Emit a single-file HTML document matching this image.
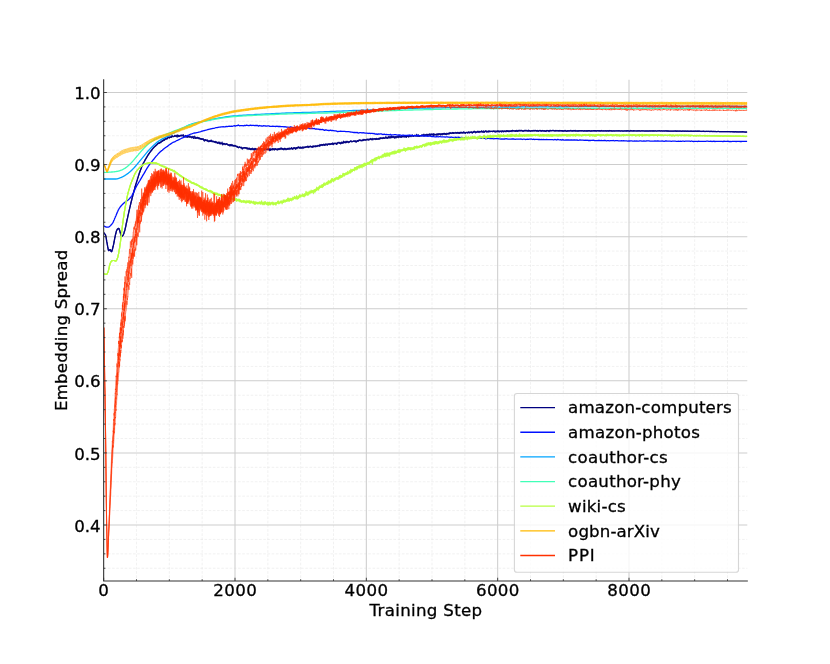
<!DOCTYPE html>
<html><head><meta charset="utf-8"><title>Embedding Spread</title>
<style>
html,body{margin:0;padding:0;background:#fff;}
svg{display:block;}
text{font-family:"DejaVu Sans","Liberation Sans",sans-serif;font-size:16.67px;fill:#000;stroke:#000;stroke-width:0.3px;}
.mg{stroke:#d8d8d8;stroke-width:0.7;stroke-dasharray:2.6 1.6;stroke-opacity:0.5;}
.Mg{stroke:#cdcdcd;stroke-width:1.05;}
.tk{stroke:#333;stroke-width:0.9;}
</style></head><body>
<svg width="830" height="664" viewBox="0 0 830 664">
<rect width="830" height="664" fill="#fff"/>
<g><line x1="136.49" y1="79.7" x2="136.49" y2="580.95" class="mg"/>
<line x1="169.33" y1="79.7" x2="169.33" y2="580.95" class="mg"/>
<line x1="202.16" y1="79.7" x2="202.16" y2="580.95" class="mg"/>
<line x1="267.83" y1="79.7" x2="267.83" y2="580.95" class="mg"/>
<line x1="300.66" y1="79.7" x2="300.66" y2="580.95" class="mg"/>
<line x1="333.50" y1="79.7" x2="333.50" y2="580.95" class="mg"/>
<line x1="399.17" y1="79.7" x2="399.17" y2="580.95" class="mg"/>
<line x1="432.00" y1="79.7" x2="432.00" y2="580.95" class="mg"/>
<line x1="464.83" y1="79.7" x2="464.83" y2="580.95" class="mg"/>
<line x1="530.50" y1="79.7" x2="530.50" y2="580.95" class="mg"/>
<line x1="563.34" y1="79.7" x2="563.34" y2="580.95" class="mg"/>
<line x1="596.17" y1="79.7" x2="596.17" y2="580.95" class="mg"/>
<line x1="661.84" y1="79.7" x2="661.84" y2="580.95" class="mg"/>
<line x1="694.67" y1="79.7" x2="694.67" y2="580.95" class="mg"/>
<line x1="727.51" y1="79.7" x2="727.51" y2="580.95" class="mg"/>
<line x1="103.66" y1="568.25" x2="747.3" y2="568.25" class="mg"/>
<line x1="103.66" y1="553.83" x2="747.3" y2="553.83" class="mg"/>
<line x1="103.66" y1="539.41" x2="747.3" y2="539.41" class="mg"/>
<line x1="103.66" y1="510.58" x2="747.3" y2="510.58" class="mg"/>
<line x1="103.66" y1="496.16" x2="747.3" y2="496.16" class="mg"/>
<line x1="103.66" y1="481.75" x2="747.3" y2="481.75" class="mg"/>
<line x1="103.66" y1="467.33" x2="747.3" y2="467.33" class="mg"/>
<line x1="103.66" y1="438.50" x2="747.3" y2="438.50" class="mg"/>
<line x1="103.66" y1="424.08" x2="747.3" y2="424.08" class="mg"/>
<line x1="103.66" y1="409.67" x2="747.3" y2="409.67" class="mg"/>
<line x1="103.66" y1="395.25" x2="747.3" y2="395.25" class="mg"/>
<line x1="103.66" y1="366.42" x2="747.3" y2="366.42" class="mg"/>
<line x1="103.66" y1="352.00" x2="747.3" y2="352.00" class="mg"/>
<line x1="103.66" y1="337.58" x2="747.3" y2="337.58" class="mg"/>
<line x1="103.66" y1="323.17" x2="747.3" y2="323.17" class="mg"/>
<line x1="103.66" y1="294.33" x2="747.3" y2="294.33" class="mg"/>
<line x1="103.66" y1="279.92" x2="747.3" y2="279.92" class="mg"/>
<line x1="103.66" y1="265.50" x2="747.3" y2="265.50" class="mg"/>
<line x1="103.66" y1="251.08" x2="747.3" y2="251.08" class="mg"/>
<line x1="103.66" y1="222.25" x2="747.3" y2="222.25" class="mg"/>
<line x1="103.66" y1="207.83" x2="747.3" y2="207.83" class="mg"/>
<line x1="103.66" y1="193.42" x2="747.3" y2="193.42" class="mg"/>
<line x1="103.66" y1="179.00" x2="747.3" y2="179.00" class="mg"/>
<line x1="103.66" y1="150.17" x2="747.3" y2="150.17" class="mg"/>
<line x1="103.66" y1="135.75" x2="747.3" y2="135.75" class="mg"/>
<line x1="103.66" y1="121.33" x2="747.3" y2="121.33" class="mg"/>
<line x1="103.66" y1="106.92" x2="747.3" y2="106.92" class="mg"/>
<line x1="235.00" y1="79.7" x2="235.00" y2="580.95" class="Mg"/>
<line x1="366.33" y1="79.7" x2="366.33" y2="580.95" class="Mg"/>
<line x1="497.67" y1="79.7" x2="497.67" y2="580.95" class="Mg"/>
<line x1="629.00" y1="79.7" x2="629.00" y2="580.95" class="Mg"/>
<line x1="103.66" y1="525.00" x2="747.3" y2="525.00" class="Mg"/>
<line x1="103.66" y1="452.92" x2="747.3" y2="452.92" class="Mg"/>
<line x1="103.66" y1="380.83" x2="747.3" y2="380.83" class="Mg"/>
<line x1="103.66" y1="308.75" x2="747.3" y2="308.75" class="Mg"/>
<line x1="103.66" y1="236.67" x2="747.3" y2="236.67" class="Mg"/>
<line x1="103.66" y1="164.58" x2="747.3" y2="164.58" class="Mg"/>
<line x1="103.66" y1="92.50" x2="747.3" y2="92.50" class="Mg"/></g>
<clipPath id="c"><rect x="103.66" y="79.7" width="643.64" height="501.25000000000006"/></clipPath>
<g clip-path="url(#c)">
<path d="M103.9,233.0 104.1,233.1 104.4,233.2 104.6,233.4 104.8,233.8 105.0,234.1 105.3,234.5 105.5,235.0 105.7,235.7 105.9,236.7 106.2,237.9 106.4,239.2 106.6,240.6 106.8,241.9 107.1,243.2 107.3,244.3 107.5,245.5 107.7,246.9 108.0,248.1 108.2,249.2 108.4,250.1 108.6,250.5 108.9,250.5 109.1,250.4 109.3,250.2 109.5,250.0 109.8,249.8 110.0,249.6 110.2,249.6 110.4,249.8 110.7,250.3 110.9,250.9 111.1,251.4 111.3,251.7 111.6,251.6 111.8,251.3 112.0,250.7 112.2,250.0 112.5,249.1 112.7,248.2 112.9,247.3 113.2,246.3 113.4,245.4 113.6,244.4 113.8,243.3 114.1,242.0 114.3,240.8 114.5,239.6 114.7,238.3 115.0,237.3 115.2,236.3 115.4,235.2 115.6,234.2 115.9,233.3 116.1,232.3 116.3,231.5 116.5,230.8 116.8,230.3 117.0,229.9 117.2,229.5 117.4,229.3 117.7,229.0 117.9,228.8 118.1,228.6 118.3,228.5 118.6,228.4 118.8,228.5 119.0,228.7 119.2,229.2 119.5,229.9 119.7,230.6 119.9,231.2 120.1,232.0 120.4,233.0 120.6,234.1 120.8,235.1 121.0,235.8 121.3,236.3 121.5,236.4 121.7,236.4 122.0,236.2 122.2,236.1 122.4,235.9 122.6,235.7 122.9,235.4 123.1,235.1 123.3,234.8 123.5,234.2 123.8,233.7 124.0,233.0 124.2,232.2 124.4,231.5 124.7,230.7 124.9,230.0 125.1,229.1 125.3,228.2 125.6,227.1 125.8,226.1 126.0,224.9 126.2,223.8 126.5,222.8 126.7,221.7 126.9,220.7 127.1,219.7 127.4,218.6 127.6,217.6 127.8,216.6 128.0,215.6 128.3,214.5 128.5,213.5 128.7,212.6 128.9,211.6 129.2,210.5 129.4,209.5 129.6,208.6 129.8,207.5 130.1,206.6 130.3,205.6 130.5,204.8 130.7,203.8 131.0,202.8 131.2,201.9 131.4,201.0 131.7,199.9 131.9,199.1 132.1,198.2 132.3,197.2 132.6,196.5 132.8,195.4 133.0,194.7 133.2,193.7 133.5,193.0 133.7,192.1 133.9,191.1 134.1,190.5 134.4,189.6 134.6,188.7 134.8,187.9 135.0,187.1 135.3,186.3 135.5,185.6 135.7,184.7 135.9,184.0 136.2,183.2 136.4,182.5 136.6,181.7 136.8,181.2 137.1,180.4 137.3,179.7 137.5,178.9 137.7,178.2 138.0,177.5 138.2,176.8 138.4,176.1 138.6,175.4 138.9,174.7 139.1,173.9 139.3,173.3 139.5,172.8 139.8,172.0 140.0,171.3 140.6,169.8 141.2,168.3 141.8,166.5 142.4,165.3 143.0,163.9 143.6,162.6 144.3,161.6 144.9,160.4 145.5,159.3 146.1,158.2 146.7,157.3 147.3,156.2 147.9,155.3 148.5,154.3 149.1,153.4 149.7,152.8 150.3,151.7 150.9,151.0 151.6,150.1 152.2,149.3 152.8,148.6 153.4,148.1 154.0,147.3 154.6,146.7 155.2,146.2 155.8,145.9 156.4,145.3 157.0,144.7 157.6,144.0 158.2,143.3 158.8,143.5 159.5,143.1 160.1,142.3 160.7,142.2 161.3,141.9 161.9,141.5 162.5,141.1 163.1,140.2 163.7,140.6 164.3,139.1 164.9,139.7 165.5,139.2 166.1,139.1 166.7,139.2 167.4,138.8 168.0,137.4 168.6,137.0 169.2,137.9 169.8,136.9 170.4,137.2 171.0,137.4 171.6,136.1 172.2,135.8 172.8,136.7 173.4,136.5 174.0,136.3 174.7,136.3 175.3,135.8 175.9,135.5 176.5,136.0 177.1,135.6 177.7,135.2 178.3,136.1 178.9,135.8 179.5,136.0 180.1,135.3 180.7,135.4 181.3,135.3 181.9,135.3 182.6,135.8 183.2,135.4 183.8,136.0 184.4,136.1 185.0,137.0 185.6,135.5 186.2,136.7 186.8,136.4 187.4,136.6 188.0,136.0 188.6,136.6 189.2,137.2 189.8,137.0 190.5,137.1 191.1,137.0 191.7,137.8 192.3,137.3 192.9,136.4 193.5,137.2 194.1,136.7 194.7,136.2 195.3,137.5 195.9,138.4 196.5,137.9 197.1,137.4 197.8,137.7 198.4,138.7 199.0,138.4 199.6,138.4 200.2,138.5 200.8,138.7 201.4,139.3 202.0,139.3 202.6,139.4 203.2,139.0 203.8,139.9 204.4,139.6 205.0,140.5 205.7,139.6 206.3,140.3 206.9,140.5 207.5,140.0 208.1,141.5 208.7,141.5 209.3,140.8 209.9,141.5 210.5,141.4 211.1,140.1 211.7,141.6 212.3,141.5 212.9,141.7 213.6,141.3 214.2,141.8 214.8,141.9 215.4,142.7 216.0,142.4 216.6,142.4 217.2,143.2 217.8,142.3 218.4,142.5 219.0,142.0 219.6,143.7 220.2,143.5 220.9,143.6 221.5,143.6 222.1,143.5 222.7,143.6 223.3,143.5 223.9,143.7 224.5,143.9 225.1,144.7 225.7,144.4 226.3,144.2 226.9,144.1 227.5,144.2 228.1,145.3 228.8,145.0 229.4,144.9 230.0,144.8 230.6,144.6 231.2,145.2 231.8,145.8 232.4,145.3 233.0,145.5 233.6,145.6 234.2,145.9 234.8,145.3 235.4,146.1 236.0,146.0 236.7,147.0 237.3,146.4 237.9,147.2 238.5,147.8 239.1,147.1 239.7,147.1 240.3,147.5 240.9,147.5 241.5,147.2 242.1,147.9 242.7,148.8 243.3,147.8 244.0,147.9 244.6,147.6 245.2,148.3 245.8,147.6 246.4,147.8 247.0,149.0 247.6,148.0 248.2,149.0 248.8,149.3 249.4,148.7 250.0,148.9 250.6,149.6 251.2,148.7 251.9,148.6 252.5,148.2 253.1,148.9 253.7,149.6 254.3,149.4 254.9,148.6 255.5,148.6 256.1,148.8 256.7,149.2 257.3,149.0 257.9,149.2 258.5,149.3 259.1,149.0 259.8,149.1 260.4,149.3 261.0,149.1 261.6,149.4 262.2,150.1 262.8,149.5 263.4,149.3 264.0,148.5 264.6,149.4 265.2,148.4 265.8,148.6 266.4,149.7 267.1,149.6 267.7,149.2 268.3,148.5 268.9,149.1 269.5,149.0 270.1,149.6 270.7,150.4 271.3,149.4 271.9,148.9 272.5,148.7 273.1,149.2 273.7,149.2 274.3,148.7 275.0,149.3 275.6,148.7 276.2,149.7 276.8,149.7 277.4,149.7 278.0,149.0 278.6,149.4 279.2,149.1 279.8,148.9 280.4,149.0 281.0,148.5 281.6,148.4 282.3,149.4 282.9,148.9 283.5,149.1 284.1,149.5 284.7,148.2 285.3,148.6 285.9,149.0 286.5,149.1 287.1,148.7 287.7,149.3 288.3,148.8 288.9,148.1 289.5,148.2 290.2,149.0 290.8,148.7 291.4,147.6 292.0,149.0 292.6,148.6 293.2,148.9 293.8,148.0 294.4,148.0 295.0,147.6 295.6,149.3 296.2,147.9 296.8,148.7 297.4,147.6 298.1,147.9 298.7,147.0 299.3,147.5 299.9,148.2 300.5,147.0 301.1,148.1 301.7,147.7 302.3,147.0 302.9,147.2 303.5,147.2 304.1,147.4 304.7,147.1 305.4,146.9 306.0,147.1 306.6,146.7 307.2,146.5 307.8,147.1 308.4,147.5 309.0,146.3 309.6,146.9 310.2,146.6 310.8,146.3 311.4,147.2 312.0,146.4 312.6,147.3 313.3,146.2 313.9,146.6 314.5,146.3 315.1,145.9 315.7,146.5 316.3,146.1 316.9,146.3 317.5,145.9 318.1,145.3 318.7,145.7 319.3,145.7 319.9,146.1 320.5,145.1 321.2,145.4 321.8,144.5 322.4,145.5 323.0,144.6 323.6,144.2 324.2,144.9 324.8,145.4 325.4,144.0 326.0,144.2 326.6,144.2 327.2,144.0 327.8,144.6 328.5,144.0 329.1,143.9 329.7,144.5 330.3,143.8 330.9,144.3 331.5,143.5 332.1,143.3 332.7,142.9 333.3,144.7 333.9,143.5 334.5,143.7 335.1,143.5 335.7,143.5 336.4,143.4 337.0,144.2 337.6,142.7 338.2,142.4 338.8,142.6 339.4,142.4 340.0,143.3 340.6,143.3 341.2,142.3 341.8,142.1 342.4,142.5 343.0,143.3 343.6,141.2 344.3,142.7 344.9,141.9 345.5,142.8 346.1,141.7 346.7,142.0 347.3,141.4 347.9,141.6 348.5,142.7 349.1,142.3 349.7,141.6 350.3,141.4 350.9,140.8 351.6,141.4 352.2,141.6 352.8,141.5 353.4,141.4 354.0,140.8 354.6,141.3 355.2,141.2 355.8,141.8 356.4,142.0 357.0,141.0 357.6,140.6 358.2,140.9 358.8,140.5 359.5,140.4 360.1,140.7 360.7,140.1 361.3,140.9 361.9,140.5 362.5,140.6 363.1,140.3 363.7,139.9 364.3,139.8 364.9,140.1 365.5,139.8 366.1,140.2 366.7,140.0 367.4,139.2 368.0,139.9 368.6,139.1 369.2,139.4 369.8,139.5 370.4,138.5 371.0,139.5 371.6,139.5 372.2,139.3 372.8,139.1 373.4,139.0 374.0,138.7 374.7,138.9 375.3,138.7 375.9,139.0 376.5,138.3 377.1,138.9 377.7,138.8 378.3,138.6 378.9,138.4 379.5,138.8 380.1,137.6 380.7,138.6 381.3,138.4 381.9,138.4 382.6,138.4 383.2,137.8 383.8,137.9 384.4,138.3 385.0,138.1 385.6,138.0 386.2,137.1 386.8,138.0 387.4,138.3 388.0,138.1 388.6,137.7 389.2,136.7 389.9,137.9 390.5,137.3 391.1,136.1 391.7,137.5 392.3,136.5 392.9,136.5 393.5,136.8 394.1,137.7 394.7,136.9 395.3,137.1 395.9,137.8 396.5,137.7 397.1,136.8 397.8,136.7 398.4,136.2 399.0,136.4 399.6,136.9 400.2,136.9 400.8,136.7 401.4,137.1 402.0,136.2 402.6,136.5 403.2,136.8 403.8,136.7 404.4,136.9 405.0,136.6 405.7,136.2 406.3,136.5 406.9,135.8 407.5,135.4 408.1,136.5 408.7,136.1 409.3,136.3 409.9,135.3 410.5,135.9 411.1,135.7 411.7,135.6 412.3,134.8 413.0,135.8 413.6,136.3 414.2,136.0 414.8,135.5 415.4,135.8 416.0,136.1 416.6,134.3 417.2,135.6 417.8,135.9 418.4,135.9 419.0,136.4 419.6,136.1 420.2,135.6 420.9,135.6 421.5,135.8 422.1,135.1 422.7,135.3 423.3,135.7 423.9,136.2 424.5,135.1 425.1,135.1 425.7,135.2 426.3,135.7 426.9,135.0 427.5,135.7 428.1,134.5 428.8,134.8 429.4,134.8 430.0,135.2 430.6,135.3 431.2,134.0 431.8,134.3 432.4,134.8 433.0,134.3 433.6,133.8 434.2,135.0 434.8,134.7 435.4,134.7 436.1,134.2 436.7,134.8 437.3,134.2 437.9,134.8 438.5,133.8 439.1,133.8 439.7,134.2 440.3,133.8 440.9,134.4 441.5,134.1 442.1,133.6 442.7,134.0 443.3,133.7 444.0,134.3 444.6,133.5 445.2,133.6 445.8,134.3 446.4,134.7 447.0,134.5 447.6,133.6 448.2,133.6 448.8,134.2 449.4,133.4 450.0,133.0 450.6,133.4 451.2,133.5 451.9,132.9 452.5,132.5 453.1,132.6 453.7,133.4 454.3,132.8 454.9,133.0 455.5,133.1 456.1,133.2 456.7,132.8 457.3,133.1 457.9,132.5 458.5,132.7 459.2,132.3 459.8,133.2 460.4,132.7 461.0,132.4 461.6,132.5 462.2,132.5 462.8,132.9 463.4,131.9 464.0,132.1 464.6,132.3 465.2,133.5 465.8,132.8 466.4,132.3 467.1,132.6 467.7,133.2 468.3,132.2 468.9,132.1 469.5,132.7 470.1,132.4 470.7,132.4 471.3,131.9 471.9,132.9 472.5,132.8 473.1,132.3 473.7,132.3 474.3,131.2 475.0,132.2 475.6,131.9 476.2,132.1 476.8,132.2 477.4,131.8 478.0,131.2 478.6,132.0 479.2,131.5 479.8,131.7 480.4,131.5 481.0,131.6 481.6,130.8 482.3,132.2 482.9,131.8 483.5,132.1 484.1,132.4 484.7,131.6 485.3,130.9 485.9,131.2 486.5,131.1 487.1,131.4 487.7,131.6 488.3,130.8 488.9,131.6 489.5,130.9 490.2,131.6 490.8,131.4 491.4,131.3 492.0,131.4 492.6,131.2 493.2,131.2 493.8,130.8 494.4,131.3 495.0,132.0 495.6,132.0 496.2,131.8 496.8,131.6 497.4,131.0 498.1,131.8 498.7,131.2 499.3,131.2 499.9,131.1 500.5,131.3 501.1,131.1 501.7,131.2 502.3,130.8 502.9,131.0 503.5,131.9 504.1,131.1 504.7,131.0 505.4,131.3 506.0,131.3 506.6,130.7 507.2,131.0 507.8,131.4 508.4,131.1 509.0,131.1 509.6,131.6 510.2,130.8 510.8,131.0 511.4,130.8 512.0,131.5 512.6,130.3 513.3,130.7 513.9,130.8 514.5,131.2 515.1,131.1 515.7,131.4 516.3,130.4 516.9,131.1 517.5,130.8 518.1,130.7 518.7,131.1 519.3,130.6 519.9,130.2 520.6,130.7 521.2,130.4 521.8,130.6 522.4,131.0 523.0,130.9 523.6,131.3 524.2,130.8 524.8,130.3 525.4,130.6 526.0,130.5 526.6,130.4 527.2,130.9 527.8,130.6 528.5,130.2 529.1,131.0 529.7,130.8 530.3,130.9 530.9,130.8 531.5,131.0 532.1,130.8 532.7,131.2 533.3,130.9 533.9,130.9 534.5,130.9 535.1,130.4 535.7,130.8 536.4,130.7 537.0,130.9 537.6,130.4 538.2,131.3 538.8,130.8 539.4,130.5 540.0,130.3 540.6,130.7 541.2,130.8 541.8,130.6 542.4,130.8 543.0,130.6 543.7,131.0 544.3,130.6 544.9,130.8 545.5,131.1 546.1,131.5 546.7,130.5 547.3,130.7 547.9,130.6 548.5,131.0 549.1,130.5 549.7,130.7 550.3,130.8 550.9,130.6 551.6,130.6 552.2,130.7 552.8,130.3 553.4,130.4 554.0,130.7 554.6,130.8 555.2,130.8 555.8,130.4 556.4,130.7 557.0,131.0 557.6,130.9 558.2,130.8 558.8,130.6 559.5,131.0 560.1,130.7 560.7,130.5 561.3,130.6 561.9,131.1 562.5,130.9 563.1,131.1 563.7,130.7 564.3,131.0 564.9,130.7 565.5,130.8 566.1,131.4 566.8,131.0 567.4,130.7 568.0,130.8 568.6,130.9 569.2,131.1 569.8,130.7 570.4,130.4 571.0,130.8 571.6,130.8 572.2,130.8 572.8,131.1 573.4,130.9 574.0,131.0 574.7,130.6 575.3,131.0 575.9,131.2 576.5,131.0 577.1,130.9 577.7,130.9 578.3,131.2 578.9,130.6 579.5,130.8 580.1,130.9 580.7,131.0 581.3,130.7 581.9,130.9 582.6,130.8 583.2,130.8 583.8,130.8 584.4,130.6 585.0,130.8 585.6,131.0 586.2,130.7 586.8,130.8 587.4,130.9 588.0,130.6 588.6,130.9 589.2,130.6 589.9,131.0 590.5,131.2 591.1,131.2 591.7,130.8 592.3,131.0 592.9,130.9 593.5,130.9 594.1,131.1 594.7,130.6 595.3,131.0 595.9,130.8 596.5,131.1 597.1,130.9 597.8,130.7 598.4,130.9 599.0,131.0 599.6,130.8 600.2,130.9 600.8,130.8 601.4,130.5 602.0,131.0 602.6,130.9 603.2,130.9 603.8,130.9 604.4,131.0 605.0,130.8 605.7,130.7 606.3,130.8 606.9,131.0 607.5,130.7 608.1,131.0 608.7,130.8 609.3,130.7 609.9,131.0 610.5,130.8 611.1,130.7 611.7,130.8 612.3,131.0 613.0,131.0 613.6,130.8 614.2,130.9 614.8,131.0 615.4,130.8 616.0,130.9 616.6,130.9 617.2,130.8 617.8,130.8 618.4,130.9 619.0,130.9 619.6,130.8 620.2,130.8 620.9,131.0 621.5,130.9 622.1,131.0 622.7,131.0 623.3,131.0 623.9,131.2 624.5,130.8 625.1,131.0 625.7,130.8 626.3,131.1 626.9,131.1 627.5,130.6 628.2,130.8 628.8,131.0 629.4,131.0 630.0,131.0 630.6,130.9 631.2,130.9 631.8,131.0 632.4,130.9 633.0,131.0 633.6,130.6 634.2,131.0 634.8,130.8 635.4,131.0 636.1,130.9 636.7,130.8 637.3,130.9 637.9,130.8 638.5,130.8 639.1,130.7 639.7,130.9 640.3,131.0 640.9,131.0 641.5,130.9 642.1,131.0 642.7,130.9 643.3,130.9 644.0,131.0 644.6,131.0 645.2,130.9 645.8,130.9 646.4,130.9 647.0,130.9 647.6,130.8 648.2,131.0 648.8,130.9 649.4,131.0 650.0,130.8 650.6,131.0 651.3,131.0 651.9,130.9 652.5,131.2 653.1,131.0 653.7,131.1 654.3,131.1 654.9,130.9 655.5,130.9 656.1,131.0 656.7,131.0 657.3,131.0 657.9,130.9 658.5,130.8 659.2,130.9 659.8,130.7 660.4,131.0 661.0,130.9 661.6,130.9 662.2,131.0 662.8,131.0 663.4,130.8 664.0,130.8 664.6,130.9 665.2,130.8 665.8,130.9 666.4,131.2 667.1,130.9 667.7,131.1 668.3,130.9 668.9,131.1 669.5,131.0 670.1,131.0 670.7,131.1 671.3,131.2 671.9,131.1 672.5,131.1 673.1,131.0 673.7,131.1 674.4,131.1 675.0,131.2 675.6,131.1 676.2,131.3 676.8,130.9 677.4,131.1 678.0,131.2 678.6,131.1 679.2,131.0 679.8,131.1 680.4,131.0 681.0,131.1 681.6,131.4 682.3,131.2 682.9,131.0 683.5,131.1 684.1,131.1 684.7,131.3 685.3,131.1 685.9,131.1 686.5,131.3 687.1,131.3 687.7,131.2 688.3,131.1 688.9,131.1 689.5,131.1 690.2,131.0 690.8,131.3 691.4,131.2 692.0,131.3 692.6,131.4 693.2,131.3 693.8,131.1 694.4,131.3 695.0,131.4 695.6,131.2 696.2,131.2 696.8,131.3 697.5,131.1 698.1,131.4 698.7,131.1 699.3,131.2 699.9,131.3 700.5,131.3 701.1,131.3 701.7,131.3 702.3,131.3 702.9,131.4 703.5,131.2 704.1,131.3 704.7,131.3 705.4,131.4 706.0,131.4 706.6,131.3 707.2,131.3 707.8,131.4 708.4,131.4 709.0,131.3 709.6,131.6 710.2,131.6 710.8,131.3 711.4,131.4 712.0,131.6 712.6,131.5 713.3,131.5 713.9,131.4 714.5,131.4 715.1,131.5 715.7,131.4 716.3,131.5 716.9,131.5 717.5,131.5 718.1,131.4 718.7,131.5 719.3,131.5 719.9,131.5 720.6,131.6 721.2,131.6 721.8,131.6 722.4,131.6 723.0,131.6 723.6,131.6 724.2,131.6 724.8,131.7 725.4,131.6 726.0,131.7 726.6,131.6 727.2,131.6 727.8,131.6 728.5,131.6 729.1,131.7 729.7,131.6 730.3,131.8 730.9,131.7 731.5,131.6 732.1,131.7 732.7,131.6 733.3,131.7 733.9,131.8 734.5,131.8 735.1,131.7 735.7,131.7 736.4,131.9 737.0,131.8 737.6,131.8 738.2,131.9 738.8,132.0 739.4,131.9 740.0,131.9 740.6,131.9 741.2,131.9 741.8,131.9 742.4,131.9 743.0,131.9 743.7,131.9 744.3,131.9 744.9,132.0 745.5,132.1 746.1,131.9 746.7,132.0 747.3,132.0" fill="none" stroke="#000080" stroke-width="1.25" stroke-opacity="0.9" stroke-linejoin="round"/>
<path d="M103.9,233.0 104.1,233.1 104.4,233.2 104.6,233.4 104.8,233.8 105.0,234.1 105.3,234.5 105.5,235.0 105.7,235.7 105.9,236.7 106.2,237.9 106.4,239.2 106.6,240.6 106.8,241.9 107.1,243.2 107.3,244.3 107.5,245.6 107.7,246.8 108.0,248.1 108.2,249.3 108.4,250.1 108.6,250.5 108.9,250.5 109.1,250.3 109.3,250.2 109.5,249.9 109.8,249.8 110.0,249.6 110.2,249.6 110.4,249.8 110.7,250.3 110.9,250.9 111.1,251.4 111.3,251.7 111.6,251.6 111.8,251.3 112.0,250.7 112.2,250.0 112.5,249.1 112.7,248.2 112.9,247.2 113.2,246.3 113.4,245.4 113.6,244.4 113.8,243.2 114.1,242.0 114.3,240.8 114.5,239.6 114.7,238.4 115.0,237.2 115.2,236.2 115.4,235.2 115.6,234.3 115.9,233.3 116.1,232.3 116.3,231.5 116.5,230.8 116.8,230.2 117.0,229.9 117.2,229.5 117.4,229.2 117.7,229.1 117.9,228.8 118.1,228.6 118.3,228.5 118.6,228.5 118.8,228.4 119.0,228.7 119.2,229.2 119.5,229.9 119.7,230.6 119.9,231.3 120.1,232.1 120.4,233.1 120.6,234.1 120.8,235.1 121.0,235.8 121.3,236.3 121.5,236.4 121.7,236.3 122.0,236.3 122.2,236.1 122.4,235.9 122.6,235.7 122.9,235.5 123.1,235.2 123.3,234.8 123.5,234.3 123.8,233.7 124.0,232.9 124.2,232.2 124.4,231.5 124.7,230.7 124.9,230.0 125.1,229.1 125.3,228.1 125.6,227.1 125.8,226.2 126.0,225.0 126.2,223.8 126.5,222.8 126.7,221.7 126.9,220.6 127.1,219.7 127.4,218.6 127.6,217.6 127.8,216.6 128.0,215.6 128.3,214.5 128.5,213.6 128.7,212.5 128.9,211.7 129.2,210.5 129.4,209.6 129.6,208.5 129.8,207.6 130.1,206.7 130.3,205.7 130.5,204.8 130.7,203.8 131.0,202.8 131.2,201.9 131.4,201.0 131.7,200.1 131.9,199.2 132.1,198.2 132.3,197.4 132.6,196.5 132.8,195.5 133.0,194.6 133.2,193.7 133.5,192.8 133.7,192.2 133.9,191.2 134.1,190.5 134.4,189.6 134.6,188.8 134.8,188.0 135.0,187.1 135.3,186.3 135.5,185.5 135.7,184.8 135.9,184.0 136.2,183.3 136.4,182.7 136.6,181.7 136.8,181.1 137.1,180.3 137.3,179.7 137.5,179.0 137.7,178.2 138.0,177.6 138.2,176.7 138.4,176.2 138.6,175.4 138.9,174.8 139.1,174.1 139.3,173.2 139.5,172.6 139.8,172.1 140.0,171.5 140.6,169.8 141.2,168.2 141.8,166.5 142.4,165.4 143.0,164.1 143.6,162.7 144.3,161.5 144.9,160.3 145.5,159.4 146.1,158.5 146.7,157.3 147.3,156.4 147.9,155.4 148.5,154.3 149.1,153.7 149.7,152.5 150.3,151.8 150.9,151.0 151.6,150.3 152.2,149.4 152.8,148.7 153.4,147.8 154.0,147.1 154.6,146.7 155.2,146.0 155.8,145.3 156.4,144.8 157.0,144.5 157.6,143.6 158.2,143.3 158.8,142.7 159.5,142.9 160.1,142.5 160.7,142.7 161.3,141.0 161.9,140.9 162.5,141.1 163.1,140.3 163.7,139.9 164.3,140.4 164.9,139.1 165.5,138.4 166.1,138.1 166.7,138.5 167.4,138.3 168.0,137.3 168.6,137.3 169.2,137.8 169.8,137.6 170.4,136.9 171.0,137.3 171.6,137.1 172.2,135.9 172.8,136.5 173.4,136.7 174.0,136.1 174.7,135.3 175.3,136.1 175.9,136.5 176.5,136.8 177.1,135.0 177.7,137.1 178.3,135.4 178.9,136.3 179.5,136.3 180.1,136.2 180.7,135.8 181.3,135.2 181.9,136.0 182.6,135.4 183.2,134.6 183.8,137.1 184.4,136.3 185.0,136.9 185.6,135.8 186.2,137.0 186.8,137.2 187.4,137.3 188.0,136.7 188.6,136.3 189.2,136.8 189.8,136.0 190.5,136.3 191.1,137.2 191.7,136.8 192.3,137.3 192.9,137.4 193.5,138.4 194.1,138.2 194.7,137.6 195.3,138.3 195.9,137.4 196.5,137.7 197.1,138.4 197.8,137.5 198.4,138.1 199.0,137.7 199.6,138.5 200.2,139.3 200.8,138.4 201.4,139.0 202.0,138.7 202.6,138.8 203.2,138.9 203.8,140.4 204.4,141.0 205.0,140.3 205.7,139.9 206.3,140.6 206.9,140.3 207.5,141.0 208.1,140.9 208.7,141.0 209.3,141.3 209.9,140.8 210.5,141.0 211.1,140.5 211.7,141.2 212.3,140.9 212.9,141.6 213.6,141.4 214.2,141.9 214.8,142.2 215.4,141.5 216.0,141.9 216.6,141.9 217.2,142.8 217.8,143.4 218.4,143.1 219.0,142.7 219.6,143.6 220.2,142.4 220.9,143.9 221.5,143.0 222.1,142.1 222.7,144.8 223.3,144.4 223.9,143.3 224.5,144.0 225.1,143.9 225.7,144.2 226.3,143.6 226.9,144.0 227.5,144.7 228.1,144.7 228.8,145.3 229.4,144.9 230.0,146.1 230.6,144.8 231.2,145.3 231.8,144.5 232.4,144.9 233.0,146.2 233.6,145.3 234.2,146.1 234.8,146.0 235.4,145.7 236.0,146.2 236.7,146.3 237.3,146.5 237.9,147.3 238.5,147.4 239.1,146.9 239.7,146.9 240.3,147.6 240.9,147.5 241.5,148.1 242.1,149.0 242.7,148.2 243.3,147.9 244.0,147.9 244.6,147.7 245.2,147.7 245.8,147.8 246.4,148.1 247.0,148.2 247.6,148.8 248.2,148.3 248.8,148.5 249.4,148.1 250.0,149.4 250.6,149.0 251.2,149.6 251.9,149.2 252.5,149.6 253.1,148.8 253.7,149.3 254.3,150.2 254.9,148.4 255.5,149.6 256.1,149.8 256.7,149.3 257.3,149.4 257.9,149.7 258.5,148.8 259.1,149.3 259.8,148.7 260.4,148.8 261.0,148.9 261.6,149.1 262.2,149.3 262.8,149.4 263.4,148.6 264.0,150.2 264.6,149.8 265.2,149.6 265.8,149.1 266.4,149.2 267.1,149.6 267.7,149.5 268.3,148.5 268.9,149.7 269.5,150.7 270.1,148.4 270.7,149.8 271.3,149.5 271.9,149.2 272.5,149.9 273.1,148.7 273.7,149.3 274.3,150.0 275.0,149.2 275.6,149.0 276.2,149.3 276.8,149.0 277.4,149.9 278.0,148.7 278.6,149.6 279.2,148.5 279.8,149.5 280.4,149.1 281.0,147.8 281.6,149.1 282.3,148.5 282.9,148.8 283.5,149.8 284.1,148.5 284.7,148.5 285.3,149.6 285.9,149.0 286.5,149.6 287.1,149.0 287.7,148.4 288.3,148.7 288.9,149.3 289.5,149.1 290.2,148.6 290.8,148.6 291.4,148.4 292.0,148.1 292.6,149.3 293.2,148.3 293.8,147.7 294.4,147.9 295.0,148.5 295.6,148.4 296.2,147.9 296.8,147.6 297.4,147.9 298.1,147.0 298.7,147.1 299.3,148.1 299.9,147.5 300.5,147.8 301.1,148.2 301.7,147.9 302.3,147.5 302.9,148.5 303.5,147.8 304.1,147.2 304.7,147.7 305.4,147.5 306.0,146.8 306.6,147.2 307.2,147.1 307.8,146.1 308.4,147.0 309.0,146.9 309.6,146.7 310.2,146.1 310.8,146.6 311.4,146.7 312.0,146.7 312.6,146.1 313.3,146.8 313.9,145.9 314.5,146.3 315.1,146.9 315.7,145.9 316.3,145.9 316.9,146.6 317.5,145.8 318.1,145.7 318.7,145.9 319.3,146.2 319.9,144.5 320.5,145.1 321.2,144.9 321.8,144.8 322.4,144.8 323.0,144.7 323.6,145.2 324.2,144.5 324.8,144.9 325.4,145.0 326.0,144.3 326.6,144.7 327.2,145.3 327.8,144.6 328.5,144.0 329.1,144.2 329.7,143.8 330.3,144.3 330.9,144.5 331.5,143.6 332.1,143.8 332.7,144.4 333.3,143.5 333.9,143.8 334.5,143.1 335.1,143.1 335.7,143.2 336.4,144.4 337.0,143.1 337.6,143.0 338.2,142.9 338.8,143.0 339.4,143.3 340.0,143.0 340.6,143.9 341.2,142.9 341.8,143.4 342.4,142.8 343.0,142.9 343.6,141.8 344.3,142.4 344.9,142.4 345.5,142.2 346.1,141.2 346.7,142.6 347.3,141.9 347.9,141.8 348.5,141.9 349.1,141.8 349.7,142.0 350.3,141.2 350.9,141.3 351.6,141.8 352.2,141.6 352.8,141.3 353.4,141.2 354.0,141.0 354.6,141.3 355.2,141.8 355.8,140.7 356.4,141.8 357.0,141.4 357.6,140.7 358.2,141.3 358.8,140.1 359.5,139.9 360.1,140.1 360.7,140.4 361.3,140.4 361.9,140.3 362.5,140.5 363.1,139.3 363.7,140.5 364.3,139.5 364.9,139.8 365.5,139.9 366.1,139.5 366.7,139.3 367.4,139.4 368.0,139.8 368.6,140.1 369.2,140.0 369.8,139.1 370.4,139.2 371.0,139.0 371.6,139.6 372.2,138.4 372.8,139.9 373.4,139.0 374.0,138.8 374.7,139.2 375.3,139.5 375.9,139.1 376.5,139.4 377.1,138.9 377.7,139.3 378.3,139.3 378.9,138.5 379.5,139.2 380.1,138.5 380.7,138.4 381.3,137.9 381.9,138.1 382.6,138.6 383.2,137.5 383.8,138.4 384.4,138.2 385.0,138.1 385.6,136.8 386.2,137.8 386.8,138.1 387.4,137.3 388.0,137.7 388.6,136.4 389.2,137.8 389.9,137.1 390.5,137.8 391.1,136.4 391.7,137.6 392.3,137.1 392.9,137.6 393.5,136.7 394.1,136.8 394.7,138.2 395.3,136.6 395.9,136.6 396.5,136.8 397.1,136.4 397.8,137.4 398.4,137.6 399.0,136.4 399.6,135.8 400.2,137.2 400.8,137.2 401.4,137.0 402.0,137.1 402.6,136.1 403.2,136.4 403.8,135.8 404.4,135.7 405.0,136.9 405.7,136.0 406.3,137.4 406.9,136.3 407.5,135.9 408.1,136.6 408.7,137.1 409.3,136.4 409.9,135.5 410.5,136.2 411.1,136.7 411.7,135.7 412.3,135.6 413.0,136.4 413.6,136.0 414.2,135.3 414.8,135.6 415.4,135.4 416.0,135.9 416.6,135.8 417.2,136.3 417.8,136.0 418.4,134.8 419.0,135.8 419.6,136.0 420.2,135.7 420.9,136.0 421.5,135.1 422.1,134.9 422.7,135.8 423.3,134.8 423.9,134.2 424.5,135.7 425.1,134.8 425.7,135.0 426.3,134.4 426.9,134.4 427.5,134.4 428.1,134.8 428.8,135.1 429.4,133.8 430.0,135.2 430.6,134.2 431.2,134.2 431.8,135.0 432.4,134.6 433.0,133.9 433.6,135.4 434.2,134.1 434.8,134.6 435.4,134.5 436.1,135.1 436.7,134.1 437.3,134.8 437.9,133.9 438.5,134.8 439.1,133.8 439.7,134.0 440.3,135.0 440.9,134.2 441.5,134.1 442.1,135.0 442.7,134.1 443.3,133.5 444.0,134.2 444.6,133.3 445.2,134.3 445.8,134.3 446.4,133.4 447.0,133.3 447.6,133.7 448.2,133.5 448.8,133.1 449.4,133.7 450.0,132.5 450.6,133.2 451.2,133.1 451.9,133.2 452.5,133.4 453.1,132.6 453.7,133.4 454.3,133.0 454.9,132.8 455.5,132.4 456.1,132.5 456.7,133.1 457.3,132.5 457.9,132.9 458.5,133.3 459.2,133.2 459.8,133.4 460.4,132.6 461.0,132.2 461.6,133.1 462.2,132.7 462.8,133.0 463.4,132.5 464.0,133.0 464.6,132.8 465.2,132.7 465.8,132.6 466.4,132.5 467.1,132.4 467.7,132.4 468.3,132.7 468.9,132.0 469.5,132.9 470.1,132.2 470.7,132.6 471.3,132.1 471.9,132.0 472.5,132.9 473.1,131.9 473.7,131.5 474.3,131.7 475.0,131.9 475.6,132.8 476.2,132.0 476.8,132.3 477.4,131.5 478.0,132.0 478.6,132.1 479.2,132.5 479.8,131.5 480.4,132.0 481.0,131.9 481.6,131.3 482.3,131.7 482.9,131.6 483.5,130.8 484.1,131.9 484.7,131.8 485.3,131.4 485.9,131.1 486.5,132.1 487.1,131.7 487.7,131.9 488.3,132.0 488.9,131.3 489.5,131.8 490.2,131.4 490.8,131.4 491.4,131.4 492.0,131.4 492.6,131.8 493.2,131.4 493.8,131.3 494.4,131.3 495.0,131.5 495.6,131.0 496.2,131.1 496.8,131.3 497.4,131.1 498.1,131.2 498.7,131.0 499.3,132.0 499.9,131.7 500.5,131.4 501.1,131.2 501.7,132.0 502.3,131.3 502.9,131.1 503.5,131.3 504.1,131.2 504.7,131.6 505.4,131.1 506.0,131.8 506.6,130.8 507.2,131.3 507.8,130.7 508.4,131.7 509.0,130.9 509.6,131.0 510.2,131.3 510.8,131.4 511.4,130.6 512.0,130.9 512.6,130.5 513.3,131.0 513.9,130.9 514.5,130.8 515.1,130.7 515.7,130.8 516.3,130.7 516.9,131.1 517.5,131.4 518.1,130.3 518.7,130.8 519.3,130.7 519.9,131.0 520.6,130.6 521.2,130.8 521.8,130.5 522.4,131.1 523.0,130.9 523.6,130.8 524.2,130.9 524.8,130.7 525.4,130.3 526.0,131.0 526.6,130.9 527.2,130.8 527.8,131.1 528.5,131.2 529.1,130.5 529.7,130.6 530.3,131.3 530.9,131.2 531.5,130.6 532.1,130.5 532.7,130.6 533.3,130.7 533.9,130.3 534.5,130.8 535.1,130.4 535.7,130.5 536.4,131.1 537.0,130.6 537.6,130.8 538.2,131.0 538.8,131.0 539.4,130.7 540.0,130.8 540.6,130.6 541.2,131.3 541.8,131.0 542.4,130.5 543.0,130.8 543.7,131.0 544.3,130.9 544.9,131.3 545.5,131.2 546.1,130.7 546.7,130.8 547.3,130.5 547.9,130.9 548.5,130.8 549.1,131.5 549.7,130.8 550.3,130.3 550.9,130.6 551.6,130.8 552.2,130.5 552.8,130.6 553.4,130.7 554.0,130.9 554.6,130.8 555.2,130.6 555.8,131.0 556.4,130.7 557.0,130.7 557.6,130.5 558.2,130.6 558.8,131.0 559.5,130.4 560.1,130.8 560.7,131.0 561.3,130.7 561.9,130.9 562.5,130.6 563.1,131.1 563.7,131.1 564.3,130.9 564.9,130.4 565.5,130.6 566.1,131.0 566.8,131.2 567.4,130.9 568.0,131.1 568.6,130.7 569.2,130.8 569.8,130.8 570.4,130.9 571.0,130.5 571.6,131.0 572.2,131.1 572.8,130.6 573.4,130.5 574.0,130.9 574.7,130.7 575.3,130.3 575.9,131.0 576.5,130.9 577.1,130.7 577.7,131.2 578.3,130.8 578.9,130.7 579.5,130.8 580.1,130.6 580.7,130.7 581.3,130.9 581.9,130.7 582.6,130.7 583.2,131.1 583.8,131.0 584.4,131.0 585.0,130.9 585.6,130.9 586.2,131.1 586.8,130.8 587.4,131.2 588.0,130.7 588.6,130.8 589.2,130.6 589.9,130.8 590.5,130.9 591.1,131.1 591.7,130.7 592.3,130.8 592.9,130.8 593.5,130.7 594.1,130.6 594.7,130.8 595.3,130.6 595.9,130.9 596.5,130.8 597.1,130.7 597.8,130.7 598.4,130.6 599.0,131.1 599.6,130.6 600.2,131.1 600.8,130.9 601.4,130.8 602.0,130.7 602.6,131.0 603.2,131.1 603.8,130.7 604.4,130.8 605.0,131.0 605.7,130.9 606.3,131.1 606.9,130.8 607.5,130.9 608.1,130.7 608.7,131.2 609.3,130.7 609.9,130.5 610.5,130.8 611.1,130.8 611.7,131.1 612.3,130.8 613.0,130.9 613.6,130.9 614.2,131.1 614.8,130.9 615.4,131.0 616.0,130.9 616.6,130.8 617.2,130.9 617.8,130.9 618.4,130.7 619.0,131.0 619.6,130.7 620.2,131.0 620.9,131.0 621.5,130.9 622.1,130.8 622.7,130.8 623.3,130.9 623.9,131.0 624.5,130.9 625.1,131.0 625.7,130.8 626.3,130.9 626.9,130.7 627.5,131.0 628.2,130.9 628.8,130.8 629.4,131.0 630.0,131.0 630.6,130.5 631.2,130.9 631.8,130.7 632.4,131.0 633.0,131.2 633.6,130.8 634.2,130.9 634.8,130.9 635.4,130.9 636.1,131.0 636.7,131.1 637.3,130.8 637.9,131.1 638.5,130.8 639.1,130.9 639.7,131.0 640.3,131.0 640.9,130.8 641.5,130.8 642.1,130.8 642.7,130.9 643.3,131.0 644.0,130.8 644.6,131.0 645.2,131.0 645.8,131.0 646.4,131.0 647.0,131.1 647.6,131.0 648.2,131.0 648.8,131.0 649.4,131.1 650.0,130.7 650.6,131.1 651.3,130.9 651.9,130.9 652.5,130.8 653.1,130.7 653.7,130.9 654.3,130.9 654.9,131.0 655.5,130.8 656.1,131.1 656.7,131.0 657.3,130.9 657.9,130.9 658.5,130.9 659.2,130.8 659.8,130.9 660.4,131.0 661.0,131.0 661.6,130.8 662.2,131.0 662.8,130.9 663.4,131.0 664.0,131.2 664.6,131.1 665.2,131.0 665.8,130.8 666.4,130.9 667.1,130.8 667.7,131.1 668.3,131.0 668.9,131.0 669.5,131.0 670.1,131.1 670.7,131.2 671.3,131.0 671.9,131.0 672.5,131.0 673.1,131.2 673.7,131.0 674.4,131.0 675.0,130.9 675.6,130.9 676.2,131.1 676.8,131.3 677.4,131.0 678.0,131.2 678.6,131.1 679.2,131.0 679.8,131.1 680.4,131.1 681.0,131.1 681.6,131.3 682.3,131.0 682.9,131.2 683.5,131.2 684.1,131.1 684.7,131.2 685.3,131.2 685.9,131.2 686.5,131.2 687.1,131.2 687.7,131.0 688.3,131.3 688.9,131.4 689.5,131.3 690.2,131.3 690.8,131.1 691.4,131.2 692.0,131.2 692.6,131.2 693.2,131.3 693.8,131.2 694.4,131.2 695.0,131.1 695.6,131.2 696.2,131.3 696.8,131.2 697.5,131.2 698.1,131.4 698.7,131.2 699.3,131.2 699.9,131.2 700.5,131.4 701.1,131.5 701.7,131.3 702.3,131.3 702.9,131.3 703.5,131.4 704.1,131.3 704.7,131.5 705.4,131.5 706.0,131.4 706.6,131.4 707.2,131.4 707.8,131.5 708.4,131.3 709.0,131.5 709.6,131.4 710.2,131.4 710.8,131.4 711.4,131.4 712.0,131.4 712.6,131.3 713.3,131.4 713.9,131.6 714.5,131.6 715.1,131.5 715.7,131.6 716.3,131.5 716.9,131.5 717.5,131.5 718.1,131.4 718.7,131.5 719.3,131.5 719.9,131.5 720.6,131.5 721.2,131.6 721.8,131.5 722.4,131.6 723.0,131.6 723.6,131.6 724.2,131.6 724.8,131.6 725.4,131.6 726.0,131.6 726.6,131.7 727.2,131.7 727.8,131.7 728.5,131.6 729.1,131.7 729.7,131.7 730.3,131.7 730.9,131.7 731.5,131.7 732.1,131.8 732.7,131.8 733.3,131.7 733.9,131.8 734.5,131.8 735.1,131.7 735.7,131.8 736.4,131.8 737.0,131.9 737.6,131.8 738.2,131.8 738.8,131.8 739.4,131.8 740.0,131.9 740.6,131.9 741.2,131.9 741.8,131.9 742.4,131.7 743.0,131.9 743.7,131.8 744.3,132.0 744.9,132.0 745.5,132.0 746.1,132.0 746.7,132.0 747.3,132.0" fill="none" stroke="#000080" stroke-width="1.25" stroke-opacity="0.9" stroke-linejoin="round"/>
<path d="M103.9,225.8 104.1,226.0 104.4,226.2 104.6,226.3 104.8,226.5 105.0,226.6 105.3,226.7 105.5,226.8 105.7,226.9 105.9,227.0 106.2,227.0 106.4,227.1 106.6,227.1 106.8,227.1 107.1,227.2 107.3,227.2 107.5,227.2 107.7,227.2 108.0,227.2 108.2,227.2 108.4,227.1 108.6,227.0 108.9,226.9 109.1,226.8 109.3,226.6 109.5,226.5 109.8,226.3 110.0,226.1 110.2,225.9 110.4,225.7 110.7,225.5 110.9,225.2 111.1,225.0 111.3,224.7 111.6,224.5 111.8,224.2 112.0,224.0 112.2,223.7 112.5,223.3 112.7,223.0 112.9,222.5 113.2,222.1 113.4,221.6 113.6,221.1 113.8,220.6 114.1,220.0 114.3,219.5 114.5,218.9 114.7,218.4 115.0,217.8 115.2,217.3 115.4,216.7 115.6,216.3 115.9,215.8 116.1,215.3 116.3,214.7 116.5,214.2 116.8,213.7 117.0,213.1 117.2,212.6 117.4,212.1 117.7,211.5 117.9,211.0 118.1,210.5 118.3,210.0 118.6,209.6 118.8,209.1 119.0,208.8 119.2,208.4 119.5,208.1 119.7,207.7 119.9,207.4 120.1,207.1 120.4,206.8 120.6,206.5 120.8,206.3 121.0,206.0 121.3,205.7 121.5,205.5 121.7,205.2 122.0,205.0 122.2,204.7 122.4,204.5 122.6,204.3 122.9,204.1 123.1,203.8 123.3,203.6 123.5,203.4 123.8,203.2 124.0,203.0 124.2,202.8 124.4,202.6 124.7,202.4 124.9,202.3 125.1,202.1 125.3,201.9 125.6,201.8 125.8,201.7 126.0,201.5 126.2,201.3 126.5,201.2 126.7,201.0 126.9,200.9 127.1,200.7 127.4,200.6 127.6,200.4 127.8,200.2 128.0,200.0 128.3,199.9 128.5,199.7 128.7,199.5 128.9,199.2 129.2,199.0 129.4,198.8 129.6,198.6 129.8,198.3 130.1,198.0 130.3,197.7 130.5,197.5 130.7,197.2 131.0,196.8 131.2,196.5 131.4,196.2 131.7,195.8 131.9,195.5 132.1,195.1 132.3,194.8 132.6,194.4 132.8,194.0 133.0,193.6 133.2,193.2 133.5,192.7 133.7,192.2 133.9,191.8 134.1,191.3 134.4,190.7 134.6,190.3 134.8,189.8 135.0,189.2 135.3,188.7 135.5,188.2 135.7,187.8 135.9,187.3 136.2,186.9 136.4,186.4 136.6,186.0 136.8,185.6 137.1,185.2 137.3,184.8 137.5,184.4 137.7,184.0 138.0,183.6 138.2,183.3 138.4,182.8 138.6,182.5 138.9,182.1 139.1,181.7 139.3,181.4 139.5,181.0 139.8,180.6 140.0,180.3 141.0,178.6 142.0,176.9 143.0,175.1 144.1,173.4 145.1,171.6 146.1,169.8 147.1,168.1 148.1,166.6 149.1,165.1 150.1,163.7 151.2,162.4 152.2,161.1 153.2,159.8 154.2,158.7 155.2,157.4 156.2,156.1 157.2,155.1 158.2,153.9 159.3,152.8 160.3,151.8 161.3,150.9 162.3,150.2 163.3,149.3 164.3,148.5 165.3,147.8 166.4,147.0 167.4,146.4 168.4,145.5 169.4,144.7 170.4,144.1 171.4,143.4 172.4,142.8 173.5,142.1 174.5,141.8 175.5,141.3 176.5,140.7 177.5,140.4 178.5,139.8 179.5,139.4 180.6,138.8 181.6,138.2 182.6,137.8 183.6,137.3 184.6,136.7 185.6,136.3 186.6,135.8 187.7,135.3 188.7,135.1 189.7,134.5 190.7,134.2 191.7,133.9 192.7,133.5 193.7,133.2 194.7,133.0 195.8,132.8 196.8,132.6 197.8,132.4 198.8,132.1 199.8,131.9 200.8,131.6 201.8,131.2 202.9,131.0 203.9,130.6 204.9,130.5 205.9,130.2 206.9,129.9 207.9,129.5 208.9,129.4 210.0,129.0 211.0,128.9 212.0,128.6 213.0,128.3 214.0,128.3 215.0,128.0 216.0,127.7 217.1,127.7 218.1,127.4 219.1,127.2 220.1,127.2 221.1,126.9 222.1,126.8 223.1,126.7 224.2,126.9 225.2,126.8 226.2,126.4 227.2,126.6 228.2,126.3 229.2,126.2 230.2,126.3 231.2,126.1 232.3,126.4 233.3,126.0 234.3,125.6 235.3,126.1 236.3,125.7 237.3,125.6 238.3,125.0 239.4,125.8 240.4,125.7 241.4,125.7 242.4,125.7 243.4,125.8 244.4,125.4 245.4,125.6 246.5,125.2 247.5,125.3 248.5,125.6 249.5,125.5 250.5,125.1 251.5,125.5 252.5,125.4 253.6,125.3 254.6,125.7 255.6,125.5 256.6,125.3 257.6,125.5 258.6,126.1 259.6,125.5 260.6,125.9 261.7,126.0 262.7,126.1 263.7,125.7 264.7,125.9 265.7,126.0 266.7,126.2 267.7,125.9 268.8,125.9 269.8,126.4 270.8,126.4 271.8,126.3 272.8,126.1 273.8,126.4 274.8,126.3 275.9,126.5 276.9,126.1 277.9,126.5 278.9,126.5 279.9,126.3 280.9,126.7 281.9,126.7 283.0,126.7 284.0,126.9 285.0,126.6 286.0,127.0 287.0,127.1 288.0,127.2 289.0,127.4 290.1,127.0 291.1,127.0 292.1,127.4 293.1,127.5 294.1,127.9 295.1,127.6 296.1,127.4 297.1,127.8 298.2,127.5 299.2,127.4 300.2,128.3 301.2,127.9 302.2,128.0 303.2,128.0 304.2,128.3 305.3,128.1 306.3,128.3 307.3,127.9 308.3,127.9 309.3,128.5 310.3,128.6 311.3,128.5 312.4,128.5 313.4,128.6 314.4,128.5 315.4,129.1 316.4,129.0 317.4,129.1 318.4,129.2 319.5,129.5 320.5,129.5 321.5,129.6 322.5,129.4 323.5,129.8 324.5,130.3 325.5,129.9 326.5,130.0 327.6,130.4 328.6,130.5 329.6,130.5 330.6,130.1 331.6,130.6 332.6,130.4 333.6,130.6 334.7,130.9 335.7,130.8 336.7,131.1 337.7,131.7 338.7,131.3 339.7,131.4 340.7,131.1 341.8,131.3 342.8,131.3 343.8,131.4 344.8,131.4 345.8,131.6 346.8,131.7 347.8,131.7 348.9,131.7 349.9,131.8 350.9,132.2 351.9,132.2 352.9,132.4 353.9,132.5 354.9,132.3 356.0,132.6 357.0,132.3 358.0,133.1 359.0,132.9 360.0,132.7 361.0,132.6 362.0,133.0 363.0,132.6 364.1,132.9 365.1,133.2 366.1,133.2 367.1,133.1 368.1,133.5 369.1,133.2 370.1,133.5 371.2,133.4 372.2,133.4 373.2,133.7 374.2,133.5 375.2,134.2 376.2,133.8 377.2,134.3 378.3,133.8 379.3,134.2 380.3,133.9 381.3,133.9 382.3,134.3 383.3,134.5 384.3,134.1 385.4,134.7 386.4,134.4 387.4,134.6 388.4,134.7 389.4,134.8 390.4,134.4 391.4,135.1 392.5,134.9 393.5,134.8 394.5,134.7 395.5,134.6 396.5,134.8 397.5,135.1 398.5,135.0 399.5,134.9 400.6,135.1 401.6,135.5 402.6,135.2 403.6,135.1 404.6,135.5 405.6,135.4 406.6,135.4 407.7,135.3 408.7,135.1 409.7,135.2 410.7,135.4 411.7,135.5 412.7,135.6 413.7,135.7 414.8,135.6 415.8,135.7 416.8,135.5 417.8,135.3 418.8,135.7 419.8,135.6 420.8,135.7 421.9,135.8 422.9,135.7 423.9,135.8 424.9,136.0 425.9,136.1 426.9,136.0 427.9,136.3 428.9,136.2 430.0,136.1 431.0,136.3 432.0,136.7 433.0,136.3 434.0,136.7 435.0,136.8 436.0,136.8 437.1,136.5 438.1,137.0 439.1,136.7 440.1,136.7 441.1,136.8 442.1,136.9 443.1,136.9 444.2,136.9 445.2,137.2 446.2,136.9 447.2,136.9 448.2,137.2 449.2,137.2 450.2,137.3 451.3,137.0 452.3,137.4 453.3,137.4 454.3,137.6 455.3,137.1 456.3,137.4 457.3,137.4 458.4,137.2 459.4,137.4 460.4,137.7 461.4,137.5 462.4,137.5 463.4,137.8 464.4,137.8 465.4,137.9 466.5,137.6 467.5,137.8 468.5,138.0 469.5,137.8 470.5,137.8 471.5,138.1 472.5,138.2 473.6,137.8 474.6,137.6 475.6,137.9 476.6,138.0 477.6,138.2 478.6,138.3 479.6,138.2 480.7,138.2 481.7,138.4 482.7,138.2 483.7,138.4 484.7,138.3 485.7,138.9 486.7,138.7 487.8,138.4 488.8,138.4 489.8,138.5 490.8,138.4 491.8,138.6 492.8,138.6 493.8,138.9 494.8,138.7 495.9,138.7 496.9,138.6 497.9,138.6 498.9,138.8 499.9,138.8 500.9,139.1 501.9,138.8 503.0,139.1 504.0,139.0 505.0,139.0 506.0,138.6 507.0,138.8 508.0,139.1 509.0,139.2 510.1,139.1 511.1,139.2 512.1,139.0 513.1,139.0 514.1,139.0 515.1,139.3 516.1,139.2 517.2,139.1 518.2,139.1 519.2,139.2 520.2,139.2 521.2,139.0 522.2,139.5 523.2,139.2 524.3,139.2 525.3,139.5 526.3,139.4 527.3,139.2 528.3,139.4 529.3,139.1 530.3,139.2 531.3,139.0 532.4,139.5 533.4,139.1 534.4,139.5 535.4,139.3 536.4,139.3 537.4,139.4 538.4,139.5 539.5,139.5 540.5,139.7 541.5,139.5 542.5,139.6 543.5,139.4 544.5,139.6 545.5,139.6 546.6,139.5 547.6,139.6 548.6,139.6 549.6,139.7 550.6,139.7 551.6,139.6 552.6,139.6 553.7,139.8 554.7,139.5 555.7,139.6 556.7,140.0 557.7,139.4 558.7,139.7 559.7,139.9 560.8,139.6 561.8,140.2 562.8,139.5 563.8,140.1 564.8,140.1 565.8,140.0 566.8,139.9 567.8,140.0 568.9,139.8 569.9,140.1 570.9,139.8 571.9,140.0 572.9,140.2 573.9,139.9 574.9,140.0 576.0,140.1 577.0,139.9 578.0,140.3 579.0,140.2 580.0,140.0 581.0,140.2 582.0,140.1 583.1,140.1 584.1,140.3 585.1,140.2 586.1,140.4 587.1,140.2 588.1,140.5 589.1,140.3 590.2,140.5 591.2,140.3 592.2,140.3 593.2,140.2 594.2,140.5 595.2,140.6 596.2,140.7 597.2,140.6 598.3,140.5 599.3,140.5 600.3,140.6 601.3,140.5 602.3,140.7 603.3,140.7 604.3,140.5 605.4,140.5 606.4,140.8 607.4,140.7 608.4,140.6 609.4,140.8 610.4,140.6 611.4,140.6 612.5,140.6 613.5,140.5 614.5,140.8 615.5,140.6 616.5,140.7 617.5,140.7 618.5,140.9 619.6,140.8 620.6,140.8 621.6,140.6 622.6,140.8 623.6,140.7 624.6,140.9 625.6,140.9 626.7,140.9 627.7,141.2 628.7,141.0 629.7,141.0 630.7,140.9 631.7,140.9 632.7,141.1 633.7,141.1 634.8,140.8 635.8,141.1 636.8,141.0 637.8,141.1 638.8,141.1 639.8,140.8 640.8,140.9 641.9,141.2 642.9,141.1 643.9,140.8 644.9,141.1 645.9,141.0 646.9,140.8 647.9,140.8 649.0,140.9 650.0,141.1 651.0,141.1 652.0,141.1 653.0,141.1 654.0,141.2 655.0,140.8 656.1,141.1 657.1,141.0 658.1,141.0 659.1,141.1 660.1,141.1 661.1,141.1 662.1,141.0 663.1,141.1 664.2,141.4 665.2,141.0 666.2,141.0 667.2,141.2 668.2,141.2 669.2,141.2 670.2,141.1 671.3,141.3 672.3,141.1 673.3,141.1 674.3,141.1 675.3,141.2 676.3,141.3 677.3,141.3 678.4,141.2 679.4,141.3 680.4,141.2 681.4,141.3 682.4,141.1 683.4,141.1 684.4,141.3 685.5,141.1 686.5,141.2 687.5,141.2 688.5,141.2 689.5,141.2 690.5,141.4 691.5,141.0 692.6,141.4 693.6,141.5 694.6,141.3 695.6,141.3 696.6,141.4 697.6,141.5 698.6,141.2 699.6,141.3 700.7,141.3 701.7,141.4 702.7,141.3 703.7,141.4 704.7,141.3 705.7,141.3 706.7,141.2 707.8,141.2 708.8,141.3 709.8,141.3 710.8,141.2 711.8,141.5 712.8,141.3 713.8,141.2 714.9,141.5 715.9,141.3 716.9,141.4 717.9,141.3 718.9,141.4 719.9,141.4 720.9,141.3 722.0,141.4 723.0,141.6 724.0,141.1 725.0,141.4 726.0,141.4 727.0,141.3 728.0,141.2 729.1,141.6 730.1,141.3 731.1,141.6 732.1,141.4 733.1,141.4 734.1,141.4 735.1,141.4 736.1,141.5 737.2,141.4 738.2,141.4 739.2,141.4 740.2,141.5 741.2,141.5 742.2,141.3 743.2,141.3 744.3,141.4 745.3,141.3 746.3,141.4 747.3,141.3" fill="none" stroke="#0010ff" stroke-width="1.3" stroke-opacity="1.0" stroke-linejoin="round"/>
<path d="M103.9,179.0 104.1,179.0 104.4,179.0 104.6,179.0 104.8,179.0 105.0,179.0 105.3,179.0 105.5,179.0 105.7,179.0 105.9,179.0 106.2,179.0 106.4,179.0 106.6,179.0 106.8,179.0 107.1,179.0 107.3,179.0 107.5,179.0 107.7,179.0 108.0,179.0 108.2,179.0 108.4,179.0 108.6,179.0 108.9,179.0 109.1,179.0 109.3,179.0 109.5,179.0 109.8,179.0 110.0,179.0 110.2,179.0 110.4,179.0 110.7,179.0 110.9,179.0 111.1,179.0 111.3,179.0 111.6,179.0 111.8,179.0 112.0,179.0 112.2,179.0 112.5,179.0 112.7,179.0 112.9,179.0 113.2,179.0 113.4,179.0 113.6,179.0 113.8,179.0 114.1,179.0 114.3,179.0 114.5,179.0 114.7,179.0 115.0,179.0 115.2,179.0 115.4,179.0 115.6,179.0 115.9,179.0 116.1,179.0 116.3,179.0 116.5,178.9 116.8,178.9 117.0,178.9 117.2,178.8 117.4,178.8 117.7,178.7 117.9,178.7 118.1,178.6 118.3,178.5 118.6,178.4 118.8,178.4 119.0,178.3 119.2,178.2 119.5,178.1 119.7,178.0 119.9,177.9 120.1,177.8 120.4,177.7 120.6,177.7 120.8,177.6 121.0,177.5 121.3,177.4 121.5,177.3 121.7,177.2 122.0,177.1 122.2,177.0 122.4,176.9 122.6,176.8 122.9,176.7 123.1,176.6 123.3,176.4 123.5,176.3 123.8,176.2 124.0,176.1 124.2,175.9 124.4,175.8 124.7,175.7 124.9,175.5 125.1,175.4 125.3,175.2 125.6,175.1 125.8,174.9 126.0,174.8 126.2,174.6 126.5,174.5 126.7,174.3 126.9,174.2 127.1,174.0 127.4,173.8 127.6,173.7 127.8,173.5 128.0,173.4 128.3,173.2 128.5,173.0 128.7,172.8 128.9,172.6 129.2,172.5 129.4,172.3 129.6,172.1 129.8,171.9 130.1,171.7 130.3,171.5 130.5,171.3 130.7,171.1 131.0,170.9 131.2,170.7 131.4,170.5 131.7,170.2 131.9,170.0 132.1,169.8 132.3,169.6 132.6,169.4 132.8,169.1 133.0,168.9 133.2,168.7 133.5,168.4 133.7,168.2 133.9,168.0 134.1,167.7 134.4,167.5 134.6,167.3 134.8,167.0 135.0,166.8 135.3,166.5 135.5,166.2 135.7,166.0 135.9,165.7 136.2,165.4 136.4,165.2 136.6,164.9 136.8,164.6 137.1,164.3 137.3,164.1 137.5,163.8 137.7,163.5 138.0,163.2 138.2,163.0 138.4,162.7 138.6,162.4 138.9,162.1 139.1,161.9 139.3,161.6 139.5,161.3 139.8,161.0 140.0,160.8 142.0,158.3 144.1,155.8 146.1,153.4 148.1,151.0 150.2,148.8 152.2,146.7 154.2,144.7 156.2,142.9 158.3,141.4 160.3,140.1 162.3,138.9 164.4,137.8 166.4,136.8 168.4,135.8 170.5,134.8 172.5,133.7 174.5,132.6 176.6,131.5 178.6,130.4 180.6,129.3 182.7,128.2 184.7,127.2 186.7,126.1 188.7,125.1 190.8,124.3 192.8,123.7 194.8,123.2 196.9,122.7 198.9,122.2 200.9,121.8 203.0,121.3 205.0,120.9 207.0,120.4 209.1,120.0 211.1,119.5 213.1,119.1 215.2,118.7 217.2,118.3 219.2,117.9 221.2,117.6 223.3,117.3 225.3,117.0 227.3,116.7 229.4,116.4 231.4,116.2 233.4,116.0 235.5,115.8 237.5,115.7 239.5,115.5 241.6,115.4 243.6,115.2 245.6,115.1 247.6,115.0 249.7,114.9 251.7,114.8 253.7,114.7 255.8,114.5 257.8,114.4 259.8,114.3 261.9,114.2 263.9,114.1 265.9,114.0 268.0,113.9 270.0,113.8 272.0,113.7 274.1,113.6 276.1,113.5 278.1,113.4 280.1,113.3 282.2,113.2 284.2,113.1 286.2,113.0 288.3,112.9 290.3,112.8 292.3,112.8 294.4,112.7 296.4,112.6 298.4,112.6 300.5,112.6 302.5,112.5 304.5,112.4 306.6,112.4 308.6,112.3 310.6,112.3 312.6,112.2 314.7,112.1 316.7,112.1 318.7,112.0 320.8,111.9 322.8,111.8 324.8,111.7 326.9,111.7 328.9,111.6 330.9,111.5 333.0,111.4 335.0,111.4 337.0,111.2 339.0,111.2 341.1,111.1 343.1,111.0 345.1,110.9 347.2,110.8 349.2,110.7 351.2,110.7 353.3,110.5 355.3,110.5 357.3,110.4 359.4,110.3 361.4,110.2 363.4,110.1 365.5,110.1 367.5,110.0 369.5,109.9 371.5,109.8 373.6,109.7 375.6,109.6 377.6,109.6 379.7,109.5 381.7,109.4 383.7,109.4 385.8,109.3 387.8,109.2 389.8,109.1 391.9,109.0 393.9,109.0 395.9,108.9 398.0,108.8 400.0,108.8 402.0,108.7 404.0,108.7 406.1,108.6 408.1,108.5 410.1,108.5 412.2,108.4 414.2,108.4 416.2,108.3 418.3,108.2 420.3,108.2 422.3,108.2 424.4,108.1 426.4,108.1 428.4,108.0 430.4,108.0 432.5,107.9 434.5,107.9 436.5,107.9 438.6,107.8 440.6,107.8 442.6,107.8 444.7,107.7 446.7,107.7 448.7,107.7 450.8,107.6 452.8,107.6 454.8,107.6 456.9,107.5 458.9,107.5 460.9,107.4 462.9,107.4 465.0,107.4 467.0,107.4 469.0,107.4 471.1,107.4 473.1,107.3 475.1,107.3 477.2,107.3 479.2,107.3 481.2,107.3 483.3,107.3 485.3,107.2 487.3,107.2 489.3,107.2 491.4,107.2 493.4,107.2 495.4,107.1 497.5,107.1 499.5,107.1 501.5,107.1 503.6,107.1 505.6,107.0 507.6,107.0 509.7,107.0 511.7,107.0 513.7,107.0 515.8,106.9 517.8,107.0 519.8,107.0 521.8,106.9 523.9,106.9 525.9,106.9 527.9,106.9 530.0,106.9 532.0,106.9 534.0,106.9 536.1,106.9 538.1,106.9 540.1,106.8 542.2,106.9 544.2,106.8 546.2,106.9 548.3,106.8 550.3,106.8 552.3,106.8 554.3,106.8 556.4,106.8 558.4,106.7 560.4,106.8 562.5,106.8 564.5,106.8 566.5,106.7 568.6,106.8 570.6,106.7 572.6,106.7 574.7,106.7 576.7,106.7 578.7,106.7 580.7,106.7 582.8,106.7 584.8,106.7 586.8,106.7 588.9,106.7 590.9,106.7 592.9,106.7 595.0,106.7 597.0,106.7 599.0,106.7 601.1,106.7 603.1,106.7 605.1,106.7 607.2,106.7 609.2,106.6 611.2,106.7 613.2,106.7 615.3,106.6 617.3,106.6 619.3,106.6 621.4,106.6 623.4,106.6 625.4,106.6 627.5,106.6 629.5,106.6 631.5,106.6 633.6,106.6 635.6,106.6 637.6,106.6 639.7,106.6 641.7,106.5 643.7,106.6 645.7,106.5 647.8,106.6 649.8,106.6 651.8,106.6 653.9,106.6 655.9,106.6 657.9,106.6 660.0,106.6 662.0,106.6 664.0,106.6 666.1,106.5 668.1,106.6 670.1,106.6 672.1,106.5 674.2,106.6 676.2,106.6 678.2,106.5 680.3,106.5 682.3,106.5 684.3,106.5 686.4,106.5 688.4,106.5 690.4,106.5 692.5,106.5 694.5,106.5 696.5,106.5 698.6,106.5 700.6,106.5 702.6,106.5 704.6,106.5 706.7,106.6 708.7,106.5 710.7,106.5 712.8,106.5 714.8,106.5 716.8,106.5 718.9,106.5 720.9,106.5 722.9,106.5 725.0,106.5 727.0,106.5 729.0,106.5 731.1,106.5 733.1,106.5 735.1,106.5 737.1,106.5 739.2,106.5 741.2,106.5 743.2,106.5 745.3,106.5 747.3,106.5" fill="none" stroke="#00a4ff" stroke-width="1.3" stroke-opacity="1.0" stroke-linejoin="round"/>
<path d="M103.9,172.4 104.1,172.4 104.4,172.4 104.6,172.4 104.8,172.4 105.0,172.4 105.3,172.4 105.5,172.4 105.7,172.4 105.9,172.4 106.2,172.4 106.4,172.3 106.6,172.3 106.8,172.3 107.1,172.3 107.3,172.3 107.5,172.3 107.7,172.3 108.0,172.3 108.2,172.3 108.4,172.2 108.6,172.2 108.9,172.2 109.1,172.2 109.3,172.2 109.5,172.2 109.8,172.2 110.0,172.1 110.2,172.1 110.4,172.1 110.7,172.1 110.9,172.1 111.1,172.1 111.3,172.0 111.6,172.0 111.8,172.0 112.0,172.0 112.2,172.0 112.5,172.0 112.7,171.9 112.9,171.9 113.2,171.9 113.4,171.9 113.6,171.9 113.8,171.8 114.1,171.8 114.3,171.8 114.5,171.8 114.7,171.7 115.0,171.7 115.2,171.7 115.4,171.6 115.6,171.6 115.9,171.6 116.1,171.5 116.3,171.5 116.5,171.5 116.8,171.4 117.0,171.4 117.2,171.3 117.4,171.3 117.7,171.3 117.9,171.2 118.1,171.2 118.3,171.1 118.6,171.1 118.8,171.0 119.0,171.0 119.2,170.9 119.5,170.8 119.7,170.8 119.9,170.7 120.1,170.6 120.4,170.5 120.6,170.4 120.8,170.3 121.0,170.2 121.3,170.2 121.5,170.1 121.7,170.0 122.0,169.9 122.2,169.8 122.4,169.7 122.6,169.5 122.9,169.4 123.1,169.3 123.3,169.2 123.5,169.1 123.8,169.0 124.0,168.9 124.2,168.7 124.4,168.6 124.7,168.5 124.9,168.3 125.1,168.2 125.3,168.1 125.6,167.9 125.8,167.7 126.0,167.6 126.2,167.4 126.5,167.2 126.7,167.0 126.9,166.9 127.1,166.7 127.4,166.5 127.6,166.3 127.8,166.1 128.0,165.9 128.3,165.7 128.5,165.5 128.7,165.3 128.9,165.1 129.2,164.9 129.4,164.7 129.6,164.4 129.8,164.2 130.1,164.0 130.3,163.8 130.5,163.6 130.7,163.4 131.0,163.1 131.2,162.9 131.4,162.7 131.7,162.4 131.9,162.2 132.1,161.9 132.3,161.7 132.6,161.4 132.8,161.2 133.0,160.9 133.2,160.7 133.5,160.4 133.7,160.1 133.9,159.9 134.1,159.6 134.4,159.3 134.6,159.1 134.8,158.8 135.0,158.5 135.3,158.3 135.5,158.0 135.7,157.7 135.9,157.5 136.2,157.2 136.4,157.0 136.6,156.7 136.8,156.4 137.1,156.2 137.3,155.9 137.5,155.6 137.7,155.4 138.0,155.1 138.2,154.8 138.4,154.5 138.6,154.3 138.9,154.0 139.1,153.7 139.3,153.4 139.5,153.2 139.8,152.9 140.0,152.6 142.0,150.3 144.1,148.1 146.1,146.0 148.1,144.2 150.2,142.6 152.2,141.2 154.2,139.9 156.2,138.8 158.3,137.8 160.3,136.8 162.3,135.9 164.4,135.0 166.4,134.2 168.4,133.3 170.5,132.5 172.5,131.7 174.5,130.9 176.6,130.1 178.6,129.4 180.6,128.6 182.7,127.8 184.7,127.0 186.7,126.1 188.7,125.3 190.8,124.6 192.8,124.0 194.8,123.4 196.9,123.0 198.9,122.5 200.9,122.1 203.0,121.6 205.0,121.2 207.0,120.8 209.1,120.3 211.1,119.9 213.1,119.5 215.2,119.1 217.2,118.8 219.2,118.5 221.2,118.1 223.3,117.9 225.3,117.6 227.3,117.3 229.4,117.1 231.4,116.9 233.4,116.7 235.5,116.5 237.5,116.4 239.5,116.2 241.6,116.1 243.6,115.9 245.6,115.8 247.6,115.7 249.7,115.6 251.7,115.5 253.7,115.4 255.8,115.3 257.8,115.2 259.8,115.1 261.9,115.0 263.9,114.9 265.9,114.9 268.0,114.8 270.0,114.7 272.0,114.6 274.1,114.5 276.1,114.4 278.1,114.3 280.1,114.2 282.2,114.2 284.2,114.1 286.2,114.0 288.3,113.9 290.3,113.8 292.3,113.8 294.4,113.7 296.4,113.7 298.4,113.6 300.5,113.6 302.5,113.6 304.5,113.5 306.6,113.5 308.6,113.4 310.6,113.4 312.6,113.3 314.7,113.3 316.7,113.2 318.7,113.2 320.8,113.1 322.8,113.1 324.8,113.0 326.9,113.0 328.9,112.9 330.9,112.8 333.0,112.8 335.0,112.7 337.0,112.6 339.0,112.5 341.1,112.5 343.1,112.4 345.1,112.3 347.2,112.2 349.2,112.1 351.2,112.1 353.3,112.0 355.3,111.9 357.3,111.8 359.4,111.8 361.4,111.7 363.4,111.6 365.5,111.5 367.5,111.5 369.5,111.4 371.5,111.3 373.6,111.3 375.6,111.2 377.6,111.1 379.7,111.0 381.7,111.0 383.7,110.9 385.8,110.8 387.8,110.8 389.8,110.7 391.9,110.6 393.9,110.6 395.9,110.5 398.0,110.4 400.0,110.4 402.0,110.3 404.0,110.2 406.1,110.2 408.1,110.2 410.1,110.1 412.2,110.0 414.2,109.9 416.2,109.9 418.3,109.8 420.3,109.8 422.3,109.8 424.4,109.7 426.4,109.7 428.4,109.6 430.4,109.5 432.5,109.5 434.5,109.4 436.5,109.4 438.6,109.3 440.6,109.3 442.6,109.2 444.7,109.2 446.7,109.1 448.7,109.1 450.8,109.1 452.8,109.1 454.8,109.0 456.9,109.0 458.9,108.9 460.9,108.9 462.9,108.9 465.0,108.9 467.0,108.8 469.0,108.8 471.1,108.8 473.1,108.7 475.1,108.7 477.2,108.7 479.2,108.7 481.2,108.6 483.3,108.6 485.3,108.6 487.3,108.6 489.3,108.6 491.4,108.6 493.4,108.5 495.4,108.5 497.5,108.5 499.5,108.4 501.5,108.4 503.6,108.4 505.6,108.4 507.6,108.4 509.7,108.4 511.7,108.4 513.7,108.3 515.8,108.4 517.8,108.3 519.8,108.3 521.8,108.3 523.9,108.3 525.9,108.3 527.9,108.3 530.0,108.3 532.0,108.3 534.0,108.3 536.1,108.3 538.1,108.3 540.1,108.3 542.2,108.3 544.2,108.3 546.2,108.3 548.3,108.4 550.3,108.3 552.3,108.3 554.3,108.3 556.4,108.3 558.4,108.3 560.4,108.3 562.5,108.3 564.5,108.3 566.5,108.3 568.6,108.3 570.6,108.3 572.6,108.3 574.7,108.3 576.7,108.3 578.7,108.3 580.7,108.3 582.8,108.3 584.8,108.3 586.8,108.3 588.9,108.3 590.9,108.3 592.9,108.3 595.0,108.3 597.0,108.3 599.0,108.3 601.1,108.3 603.1,108.3 605.1,108.3 607.2,108.3 609.2,108.3 611.2,108.3 613.2,108.3 615.3,108.4 617.3,108.3 619.3,108.3 621.4,108.3 623.4,108.3 625.4,108.2 627.5,108.3 629.5,108.4 631.5,108.3 633.6,108.3 635.6,108.3 637.6,108.3 639.7,108.3 641.7,108.3 643.7,108.3 645.7,108.3 647.8,108.3 649.8,108.3 651.8,108.3 653.9,108.3 655.9,108.3 657.9,108.3 660.0,108.2 662.0,108.3 664.0,108.3 666.1,108.3 668.1,108.3 670.1,108.3 672.1,108.3 674.2,108.3 676.2,108.3 678.2,108.3 680.3,108.4 682.3,108.3 684.3,108.3 686.4,108.3 688.4,108.4 690.4,108.4 692.5,108.4 694.5,108.3 696.5,108.3 698.6,108.4 700.6,108.4 702.6,108.4 704.6,108.4 706.7,108.4 708.7,108.4 710.7,108.4 712.8,108.4 714.8,108.4 716.8,108.5 718.9,108.4 720.9,108.4 722.9,108.5 725.0,108.4 727.0,108.4 729.0,108.4 731.1,108.5 733.1,108.5 735.1,108.5 737.1,108.5 739.2,108.5 741.2,108.5 743.2,108.5 745.3,108.5 747.3,108.5" fill="none" stroke="#40ffb7" stroke-width="1.3" stroke-opacity="1.0" stroke-linejoin="round"/>
<path d="M103.9,273.7 104.1,273.8 104.4,274.0 104.6,274.0 104.8,274.1 105.0,274.2 105.3,274.2 105.5,274.3 105.7,274.3 105.9,274.3 106.2,274.3 106.4,274.3 106.6,274.3 106.8,274.2 107.1,273.9 107.3,273.6 107.5,273.1 107.7,272.5 108.0,271.9 108.2,271.3 108.4,270.7 108.6,269.9 108.9,269.0 109.1,268.0 109.3,266.9 109.5,265.9 109.8,264.9 110.0,264.1 110.2,263.5 110.4,262.9 110.7,262.5 110.9,262.0 111.1,261.6 111.3,261.3 111.6,261.0 111.8,260.8 112.0,260.7 112.2,260.7 112.5,260.6 112.7,260.6 112.9,260.5 113.2,260.5 113.4,260.5 113.6,260.5 113.8,260.5 114.1,260.5 114.3,260.6 114.5,260.6 114.7,260.8 115.0,260.9 115.2,261.0 115.4,261.1 115.6,261.1 115.9,261.1 116.1,260.9 116.3,260.6 116.5,260.3 116.8,259.9 117.0,259.3 117.2,258.8 117.4,258.3 117.7,257.7 117.9,256.9 118.1,255.9 118.3,254.8 118.6,253.7 118.8,252.5 119.0,251.2 119.2,249.9 119.5,248.6 119.7,247.2 119.9,245.6 120.1,244.1 120.4,242.4 120.6,240.8 120.8,239.1 121.0,237.3 121.3,235.5 121.5,233.6 121.7,231.7 122.0,229.8 122.2,227.9 122.4,226.1 122.6,224.2 122.9,222.6 123.1,221.0 123.3,219.3 123.5,217.8 123.8,216.2 124.0,214.6 124.2,213.2 124.4,211.7 124.7,210.3 124.9,209.0 125.1,207.6 125.3,206.3 125.6,205.1 125.8,203.8 126.0,202.5 126.2,201.4 126.5,200.2 126.7,199.1 126.9,198.0 127.1,197.0 127.4,196.0 127.6,195.0 127.8,194.0 128.0,193.1 128.3,192.3 128.5,191.4 128.7,190.6 128.9,189.8 129.2,189.0 129.4,188.3 129.6,187.5 129.8,186.8 130.1,186.1 130.3,185.4 130.5,184.8 130.7,184.0 131.0,183.5 131.2,182.8 131.4,182.3 131.7,181.6 131.9,181.0 132.1,180.5 132.3,179.9 132.6,179.4 132.8,178.8 133.0,178.3 133.2,177.8 133.5,177.2 133.7,176.7 133.9,176.1 134.1,175.6 134.4,175.1 134.6,174.6 134.8,174.1 135.0,173.7 135.3,173.3 135.5,172.7 135.7,172.4 135.9,172.0 136.2,171.8 136.4,171.4 136.6,171.1 136.8,170.7 137.1,170.5 137.3,170.2 137.5,169.8 137.7,169.6 138.0,169.3 138.2,169.1 138.4,168.8 138.6,168.5 138.9,168.4 139.1,168.0 139.3,167.8 139.5,167.6 139.8,167.4 140.0,167.2 140.5,166.8 140.9,166.4 141.4,166.1 141.9,165.7 142.3,165.3 142.8,165.0 143.3,165.0 143.7,164.3 144.2,164.2 144.7,164.2 145.1,163.9 145.6,163.6 146.1,163.5 146.5,163.5 147.0,163.5 147.5,163.1 147.9,163.2 148.4,163.0 148.9,163.1 149.4,163.1 149.8,162.8 150.3,162.5 150.8,162.9 151.2,163.1 151.7,163.0 152.2,162.9 152.6,163.4 153.1,162.7 153.6,163.1 154.0,162.8 154.5,163.0 155.0,163.1 155.4,163.5 155.9,163.0 156.4,163.2 156.8,163.1 157.3,163.8 157.8,163.8 158.2,164.3 158.7,164.1 159.2,164.6 159.6,165.2 160.1,165.1 160.6,165.5 161.0,165.7 161.5,165.6 162.0,165.4 162.4,166.4 162.9,166.4 163.4,166.8 163.8,166.0 164.3,166.3 164.8,166.4 165.2,167.0 165.7,167.8 166.2,167.8 166.6,167.8 167.1,168.1 167.6,168.5 168.1,168.3 168.5,168.8 169.0,168.9 169.5,168.3 169.9,169.2 170.4,170.0 170.9,169.6 171.3,169.9 171.8,170.0 172.3,170.3 172.7,171.1 173.2,170.9 173.7,170.8 174.1,170.3 174.6,171.5 175.1,171.3 175.5,171.6 176.0,172.9 176.5,173.2 176.9,172.5 177.4,173.9 177.9,174.1 178.3,173.9 178.8,174.8 179.3,174.3 179.7,174.8 180.2,175.0 180.7,175.5 181.1,176.6 181.6,176.1 182.1,176.5 182.5,176.9 183.0,177.7 183.5,177.7 183.9,178.5 184.4,178.2 184.9,178.2 185.3,178.8 185.8,179.3 186.3,179.1 186.8,179.9 187.2,180.8 187.7,180.0 188.2,180.5 188.6,181.4 189.1,180.7 189.6,180.9 190.0,181.0 190.5,181.9 191.0,182.2 191.4,182.1 191.9,182.5 192.4,183.3 192.8,183.3 193.3,182.5 193.8,183.4 194.2,183.7 194.7,184.2 195.2,184.0 195.6,184.0 196.1,184.4 196.6,184.0 197.0,185.1 197.5,185.0 198.0,185.8 198.4,185.3 198.9,185.8 199.4,185.8 199.8,186.0 200.3,187.1 200.8,186.8 201.2,187.5 201.7,186.9 202.2,187.8 202.6,187.2 203.1,188.0 203.6,188.3 204.0,189.1 204.5,189.1 205.0,189.1 205.5,189.9 205.9,189.7 206.4,190.1 206.9,190.5 207.3,190.2 207.8,190.3 208.3,190.8 208.7,190.6 209.2,191.3 209.7,191.9 210.1,191.9 210.6,191.4 211.1,191.1 211.5,192.0 212.0,192.1 212.5,193.0 212.9,192.4 213.4,192.6 213.9,193.4 214.3,192.8 214.8,193.2 215.3,194.5 215.7,194.5 216.2,194.2 216.7,194.1 217.1,193.6 217.6,194.6 218.1,194.5 218.5,194.8 219.0,194.5 219.5,195.0 219.9,195.0 220.4,195.5 220.9,196.3 221.3,195.8 221.8,194.8 222.3,195.3 222.7,195.1 223.2,195.7 223.7,196.7 224.2,196.8 224.6,196.3 225.1,197.0 225.6,196.5 226.0,196.2 226.5,196.4 227.0,196.9 227.4,198.4 227.9,196.9 228.4,198.6 228.8,198.8 229.3,198.0 229.8,198.2 230.2,198.0 230.7,198.5 231.2,199.0 231.6,198.7 232.1,199.5 232.6,199.7 233.0,199.3 233.5,199.4 234.0,199.3 234.4,199.6 234.9,198.8 235.4,199.9 235.8,199.9 236.3,199.3 236.8,201.4 237.2,199.4 237.7,199.6 238.2,200.5 238.6,199.1 239.1,199.9 239.6,199.5 240.0,200.0 240.5,200.7 241.0,201.1 241.5,201.7 241.9,201.6 242.4,201.9 242.9,201.6 243.3,201.0 243.8,202.1 244.3,201.1 244.7,201.1 245.2,202.7 245.7,202.2 246.1,201.9 246.6,202.3 247.1,202.5 247.5,201.0 248.0,201.9 248.5,201.2 248.9,202.2 249.4,201.7 249.9,203.2 250.3,202.6 250.8,201.7 251.3,202.3 251.7,201.5 252.2,202.5 252.7,202.9 253.1,202.7 253.6,201.2 254.1,202.4 254.5,203.0 255.0,202.9 255.5,203.6 255.9,201.8 256.4,203.2 256.9,202.4 257.3,203.0 257.8,203.2 258.3,203.5 258.7,202.5 259.2,203.1 259.7,202.2 260.2,202.0 260.6,203.5 261.1,203.1 261.6,201.9 262.0,202.5 262.5,203.2 263.0,204.4 263.4,204.0 263.9,203.8 264.4,201.9 264.8,203.2 265.3,203.6 265.8,203.6 266.2,203.6 266.7,203.1 267.2,204.7 267.6,204.5 268.1,203.3 268.6,202.6 269.0,205.0 269.5,203.0 270.0,204.4 270.4,204.9 270.9,202.7 271.4,203.7 271.8,203.2 272.3,203.9 272.8,203.7 273.2,205.0 273.7,203.9 274.2,203.4 274.6,204.3 275.1,203.2 275.6,203.1 276.0,205.1 276.5,202.5 277.0,202.7 277.4,203.1 277.9,202.1 278.4,201.1 278.9,203.6 279.3,201.9 279.8,202.0 280.3,202.0 280.7,201.4 281.2,201.1 281.7,202.0 282.1,203.8 282.6,202.2 283.1,202.1 283.5,200.1 284.0,201.2 284.5,200.1 284.9,201.7 285.4,200.7 285.9,200.8 286.3,200.6 286.8,200.0 287.3,199.1 287.7,200.8 288.2,198.9 288.7,199.0 289.1,199.6 289.6,199.1 290.1,199.8 290.5,200.3 291.0,199.5 291.5,199.3 291.9,199.0 292.4,199.6 292.9,197.1 293.3,198.9 293.8,197.6 294.3,197.2 294.7,198.2 295.2,197.7 295.7,198.4 296.1,198.7 296.6,195.5 297.1,197.3 297.6,199.0 298.0,197.8 298.5,198.2 299.0,196.9 299.4,195.3 299.9,195.4 300.4,196.9 300.8,197.0 301.3,195.3 301.8,195.5 302.2,195.8 302.7,193.9 303.2,194.9 303.6,196.5 304.1,196.9 304.6,194.6 305.0,196.2 305.5,193.9 306.0,193.4 306.4,192.0 306.9,194.7 307.4,193.3 307.8,195.5 308.3,193.5 308.8,193.2 309.2,191.2 309.7,194.0 310.2,192.1 310.6,192.1 311.1,190.1 311.6,192.7 312.0,192.6 312.5,190.9 313.0,191.4 313.4,191.4 313.9,191.7 314.4,190.7 314.9,191.9 315.3,189.9 315.8,189.3 316.3,189.2 316.7,187.1 317.2,188.4 317.7,189.7 318.1,188.8 318.6,187.5 319.1,188.2 319.5,185.8 320.0,187.1 320.5,187.5 320.9,187.4 321.4,185.7 321.9,186.9 322.3,187.5 322.8,185.1 323.3,185.9 323.7,183.5 324.2,182.8 324.7,184.9 325.1,184.1 325.6,183.9 326.1,182.9 326.5,182.9 327.0,183.6 327.5,184.2 327.9,182.2 328.4,180.6 328.9,183.0 329.3,182.2 329.8,182.0 330.3,181.3 330.7,183.0 331.2,180.8 331.7,181.0 332.1,178.6 332.6,179.6 333.1,179.3 333.6,179.6 334.0,179.8 334.5,178.6 335.0,180.6 335.4,177.9 335.9,178.3 336.4,178.7 336.8,177.2 337.3,178.6 337.8,178.5 338.2,177.4 338.7,179.2 339.2,177.4 339.6,177.3 340.1,176.0 340.6,175.2 341.0,175.9 341.5,176.0 342.0,175.6 342.4,176.5 342.9,173.4 343.4,174.3 343.8,173.5 344.3,176.1 344.8,174.1 345.2,173.9 345.7,173.2 346.2,174.7 346.6,173.3 347.1,173.6 347.6,171.3 348.0,173.9 348.5,172.9 349.0,172.8 349.4,173.1 349.9,171.6 350.4,171.3 350.8,171.9 351.3,171.3 351.8,170.4 352.3,170.4 352.7,169.7 353.2,170.5 353.7,170.4 354.1,169.3 354.6,170.8 355.1,167.5 355.5,168.4 356.0,169.9 356.5,167.7 356.9,166.4 357.4,168.9 357.9,167.9 358.3,166.1 358.8,167.7 359.3,165.9 359.7,165.4 360.2,166.3 360.7,165.8 361.1,165.1 361.6,165.5 362.1,164.8 362.5,165.5 363.0,165.3 363.5,165.8 363.9,164.5 364.4,163.5 364.9,163.4 365.3,164.1 365.8,165.5 366.3,164.7 366.7,163.2 367.2,164.4 367.7,162.3 368.1,164.0 368.6,162.5 369.1,163.3 369.5,162.9 370.0,161.8 370.5,162.1 371.0,160.6 371.4,161.3 371.9,162.1 372.4,164.5 372.8,161.2 373.3,160.4 373.8,159.1 374.2,160.8 374.7,158.1 375.2,158.6 375.6,159.4 376.1,157.7 376.6,160.0 377.0,159.3 377.5,157.6 378.0,157.4 378.4,156.5 378.9,156.2 379.4,157.7 379.8,157.7 380.3,157.3 380.8,157.0 381.2,156.1 381.7,156.7 382.2,154.9 382.6,156.1 383.1,157.2 383.6,156.9 384.0,155.2 384.5,155.1 385.0,156.5 385.4,156.7 385.9,153.7 386.4,154.4 386.8,154.9 387.3,155.6 387.8,153.6 388.2,154.8 388.7,153.8 389.2,156.0 389.7,154.2 390.1,153.6 390.6,153.2 391.1,154.3 391.5,153.9 392.0,152.2 392.5,153.2 392.9,151.7 393.4,152.1 393.9,151.5 394.3,151.3 394.8,151.8 395.3,151.4 395.7,152.5 396.2,152.6 396.7,151.6 397.1,150.8 397.6,152.3 398.1,149.8 398.5,149.7 399.0,151.8 399.5,151.6 399.9,151.8 400.4,150.7 400.9,149.7 401.3,150.2 401.8,151.0 402.3,149.8 402.7,149.7 403.2,149.0 403.7,149.1 404.1,150.6 404.6,150.2 405.1,148.8 405.5,148.8 406.0,149.1 406.5,149.8 407.0,148.4 407.4,149.1 407.9,147.4 408.4,148.0 408.8,149.2 409.3,149.5 409.8,147.7 410.2,148.0 410.7,149.1 411.2,148.1 411.6,147.8 412.1,148.6 412.6,148.2 413.0,148.9 413.5,148.5 414.0,147.4 414.4,147.6 414.9,147.6 415.4,146.5 415.8,146.7 416.3,148.1 416.8,146.0 417.2,147.9 417.7,147.2 418.2,146.8 418.6,147.2 419.1,147.1 419.6,147.5 420.0,146.2 420.5,146.2 421.0,146.0 421.4,147.4 421.9,146.6 422.4,145.0 422.8,145.3 423.3,144.9 423.8,145.3 424.2,145.3 424.7,146.7 425.2,143.5 425.7,145.5 426.1,145.0 426.6,144.0 427.1,144.3 427.5,144.0 428.0,144.3 428.5,144.9 428.9,142.9 429.4,144.9 429.9,143.6 430.3,144.9 430.8,144.0 431.3,144.5 431.7,143.9 432.2,144.2 432.7,143.3 433.1,142.6 433.6,143.6 434.1,143.5 434.5,144.5 435.0,141.4 435.5,142.6 435.9,143.5 436.4,141.7 436.9,142.4 437.3,144.0 437.8,143.4 438.3,141.7 438.7,143.2 439.2,143.0 439.7,142.6 440.1,142.2 440.6,142.1 441.1,141.2 441.5,141.4 442.0,142.2 442.5,141.7 442.9,142.8 443.4,141.2 443.9,139.7 444.4,141.1 444.8,141.4 445.3,141.4 445.8,141.1 446.2,140.4 446.7,142.0 447.2,140.4 447.6,141.3 448.1,140.5 448.6,139.8 449.0,141.6 449.5,138.8 450.0,139.9 450.4,140.7 450.9,140.1 451.4,140.8 451.8,140.1 452.3,139.8 452.8,141.6 453.2,139.9 453.7,139.8 454.2,139.1 454.6,139.3 455.1,140.2 455.6,140.1 456.0,139.6 456.5,139.1 457.0,139.9 457.4,138.2 457.9,139.1 458.4,139.1 458.8,138.6 459.3,139.2 459.8,138.6 460.2,138.5 460.7,140.2 461.2,139.4 461.6,139.6 462.1,138.8 462.6,139.3 463.1,139.1 463.5,139.4 464.0,140.1 464.5,138.3 464.9,138.6 465.4,138.3 465.9,135.9 466.3,137.3 466.8,138.2 467.3,138.6 467.7,137.7 468.2,138.8 468.7,138.9 469.1,137.7 469.6,138.9 470.1,139.1 470.5,138.2 471.0,137.2 471.5,138.8 471.9,137.7 472.4,137.5 472.9,137.8 473.3,137.3 473.8,138.3 474.3,138.1 474.7,138.4 475.2,137.9 475.7,137.0 476.1,137.4 476.6,138.0 477.1,137.2 477.5,139.3 478.0,137.2 478.5,137.0 478.9,138.1 479.4,137.8 479.9,137.2 480.3,137.1 480.8,137.5 481.3,137.7 481.8,137.6 482.2,136.9 482.7,137.3 483.2,137.6 483.6,137.5 484.1,135.0 484.6,136.4 485.0,136.4 485.5,136.7 486.0,136.9 486.4,137.4 486.9,137.1 487.4,136.6 487.8,136.7 488.3,137.7 488.8,136.2 489.2,136.8 489.7,137.5 490.2,136.7 490.6,135.2 491.1,136.7 491.6,136.2 492.0,136.3 492.5,137.0 493.0,136.6 493.4,136.1 493.9,136.8 494.4,136.5 494.8,136.3 495.3,136.3 495.8,136.3 496.2,135.9 496.7,135.8 497.2,136.1 497.6,135.5 498.1,135.3 498.6,136.8 499.1,135.9 499.5,136.0 500.0,135.9 500.5,136.0 500.9,136.0 501.4,136.0 501.9,135.4 502.3,136.5 502.8,135.5 503.3,136.5 503.7,134.7 504.2,135.2 504.7,136.4 505.1,135.8 505.6,135.4 506.1,136.0 506.5,135.2 507.0,135.8 507.5,134.5 507.9,135.5 508.4,135.4 508.9,136.1 509.3,136.3 509.8,135.2 510.3,136.7 510.7,135.4 511.2,134.5 511.7,134.3 512.1,136.6 512.6,135.6 513.1,135.3 513.5,135.2 514.0,135.0 514.5,136.4 514.9,135.6 515.4,136.6 515.9,135.5 516.3,134.2 516.8,136.0 517.3,135.3 517.8,135.4 518.2,136.4 518.7,135.3 519.2,136.1 519.6,135.5 520.1,135.0 520.6,135.7 521.0,135.1 521.5,136.1 522.0,136.0 522.4,135.4 522.9,135.7 523.4,135.7 523.8,135.2 524.3,135.9 524.8,135.2 525.2,135.7 525.7,134.8 526.2,135.4 526.6,135.6 527.1,134.9 527.6,135.1 528.0,135.0 528.5,135.7 529.0,134.9 529.4,135.5 529.9,136.1 530.4,135.5 530.8,134.4 531.3,135.4 531.8,135.9 532.2,135.1 532.7,135.9 533.2,135.6 533.6,135.5 534.1,135.2 534.6,135.0 535.0,135.2 535.5,135.3 536.0,135.6 536.5,135.5 536.9,135.1 537.4,135.3 537.9,135.5 538.3,134.4 538.8,134.9 539.3,134.9 539.7,135.2 540.2,135.1 540.7,135.1 541.1,134.8 541.6,135.6 542.1,135.4 542.5,134.4 543.0,135.3 543.5,134.7 543.9,136.2 544.4,135.0 544.9,135.1 545.3,135.3 545.8,135.2 546.3,135.2 546.7,136.1 547.2,135.4 547.7,135.7 548.1,135.9 548.6,134.8 549.1,136.1 549.5,135.6 550.0,135.8 550.5,134.8 550.9,135.7 551.4,135.5 551.9,135.0 552.3,136.4 552.8,135.6 553.3,135.1 553.7,135.4 554.2,135.7 554.7,135.8 555.2,135.6 555.6,135.9 556.1,136.0 556.6,134.7 557.0,135.0 557.5,134.8 558.0,135.3 558.4,136.0 558.9,135.6 559.4,134.7 559.8,135.1 560.3,135.8 560.8,135.0 561.2,135.2 561.7,135.4 562.2,134.4 562.6,135.6 563.1,135.4 563.6,135.5 564.0,134.8 564.5,134.9 565.0,135.0 565.4,135.4 565.9,135.3 566.4,135.3 566.8,136.1 567.3,135.9 567.8,134.9 568.2,134.9 568.7,136.0 569.2,135.1 569.6,135.9 570.1,136.0 570.6,135.0 571.0,135.1 571.5,135.3 572.0,134.8 572.4,134.8 572.9,135.1 573.4,135.6 573.9,135.0 574.3,135.1 574.8,135.0 575.3,134.6 575.7,135.9 576.2,134.2 576.7,134.9 577.1,135.5 577.6,134.6 578.1,135.5 578.5,135.8 579.0,134.8 579.5,135.3 579.9,134.7 580.4,135.5 580.9,135.3 581.3,135.3 581.8,135.8 582.3,135.4 582.7,135.8 583.2,135.5 583.7,134.7 584.1,135.3 584.6,135.4 585.1,134.6 585.5,135.8 586.0,135.3 586.5,135.4 586.9,134.8 587.4,135.3 587.9,135.4 588.3,135.1 588.8,135.3 589.3,134.3 589.7,135.8 590.2,134.8 590.7,134.3 591.2,134.8 591.6,134.9 592.1,135.5 592.6,134.8 593.0,135.3 593.5,134.8 594.0,136.1 594.4,135.4 594.9,136.0 595.4,134.8 595.8,135.5 596.3,134.8 596.8,135.5 597.2,135.5 597.7,134.6 598.2,134.8 598.6,134.7 599.1,134.6 599.6,134.9 600.0,134.8 600.5,134.6 601.0,135.3 601.4,135.4 601.9,134.7 602.4,135.0 602.8,135.2 603.3,135.1 603.8,134.9 604.2,135.5 604.7,135.5 605.2,135.5 605.6,135.1 606.1,136.0 606.6,135.9 607.0,135.1 607.5,135.2 608.0,135.7 608.4,134.9 608.9,135.4 609.4,135.2 609.9,134.9 610.3,135.1 610.8,134.6 611.3,135.0 611.7,134.5 612.2,136.1 612.7,135.8 613.1,135.7 613.6,135.3 614.1,135.6 614.5,135.7 615.0,135.6 615.5,135.5 615.9,134.9 616.4,135.4 616.9,135.0 617.3,134.8 617.8,134.8 618.3,135.4 618.7,135.6 619.2,134.7 619.7,135.8 620.1,135.7 620.6,135.1 621.1,135.0 621.5,135.2 622.0,135.6 622.5,135.1 622.9,134.8 623.4,135.3 623.9,134.5 624.3,135.3 624.8,135.6 625.3,135.3 625.7,135.5 626.2,135.4 626.7,135.5 627.1,135.3 627.6,134.9 628.1,135.1 628.6,135.2 629.0,135.6 629.5,135.8 630.0,135.3 630.4,134.9 630.9,135.0 631.4,135.1 631.8,135.7 632.3,135.3 632.8,135.2 633.2,134.9 633.7,135.5 634.2,135.3 634.6,135.2 635.1,135.2 635.6,135.8 636.0,135.1 636.5,135.8 637.0,135.6 637.4,135.2 637.9,135.5 638.4,135.2 638.8,134.9 639.3,135.1 639.8,134.9 640.2,135.4 640.7,135.2 641.2,135.4 641.6,135.5 642.1,134.2 642.6,135.3 643.0,134.6 643.5,135.3 644.0,134.9 644.4,135.2 644.9,135.6 645.4,134.7 645.8,135.3 646.3,135.2 646.8,134.6 647.3,135.4 647.7,135.2 648.2,135.1 648.7,135.0 649.1,136.2 649.6,135.1 650.1,134.7 650.5,134.9 651.0,135.1 651.5,135.1 651.9,135.2 652.4,134.9 652.9,135.4 653.3,135.1 653.8,134.8 654.3,135.0 654.7,135.1 655.2,135.5 655.7,135.4 656.1,135.1 656.6,135.2 657.1,135.3 657.5,135.8 658.0,135.1 658.5,135.4 658.9,135.5 659.4,135.0 659.9,135.3 660.3,135.3 660.8,135.1 661.3,135.4 661.7,135.6 662.2,135.6 662.7,135.2 663.1,135.3 663.6,135.9 664.1,135.0 664.6,135.3 665.0,135.5 665.5,135.3 666.0,135.5 666.4,135.3 666.9,135.5 667.4,135.6 667.8,135.2 668.3,135.4 668.8,135.3 669.2,135.2 669.7,135.3 670.2,135.0 670.6,135.5 671.1,135.8 671.6,135.8 672.0,135.7 672.5,135.1 673.0,135.7 673.4,135.2 673.9,135.3 674.4,135.8 674.8,135.1 675.3,135.6 675.8,135.4 676.2,135.3 676.7,135.2 677.2,135.5 677.6,135.3 678.1,135.7 678.6,135.7 679.0,135.1 679.5,135.3 680.0,135.3 680.4,135.1 680.9,135.2 681.4,135.5 681.8,135.4 682.3,135.0 682.8,135.3 683.3,135.6 683.7,135.2 684.2,135.2 684.7,135.8 685.1,135.8 685.6,135.1 686.1,135.2 686.5,135.6 687.0,135.2 687.5,135.4 687.9,135.4 688.4,135.6 688.9,134.9 689.3,135.0 689.8,135.2 690.3,135.8 690.7,135.5 691.2,135.2 691.7,135.7 692.1,135.7 692.6,135.5 693.1,135.5 693.5,135.7 694.0,135.8 694.5,135.6 694.9,135.7 695.4,135.6 695.9,135.5 696.3,135.4 696.8,135.7 697.3,135.6 697.7,135.6 698.2,135.8 698.7,135.7 699.1,135.8 699.6,135.3 700.1,135.8 700.5,135.5 701.0,135.5 701.5,135.5 702.0,135.9 702.4,135.9 702.9,135.5 703.4,135.5 703.8,135.7 704.3,135.6 704.8,136.0 705.2,135.4 705.7,135.4 706.2,135.7 706.6,135.7 707.1,135.8 707.6,135.9 708.0,136.2 708.5,135.7 709.0,135.7 709.4,135.4 709.9,135.8 710.4,136.0 710.8,135.8 711.3,136.0 711.8,135.8 712.2,136.1 712.7,135.9 713.2,135.6 713.6,135.7 714.1,135.6 714.6,135.5 715.0,135.9 715.5,136.0 716.0,136.2 716.4,135.9 716.9,135.9 717.4,135.7 717.8,136.1 718.3,136.0 718.8,135.8 719.2,136.1 719.7,136.0 720.2,135.6 720.7,136.1 721.1,136.0 721.6,135.9 722.1,135.9 722.5,136.3 723.0,136.2 723.5,136.3 723.9,135.8 724.4,135.9 724.9,136.2 725.3,135.8 725.8,135.9 726.3,135.8 726.7,136.3 727.2,136.2 727.7,136.1 728.1,136.1 728.6,136.0 729.1,136.0 729.5,136.2 730.0,136.0 730.5,136.3 730.9,136.0 731.4,136.0 731.9,136.3 732.3,136.1 732.8,136.2 733.3,136.1 733.7,135.8 734.2,136.3 734.7,136.0 735.1,136.3 735.6,136.0 736.1,135.9 736.5,136.3 737.0,136.3 737.5,136.2 737.9,136.1 738.4,136.4 738.9,136.1 739.4,136.2 739.8,136.2 740.3,136.2 740.8,136.4 741.2,136.2 741.7,136.4 742.2,136.4 742.6,136.1 743.1,136.2 743.6,136.3 744.0,136.3 744.5,136.4 745.0,136.1 745.4,136.5 745.9,136.5 746.4,136.4 746.8,136.2 747.3,136.4" fill="none" stroke="#b7ff40" stroke-width="1.2" stroke-opacity="0.9" stroke-linejoin="round"/>
<path d="M103.9,273.7 104.1,273.8 104.4,274.0 104.6,274.0 104.8,274.1 105.0,274.2 105.3,274.2 105.5,274.3 105.7,274.3 105.9,274.3 106.2,274.3 106.4,274.3 106.6,274.3 106.8,274.2 107.1,273.9 107.3,273.6 107.5,273.1 107.7,272.5 108.0,271.9 108.2,271.3 108.4,270.7 108.6,269.9 108.9,269.0 109.1,268.0 109.3,266.9 109.5,265.9 109.8,264.9 110.0,264.1 110.2,263.5 110.4,263.0 110.7,262.4 110.9,262.0 111.1,261.6 111.3,261.2 111.6,261.0 111.8,260.8 112.0,260.7 112.2,260.7 112.5,260.6 112.7,260.6 112.9,260.6 113.2,260.5 113.4,260.5 113.6,260.5 113.8,260.5 114.1,260.5 114.3,260.5 114.5,260.7 114.7,260.8 115.0,260.9 115.2,261.0 115.4,261.1 115.6,261.1 115.9,261.0 116.1,260.9 116.3,260.6 116.5,260.3 116.8,259.8 117.0,259.4 117.2,258.8 117.4,258.2 117.7,257.6 117.9,256.9 118.1,255.9 118.3,254.9 118.6,253.7 118.8,252.5 119.0,251.2 119.2,250.0 119.5,248.6 119.7,247.2 119.9,245.7 120.1,244.1 120.4,242.4 120.6,240.8 120.8,239.1 121.0,237.3 121.3,235.5 121.5,233.6 121.7,231.7 122.0,229.8 122.2,227.9 122.4,226.0 122.6,224.3 122.9,222.5 123.1,220.9 123.3,219.4 123.5,217.8 123.8,216.2 124.0,214.7 124.2,213.1 124.4,211.7 124.7,210.3 124.9,208.9 125.1,207.6 125.3,206.3 125.6,205.1 125.8,203.8 126.0,202.6 126.2,201.3 126.5,200.3 126.7,199.1 126.9,198.0 127.1,197.0 127.4,196.0 127.6,194.9 127.8,194.1 128.0,193.1 128.3,192.3 128.5,191.4 128.7,190.5 128.9,189.8 129.2,189.0 129.4,188.2 129.6,187.5 129.8,186.8 130.1,186.0 130.3,185.4 130.5,184.7 130.7,184.0 131.0,183.5 131.2,182.8 131.4,182.2 131.7,181.6 131.9,181.0 132.1,180.5 132.3,179.9 132.6,179.4 132.8,178.8 133.0,178.3 133.2,177.8 133.5,177.2 133.7,176.6 133.9,176.0 134.1,175.7 134.4,175.1 134.6,174.6 134.8,174.1 135.0,173.6 135.3,173.2 135.5,172.8 135.7,172.4 135.9,172.0 136.2,171.6 136.4,171.4 136.6,171.1 136.8,170.7 137.1,170.4 137.3,170.1 137.5,169.9 137.7,169.6 138.0,169.3 138.2,169.0 138.4,168.8 138.6,168.5 138.9,168.3 139.1,168.1 139.3,167.9 139.5,167.6 139.8,167.4 140.0,167.2 140.5,166.8 140.9,166.5 141.4,166.1 141.9,165.7 142.3,165.5 142.8,165.2 143.3,164.8 143.7,164.6 144.2,164.3 144.7,164.1 145.1,163.9 145.6,163.7 146.1,163.5 146.5,163.4 147.0,163.6 147.5,163.2 147.9,163.1 148.4,162.9 148.9,162.9 149.4,162.9 149.8,162.6 150.3,162.5 150.8,162.9 151.2,162.5 151.7,162.9 152.2,162.9 152.6,163.1 153.1,163.2 153.6,163.0 154.0,162.8 154.5,162.7 155.0,162.9 155.4,163.1 155.9,162.7 156.4,163.3 156.8,163.5 157.3,163.9 157.8,163.9 158.2,164.2 158.7,164.2 159.2,164.6 159.6,164.4 160.1,165.2 160.6,165.8 161.0,165.6 161.5,165.9 162.0,165.6 162.4,166.6 162.9,166.1 163.4,166.7 163.8,166.7 164.3,166.6 164.8,167.4 165.2,167.2 165.7,167.5 166.2,167.8 166.6,167.8 167.1,167.9 167.6,168.4 168.1,168.3 168.5,168.7 169.0,168.6 169.5,168.6 169.9,169.1 170.4,169.4 170.9,169.8 171.3,170.4 171.8,169.6 172.3,170.5 172.7,169.9 173.2,170.6 173.7,171.0 174.1,170.6 174.6,171.0 175.1,172.1 175.5,172.3 176.0,172.6 176.5,172.6 176.9,174.1 177.4,173.5 177.9,173.5 178.3,174.9 178.8,174.8 179.3,174.8 179.7,175.7 180.2,175.7 180.7,176.2 181.1,176.4 181.6,176.2 182.1,177.3 182.5,177.3 183.0,177.2 183.5,177.6 183.9,178.6 184.4,178.3 184.9,178.8 185.3,179.3 185.8,179.3 186.3,178.9 186.8,180.1 187.2,180.4 187.7,180.7 188.2,181.2 188.6,180.9 189.1,181.4 189.6,182.0 190.0,181.4 190.5,182.5 191.0,182.8 191.4,182.6 191.9,183.3 192.4,183.1 192.8,182.5 193.3,183.7 193.8,183.6 194.2,183.8 194.7,184.0 195.2,184.8 195.6,184.6 196.1,184.3 196.6,185.1 197.0,185.4 197.5,185.0 198.0,185.3 198.4,185.6 198.9,185.7 199.4,186.4 199.8,187.0 200.3,187.7 200.8,187.6 201.2,187.8 201.7,188.1 202.2,188.5 202.6,187.9 203.1,188.7 203.6,188.7 204.0,188.7 204.5,188.8 205.0,189.0 205.5,189.3 205.9,189.0 206.4,190.1 206.9,190.1 207.3,190.3 207.8,190.7 208.3,191.1 208.7,190.6 209.2,191.0 209.7,190.4 210.1,190.3 210.6,190.6 211.1,192.7 211.5,191.0 212.0,192.5 212.5,193.3 212.9,192.4 213.4,193.7 213.9,194.0 214.3,193.7 214.8,194.7 215.3,193.9 215.7,193.3 216.2,194.1 216.7,193.8 217.1,193.4 217.6,193.6 218.1,195.9 218.5,194.4 219.0,194.8 219.5,194.6 219.9,195.2 220.4,195.2 220.9,195.2 221.3,194.9 221.8,194.9 222.3,195.5 222.7,196.3 223.2,197.5 223.7,197.1 224.2,197.7 224.6,197.0 225.1,196.8 225.6,196.2 226.0,197.2 226.5,196.0 227.0,197.3 227.4,198.6 227.9,197.9 228.4,198.6 228.8,197.8 229.3,197.3 229.8,198.0 230.2,198.1 230.7,199.3 231.2,199.9 231.6,198.3 232.1,198.7 232.6,198.9 233.0,198.9 233.5,198.4 234.0,199.4 234.4,199.7 234.9,199.8 235.4,198.9 235.8,199.7 236.3,198.7 236.8,200.6 237.2,199.4 237.7,200.0 238.2,200.0 238.6,200.0 239.1,199.8 239.6,199.4 240.0,201.9 240.5,201.0 241.0,201.1 241.5,202.4 241.9,201.0 242.4,201.6 242.9,201.3 243.3,202.2 243.8,201.8 244.3,201.7 244.7,201.4 245.2,201.9 245.7,202.5 246.1,200.4 246.6,201.8 247.1,201.6 247.5,201.8 248.0,200.7 248.5,202.6 248.9,201.6 249.4,202.0 249.9,201.9 250.3,201.1 250.8,202.0 251.3,201.1 251.7,201.8 252.2,202.3 252.7,202.5 253.1,202.6 253.6,202.5 254.1,204.2 254.5,203.0 255.0,201.9 255.5,202.4 255.9,202.4 256.4,202.7 256.9,202.5 257.3,202.3 257.8,204.2 258.3,203.0 258.7,202.8 259.2,202.9 259.7,202.9 260.2,204.2 260.6,203.5 261.1,204.0 261.6,200.8 262.0,203.5 262.5,204.0 263.0,204.8 263.4,203.3 263.9,202.0 264.4,203.8 264.8,202.9 265.3,202.0 265.8,202.9 266.2,204.2 266.7,204.3 267.2,204.0 267.6,202.6 268.1,205.4 268.6,202.5 269.0,203.4 269.5,202.3 270.0,204.5 270.4,203.8 270.9,204.2 271.4,203.6 271.8,203.5 272.3,203.7 272.8,202.0 273.2,204.3 273.7,204.3 274.2,203.2 274.6,203.5 275.1,203.7 275.6,204.7 276.0,203.7 276.5,203.3 277.0,202.8 277.4,201.9 277.9,202.5 278.4,203.0 278.9,202.6 279.3,202.7 279.8,203.1 280.3,202.7 280.7,202.5 281.2,202.7 281.7,202.1 282.1,201.8 282.6,202.1 283.1,200.1 283.5,202.5 284.0,200.3 284.5,201.9 284.9,201.1 285.4,201.9 285.9,200.9 286.3,199.9 286.8,201.5 287.3,200.6 287.7,200.5 288.2,200.3 288.7,200.9 289.1,200.7 289.6,200.0 290.1,198.3 290.5,199.2 291.0,199.5 291.5,200.8 291.9,199.5 292.4,198.9 292.9,199.9 293.3,198.6 293.8,198.5 294.3,198.5 294.7,196.9 295.2,198.9 295.7,198.3 296.1,197.5 296.6,196.6 297.1,197.7 297.6,198.6 298.0,196.6 298.5,196.1 299.0,197.2 299.4,195.3 299.9,194.5 300.4,196.0 300.8,195.6 301.3,195.8 301.8,195.4 302.2,196.0 302.7,195.3 303.2,194.8 303.6,194.8 304.1,195.6 304.6,195.7 305.0,195.5 305.5,195.1 306.0,191.3 306.4,193.2 306.9,193.6 307.4,193.9 307.8,192.1 308.3,194.6 308.8,193.4 309.2,192.4 309.7,192.9 310.2,192.3 310.6,191.7 311.1,192.6 311.6,191.6 312.0,190.5 312.5,191.0 313.0,191.3 313.4,190.2 313.9,192.1 314.4,189.7 314.9,192.1 315.3,191.0 315.8,189.1 316.3,189.8 316.7,190.5 317.2,189.0 317.7,187.8 318.1,188.7 318.6,190.1 319.1,186.7 319.5,188.2 320.0,187.5 320.5,187.0 320.9,186.5 321.4,186.2 321.9,187.2 322.3,186.5 322.8,184.7 323.3,186.7 323.7,183.9 324.2,185.3 324.7,184.6 325.1,185.2 325.6,184.2 326.1,184.5 326.5,183.3 327.0,183.9 327.5,183.0 327.9,184.4 328.4,181.6 328.9,183.1 329.3,182.2 329.8,181.7 330.3,180.8 330.7,181.5 331.2,179.5 331.7,179.4 332.1,181.0 332.6,178.8 333.1,181.3 333.6,179.5 334.0,179.8 334.5,179.4 335.0,179.6 335.4,178.7 335.9,178.5 336.4,178.5 336.8,179.3 337.3,179.2 337.8,179.1 338.2,178.1 338.7,177.4 339.2,175.9 339.6,177.8 340.1,177.8 340.6,176.4 341.0,177.3 341.5,177.5 342.0,176.2 342.4,176.9 342.9,176.0 343.4,173.9 343.8,174.8 344.3,174.6 344.8,175.2 345.2,173.7 345.7,173.9 346.2,173.1 346.6,173.7 347.1,173.6 347.6,174.1 348.0,173.7 348.5,172.8 349.0,172.6 349.4,172.2 349.9,172.0 350.4,173.0 350.8,169.1 351.3,170.9 351.8,171.1 352.3,171.5 352.7,169.3 353.2,170.3 353.7,170.5 354.1,169.1 354.6,167.5 355.1,168.6 355.5,167.6 356.0,169.0 356.5,167.5 356.9,169.6 357.4,167.9 357.9,166.8 358.3,166.9 358.8,166.1 359.3,167.3 359.7,168.1 360.2,166.3 360.7,167.2 361.1,165.3 361.6,166.2 362.1,167.9 362.5,164.3 363.0,166.5 363.5,166.3 363.9,163.4 364.4,163.6 364.9,163.8 365.3,165.3 365.8,163.9 366.3,163.9 366.7,164.5 367.2,163.7 367.7,163.6 368.1,162.9 368.6,164.0 369.1,162.0 369.5,164.0 370.0,161.9 370.5,161.2 371.0,162.3 371.4,161.9 371.9,159.4 372.4,161.1 372.8,159.5 373.3,159.7 373.8,160.9 374.2,159.1 374.7,160.0 375.2,159.1 375.6,160.9 376.1,158.8 376.6,157.6 377.0,157.5 377.5,157.4 378.0,158.1 378.4,157.8 378.9,158.5 379.4,157.6 379.8,157.3 380.3,157.3 380.8,156.8 381.2,157.0 381.7,157.2 382.2,157.0 382.6,155.7 383.1,154.4 383.6,155.1 384.0,155.9 384.5,153.3 385.0,155.0 385.4,155.6 385.9,154.6 386.4,153.9 386.8,156.3 387.3,155.8 387.8,154.2 388.2,155.5 388.7,155.3 389.2,153.1 389.7,156.2 390.1,153.0 390.6,153.4 391.1,152.6 391.5,153.4 392.0,152.1 392.5,153.1 392.9,153.9 393.4,153.0 393.9,152.5 394.3,153.9 394.8,151.7 395.3,153.1 395.7,151.9 396.2,152.2 396.7,151.9 397.1,151.9 397.6,151.6 398.1,150.9 398.5,150.9 399.0,151.7 399.5,151.1 399.9,150.1 400.4,150.4 400.9,150.3 401.3,150.7 401.8,150.7 402.3,150.6 402.7,149.8 403.2,150.3 403.7,149.0 404.1,147.7 404.6,149.9 405.1,148.5 405.5,148.9 406.0,148.6 406.5,150.0 407.0,148.4 407.4,149.5 407.9,148.8 408.4,148.1 408.8,147.7 409.3,149.2 409.8,149.0 410.2,149.2 410.7,150.0 411.2,148.6 411.6,148.5 412.1,148.1 412.6,148.2 413.0,147.8 413.5,147.3 414.0,149.4 414.4,146.3 414.9,147.9 415.4,147.9 415.8,147.6 416.3,146.6 416.8,147.1 417.2,146.8 417.7,146.3 418.2,146.9 418.6,146.5 419.1,146.3 419.6,147.1 420.0,145.7 420.5,146.7 421.0,145.8 421.4,146.4 421.9,146.0 422.4,145.9 422.8,144.9 423.3,144.9 423.8,144.7 424.2,145.3 424.7,145.6 425.2,145.7 425.7,144.4 426.1,144.8 426.6,143.4 427.1,142.8 427.5,143.7 428.0,143.8 428.5,143.0 428.9,142.8 429.4,144.4 429.9,143.3 430.3,142.5 430.8,145.4 431.3,143.7 431.7,143.3 432.2,143.9 432.7,142.8 433.1,144.4 433.6,142.0 434.1,142.1 434.5,142.9 435.0,142.3 435.5,143.8 435.9,141.6 436.4,142.1 436.9,142.7 437.3,142.9 437.8,143.1 438.3,142.5 438.7,143.8 439.2,141.8 439.7,142.2 440.1,142.6 440.6,141.7 441.1,141.6 441.5,141.4 442.0,141.2 442.5,140.8 442.9,141.1 443.4,140.3 443.9,141.6 444.4,140.2 444.8,142.7 445.3,142.3 445.8,141.8 446.2,140.9 446.7,140.5 447.2,141.7 447.6,140.9 448.1,141.1 448.6,140.2 449.0,141.3 449.5,140.0 450.0,140.5 450.4,139.2 450.9,139.9 451.4,140.6 451.8,139.9 452.3,139.8 452.8,140.6 453.2,139.9 453.7,140.8 454.2,138.2 454.6,140.2 455.1,140.1 455.6,138.6 456.0,138.7 456.5,140.1 457.0,138.7 457.4,138.9 457.9,139.7 458.4,139.0 458.8,139.5 459.3,138.5 459.8,139.2 460.2,139.7 460.7,139.1 461.2,137.4 461.6,139.2 462.1,138.8 462.6,138.0 463.1,139.5 463.5,137.4 464.0,139.7 464.5,138.0 464.9,139.4 465.4,138.3 465.9,137.4 466.3,138.3 466.8,138.4 467.3,138.5 467.7,138.8 468.2,137.4 468.7,138.3 469.1,138.4 469.6,137.7 470.1,137.3 470.5,137.2 471.0,138.3 471.5,138.3 471.9,137.2 472.4,136.8 472.9,138.5 473.3,136.6 473.8,137.7 474.3,137.1 474.7,136.4 475.2,137.6 475.7,137.4 476.1,138.4 476.6,138.9 477.1,137.3 477.5,138.0 478.0,138.0 478.5,137.0 478.9,136.7 479.4,138.3 479.9,137.0 480.3,137.2 480.8,137.0 481.3,137.0 481.8,136.7 482.2,137.5 482.7,137.8 483.2,136.8 483.6,136.1 484.1,137.0 484.6,136.0 485.0,136.5 485.5,137.6 486.0,138.2 486.4,137.0 486.9,136.1 487.4,137.2 487.8,135.2 488.3,136.2 488.8,137.5 489.2,137.0 489.7,135.6 490.2,135.4 490.6,137.0 491.1,136.4 491.6,136.0 492.0,136.6 492.5,135.9 493.0,135.1 493.4,136.7 493.9,135.8 494.4,135.6 494.8,135.3 495.3,136.3 495.8,135.6 496.2,136.5 496.7,135.9 497.2,136.7 497.6,135.8 498.1,135.6 498.6,134.8 499.1,135.3 499.5,136.4 500.0,137.8 500.5,135.2 500.9,135.3 501.4,136.1 501.9,136.2 502.3,135.5 502.8,135.9 503.3,134.9 503.7,135.7 504.2,136.4 504.7,136.8 505.1,135.7 505.6,135.6 506.1,136.1 506.5,136.4 507.0,136.1 507.5,135.3 507.9,136.0 508.4,136.3 508.9,135.3 509.3,134.9 509.8,136.0 510.3,135.9 510.7,136.2 511.2,135.7 511.7,135.3 512.1,135.4 512.6,135.0 513.1,135.1 513.5,135.3 514.0,135.3 514.5,136.2 514.9,134.9 515.4,135.5 515.9,135.2 516.3,136.4 516.8,135.7 517.3,135.3 517.8,136.0 518.2,135.5 518.7,135.2 519.2,136.3 519.6,135.8 520.1,136.4 520.6,136.1 521.0,135.8 521.5,135.5 522.0,134.8 522.4,135.8 522.9,135.4 523.4,135.7 523.8,135.3 524.3,135.0 524.8,134.8 525.2,135.7 525.7,136.0 526.2,135.1 526.6,135.6 527.1,136.1 527.6,134.8 528.0,135.1 528.5,134.7 529.0,135.9 529.4,135.4 529.9,135.0 530.4,134.4 530.8,135.2 531.3,135.8 531.8,135.1 532.2,135.0 532.7,135.6 533.2,134.6 533.6,135.3 534.1,135.6 534.6,134.9 535.0,134.8 535.5,135.4 536.0,135.2 536.5,135.1 536.9,135.4 537.4,135.4 537.9,134.8 538.3,134.9 538.8,135.5 539.3,135.9 539.7,136.0 540.2,134.8 540.7,135.8 541.1,135.7 541.6,135.2 542.1,135.5 542.5,135.7 543.0,136.2 543.5,134.7 543.9,135.6 544.4,135.2 544.9,135.1 545.3,135.8 545.8,135.7 546.3,134.7 546.7,135.1 547.2,135.4 547.7,134.5 548.1,135.7 548.6,135.2 549.1,135.3 549.5,135.4 550.0,136.2 550.5,135.3 550.9,135.1 551.4,136.1 551.9,135.0 552.3,135.0 552.8,134.6 553.3,135.8 553.7,135.4 554.2,135.5 554.7,135.3 555.2,135.2 555.6,134.9 556.1,134.9 556.6,135.4 557.0,135.3 557.5,136.0 558.0,134.9 558.4,135.0 558.9,134.7 559.4,135.9 559.8,134.6 560.3,135.6 560.8,135.9 561.2,135.2 561.7,135.6 562.2,134.2 562.6,135.0 563.1,134.4 563.6,135.3 564.0,135.2 564.5,134.9 565.0,135.7 565.4,135.4 565.9,135.0 566.4,135.0 566.8,134.5 567.3,135.1 567.8,136.2 568.2,134.9 568.7,135.4 569.2,135.0 569.6,135.6 570.1,135.4 570.6,135.1 571.0,134.4 571.5,135.0 572.0,135.8 572.4,135.1 572.9,135.5 573.4,135.0 573.9,134.4 574.3,135.4 574.8,135.4 575.3,135.0 575.7,135.1 576.2,135.3 576.7,135.0 577.1,135.4 577.6,135.1 578.1,134.2 578.5,135.2 579.0,134.9 579.5,134.8 579.9,135.4 580.4,135.0 580.9,135.4 581.3,135.7 581.8,135.3 582.3,134.5 582.7,134.9 583.2,135.6 583.7,135.1 584.1,134.9 584.6,135.2 585.1,135.4 585.5,135.3 586.0,135.5 586.5,134.9 586.9,135.1 587.4,135.1 587.9,135.2 588.3,134.3 588.8,135.1 589.3,134.6 589.7,135.8 590.2,135.9 590.7,135.9 591.2,135.5 591.6,135.0 592.1,135.6 592.6,135.1 593.0,135.5 593.5,134.8 594.0,135.0 594.4,135.4 594.9,135.9 595.4,135.2 595.8,136.1 596.3,136.3 596.8,134.7 597.2,135.2 597.7,134.8 598.2,135.1 598.6,135.0 599.1,135.2 599.6,135.6 600.0,135.6 600.5,135.3 601.0,135.2 601.4,135.2 601.9,135.3 602.4,135.4 602.8,135.2 603.3,135.4 603.8,134.7 604.2,135.5 604.7,135.9 605.2,135.3 605.6,134.7 606.1,135.7 606.6,135.1 607.0,134.1 607.5,135.1 608.0,135.4 608.4,135.3 608.9,135.7 609.4,135.4 609.9,135.2 610.3,134.5 610.8,134.8 611.3,135.3 611.7,135.5 612.2,134.8 612.7,135.0 613.1,135.4 613.6,134.5 614.1,134.5 614.5,135.1 615.0,135.3 615.5,135.0 615.9,134.4 616.4,135.2 616.9,134.7 617.3,135.4 617.8,135.2 618.3,135.3 618.7,135.4 619.2,135.0 619.7,135.5 620.1,135.6 620.6,135.3 621.1,135.7 621.5,135.0 622.0,135.5 622.5,135.3 622.9,134.8 623.4,135.2 623.9,135.0 624.3,135.0 624.8,135.2 625.3,135.6 625.7,135.1 626.2,135.2 626.7,134.7 627.1,135.2 627.6,135.6 628.1,135.5 628.6,135.4 629.0,135.0 629.5,134.9 630.0,135.2 630.4,134.7 630.9,134.8 631.4,135.5 631.8,134.9 632.3,135.8 632.8,134.7 633.2,135.3 633.7,134.8 634.2,135.3 634.6,134.9 635.1,135.2 635.6,135.1 636.0,135.0 636.5,135.4 637.0,135.7 637.4,135.0 637.9,135.5 638.4,135.2 638.8,135.2 639.3,135.9 639.8,134.5 640.2,135.0 640.7,134.6 641.2,135.1 641.6,135.1 642.1,136.4 642.6,135.3 643.0,135.8 643.5,135.6 644.0,135.1 644.4,135.3 644.9,135.7 645.4,135.3 645.8,135.3 646.3,135.4 646.8,134.7 647.3,135.0 647.7,135.3 648.2,135.4 648.7,134.9 649.1,135.1 649.6,135.2 650.1,135.2 650.5,135.4 651.0,135.2 651.5,135.3 651.9,134.8 652.4,134.9 652.9,135.3 653.3,134.8 653.8,135.3 654.3,135.0 654.7,135.0 655.2,135.4 655.7,135.0 656.1,135.0 656.6,135.0 657.1,135.3 657.5,136.0 658.0,134.6 658.5,135.2 658.9,135.2 659.4,135.5 659.9,135.1 660.3,134.6 660.8,135.6 661.3,135.0 661.7,135.2 662.2,134.9 662.7,135.0 663.1,135.1 663.6,135.5 664.1,135.5 664.6,135.1 665.0,135.4 665.5,135.2 666.0,135.3 666.4,135.3 666.9,135.5 667.4,135.1 667.8,135.3 668.3,135.4 668.8,135.3 669.2,135.1 669.7,135.8 670.2,135.2 670.6,135.5 671.1,135.4 671.6,135.6 672.0,134.8 672.5,135.9 673.0,135.3 673.4,135.0 673.9,135.4 674.4,135.9 674.8,135.5 675.3,135.1 675.8,135.3 676.2,135.7 676.7,135.0 677.2,135.3 677.6,135.3 678.1,135.9 678.6,135.3 679.0,135.7 679.5,135.2 680.0,135.2 680.4,135.7 680.9,135.6 681.4,135.0 681.8,135.6 682.3,135.6 682.8,135.3 683.3,135.5 683.7,135.5 684.2,135.3 684.7,135.3 685.1,135.3 685.6,135.4 686.1,135.2 686.5,135.5 687.0,135.1 687.5,135.5 687.9,135.5 688.4,135.3 688.9,135.7 689.3,135.9 689.8,135.8 690.3,135.2 690.7,135.8 691.2,135.6 691.7,135.5 692.1,135.4 692.6,135.5 693.1,135.9 693.5,135.7 694.0,135.5 694.5,135.4 694.9,135.5 695.4,135.7 695.9,136.0 696.3,135.4 696.8,135.6 697.3,135.5 697.7,135.5 698.2,135.7 698.7,135.7 699.1,135.3 699.6,135.4 700.1,135.9 700.5,135.7 701.0,135.8 701.5,135.6 702.0,135.6 702.4,135.8 702.9,135.6 703.4,135.5 703.8,135.7 704.3,135.9 704.8,135.5 705.2,135.9 705.7,135.9 706.2,135.6 706.6,135.7 707.1,135.7 707.6,135.9 708.0,135.9 708.5,135.5 709.0,135.5 709.4,136.0 709.9,135.8 710.4,135.9 710.8,135.9 711.3,136.1 711.8,135.6 712.2,136.0 712.7,135.7 713.2,136.0 713.6,136.1 714.1,135.6 714.6,135.9 715.0,135.8 715.5,135.8 716.0,135.9 716.4,135.7 716.9,135.7 717.4,136.0 717.8,136.1 718.3,135.8 718.8,135.7 719.2,136.3 719.7,136.1 720.2,136.0 720.7,135.8 721.1,135.9 721.6,136.0 722.1,135.8 722.5,136.2 723.0,136.0 723.5,136.1 723.9,135.8 724.4,135.9 724.9,135.9 725.3,136.1 725.8,136.0 726.3,136.0 726.7,136.1 727.2,136.1 727.7,136.3 728.1,136.0 728.6,135.9 729.1,136.1 729.5,136.3 730.0,136.0 730.5,136.1 730.9,136.1 731.4,136.2 731.9,136.2 732.3,136.0 732.8,136.1 733.3,136.3 733.7,136.3 734.2,136.3 734.7,136.3 735.1,136.1 735.6,136.1 736.1,136.3 736.5,136.0 737.0,136.2 737.5,136.0 737.9,136.2 738.4,136.1 738.9,136.1 739.4,136.3 739.8,136.2 740.3,136.2 740.8,136.2 741.2,136.2 741.7,136.5 742.2,136.2 742.6,136.3 743.1,136.2 743.6,136.3 744.0,136.3 744.5,136.3 745.0,136.3 745.4,136.4 745.9,136.6 746.4,136.4 746.8,136.4 747.3,136.3" fill="none" stroke="#b7ff40" stroke-width="1.2" stroke-opacity="0.9" stroke-linejoin="round"/>
<path d="M103.9,273.7 104.1,273.8 104.4,274.0 104.6,274.0 104.8,274.1 105.0,274.2 105.3,274.2 105.5,274.3 105.7,274.3 105.9,274.3 106.2,274.3 106.4,274.3 106.6,274.3 106.8,274.2 107.1,274.0 107.3,273.6 107.5,273.1 107.7,272.5 108.0,271.9 108.2,271.3 108.4,270.7 108.6,269.9 108.9,269.0 109.1,268.0 109.3,266.9 109.5,265.9 109.8,264.9 110.0,264.1 110.2,263.4 110.4,262.9 110.7,262.5 110.9,262.0 111.1,261.6 111.3,261.3 111.6,261.0 111.8,260.8 112.0,260.7 112.2,260.7 112.5,260.6 112.7,260.6 112.9,260.5 113.2,260.5 113.4,260.5 113.6,260.5 113.8,260.5 114.1,260.5 114.3,260.6 114.5,260.6 114.7,260.8 115.0,260.9 115.2,261.0 115.4,261.0 115.6,261.1 115.9,261.1 116.1,260.9 116.3,260.6 116.5,260.3 116.8,259.9 117.0,259.3 117.2,258.8 117.4,258.3 117.7,257.6 117.9,256.9 118.1,255.9 118.3,254.9 118.6,253.7 118.8,252.5 119.0,251.2 119.2,249.9 119.5,248.6 119.7,247.2 119.9,245.7 120.1,244.1 120.4,242.4 120.6,240.8 120.8,239.1 121.0,237.3 121.3,235.5 121.5,233.6 121.7,231.7 122.0,229.8 122.2,227.9 122.4,226.0 122.6,224.2 122.9,222.6 123.1,220.9 123.3,219.3 123.5,217.7 123.8,216.2 124.0,214.7 124.2,213.1 124.4,211.7 124.7,210.3 124.9,208.9 125.1,207.6 125.3,206.3 125.6,205.1 125.8,203.9 126.0,202.6 126.2,201.4 126.5,200.3 126.7,199.1 126.9,198.1 127.1,196.9 127.4,196.0 127.6,195.0 127.8,194.0 128.0,193.1 128.3,192.3 128.5,191.4 128.7,190.6 128.9,189.8 129.2,189.0 129.4,188.2 129.6,187.5 129.8,186.8 130.1,186.1 130.3,185.4 130.5,184.8 130.7,184.1 131.0,183.5 131.2,182.9 131.4,182.2 131.7,181.6 131.9,181.0 132.1,180.4 132.3,179.9 132.6,179.3 132.8,178.8 133.0,178.3 133.2,177.8 133.5,177.2 133.7,176.6 133.9,176.2 134.1,175.6 134.4,175.1 134.6,174.6 134.8,174.1 135.0,173.7 135.3,173.2 135.5,172.9 135.7,172.4 135.9,172.0 136.2,171.8 136.4,171.3 136.6,171.1 136.8,170.8 137.1,170.4 137.3,170.1 137.5,169.9 137.7,169.6 138.0,169.3 138.2,169.1 138.4,168.7 138.6,168.6 138.9,168.3 139.1,168.0 139.3,167.9 139.5,167.6 139.8,167.3 140.0,167.2 140.5,166.8 140.9,166.5 141.4,166.1 141.9,165.9 142.3,165.5 142.8,165.2 143.3,164.9 143.7,164.5 144.2,164.2 144.7,164.1 145.1,163.9 145.6,163.7 146.1,163.5 146.5,163.2 147.0,163.4 147.5,163.2 147.9,162.9 148.4,163.0 148.9,163.0 149.4,162.8 149.8,163.0 150.3,162.9 150.8,162.5 151.2,162.7 151.7,162.9 152.2,163.0 152.6,163.1 153.1,162.5 153.6,162.9 154.0,163.1 154.5,163.3 155.0,163.4 155.4,162.9 155.9,163.1 156.4,163.0 156.8,163.7 157.3,163.4 157.8,164.3 158.2,164.4 158.7,164.6 159.2,164.1 159.6,164.7 160.1,165.4 160.6,164.9 161.0,165.5 161.5,165.7 162.0,166.2 162.4,166.2 162.9,166.4 163.4,166.3 163.8,166.7 164.3,166.8 164.8,167.3 165.2,167.2 165.7,167.8 166.2,167.1 166.6,168.2 167.1,168.0 167.6,168.6 168.1,168.5 168.5,168.9 169.0,169.4 169.5,168.9 169.9,169.3 170.4,169.5 170.9,169.8 171.3,169.4 171.8,170.2 172.3,170.4 172.7,170.4 173.2,170.9 173.7,170.6 174.1,172.0 174.6,171.9 175.1,172.7 175.5,172.0 176.0,172.1 176.5,173.0 176.9,172.6 177.4,173.6 177.9,173.6 178.3,174.1 178.8,174.6 179.3,174.9 179.7,176.0 180.2,175.8 180.7,175.4 181.1,176.7 181.6,176.1 182.1,177.0 182.5,176.7 183.0,177.2 183.5,178.4 183.9,177.9 184.4,178.2 184.9,178.5 185.3,178.9 185.8,179.9 186.3,179.0 186.8,179.2 187.2,180.3 187.7,179.6 188.2,180.3 188.6,181.2 189.1,181.0 189.6,181.0 190.0,181.2 190.5,181.3 191.0,181.7 191.4,182.3 191.9,183.0 192.4,183.1 192.8,182.7 193.3,182.8 193.8,183.7 194.2,182.8 194.7,183.7 195.2,184.0 195.6,183.8 196.1,184.1 196.6,185.0 197.0,184.3 197.5,184.8 198.0,185.2 198.4,185.8 198.9,185.3 199.4,186.8 199.8,186.3 200.3,186.6 200.8,186.8 201.2,186.9 201.7,187.0 202.2,188.3 202.6,188.1 203.1,188.2 203.6,189.0 204.0,188.4 204.5,189.3 205.0,189.2 205.5,188.9 205.9,190.0 206.4,189.0 206.9,190.4 207.3,189.8 207.8,190.7 208.3,191.4 208.7,191.2 209.2,190.7 209.7,191.2 210.1,191.2 210.6,191.0 211.1,191.2 211.5,192.0 212.0,192.5 212.5,191.4 212.9,192.5 213.4,193.0 213.9,193.0 214.3,192.5 214.8,193.9 215.3,192.8 215.7,194.0 216.2,194.7 216.7,192.8 217.1,194.3 217.6,194.5 218.1,194.6 218.5,194.2 219.0,194.6 219.5,194.1 219.9,195.2 220.4,195.6 220.9,195.0 221.3,195.0 221.8,195.5 222.3,195.9 222.7,196.1 223.2,196.1 223.7,196.4 224.2,195.7 224.6,195.0 225.1,197.2 225.6,197.8 226.0,196.2 226.5,196.8 227.0,197.6 227.4,198.1 227.9,198.1 228.4,198.6 228.8,197.9 229.3,198.3 229.8,198.5 230.2,198.1 230.7,199.2 231.2,199.0 231.6,199.3 232.1,198.6 232.6,199.6 233.0,198.4 233.5,199.4 234.0,197.6 234.4,198.7 234.9,200.0 235.4,199.3 235.8,199.8 236.3,198.8 236.8,200.9 237.2,200.4 237.7,200.1 238.2,200.5 238.6,200.6 239.1,201.4 239.6,200.7 240.0,199.7 240.5,200.6 241.0,201.7 241.5,201.3 241.9,200.7 242.4,201.5 242.9,201.3 243.3,201.7 243.8,200.3 244.3,200.8 244.7,202.0 245.2,201.4 245.7,201.9 246.1,203.1 246.6,201.6 247.1,202.0 247.5,201.5 248.0,201.5 248.5,202.0 248.9,201.1 249.4,200.6 249.9,203.1 250.3,202.1 250.8,203.0 251.3,202.4 251.7,202.5 252.2,202.9 252.7,203.0 253.1,201.6 253.6,203.4 254.1,201.9 254.5,202.8 255.0,204.5 255.5,202.8 255.9,203.9 256.4,202.5 256.9,203.3 257.3,202.9 257.8,203.2 258.3,202.3 258.7,202.3 259.2,203.2 259.7,201.9 260.2,202.4 260.6,203.5 261.1,202.6 261.6,202.4 262.0,202.3 262.5,203.2 263.0,202.9 263.4,203.3 263.9,203.0 264.4,204.6 264.8,202.9 265.3,201.8 265.8,203.3 266.2,203.3 266.7,203.4 267.2,202.1 267.6,204.2 268.1,203.3 268.6,203.3 269.0,202.1 269.5,203.7 270.0,203.3 270.4,204.4 270.9,203.1 271.4,202.4 271.8,203.5 272.3,202.7 272.8,203.7 273.2,202.6 273.7,203.3 274.2,203.2 274.6,203.4 275.1,203.0 275.6,202.7 276.0,203.2 276.5,202.7 277.0,203.2 277.4,202.8 277.9,201.1 278.4,202.7 278.9,203.8 279.3,202.8 279.8,202.9 280.3,202.6 280.7,201.8 281.2,200.9 281.7,202.5 282.1,202.6 282.6,202.1 283.1,201.8 283.5,201.7 284.0,201.2 284.5,201.3 284.9,201.0 285.4,201.1 285.9,200.0 286.3,200.1 286.8,201.0 287.3,200.1 287.7,198.2 288.2,200.2 288.7,198.1 289.1,201.4 289.6,200.3 290.1,200.1 290.5,198.9 291.0,198.3 291.5,199.0 291.9,199.0 292.4,198.2 292.9,198.8 293.3,199.1 293.8,198.9 294.3,197.4 294.7,196.3 295.2,198.0 295.7,197.3 296.1,198.0 296.6,198.9 297.1,198.8 297.6,197.4 298.0,198.0 298.5,198.3 299.0,196.8 299.4,196.8 299.9,197.1 300.4,196.2 300.8,195.7 301.3,195.3 301.8,195.8 302.2,195.0 302.7,196.1 303.2,194.9 303.6,196.3 304.1,195.9 304.6,193.6 305.0,195.4 305.5,194.0 306.0,195.3 306.4,194.4 306.9,193.7 307.4,194.2 307.8,192.9 308.3,193.5 308.8,193.4 309.2,192.7 309.7,193.0 310.2,191.6 310.6,192.7 311.1,191.0 311.6,192.4 312.0,192.1 312.5,192.1 313.0,190.8 313.4,193.6 313.9,190.6 314.4,190.7 314.9,189.7 315.3,191.3 315.8,189.5 316.3,190.5 316.7,188.5 317.2,189.3 317.7,188.5 318.1,189.3 318.6,188.0 319.1,187.2 319.5,188.0 320.0,186.3 320.5,186.2 320.9,187.4 321.4,184.8 321.9,186.8 322.3,185.5 322.8,184.7 323.3,185.4 323.7,185.5 324.2,184.1 324.7,184.2 325.1,184.7 325.6,184.4 326.1,183.4 326.5,182.5 327.0,182.1 327.5,182.1 327.9,183.0 328.4,182.6 328.9,182.1 329.3,182.8 329.8,181.1 330.3,180.9 330.7,180.6 331.2,182.4 331.7,178.8 332.1,180.6 332.6,180.5 333.1,179.9 333.6,181.7 334.0,180.5 334.5,179.9 335.0,178.3 335.4,179.3 335.9,178.4 336.4,178.5 336.8,178.5 337.3,177.7 337.8,178.4 338.2,179.1 338.7,178.4 339.2,177.5 339.6,175.5 340.1,177.8 340.6,177.6 341.0,176.3 341.5,175.9 342.0,176.6 342.4,175.2 342.9,176.3 343.4,174.5 343.8,174.4 344.3,174.9 344.8,173.5 345.2,174.4 345.7,174.6 346.2,172.8 346.6,174.5 347.1,172.9 347.6,173.6 348.0,173.1 348.5,172.2 349.0,171.9 349.4,170.6 349.9,171.2 350.4,170.9 350.8,172.6 351.3,171.8 351.8,169.5 352.3,171.1 352.7,170.4 353.2,169.6 353.7,170.0 354.1,170.1 354.6,168.6 355.1,168.6 355.5,168.8 356.0,167.6 356.5,168.3 356.9,167.8 357.4,167.1 357.9,166.8 358.3,167.5 358.8,167.8 359.3,167.1 359.7,165.9 360.2,167.1 360.7,166.4 361.1,166.6 361.6,166.9 362.1,165.0 362.5,165.4 363.0,164.8 363.5,164.4 363.9,166.7 364.4,165.6 364.9,163.1 365.3,164.8 365.8,163.7 366.3,165.0 366.7,163.9 367.2,163.4 367.7,163.5 368.1,163.4 368.6,162.9 369.1,162.4 369.5,162.3 370.0,162.6 370.5,160.9 371.0,161.6 371.4,161.3 371.9,160.7 372.4,161.5 372.8,159.5 373.3,160.0 373.8,159.4 374.2,160.3 374.7,159.2 375.2,159.4 375.6,159.4 376.1,157.5 376.6,159.0 377.0,157.8 377.5,158.0 378.0,157.9 378.4,158.4 378.9,158.2 379.4,158.8 379.8,157.3 380.3,156.6 380.8,156.4 381.2,157.2 381.7,157.8 382.2,156.6 382.6,155.6 383.1,156.2 383.6,156.0 384.0,155.7 384.5,154.9 385.0,153.2 385.4,154.7 385.9,155.9 386.4,155.0 386.8,152.9 387.3,154.6 387.8,152.9 388.2,155.9 388.7,154.3 389.2,153.0 389.7,154.5 390.1,153.1 390.6,154.0 391.1,153.5 391.5,152.4 392.0,153.7 392.5,152.0 392.9,154.0 393.4,152.8 393.9,151.8 394.3,151.1 394.8,153.7 395.3,153.4 395.7,151.1 396.2,153.3 396.7,152.0 397.1,151.6 397.6,151.6 398.1,151.3 398.5,152.5 399.0,151.4 399.5,149.7 399.9,152.6 400.4,151.6 400.9,150.0 401.3,150.4 401.8,149.9 402.3,150.5 402.7,150.6 403.2,150.4 403.7,149.7 404.1,149.4 404.6,150.5 405.1,149.7 405.5,151.4 406.0,148.9 406.5,150.0 407.0,149.4 407.4,148.7 407.9,150.1 408.4,149.1 408.8,148.2 409.3,148.6 409.8,149.4 410.2,147.7 410.7,149.5 411.2,148.9 411.6,148.1 412.1,149.2 412.6,149.4 413.0,148.5 413.5,148.1 414.0,149.2 414.4,148.8 414.9,147.0 415.4,147.4 415.8,147.3 416.3,147.1 416.8,146.2 417.2,147.8 417.7,147.1 418.2,147.0 418.6,147.8 419.1,146.3 419.6,146.6 420.0,146.7 420.5,146.1 421.0,146.1 421.4,146.6 421.9,145.9 422.4,146.7 422.8,145.1 423.3,145.6 423.8,144.3 424.2,145.1 424.7,144.6 425.2,145.9 425.7,145.3 426.1,145.1 426.6,145.9 427.1,145.5 427.5,144.9 428.0,143.8 428.5,143.2 428.9,144.1 429.4,143.7 429.9,143.4 430.3,143.6 430.8,142.5 431.3,144.6 431.7,142.7 432.2,142.9 432.7,143.7 433.1,142.1 433.6,143.8 434.1,143.7 434.5,142.8 435.0,142.2 435.5,142.5 435.9,141.5 436.4,143.6 436.9,142.6 437.3,142.0 437.8,141.8 438.3,142.7 438.7,143.2 439.2,141.3 439.7,141.7 440.1,140.8 440.6,142.4 441.1,141.9 441.5,143.3 442.0,141.6 442.5,141.3 442.9,141.1 443.4,142.0 443.9,140.3 444.4,141.8 444.8,141.4 445.3,140.8 445.8,140.5 446.2,141.7 446.7,142.2 447.2,140.6 447.6,141.2 448.1,141.9 448.6,140.3 449.0,140.5 449.5,139.7 450.0,140.4 450.4,140.4 450.9,140.1 451.4,139.8 451.8,139.2 452.3,139.3 452.8,139.4 453.2,140.4 453.7,139.6 454.2,139.3 454.6,140.3 455.1,140.1 455.6,139.2 456.0,139.2 456.5,140.0 457.0,139.7 457.4,138.9 457.9,139.5 458.4,139.3 458.8,139.9 459.3,138.6 459.8,139.6 460.2,139.3 460.7,138.3 461.2,139.6 461.6,139.4 462.1,137.9 462.6,140.0 463.1,137.9 463.5,138.0 464.0,138.3 464.5,138.9 464.9,138.8 465.4,138.3 465.9,139.2 466.3,138.5 466.8,139.1 467.3,139.9 467.7,138.2 468.2,136.4 468.7,137.7 469.1,137.3 469.6,138.0 470.1,138.0 470.5,137.1 471.0,137.1 471.5,137.6 471.9,137.6 472.4,136.1 472.9,138.3 473.3,137.7 473.8,137.6 474.3,137.8 474.7,136.9 475.2,137.5 475.7,138.2 476.1,138.2 476.6,137.8 477.1,137.3 477.5,136.9 478.0,138.2 478.5,137.7 478.9,137.1 479.4,135.9 479.9,136.7 480.3,136.0 480.8,138.0 481.3,137.3 481.8,136.7 482.2,136.9 482.7,138.7 483.2,137.8 483.6,136.2 484.1,136.9 484.6,136.2 485.0,135.8 485.5,137.0 486.0,138.3 486.4,137.7 486.9,136.8 487.4,136.5 487.8,136.8 488.3,137.3 488.8,135.7 489.2,135.4 489.7,137.7 490.2,136.7 490.6,137.4 491.1,136.6 491.6,137.3 492.0,136.0 492.5,136.6 493.0,137.2 493.4,136.9 493.9,136.0 494.4,136.8 494.8,135.8 495.3,135.3 495.8,136.5 496.2,137.0 496.7,136.6 497.2,135.3 497.6,136.6 498.1,136.5 498.6,135.8 499.1,134.5 499.5,136.6 500.0,136.5 500.5,136.3 500.9,134.9 501.4,135.1 501.9,136.5 502.3,136.4 502.8,136.2 503.3,135.7 503.7,136.1 504.2,135.5 504.7,135.7 505.1,135.3 505.6,136.0 506.1,135.6 506.5,136.4 507.0,136.2 507.5,135.3 507.9,136.9 508.4,135.1 508.9,136.0 509.3,136.4 509.8,136.5 510.3,134.4 510.7,136.3 511.2,136.4 511.7,136.5 512.1,134.4 512.6,135.3 513.1,135.6 513.5,135.4 514.0,136.4 514.5,135.2 514.9,136.3 515.4,135.9 515.9,134.7 516.3,135.0 516.8,135.3 517.3,135.6 517.8,136.1 518.2,135.4 518.7,136.0 519.2,134.6 519.6,133.7 520.1,135.3 520.6,135.7 521.0,135.2 521.5,134.9 522.0,135.7 522.4,136.5 522.9,135.3 523.4,135.0 523.8,134.9 524.3,136.5 524.8,135.3 525.2,135.7 525.7,136.0 526.2,135.9 526.6,134.8 527.1,135.9 527.6,135.8 528.0,135.6 528.5,135.9 529.0,135.0 529.4,135.3 529.9,135.0 530.4,135.7 530.8,134.9 531.3,135.5 531.8,134.7 532.2,135.2 532.7,135.1 533.2,135.2 533.6,135.4 534.1,135.2 534.6,135.2 535.0,134.2 535.5,135.9 536.0,135.0 536.5,135.2 536.9,134.8 537.4,135.8 537.9,134.8 538.3,135.6 538.8,135.9 539.3,136.2 539.7,135.9 540.2,135.6 540.7,134.6 541.1,136.0 541.6,135.9 542.1,135.7 542.5,135.7 543.0,135.3 543.5,135.0 543.9,135.8 544.4,135.9 544.9,134.7 545.3,135.7 545.8,135.4 546.3,135.7 546.7,135.4 547.2,135.8 547.7,135.8 548.1,135.7 548.6,134.6 549.1,135.7 549.5,135.3 550.0,134.7 550.5,135.6 550.9,134.6 551.4,135.7 551.9,136.1 552.3,135.0 552.8,135.7 553.3,135.5 553.7,135.6 554.2,134.6 554.7,135.6 555.2,135.3 555.6,135.6 556.1,135.3 556.6,135.8 557.0,135.4 557.5,135.6 558.0,135.9 558.4,135.3 558.9,135.7 559.4,135.4 559.8,135.5 560.3,135.0 560.8,135.6 561.2,135.8 561.7,135.2 562.2,135.6 562.6,135.5 563.1,134.7 563.6,135.4 564.0,135.9 564.5,135.0 565.0,134.4 565.4,135.4 565.9,135.0 566.4,136.1 566.8,135.2 567.3,135.3 567.8,135.0 568.2,135.4 568.7,135.0 569.2,134.8 569.6,135.2 570.1,134.9 570.6,135.9 571.0,134.7 571.5,135.2 572.0,134.9 572.4,134.6 572.9,136.0 573.4,134.3 573.9,135.9 574.3,134.6 574.8,135.3 575.3,136.3 575.7,134.3 576.2,134.6 576.7,135.8 577.1,135.3 577.6,135.0 578.1,135.2 578.5,134.8 579.0,135.3 579.5,135.9 579.9,135.1 580.4,135.3 580.9,135.8 581.3,136.1 581.8,135.0 582.3,135.4 582.7,135.0 583.2,135.0 583.7,135.1 584.1,135.0 584.6,134.5 585.1,134.4 585.5,134.9 586.0,135.3 586.5,135.7 586.9,135.0 587.4,135.2 587.9,135.5 588.3,135.5 588.8,135.2 589.3,135.2 589.7,136.0 590.2,135.1 590.7,135.0 591.2,134.6 591.6,135.4 592.1,135.1 592.6,136.0 593.0,135.1 593.5,135.6 594.0,135.6 594.4,135.9 594.9,134.7 595.4,135.9 595.8,135.2 596.3,135.2 596.8,135.1 597.2,135.1 597.7,135.1 598.2,134.3 598.6,135.4 599.1,135.2 599.6,134.8 600.0,135.2 600.5,136.1 601.0,135.4 601.4,135.1 601.9,135.9 602.4,134.9 602.8,135.2 603.3,135.0 603.8,135.1 604.2,135.5 604.7,135.4 605.2,134.9 605.6,135.2 606.1,135.3 606.6,135.1 607.0,135.2 607.5,134.9 608.0,134.9 608.4,135.2 608.9,134.8 609.4,135.4 609.9,135.1 610.3,134.9 610.8,135.0 611.3,135.0 611.7,135.2 612.2,135.3 612.7,135.1 613.1,134.9 613.6,135.7 614.1,135.5 614.5,135.3 615.0,135.6 615.5,135.3 615.9,135.1 616.4,135.2 616.9,136.2 617.3,135.6 617.8,135.6 618.3,135.1 618.7,135.4 619.2,136.0 619.7,135.4 620.1,135.6 620.6,135.7 621.1,135.4 621.5,135.8 622.0,135.3 622.5,135.4 622.9,135.0 623.4,136.1 623.9,135.3 624.3,135.2 624.8,135.7 625.3,135.0 625.7,135.2 626.2,134.9 626.7,135.2 627.1,135.1 627.6,135.4 628.1,135.2 628.6,135.0 629.0,135.1 629.5,135.2 630.0,135.0 630.4,135.5 630.9,135.4 631.4,135.3 631.8,134.8 632.3,135.4 632.8,134.8 633.2,135.3 633.7,135.2 634.2,135.0 634.6,134.9 635.1,135.0 635.6,135.9 636.0,135.1 636.5,135.1 637.0,135.5 637.4,135.3 637.9,135.5 638.4,134.8 638.8,134.9 639.3,136.2 639.8,135.2 640.2,135.1 640.7,135.3 641.2,135.5 641.6,134.8 642.1,135.3 642.6,135.2 643.0,135.4 643.5,135.3 644.0,135.1 644.4,135.0 644.9,134.5 645.4,135.5 645.8,134.8 646.3,135.1 646.8,135.7 647.3,135.1 647.7,135.4 648.2,135.2 648.7,135.4 649.1,135.2 649.6,135.1 650.1,135.6 650.5,135.1 651.0,134.8 651.5,135.1 651.9,135.4 652.4,134.9 652.9,135.5 653.3,135.5 653.8,135.8 654.3,135.1 654.7,135.4 655.2,134.8 655.7,135.1 656.1,135.3 656.6,135.4 657.1,135.2 657.5,135.2 658.0,135.1 658.5,135.1 658.9,135.3 659.4,135.4 659.9,135.4 660.3,135.5 660.8,135.6 661.3,134.8 661.7,135.1 662.2,135.2 662.7,135.1 663.1,135.6 663.6,135.5 664.1,135.3 664.6,135.3 665.0,135.6 665.5,135.2 666.0,135.2 666.4,135.5 666.9,135.4 667.4,135.7 667.8,135.4 668.3,135.5 668.8,135.2 669.2,135.1 669.7,135.3 670.2,134.7 670.6,135.4 671.1,135.6 671.6,135.4 672.0,135.3 672.5,135.6 673.0,135.3 673.4,135.6 673.9,135.9 674.4,135.5 674.8,135.6 675.3,135.5 675.8,135.4 676.2,135.5 676.7,135.4 677.2,135.7 677.6,135.0 678.1,135.3 678.6,135.6 679.0,135.2 679.5,135.4 680.0,135.3 680.4,135.5 680.9,135.6 681.4,135.8 681.8,135.6 682.3,135.3 682.8,135.5 683.3,135.6 683.7,135.8 684.2,135.0 684.7,135.6 685.1,135.1 685.6,135.6 686.1,135.6 686.5,135.6 687.0,135.7 687.5,135.6 687.9,135.4 688.4,135.6 688.9,135.8 689.3,135.5 689.8,135.5 690.3,135.3 690.7,135.8 691.2,135.4 691.7,135.4 692.1,135.5 692.6,135.4 693.1,135.5 693.5,135.8 694.0,135.7 694.5,135.9 694.9,135.9 695.4,135.4 695.9,135.7 696.3,135.9 696.8,136.1 697.3,135.3 697.7,135.3 698.2,135.7 698.7,135.6 699.1,135.4 699.6,135.7 700.1,135.5 700.5,135.2 701.0,135.7 701.5,135.7 702.0,135.8 702.4,135.9 702.9,135.7 703.4,135.7 703.8,135.6 704.3,135.4 704.8,135.6 705.2,135.9 705.7,135.9 706.2,136.1 706.6,135.7 707.1,135.4 707.6,135.9 708.0,136.0 708.5,135.6 709.0,135.5 709.4,135.8 709.9,135.9 710.4,135.6 710.8,135.7 711.3,135.7 711.8,135.6 712.2,135.6 712.7,135.9 713.2,135.8 713.6,135.7 714.1,135.4 714.6,136.2 715.0,135.7 715.5,135.9 716.0,135.7 716.4,136.0 716.9,135.6 717.4,135.9 717.8,135.9 718.3,136.1 718.8,135.7 719.2,135.8 719.7,135.9 720.2,136.3 720.7,135.7 721.1,136.0 721.6,135.9 722.1,136.0 722.5,136.1 723.0,136.0 723.5,136.0 723.9,136.1 724.4,135.9 724.9,136.0 725.3,135.8 725.8,136.0 726.3,135.9 726.7,136.0 727.2,136.2 727.7,136.1 728.1,136.1 728.6,136.2 729.1,135.7 729.5,136.2 730.0,136.1 730.5,136.1 730.9,135.9 731.4,136.2 731.9,136.3 732.3,136.3 732.8,136.1 733.3,136.3 733.7,136.3 734.2,136.4 734.7,136.4 735.1,136.2 735.6,136.2 736.1,136.2 736.5,136.2 737.0,136.2 737.5,136.3 737.9,136.1 738.4,136.1 738.9,136.3 739.4,136.2 739.8,136.2 740.3,136.0 740.8,136.4 741.2,136.3 741.7,136.3 742.2,136.4 742.6,136.3 743.1,136.2 743.6,136.6 744.0,136.3 744.5,136.5 745.0,136.6 745.4,136.3 745.9,136.4 746.4,136.3 746.8,136.5 747.3,136.4" fill="none" stroke="#b7ff40" stroke-width="1.2" stroke-opacity="0.9" stroke-linejoin="round"/>
<path d="M103.9,163.8 104.1,164.4 104.4,165.0 104.6,165.5 104.8,166.1 105.0,166.6 105.3,167.2 105.5,167.7 105.7,168.3 105.9,168.9 106.2,169.6 106.4,170.2 106.6,170.7 106.8,170.9 107.1,170.9 107.3,170.5 107.5,170.0 107.7,169.4 108.0,168.6 108.2,167.8 108.4,167.0 108.6,166.4 108.9,165.8 109.1,165.0 109.3,164.5 109.5,163.7 109.8,163.0 110.0,162.2 110.2,161.8 110.4,161.2 110.7,160.5 110.9,160.1 111.1,159.6 111.3,159.1 111.6,158.6 111.8,158.4 112.0,158.0 112.2,157.8 112.5,157.5 112.7,157.2 112.9,157.0 113.2,156.7 113.4,156.6 113.6,156.2 113.8,156.1 114.1,155.8 114.3,155.8 114.5,155.4 114.7,155.3 115.0,155.2 115.2,155.0 115.4,155.0 115.6,154.8 115.9,154.6 116.1,154.5 116.3,154.2 116.5,154.1 116.8,154.0 117.0,153.8 117.2,153.6 117.4,153.5 117.7,153.4 117.9,153.3 118.1,153.1 118.3,152.9 118.6,152.8 118.8,152.7 119.0,152.5 119.2,152.4 119.5,152.1 119.7,152.1 119.9,152.0 120.1,151.8 120.4,151.7 120.6,151.6 120.8,151.6 121.0,151.3 121.3,151.1 121.5,151.0 121.7,151.0 122.0,150.9 122.2,150.7 122.4,150.6 122.6,150.5 122.9,150.2 123.1,150.2 123.3,150.0 123.5,150.0 123.8,149.8 124.0,149.9 124.2,149.7 124.4,149.5 124.7,149.6 124.9,149.6 125.1,149.3 125.3,149.4 125.6,149.3 125.8,149.2 126.0,149.2 126.2,149.0 126.5,149.0 126.7,148.9 126.9,148.8 127.1,148.8 127.4,148.7 127.6,148.6 127.8,148.5 128.0,148.4 128.3,148.4 128.5,148.3 128.7,148.3 128.9,148.2 129.2,148.2 129.4,148.1 129.6,148.1 129.8,148.1 130.1,148.1 130.3,147.8 130.5,147.9 130.7,147.8 131.0,147.7 131.2,147.7 131.4,147.6 131.7,147.5 131.9,147.3 132.1,147.6 132.3,147.6 132.6,147.4 132.8,147.5 133.0,147.4 133.2,147.4 133.5,147.3 133.7,147.3 133.9,147.3 134.1,147.0 134.4,147.3 134.6,147.2 134.8,146.9 135.0,147.2 135.3,147.1 135.5,147.1 135.7,147.1 135.9,147.0 136.2,146.9 136.4,146.9 136.6,146.9 136.8,147.1 137.1,147.0 137.3,146.7 137.5,146.7 137.7,146.7 138.0,146.6 138.2,146.4 138.4,146.3 138.6,146.5 138.9,146.4 139.1,146.0 139.3,145.8 139.5,145.8 139.8,145.9 140.0,145.8 141.7,144.9 143.5,143.7 145.2,142.7 147.0,141.6 148.7,140.6 150.4,139.6 152.2,138.9" fill="none" stroke="#ffb900" stroke-width="0.72" stroke-opacity="1.0" stroke-linejoin="round"/>
<path d="M152.2,138.9 153.9,138.1 155.7,137.3 157.4,136.7 159.1,135.9 160.9,135.6 162.6,135.0 164.4,134.4 166.1,134.0 167.8,133.6 169.6,132.8 171.3,132.4 173.1,132.0 174.8,131.0 176.5,130.5 178.3,129.7 180.0,129.1 181.8,128.2 183.5,127.6 185.2,127.1 187.0,126.6 188.7,126.1 190.5,125.5 192.2,124.9 193.9,124.1 195.7,123.4 197.4,122.5 199.2,121.8 200.9,121.3 202.6,120.5 204.4,119.7 206.1,119.0 207.9,118.4 209.6,117.6 211.3,117.1 213.1,116.3 214.8,115.8 216.6,115.4 218.3,114.5 220.0,114.2 221.8,113.5 223.5,113.1 225.3,112.7 227.0,112.3 228.7,111.9 230.5,111.4 232.2,111.1 234.0,110.7 235.7,110.5 237.4,110.1 239.2,110.0 240.9,109.6 242.7,109.5 244.4,109.2 246.1,108.9 247.9,108.8 249.6,108.5 251.4,108.2 253.1,108.1 254.8,107.7 256.6,107.7 258.3,107.4 260.1,107.2 261.8,107.1 263.5,106.9 265.3,106.9 267.0,106.6 268.8,106.6 270.5,106.5 272.2,106.2 274.0,106.0 275.7,106.1 277.5,105.8 279.2,105.7 280.9,105.6 282.7,105.4 284.4,105.3 286.2,105.1 287.9,105.0 289.6,105.0 291.4,105.0 293.1,105.0 294.9,104.8 296.6,104.7 298.4,104.7 300.1,104.7 301.8,104.6 303.6,104.5 305.3,104.4 307.1,104.4 308.8,104.5 310.5,104.2 312.3,104.0 314.0,104.1 315.8,103.9 317.5,103.8 319.2,103.8 321.0,103.6 322.7,103.4 324.5,103.3 326.2,103.3 327.9,103.2 329.7,103.2 331.4,103.1 333.2,103.1 334.9,102.9 336.6,103.0 338.4,102.9 340.1,102.9 341.9,102.9 343.6,102.8 345.3,102.7 347.1,102.9 348.8,102.7 350.6,102.7 352.3,102.7 354.0,102.7 355.8,102.6 357.5,102.6 359.3,102.5 361.0,102.4 362.7,102.4 364.5,102.4 366.2,102.4 368.0,102.4 369.7,102.4 371.4,102.4 373.2,102.3 374.9,102.2 376.7,102.4 378.4,102.3 380.1,102.2 381.9,102.3 383.6,102.3 385.4,102.2 387.1,102.1 388.8,102.1 390.6,102.2 392.3,102.3 394.1,102.1 395.8,102.1 397.5,102.1 399.3,102.1 401.0,102.2 402.8,102.0 404.5,101.9 406.2,102.1 408.0,102.1 409.7,102.0 411.5,102.1 413.2,102.1 414.9,101.9 416.7,102.1 418.4,102.1 420.2,102.0 421.9,102.0 423.6,102.1 425.4,102.0 427.1,102.0 428.9,102.0 430.6,102.0 432.3,102.1 434.1,101.9 435.8,102.1 437.6,101.9 439.3,102.1 441.0,102.0 442.8,102.0 444.5,102.1 446.3,102.1 448.0,102.1 449.7,102.1 451.5,102.1 453.2,102.1 455.0,102.1 456.7,102.0 458.4,102.1 460.2,102.1 461.9,102.1 463.7,102.1 465.4,102.1 467.1,102.0 468.9,102.0 470.6,102.0 472.4,102.0 474.1,102.1 475.8,102.1 477.6,102.0 479.3,102.3 481.1,102.1 482.8,102.1 484.5,102.1 486.3,101.9 488.0,102.1 489.8,102.2 491.5,101.9 493.2,102.1 495.0,102.0 496.7,102.0 498.5,102.1 500.2,102.0 501.9,102.1 503.7,102.0 505.4,102.0 507.2,102.1 508.9,102.3 510.6,102.1 512.4,102.1 514.1,102.1 515.9,102.0 517.6,102.1 519.3,102.2 521.1,102.1 522.8,102.1 524.6,102.1 526.3,102.3 528.0,102.0 529.8,102.1 531.5,102.1 533.3,102.1 535.0,102.0 536.7,102.0 538.5,102.1 540.2,102.1 542.0,102.0 543.7,102.0 545.4,102.1 547.2,102.2 548.9,102.1 550.7,102.1 552.4,102.1 554.1,102.3 555.9,102.2 557.6,102.1 559.4,102.2 561.1,102.3 562.8,102.2 564.6,102.1 566.3,102.1 568.1,102.1 569.8,102.1 571.5,102.1 573.3,102.1 575.0,102.1 576.8,102.2 578.5,102.2 580.2,102.1 582.0,102.1 583.7,102.2 585.5,102.2 587.2,102.2 588.9,102.2 590.7,102.0 592.4,102.2 594.2,102.2 595.9,102.2 597.7,102.1 599.4,102.2 601.1,102.2 602.9,102.4 604.6,102.3 606.4,102.2 608.1,102.2 609.8,102.2 611.6,102.3 613.3,102.2 615.1,102.3 616.8,102.3 618.5,102.3 620.3,102.3 622.0,102.4 623.8,102.3 625.5,102.2 627.2,102.2 629.0,102.3 630.7,102.3 632.5,102.3 634.2,102.4 635.9,102.3 637.7,102.3 639.4,102.4 641.2,102.4 642.9,102.3 644.6,102.3 646.4,102.4 648.1,102.4 649.9,102.3 651.6,102.2 653.3,102.4 655.1,102.4 656.8,102.4 658.6,102.3 660.3,102.3 662.0,102.3 663.8,102.3 665.5,102.4 667.3,102.3 669.0,102.5 670.7,102.4 672.5,102.4 674.2,102.3 676.0,102.4 677.7,102.4 679.4,102.4 681.2,102.3 682.9,102.4 684.7,102.4 686.4,102.3 688.1,102.3 689.9,102.4 691.6,102.3 693.4,102.4 695.1,102.3 696.8,102.3 698.6,102.4 700.3,102.5 702.1,102.4 703.8,102.4 705.5,102.4 707.3,102.4 709.0,102.5 710.8,102.4 712.5,102.4 714.2,102.3 716.0,102.3 717.7,102.3 719.5,102.4 721.2,102.4 722.9,102.5 724.7,102.5 726.4,102.4 728.2,102.4 729.9,102.5 731.6,102.5 733.4,102.4 735.1,102.5 736.9,102.4 738.6,102.4 740.3,102.5 742.1,102.4 743.8,102.4 745.6,102.5 747.3,102.4" fill="none" stroke="#ffb900" stroke-width="0.85" stroke-opacity="0.9" stroke-linejoin="round"/>
<path d="M103.9,163.9 104.1,164.5 104.4,165.1 104.6,165.6 104.8,166.2 105.0,166.7 105.3,167.3 105.5,167.9 105.7,168.4 105.9,169.1 106.2,169.8 106.4,170.4 106.6,171.0 106.8,171.2 107.1,171.3 107.3,171.0 107.5,170.4 107.7,169.8 108.0,169.1 108.2,168.3 108.4,167.6 108.6,167.0 108.9,166.5 109.1,165.8 109.3,165.2 109.5,164.5 109.8,163.8 110.0,163.3 110.2,162.6 110.4,162.0 110.7,161.5 110.9,160.9 111.1,160.4 111.3,159.9 111.6,159.5 111.8,159.1 112.0,158.9 112.2,158.6 112.5,158.4 112.7,158.1 112.9,157.8 113.2,157.7 113.4,157.3 113.6,157.3 113.8,157.0 114.1,156.8 114.3,156.6 114.5,156.4 114.7,156.2 115.0,156.0 115.2,155.9 115.4,155.6 115.6,155.7 115.9,155.5 116.1,155.1 116.3,155.0 116.5,155.0 116.8,154.9 117.0,154.7 117.2,154.6 117.4,154.5 117.7,154.4 117.9,154.3 118.1,154.0 118.3,153.9 118.6,153.6 118.8,153.6 119.0,153.3 119.2,153.4 119.5,153.3 119.7,153.0 119.9,152.8 120.1,152.7 120.4,152.6 120.6,152.5 120.8,152.4 121.0,152.3 121.3,151.9 121.5,152.0 121.7,151.8 122.0,151.6 122.2,151.7 122.4,151.4 122.6,151.2 122.9,151.1 123.1,151.1 123.3,151.1 123.5,151.1 123.8,150.8 124.0,150.7 124.2,150.8 124.4,150.5 124.7,150.6 124.9,150.4 125.1,150.3 125.3,150.2 125.6,150.2 125.8,150.0 126.0,149.9 126.2,149.9 126.5,149.8 126.7,149.8 126.9,149.7 127.1,149.6 127.4,149.6 127.6,149.5 127.8,149.6 128.0,149.4 128.3,149.3 128.5,149.2 128.7,149.2 128.9,149.1 129.2,149.1 129.4,149.0 129.6,149.0 129.8,148.9 130.1,148.9 130.3,148.6 130.5,148.6 130.7,148.4 131.0,148.7 131.2,148.7 131.4,148.7 131.7,148.5 131.9,148.6 132.1,148.4 132.3,148.4 132.6,148.2 132.8,148.3 133.0,148.3 133.2,148.4 133.5,148.4 133.7,148.2 133.9,148.2 134.1,148.2 134.4,148.1 134.6,147.9 134.8,148.0 135.0,147.9 135.3,148.0 135.5,148.0 135.7,147.9 135.9,147.9 136.2,148.0 136.4,147.8 136.6,147.9 136.8,147.6 137.1,147.7 137.3,147.7 137.5,147.5 137.7,147.4 138.0,147.6 138.2,147.3 138.4,147.4 138.6,147.3 138.9,147.2 139.1,147.1 139.3,147.1 139.5,146.9 139.8,146.7 140.0,146.7 141.7,145.9 143.5,144.8 145.2,143.5 147.0,142.3 148.7,141.3 150.4,140.3 152.2,139.4" fill="none" stroke="#ffb900" stroke-width="0.72" stroke-opacity="1.0" stroke-linejoin="round"/>
<path d="M152.2,139.4 153.9,138.9 155.7,137.9 157.4,137.3 159.1,136.5 160.9,136.1 162.6,135.4 164.4,135.3 166.1,134.4 167.8,133.9 169.6,133.6 171.3,133.0 173.1,132.1 174.8,131.7 176.5,131.0 178.3,130.1 180.0,129.6 181.8,128.8 183.5,128.1 185.2,127.6 187.0,127.0 188.7,126.4 190.5,126.1 192.2,125.2 193.9,124.4 195.7,123.8 197.4,123.0 199.2,122.3 200.9,121.4 202.6,120.7 204.4,120.0 206.1,119.4 207.9,118.7 209.6,118.0 211.3,117.5 213.1,116.7 214.8,116.1 216.6,115.6 218.3,115.1 220.0,114.6 221.8,114.1 223.5,113.5 225.3,113.2 227.0,112.7 228.7,112.3 230.5,111.9 232.2,111.4 234.0,111.2 235.7,110.9 237.4,110.5 239.2,110.3 240.9,110.2 242.7,109.8 244.4,109.6 246.1,109.3 247.9,109.1 249.6,108.8 251.4,108.6 253.1,108.5 254.8,108.3 256.6,108.0 258.3,107.9 260.1,107.6 261.8,107.4 263.5,107.3 265.3,107.1 267.0,106.9 268.8,107.0 270.5,106.6 272.2,106.6 274.0,106.3 275.7,106.3 277.5,106.2 279.2,106.0 280.9,105.8 282.7,105.8 284.4,105.7 286.2,105.5 287.9,105.4 289.6,105.4 291.4,105.2 293.1,105.2 294.9,105.0 296.6,105.1 298.4,105.0 300.1,105.1 301.8,104.9 303.6,104.8 305.3,104.9 307.1,104.6 308.8,104.7 310.5,104.5 312.3,104.4 314.0,104.4 315.8,104.3 317.5,104.2 319.2,104.0 321.0,104.0 322.7,103.8 324.5,103.7 326.2,103.5 327.9,103.7 329.7,103.6 331.4,103.4 333.2,103.3 334.9,103.3 336.6,103.4 338.4,103.3 340.1,103.2 341.9,103.2 343.6,103.1 345.3,103.1 347.1,103.1 348.8,103.0 350.6,103.1 352.3,102.9 354.0,102.9 355.8,102.9 357.5,102.9 359.3,102.8 361.0,102.8 362.7,102.8 364.5,102.8 366.2,102.7 368.0,102.7 369.7,102.8 371.4,102.8 373.2,102.7 374.9,102.7 376.7,102.6 378.4,102.6 380.1,102.7 381.9,102.7 383.6,102.6 385.4,102.6 387.1,102.5 388.8,102.6 390.6,102.6 392.3,102.6 394.1,102.7 395.8,102.5 397.5,102.6 399.3,102.4 401.0,102.6 402.8,102.5 404.5,102.6 406.2,102.5 408.0,102.5 409.7,102.6 411.5,102.4 413.2,102.5 414.9,102.5 416.7,102.4 418.4,102.4 420.2,102.5 421.9,102.4 423.6,102.5 425.4,102.5 427.1,102.4 428.9,102.5 430.6,102.5 432.3,102.4 434.1,102.4 435.8,102.4 437.6,102.5 439.3,102.6 441.0,102.3 442.8,102.5 444.5,102.5 446.3,102.4 448.0,102.4 449.7,102.4 451.5,102.4 453.2,102.4 455.0,102.5 456.7,102.4 458.4,102.5 460.2,102.5 461.9,102.4 463.7,102.5 465.4,102.5 467.1,102.4 468.9,102.6 470.6,102.5 472.4,102.5 474.1,102.6 475.8,102.3 477.6,102.3 479.3,102.5 481.1,102.4 482.8,102.4 484.5,102.6 486.3,102.5 488.0,102.4 489.8,102.4 491.5,102.5 493.2,102.6 495.0,102.3 496.7,102.5 498.5,102.4 500.2,102.4 501.9,102.5 503.7,102.4 505.4,102.4 507.2,102.6 508.9,102.5 510.6,102.5 512.4,102.5 514.1,102.5 515.9,102.5 517.6,102.4 519.3,102.5 521.1,102.5 522.8,102.4 524.6,102.5 526.3,102.6 528.0,102.6 529.8,102.5 531.5,102.4 533.3,102.5 535.0,102.5 536.7,102.5 538.5,102.5 540.2,102.5 542.0,102.5 543.7,102.7 545.4,102.6 547.2,102.6 548.9,102.6 550.7,102.7 552.4,102.6 554.1,102.5 555.9,102.6 557.6,102.6 559.4,102.5 561.1,102.6 562.8,102.6 564.6,102.6 566.3,102.5 568.1,102.6 569.8,102.5 571.5,102.6 573.3,102.6 575.0,102.6 576.8,102.4 578.5,102.7 580.2,102.5 582.0,102.6 583.7,102.7 585.5,102.6 587.2,102.6 588.9,102.5 590.7,102.6 592.4,102.7 594.2,102.7 595.9,102.6 597.7,102.7 599.4,102.7 601.1,102.6 602.9,102.6 604.6,102.8 606.4,102.6 608.1,102.8 609.8,102.7 611.6,102.8 613.3,102.7 615.1,102.7 616.8,102.7 618.5,102.7 620.3,102.7 622.0,102.7 623.8,102.7 625.5,102.7 627.2,102.8 629.0,102.7 630.7,102.7 632.5,102.7 634.2,102.7 635.9,102.7 637.7,102.8 639.4,102.8 641.2,102.8 642.9,102.7 644.6,102.7 646.4,102.8 648.1,102.7 649.9,102.8 651.6,102.8 653.3,102.8 655.1,102.8 656.8,102.7 658.6,102.8 660.3,102.7 662.0,102.7 663.8,102.9 665.5,102.8 667.3,102.7 669.0,102.9 670.7,102.8 672.5,102.6 674.2,102.8 676.0,102.9 677.7,102.9 679.4,102.9 681.2,102.8 682.9,102.9 684.7,102.8 686.4,102.9 688.1,102.9 689.9,102.9 691.6,102.9 693.4,102.7 695.1,102.8 696.8,102.8 698.6,102.9 700.3,102.8 702.1,102.9 703.8,102.8 705.5,103.0 707.3,102.8 709.0,102.9 710.8,103.0 712.5,102.9 714.2,102.8 716.0,102.9 717.7,103.0 719.5,102.9 721.2,102.8 722.9,102.9 724.7,102.8 726.4,103.0 728.2,102.9 729.9,102.9 731.6,102.9 733.4,102.9 735.1,102.8 736.9,103.0 738.6,102.9 740.3,102.8 742.1,103.0 743.8,103.0 745.6,103.0 747.3,103.0" fill="none" stroke="#ffb900" stroke-width="0.85" stroke-opacity="0.9" stroke-linejoin="round"/>
<path d="M103.9,164.0 104.1,164.6 104.4,165.2 104.6,165.7 104.8,166.3 105.0,166.8 105.3,167.4 105.5,168.0 105.7,168.5 105.9,169.2 106.2,169.9 106.4,170.6 106.6,171.2 106.8,171.5 107.1,171.6 107.3,171.4 107.5,170.9 107.7,170.3 108.0,169.6 108.2,168.9 108.4,168.2 108.6,167.6 108.9,167.1 109.1,166.5 109.3,166.0 109.5,165.3 109.8,164.7 110.0,164.1 110.2,163.5 110.4,162.9 110.7,162.4 110.9,161.8 111.1,161.3 111.3,160.9 111.6,160.5 111.8,160.1 112.0,159.8 112.2,159.5 112.5,159.1 112.7,159.0 112.9,158.6 113.2,158.4 113.4,158.4 113.6,158.1 113.8,157.8 114.1,157.6 114.3,157.5 114.5,157.2 114.7,157.2 115.0,156.9 115.2,156.9 115.4,156.6 115.6,156.6 115.9,156.3 116.1,156.3 116.3,156.0 116.5,155.9 116.8,155.7 117.0,155.6 117.2,155.5 117.4,155.4 117.7,155.2 117.9,155.1 118.1,155.0 118.3,154.6 118.6,154.6 118.8,154.3 119.0,154.3 119.2,154.2 119.5,153.9 119.7,153.8 119.9,153.8 120.1,153.6 120.4,153.6 120.6,153.4 120.8,153.3 121.0,153.2 121.3,152.9 121.5,152.8 121.7,152.6 122.0,152.6 122.2,152.6 122.4,152.5 122.6,152.2 122.9,152.1 123.1,152.0 123.3,151.8 123.5,151.8 123.8,151.9 124.0,151.5 124.2,151.4 124.4,151.6 124.7,151.3 124.9,151.3 125.1,151.1 125.3,151.2 125.6,151.1 125.8,151.0 126.0,151.0 126.2,150.8 126.5,150.8 126.7,150.9 126.9,150.7 127.1,150.5 127.4,150.4 127.6,150.4 127.8,150.3 128.0,150.3 128.3,150.2 128.5,150.2 128.7,150.1 128.9,150.1 129.2,150.0 129.4,150.0 129.6,149.8 129.8,150.0 130.1,149.8 130.3,149.8 130.5,149.7 130.7,149.7 131.0,149.6 131.2,149.6 131.4,149.5 131.7,149.3 131.9,149.4 132.1,149.3 132.3,149.3 132.6,149.5 132.8,149.1 133.0,149.2 133.2,149.3 133.5,149.3 133.7,149.3 133.9,149.0 134.1,149.0 134.4,149.1 134.6,149.0 134.8,149.2 135.0,149.0 135.3,149.0 135.5,149.0 135.7,148.9 135.9,148.9 136.2,148.8 136.4,148.8 136.6,148.7 136.8,148.7 137.1,148.5 137.3,148.4 137.5,148.6 137.7,148.5 138.0,148.3 138.2,148.3 138.4,148.2 138.6,148.4 138.9,147.9 139.1,148.2 139.3,147.8 139.5,147.9 139.8,147.7 140.0,147.6 141.7,146.8 143.5,145.7 145.2,144.3 147.0,143.0 148.7,142.3 150.4,141.3 152.2,140.3" fill="none" stroke="#ffb900" stroke-width="0.72" stroke-opacity="1.0" stroke-linejoin="round"/>
<path d="M152.2,140.3 153.9,139.4 155.7,138.7 157.4,138.0 159.1,137.4 160.9,136.6 162.6,136.1 164.4,135.5 166.1,135.2 167.8,134.8 169.6,134.0 171.3,133.5 173.1,132.9 174.8,132.1 176.5,131.3 178.3,130.8 180.0,130.1 181.8,129.3 183.5,128.8 185.2,128.1 187.0,127.4 188.7,127.0 190.5,126.3 192.2,125.8 193.9,124.9 195.7,124.2 197.4,123.5 199.2,122.7 200.9,121.8 202.6,121.2 204.4,120.4 206.1,119.9 207.9,119.3 209.6,118.4 211.3,117.7 213.1,117.1 214.8,116.5 216.6,116.0 218.3,115.5 220.0,115.1 221.8,114.4 223.5,113.9 225.3,113.4 227.0,113.2 228.7,112.8 230.5,112.2 232.2,111.8 234.0,111.6 235.7,111.4 237.4,111.1 239.2,110.7 240.9,110.5 242.7,110.2 244.4,109.9 246.1,109.9 247.9,109.5 249.6,109.2 251.4,109.0 253.1,108.7 254.8,108.6 256.6,108.5 258.3,108.1 260.1,108.1 261.8,108.0 263.5,107.7 265.3,107.4 267.0,107.3 268.8,107.2 270.5,107.0 272.2,106.9 274.0,106.8 275.7,106.7 277.5,106.6 279.2,106.3 280.9,106.4 282.7,106.2 284.4,106.1 286.2,105.9 287.9,105.9 289.6,105.7 291.4,105.7 293.1,105.6 294.9,105.4 296.6,105.3 298.4,105.5 300.1,105.3 301.8,105.2 303.6,105.2 305.3,105.1 307.1,105.0 308.8,104.9 310.5,104.8 312.3,104.8 314.0,104.7 315.8,104.5 317.5,104.5 319.2,104.4 321.0,104.3 322.7,104.2 324.5,104.2 326.2,104.1 327.9,104.0 329.7,103.9 331.4,103.9 333.2,103.7 334.9,103.7 336.6,103.7 338.4,103.6 340.1,103.6 341.9,103.5 343.6,103.6 345.3,103.4 347.1,103.4 348.8,103.4 350.6,103.4 352.3,103.3 354.0,103.2 355.8,103.1 357.5,103.2 359.3,103.1 361.0,103.2 362.7,103.2 364.5,103.0 366.2,103.0 368.0,103.1 369.7,103.2 371.4,103.1 373.2,103.1 374.9,103.1 376.7,103.1 378.4,103.1 380.1,103.0 381.9,102.9 383.6,102.9 385.4,103.0 387.1,102.9 388.8,102.9 390.6,102.9 392.3,102.9 394.1,102.9 395.8,102.9 397.5,102.8 399.3,102.8 401.0,102.9 402.8,103.0 404.5,102.9 406.2,102.9 408.0,102.9 409.7,102.7 411.5,102.8 413.2,102.8 414.9,102.7 416.7,102.7 418.4,102.9 420.2,102.7 421.9,102.8 423.6,102.9 425.4,102.9 427.1,102.7 428.9,102.8 430.6,102.8 432.3,102.8 434.1,102.9 435.8,102.8 437.6,102.8 439.3,102.9 441.0,102.7 442.8,102.8 444.5,102.8 446.3,102.7 448.0,102.8 449.7,102.7 451.5,102.8 453.2,102.8 455.0,102.9 456.7,102.9 458.4,102.8 460.2,102.8 461.9,102.8 463.7,102.8 465.4,102.7 467.1,102.9 468.9,102.8 470.6,102.9 472.4,102.7 474.1,102.9 475.8,103.0 477.6,102.9 479.3,102.7 481.1,102.8 482.8,102.8 484.5,102.9 486.3,102.8 488.0,102.9 489.8,102.8 491.5,102.9 493.2,102.8 495.0,102.9 496.7,102.9 498.5,102.8 500.2,102.9 501.9,102.8 503.7,102.8 505.4,102.9 507.2,103.0 508.9,102.8 510.6,103.0 512.4,102.8 514.1,102.9 515.9,102.9 517.6,102.9 519.3,102.8 521.1,102.8 522.8,103.0 524.6,102.8 526.3,102.9 528.0,102.9 529.8,102.9 531.5,103.1 533.3,103.0 535.0,103.0 536.7,102.8 538.5,102.9 540.2,102.9 542.0,102.9 543.7,103.0 545.4,102.8 547.2,103.0 548.9,102.9 550.7,102.9 552.4,103.1 554.1,102.9 555.9,103.0 557.6,103.0 559.4,102.8 561.1,102.9 562.8,102.9 564.6,103.0 566.3,103.0 568.1,103.0 569.8,103.0 571.5,102.9 573.3,103.0 575.0,103.0 576.8,103.1 578.5,103.1 580.2,103.2 582.0,103.1 583.7,103.1 585.5,103.0 587.2,103.1 588.9,103.0 590.7,103.1 592.4,103.0 594.2,103.1 595.9,103.0 597.7,103.1 599.4,103.1 601.1,103.1 602.9,103.1 604.6,103.0 606.4,103.2 608.1,103.1 609.8,103.2 611.6,103.3 613.3,103.0 615.1,103.1 616.8,103.1 618.5,103.2 620.3,103.1 622.0,103.2 623.8,103.1 625.5,103.2 627.2,103.1 629.0,103.2 630.7,103.0 632.5,103.1 634.2,103.3 635.9,103.2 637.7,103.1 639.4,103.3 641.2,103.3 642.9,103.3 644.6,103.2 646.4,103.3 648.1,103.3 649.9,103.1 651.6,103.3 653.3,103.2 655.1,103.3 656.8,103.3 658.6,103.2 660.3,103.2 662.0,103.3 663.8,103.3 665.5,103.2 667.3,103.3 669.0,103.3 670.7,103.3 672.5,103.3 674.2,103.3 676.0,103.2 677.7,103.2 679.4,103.3 681.2,103.3 682.9,103.3 684.7,103.3 686.4,103.2 688.1,103.3 689.9,103.1 691.6,103.3 693.4,103.3 695.1,103.4 696.8,103.3 698.6,103.3 700.3,103.3 702.1,103.4 703.8,103.3 705.5,103.3 707.3,103.3 709.0,103.5 710.8,103.4 712.5,103.2 714.2,103.4 716.0,103.5 717.7,103.3 719.5,103.6 721.2,103.4 722.9,103.4 724.7,103.3 726.4,103.4 728.2,103.3 729.9,103.3 731.6,103.2 733.4,103.5 735.1,103.3 736.9,103.4 738.6,103.4 740.3,103.4 742.1,103.4 743.8,103.4 745.6,103.4 747.3,103.4" fill="none" stroke="#ffb900" stroke-width="0.85" stroke-opacity="0.9" stroke-linejoin="round"/>
<path d="M103.9,164.1 104.1,164.6 104.4,165.2 104.6,165.8 104.8,166.4 105.0,167.0 105.3,167.6 105.5,168.1 105.7,168.7 105.9,169.4 106.2,170.2 106.4,170.9 106.6,171.5 106.8,171.8 107.1,171.9 107.3,171.8 107.5,171.3 107.7,170.8 108.0,170.1 108.2,169.5 108.4,168.9 108.6,168.3 108.9,167.6 109.1,167.3 109.3,166.7 109.5,166.0 109.8,165.5 110.0,165.0 110.2,164.3 110.4,163.8 110.7,163.3 110.9,162.7 111.1,162.1 111.3,161.7 111.6,161.3 111.8,161.0 112.0,160.6 112.2,160.5 112.5,160.1 112.7,159.7 112.9,159.7 113.2,159.4 113.4,159.1 113.6,159.0 113.8,158.6 114.1,158.6 114.3,158.2 114.5,158.1 114.7,158.1 115.0,157.9 115.2,157.7 115.4,157.5 115.6,157.4 115.9,157.2 116.1,157.1 116.3,157.0 116.5,156.7 116.8,156.7 117.0,156.4 117.2,156.5 117.4,156.1 117.7,156.0 117.9,155.9 118.1,155.8 118.3,155.7 118.6,155.5 118.8,155.4 119.0,155.2 119.2,155.1 119.5,154.8 119.7,154.6 119.9,154.5 120.1,154.5 120.4,154.4 120.6,154.2 120.8,154.1 121.0,154.0 121.3,153.8 121.5,153.6 121.7,153.4 122.0,153.6 122.2,153.4 122.4,153.1 122.6,153.1 122.9,153.1 123.1,153.1 123.3,152.8 123.5,152.7 123.8,152.7 124.0,152.4 124.2,152.4 124.4,152.4 124.7,152.2 124.9,152.4 125.1,152.2 125.3,152.1 125.6,151.9 125.8,152.0 126.0,151.9 126.2,151.7 126.5,151.6 126.7,151.5 126.9,151.5 127.1,151.5 127.4,151.5 127.6,151.4 127.8,151.3 128.0,151.1 128.3,151.1 128.5,151.2 128.7,151.0 128.9,150.9 129.2,150.9 129.4,150.9 129.6,150.8 129.8,150.7 130.1,150.6 130.3,150.7 130.5,150.7 130.7,150.5 131.0,150.4 131.2,150.5 131.4,150.3 131.7,150.4 131.9,150.3 132.1,150.4 132.3,150.3 132.6,150.3 132.8,150.4 133.0,150.1 133.2,150.0 133.5,150.1 133.7,150.1 133.9,150.1 134.1,149.9 134.4,150.0 134.6,150.0 134.8,149.7 135.0,149.9 135.3,149.9 135.5,150.0 135.7,149.7 135.9,149.7 136.2,149.9 136.4,149.6 136.6,149.7 136.8,149.7 137.1,149.7 137.3,149.5 137.5,149.3 137.7,149.5 138.0,149.3 138.2,149.2 138.4,149.4 138.6,149.2 138.9,148.9 139.1,148.9 139.3,148.8 139.5,148.6 139.8,148.4 140.0,148.6 141.7,147.7 143.5,146.5 145.2,145.1 147.0,143.9 148.7,142.8 150.4,141.7 152.2,140.9" fill="none" stroke="#ffb900" stroke-width="0.72" stroke-opacity="1.0" stroke-linejoin="round"/>
<path d="M152.2,140.9 153.9,140.0 155.7,139.4 157.4,138.6 159.1,137.7 160.9,137.2 162.6,136.9 164.4,136.0 166.1,135.6 167.8,135.0 169.6,134.6 171.3,133.9 173.1,133.2 174.8,132.4 176.5,131.8 178.3,131.2 180.0,130.5 181.8,129.6 183.5,129.3 185.2,128.5 187.0,127.8 188.7,127.4 190.5,126.7 192.2,126.0 193.9,125.3 195.7,124.6 197.4,123.8 199.2,122.9 200.9,122.3 202.6,121.5 204.4,121.0 206.1,120.2 207.9,119.6 209.6,118.9 211.3,118.3 213.1,117.6 214.8,116.9 216.6,116.5 218.3,115.7 220.0,115.3 221.8,114.9 223.5,114.4 225.3,114.0 227.0,113.6 228.7,113.1 230.5,112.7 232.2,112.4 234.0,111.9 235.7,111.6 237.4,111.4 239.2,111.1 240.9,111.0 242.7,110.6 244.4,110.2 246.1,110.1 247.9,110.0 249.6,109.6 251.4,109.5 253.1,109.3 254.8,108.9 256.6,108.7 258.3,108.5 260.1,108.4 261.8,108.3 263.5,108.1 265.3,107.8 267.0,107.7 268.8,107.5 270.5,107.3 272.2,107.2 274.0,107.0 275.7,107.0 277.5,106.9 279.2,106.8 280.9,106.6 282.7,106.4 284.4,106.4 286.2,106.3 287.9,106.1 289.6,106.0 291.4,105.9 293.1,105.8 294.9,105.8 296.6,105.6 298.4,105.7 300.1,105.5 301.8,105.6 303.6,105.4 305.3,105.5 307.1,105.4 308.8,105.2 310.5,105.2 312.3,105.0 314.0,105.0 315.8,105.0 317.5,105.0 319.2,104.6 321.0,104.7 322.7,104.5 324.5,104.4 326.2,104.4 327.9,104.3 329.7,104.2 331.4,104.1 333.2,104.1 334.9,104.1 336.6,104.1 338.4,103.9 340.1,103.9 341.9,103.8 343.6,103.8 345.3,103.7 347.1,103.8 348.8,103.9 350.6,103.8 352.3,103.6 354.0,103.6 355.8,103.5 357.5,103.6 359.3,103.6 361.0,103.5 362.7,103.5 364.5,103.5 366.2,103.3 368.0,103.3 369.7,103.4 371.4,103.4 373.2,103.5 374.9,103.4 376.7,103.4 378.4,103.4 380.1,103.4 381.9,103.3 383.6,103.2 385.4,103.4 387.1,103.3 388.8,103.3 390.6,103.2 392.3,103.2 394.1,103.1 395.8,103.1 397.5,103.2 399.3,103.2 401.0,103.2 402.8,103.3 404.5,103.2 406.2,103.3 408.0,103.1 409.7,103.2 411.5,103.1 413.2,103.2 414.9,103.1 416.7,103.2 418.4,103.2 420.2,103.0 421.9,103.2 423.6,103.1 425.4,103.2 427.1,103.2 428.9,103.1 430.6,103.1 432.3,103.1 434.1,103.2 435.8,103.1 437.6,103.2 439.3,103.1 441.0,103.3 442.8,103.1 444.5,103.3 446.3,103.2 448.0,103.2 449.7,103.2 451.5,103.2 453.2,103.2 455.0,103.3 456.7,103.2 458.4,103.2 460.2,103.3 461.9,103.2 463.7,103.3 465.4,103.2 467.1,103.1 468.9,103.2 470.6,103.2 472.4,103.3 474.1,103.2 475.8,103.2 477.6,103.2 479.3,103.1 481.1,103.3 482.8,103.2 484.5,103.3 486.3,103.3 488.0,103.2 489.8,103.1 491.5,103.3 493.2,103.3 495.0,103.3 496.7,103.2 498.5,103.2 500.2,103.2 501.9,103.2 503.7,103.4 505.4,103.2 507.2,103.2 508.9,103.3 510.6,103.2 512.4,103.2 514.1,103.3 515.9,103.2 517.6,103.3 519.3,103.4 521.1,103.3 522.8,103.2 524.6,103.3 526.3,103.3 528.0,103.3 529.8,103.3 531.5,103.3 533.3,103.3 535.0,103.3 536.7,103.3 538.5,103.3 540.2,103.3 542.0,103.3 543.7,103.4 545.4,103.3 547.2,103.3 548.9,103.4 550.7,103.3 552.4,103.4 554.1,103.4 555.9,103.3 557.6,103.3 559.4,103.3 561.1,103.5 562.8,103.3 564.6,103.4 566.3,103.4 568.1,103.4 569.8,103.5 571.5,103.4 573.3,103.5 575.0,103.4 576.8,103.4 578.5,103.5 580.2,103.4 582.0,103.5 583.7,103.5 585.5,103.4 587.2,103.6 588.9,103.5 590.7,103.6 592.4,103.4 594.2,103.5 595.9,103.5 597.7,103.5 599.4,103.6 601.1,103.4 602.9,103.5 604.6,103.5 606.4,103.6 608.1,103.5 609.8,103.5 611.6,103.5 613.3,103.5 615.1,103.5 616.8,103.6 618.5,103.5 620.3,103.6 622.0,103.5 623.8,103.7 625.5,103.7 627.2,103.6 629.0,103.5 630.7,103.5 632.5,103.6 634.2,103.6 635.9,103.8 637.7,103.7 639.4,103.6 641.2,103.7 642.9,103.7 644.6,103.7 646.4,103.7 648.1,103.7 649.9,103.6 651.6,103.6 653.3,103.7 655.1,103.7 656.8,103.6 658.6,103.6 660.3,103.7 662.0,103.5 663.8,103.8 665.5,103.7 667.3,103.8 669.0,103.8 670.7,103.6 672.5,103.7 674.2,103.9 676.0,103.7 677.7,103.7 679.4,103.7 681.2,103.8 682.9,103.8 684.7,103.8 686.4,103.7 688.1,103.8 689.9,103.8 691.6,103.8 693.4,103.8 695.1,103.9 696.8,103.7 698.6,103.8 700.3,103.9 702.1,103.9 703.8,103.8 705.5,103.7 707.3,103.8 709.0,103.8 710.8,103.8 712.5,103.8 714.2,103.7 716.0,103.8 717.7,103.9 719.5,103.9 721.2,103.7 722.9,103.8 724.7,103.7 726.4,103.8 728.2,104.1 729.9,103.8 731.6,103.8 733.4,103.8 735.1,103.8 736.9,103.7 738.6,103.9 740.3,103.8 742.1,104.0 743.8,103.8 745.6,103.9 747.3,104.0" fill="none" stroke="#ffb900" stroke-width="0.85" stroke-opacity="0.9" stroke-linejoin="round"/>
<path d="M103.9,164.1 104.1,164.8 104.4,165.3 104.6,166.0 104.8,166.6 105.0,167.1 105.3,167.7 105.5,168.2 105.7,168.9 105.9,169.6 106.2,170.3 106.4,171.1 106.6,171.7 106.8,172.2 107.1,172.2 107.3,172.1 107.5,171.7 107.7,171.2 108.0,170.6 108.2,170.0 108.4,169.5 108.6,168.9 108.9,168.4 109.1,167.9 109.3,167.4 109.5,166.9 109.8,166.4 110.0,165.8 110.2,165.2 110.4,164.6 110.7,164.1 110.9,163.6 111.1,163.1 111.3,162.6 111.6,162.1 111.8,161.8 112.0,161.4 112.2,161.3 112.5,161.1 112.7,160.7 112.9,160.5 113.2,160.2 113.4,159.9 113.6,159.8 113.8,159.6 114.1,159.3 114.3,159.3 114.5,159.1 114.7,158.9 115.0,158.8 115.2,158.6 115.4,158.4 115.6,158.3 115.9,158.1 116.1,157.9 116.3,157.9 116.5,157.7 116.8,157.5 117.0,157.3 117.2,157.5 117.4,157.2 117.7,157.0 117.9,156.9 118.1,156.7 118.3,156.5 118.6,156.4 118.8,156.2 119.0,156.1 119.2,155.8 119.5,155.8 119.7,155.7 119.9,155.4 120.1,155.5 120.4,155.2 120.6,155.2 120.8,155.0 121.0,154.9 121.3,154.7 121.5,154.8 121.7,154.6 122.0,154.5 122.2,154.3 122.4,154.2 122.6,154.0 122.9,153.9 123.1,153.9 123.3,153.7 123.5,153.6 123.8,153.4 124.0,153.4 124.2,153.4 124.4,153.2 124.7,153.2 124.9,153.1 125.1,152.9 125.3,152.9 125.6,152.8 125.8,152.8 126.0,152.7 126.2,152.7 126.5,152.5 126.7,152.3 126.9,152.5 127.1,152.3 127.4,152.3 127.6,152.5 127.8,152.3 128.0,152.1 128.3,152.1 128.5,152.0 128.7,152.0 128.9,151.8 129.2,151.7 129.4,151.7 129.6,151.8 129.8,151.8 130.1,151.5 130.3,151.6 130.5,151.5 130.7,151.5 131.0,151.4 131.2,151.4 131.4,151.3 131.7,151.2 131.9,151.2 132.1,151.2 132.3,151.1 132.6,151.0 132.8,151.3 133.0,151.0 133.2,150.8 133.5,150.8 133.7,150.7 133.9,150.9 134.1,151.1 134.4,150.7 134.6,150.8 134.8,150.6 135.0,150.9 135.3,150.8 135.5,150.8 135.7,150.9 135.9,150.9 136.2,150.8 136.4,150.6 136.6,150.4 136.8,150.4 137.1,150.3 137.3,150.7 137.5,150.4 137.7,150.3 138.0,150.3 138.2,150.4 138.4,150.0 138.6,150.2 138.9,150.0 139.1,149.8 139.3,149.5 139.5,149.8 139.8,149.5 140.0,149.4 141.7,148.5 143.5,147.3 145.2,146.1 147.0,144.5 148.7,143.5 150.4,142.5 152.2,141.6" fill="none" stroke="#ffb900" stroke-width="0.72" stroke-opacity="1.0" stroke-linejoin="round"/>
<path d="M152.2,141.6 153.9,140.8 155.7,139.9 157.4,139.3 159.1,138.4 160.9,137.7 162.6,137.3 164.4,136.8 166.1,136.1 167.8,135.5 169.6,135.0 171.3,134.4 173.1,133.7 174.8,133.0 176.5,132.1 178.3,131.8 180.0,131.0 181.8,130.1 183.5,129.7 185.2,129.0 187.0,128.5 188.7,127.7 190.5,127.4 192.2,126.5 193.9,125.6 195.7,125.1 197.4,124.2 199.2,123.4 200.9,122.7 202.6,121.8 204.4,121.3 206.1,120.6 207.9,119.9 209.6,119.4 211.3,118.6 213.1,118.0 214.8,117.3 216.6,116.8 218.3,116.4 220.0,115.7 221.8,115.2 223.5,114.9 225.3,114.3 227.0,113.9 228.7,113.6 230.5,113.0 232.2,112.7 234.0,112.2 235.7,112.0 237.4,111.8 239.2,111.6 240.9,111.1 242.7,111.0 244.4,110.8 246.1,110.5 247.9,110.4 249.6,110.0 251.4,109.7 253.1,109.6 254.8,109.2 256.6,109.3 258.3,109.0 260.1,108.7 261.8,108.6 263.5,108.4 265.3,108.4 267.0,108.0 268.8,107.8 270.5,107.6 272.2,107.6 274.0,107.4 275.7,107.4 277.5,107.3 279.2,107.1 280.9,106.9 282.7,106.9 284.4,106.7 286.2,106.6 287.9,106.5 289.6,106.3 291.4,106.2 293.1,106.4 294.9,106.1 296.6,106.0 298.4,106.0 300.1,105.9 301.8,105.8 303.6,105.8 305.3,105.7 307.1,105.7 308.8,105.6 310.5,105.4 312.3,105.3 314.0,105.4 315.8,105.2 317.5,105.2 319.2,105.1 321.0,104.8 322.7,104.9 324.5,104.7 326.2,104.7 327.9,104.7 329.7,104.7 331.4,104.5 333.2,104.5 334.9,104.4 336.6,104.4 338.4,104.1 340.1,104.2 341.9,104.2 343.6,104.2 345.3,104.1 347.1,104.2 348.8,104.1 350.6,104.0 352.3,104.0 354.0,103.9 355.8,103.9 357.5,104.0 359.3,104.0 361.0,103.8 362.7,103.8 364.5,103.8 366.2,103.9 368.0,103.8 369.7,103.8 371.4,103.8 373.2,103.8 374.9,103.7 376.7,103.6 378.4,103.7 380.1,103.7 381.9,103.7 383.6,103.6 385.4,103.6 387.1,103.7 388.8,103.6 390.6,103.6 392.3,103.6 394.1,103.5 395.8,103.5 397.5,103.5 399.3,103.5 401.0,103.6 402.8,103.5 404.5,103.5 406.2,103.6 408.0,103.5 409.7,103.6 411.5,103.6 413.2,103.4 414.9,103.5 416.7,103.5 418.4,103.6 420.2,103.5 421.9,103.6 423.6,103.7 425.4,103.5 427.1,103.5 428.9,103.6 430.6,103.5 432.3,103.6 434.1,103.6 435.8,103.6 437.6,103.6 439.3,103.5 441.0,103.5 442.8,103.5 444.5,103.4 446.3,103.6 448.0,103.6 449.7,103.6 451.5,103.5 453.2,103.6 455.0,103.6 456.7,103.6 458.4,103.7 460.2,103.5 461.9,103.6 463.7,103.6 465.4,103.6 467.1,103.6 468.9,103.5 470.6,103.6 472.4,103.6 474.1,103.7 475.8,103.6 477.6,103.6 479.3,103.6 481.1,103.7 482.8,103.6 484.5,103.6 486.3,103.7 488.0,103.5 489.8,103.6 491.5,103.5 493.2,103.5 495.0,103.6 496.7,103.5 498.5,103.7 500.2,103.7 501.9,103.6 503.7,103.6 505.4,103.6 507.2,103.6 508.9,103.7 510.6,103.7 512.4,103.6 514.1,103.6 515.9,103.6 517.6,103.7 519.3,103.7 521.1,103.8 522.8,103.7 524.6,103.8 526.3,103.6 528.0,103.7 529.8,103.7 531.5,103.7 533.3,103.7 535.0,103.9 536.7,103.7 538.5,103.7 540.2,103.7 542.0,103.8 543.7,103.8 545.4,103.8 547.2,103.6 548.9,103.8 550.7,103.7 552.4,103.8 554.1,103.8 555.9,103.7 557.6,103.8 559.4,103.8 561.1,103.8 562.8,103.8 564.6,103.7 566.3,103.8 568.1,103.7 569.8,103.9 571.5,103.8 573.3,103.8 575.0,103.8 576.8,103.8 578.5,103.6 580.2,103.9 582.0,103.9 583.7,103.8 585.5,103.8 587.2,103.9 588.9,103.9 590.7,103.8 592.4,103.9 594.2,103.9 595.9,103.9 597.7,103.9 599.4,103.9 601.1,103.9 602.9,104.0 604.6,103.9 606.4,104.1 608.1,103.9 609.8,104.0 611.6,104.0 613.3,104.0 615.1,104.0 616.8,104.1 618.5,103.9 620.3,104.0 622.0,104.0 623.8,104.0 625.5,104.0 627.2,104.1 629.0,104.0 630.7,104.0 632.5,104.0 634.2,104.0 635.9,104.1 637.7,104.1 639.4,104.1 641.2,104.1 642.9,104.1 644.6,104.2 646.4,104.0 648.1,104.2 649.9,104.1 651.6,104.2 653.3,104.1 655.1,104.1 656.8,104.0 658.6,104.2 660.3,104.1 662.0,104.1 663.8,104.2 665.5,104.2 667.3,104.3 669.0,104.3 670.7,104.2 672.5,104.2 674.2,104.2 676.0,104.1 677.7,104.2 679.4,104.2 681.2,104.2 682.9,104.2 684.7,104.1 686.4,104.3 688.1,104.3 689.9,104.1 691.6,104.2 693.4,104.3 695.1,104.3 696.8,104.2 698.6,104.2 700.3,104.3 702.1,104.4 703.8,104.2 705.5,104.3 707.3,104.2 709.0,104.2 710.8,104.3 712.5,104.3 714.2,104.2 716.0,104.4 717.7,104.3 719.5,104.3 721.2,104.4 722.9,104.3 724.7,104.3 726.4,104.4 728.2,104.2 729.9,104.4 731.6,104.4 733.4,104.4 735.1,104.3 736.9,104.3 738.6,104.2 740.3,104.3 742.1,104.4 743.8,104.4 745.6,104.4 747.3,104.3" fill="none" stroke="#ffb900" stroke-width="0.85" stroke-opacity="0.9" stroke-linejoin="round"/>
<path d="M110.0,495.9 110.4,485.7 110.8,475.8 111.2,466.4 111.6,457.6 112.0,449.8 112.4,443.0 112.8,436.8 113.2,430.6 113.6,424.0 113.9,417.0 114.3,410.0 114.7,402.9 115.1,395.9 115.5,389.1 115.9,382.7 116.3,376.7 116.7,370.9 117.1,365.2 117.5,359.8 117.9,354.5 118.3,349.5 118.7,344.8 119.1,340.3 119.5,336.2 119.9,332.5 120.3,329.0 120.7,325.5 121.1,322.1 121.4,318.6 121.8,314.8 122.2,310.9 122.6,306.9 123.0,302.9 123.4,298.8 123.8,294.8 124.2,291.0 124.6,287.3 125.0,283.9 125.4,280.8 125.8,277.8 126.2,275.0 126.6,272.2 127.0,269.5 127.4,266.8 127.8,264.2 128.2,261.7 128.5,259.2 128.9,256.8 129.3,254.4 129.7,252.1 130.1,249.8 130.5,247.5 130.9,245.3 131.3,243.1 131.7,241.0 132.1,238.8 132.5,236.6 132.9,234.5 133.3,232.3 133.7,230.0 134.1,227.8 134.5,225.5 134.9,223.2 135.3,221.0 135.7,219.0 136.0,217.0 136.4,215.1 136.8,213.3 137.2,211.6 137.6,210.1 138.0,208.6 138.4,207.2 138.8,205.9 139.2,204.6 139.6,203.3 140.0,202.1 140.4,200.9 140.8,199.8 141.2,198.7 141.6,197.6 142.0,196.5 142.4,195.5 142.8,194.5 143.2,193.4 143.5,192.4 143.9,191.4 144.3,190.4 144.7,189.3 145.1,188.3 145.5,187.3 145.9,186.3 146.3,185.3 146.7,184.3 147.1,183.4 147.5,182.5 147.9,181.6 148.3,180.8 148.7,180.0 149.1,179.3 149.5,178.7 149.9,178.1 150.3,177.6 150.6,177.2 151.0,176.7 151.4,176.3 151.8,175.8 152.2,175.4 152.6,175.0 153.0,174.6 153.4,174.2 153.8,173.8 154.2,173.5 154.6,173.2 155.0,172.8 155.4,172.6 155.8,172.3 156.2,172.1 156.6,171.8 157.0,171.7 157.4,171.5 157.8,171.4 158.1,171.3 158.5,171.3 158.9,171.3 159.3,171.3 159.7,171.3 160.1,171.4 160.5,171.4 160.9,171.3 161.3,171.3 161.7,171.2 162.1,171.2 162.5,171.3 162.9,171.3 163.3,171.4 163.7,171.4 164.1,171.5 164.5,171.6 164.9,171.7 165.3,171.9 165.6,172.0 166.0,172.2 166.4,172.3 166.8,172.5 167.2,172.6 167.6,172.8 168.0,173.0 168.4,173.2 168.8,173.4 169.2,173.6 169.6,173.7 170.0,173.9 170.4,174.2 170.8,174.4 171.2,174.7 171.6,175.0 172.0,175.4 172.4,175.7 172.7,176.1 173.1,176.4 173.5,176.8 173.9,177.2 174.3,177.6 174.7,178.0 175.1,178.4 175.5,178.8 175.9,179.2 176.3,179.6 176.7,179.9 177.1,180.3 177.5,180.6 177.9,181.0 178.3,181.3 178.7,181.6 179.1,181.9 179.5,182.2 179.9,182.5 180.2,182.8 180.6,183.1 181.0,183.4 181.4,183.7 181.8,184.0 182.2,184.3 182.6,184.6 183.0,184.9 183.4,185.3 183.8,185.6 184.2,185.9 184.6,186.2 185.0,186.5 185.4,186.8 185.8,187.1 186.2,187.5 186.6,187.8 187.0,188.2 187.4,188.5 187.7,188.9 188.1,189.2 188.5,189.6 188.9,190.0 189.3,190.3 189.7,190.7 190.1,191.0 190.5,191.4 190.9,191.7 191.3,192.0 191.7,192.3 192.1,192.6 192.5,192.9 192.9,193.2 193.3,193.5 193.7,193.8 194.1,194.1 194.5,194.4 194.8,194.7 195.2,194.9 195.6,195.2 196.0,195.5 196.4,195.8 196.8,196.0 197.2,196.3 197.6,196.5 198.0,196.8 198.4,197.0 198.8,197.3 199.2,197.5 199.6,197.7 200.0,197.9 200.4,198.2 200.8,198.4 201.2,198.5 201.6,198.7 202.0,198.9 202.3,199.1 202.7,199.3 203.1,199.4 203.5,199.6 203.9,199.8 204.3,200.0 204.7,200.2 205.1,200.3 205.5,200.5 205.9,200.7 206.3,200.9 206.7,201.0 207.1,201.2 207.5,201.4 207.9,201.5 208.3,201.7 208.7,201.8 209.1,202.0 209.5,202.1 209.8,202.2 210.2,202.3 210.6,202.5 211.0,202.6 211.4,202.7 211.8,202.7 212.2,202.8 212.6,202.9 213.0,202.9 213.4,202.9 213.8,202.8 214.2,202.7 214.6,202.6 215.0,202.5 215.4,202.5 215.8,202.4 216.2,202.3 216.6,202.2 216.9,202.1 217.3,202.0 217.7,201.9 218.1,201.7 218.5,201.5 218.9,201.3 219.3,201.0 219.7,200.7 220.1,200.4 220.5,200.1 220.9,199.7 221.3,199.4 221.7,199.0 222.1,198.6 222.5,198.2 222.9,197.8 223.3,197.4 223.7,197.0 224.1,196.6 224.4,196.1 224.8,195.6 225.2,195.1 225.6,194.6 226.0,194.1 226.4,193.6 226.8,193.0 227.2,192.5 227.6,191.9 228.0,191.4 L228.0,207.3 227.6,207.7 227.2,208.1 226.8,208.5 226.4,208.9 226.0,209.3 225.6,209.6 225.2,210.0 224.8,210.4 224.4,210.7 224.1,211.1 223.7,211.4 223.3,211.7 222.9,211.9 222.5,212.2 222.1,212.4 221.7,212.6 221.3,212.7 220.9,212.9 220.5,213.0 220.1,213.2 219.7,213.3 219.3,213.5 218.9,213.6 218.5,213.7 218.1,213.9 217.7,214.0 217.3,214.1 216.9,214.2 216.6,214.3 216.2,214.4 215.8,214.4 215.4,214.5 215.0,214.6 214.6,214.6 214.2,214.6 213.8,214.5 213.4,214.5 213.0,214.5 212.6,214.5 212.2,214.5 211.8,214.6 211.4,214.6 211.0,214.6 210.6,214.5 210.2,214.5 209.8,214.5 209.5,214.4 209.1,214.3 208.7,214.3 208.3,214.2 207.9,214.1 207.5,214.0 207.1,213.9 206.7,213.8 206.3,213.6 205.9,213.5 205.5,213.4 205.1,213.2 204.7,213.1 204.3,212.9 203.9,212.7 203.5,212.6 203.1,212.4 202.7,212.2 202.3,212.1 202.0,211.9 201.6,211.7 201.2,211.5 200.8,211.3 200.4,211.2 200.0,211.0 199.6,210.8 199.2,210.6 198.8,210.4 198.4,210.3 198.0,210.1 197.6,209.9 197.2,209.7 196.8,209.5 196.4,209.3 196.0,209.1 195.6,208.8 195.2,208.6 194.8,208.3 194.5,208.1 194.1,207.8 193.7,207.6 193.3,207.3 192.9,207.0 192.5,206.8 192.1,206.5 191.7,206.2 191.3,205.9 190.9,205.6 190.5,205.3 190.1,205.0 189.7,204.8 189.3,204.5 188.9,204.2 188.5,203.9 188.1,203.6 187.7,203.2 187.4,202.9 187.0,202.6 186.6,202.2 186.2,201.9 185.8,201.5 185.4,201.2 185.0,200.8 184.6,200.4 184.2,200.1 183.8,199.7 183.4,199.4 183.0,199.0 182.6,198.7 182.2,198.4 181.8,198.0 181.4,197.7 181.0,197.4 180.6,197.1 180.2,196.8 179.9,196.5 179.5,196.2 179.1,195.9 178.7,195.6 178.3,195.3 177.9,195.0 177.5,194.7 177.1,194.4 176.7,194.1 176.3,193.8 175.9,193.5 175.5,193.2 175.1,192.8 174.7,192.5 174.3,192.2 173.9,191.9 173.5,191.5 173.1,191.1 172.7,190.8 172.4,190.4 172.0,190.0 171.6,189.6 171.2,189.2 170.8,188.8 170.4,188.4 170.0,188.0 169.6,187.6 169.2,187.3 168.8,186.9 168.4,186.6 168.0,186.3 167.6,186.0 167.2,185.7 166.8,185.5 166.4,185.3 166.0,185.1 165.6,184.9 165.3,184.7 164.9,184.5 164.5,184.4 164.1,184.2 163.7,184.0 163.3,183.9 162.9,183.7 162.5,183.5 162.1,183.4 161.7,183.3 161.3,183.2 160.9,183.1 160.5,183.0 160.1,183.1 159.7,183.3 159.3,183.5 158.9,183.7 158.5,183.9 158.1,184.2 157.8,184.5 157.4,184.8 157.0,185.2 156.6,185.5 156.2,185.9 155.8,186.3 155.4,186.7 155.0,187.1 154.6,187.5 154.2,188.0 153.8,188.4 153.4,188.8 153.0,189.4 152.6,190.0 152.2,190.7 151.8,191.4 151.4,192.2 151.0,193.0 150.6,193.9 150.3,194.9 149.9,195.8 149.5,196.8 149.1,197.8 148.7,198.8 148.3,199.9 147.9,200.9 147.5,201.9 147.1,203.0 146.7,204.0 146.3,205.0 145.9,206.0 145.5,207.1 145.1,208.1 144.7,209.2 144.3,210.3 143.9,211.5 143.5,212.6 143.2,213.9 142.8,215.1 142.4,216.4 142.0,217.8 141.6,219.2 141.2,220.7 140.8,222.2 140.4,223.9 140.0,225.8 139.6,227.7 139.2,229.7 138.8,231.8 138.4,234.0 138.0,236.1 137.6,238.3 137.2,240.4 136.8,242.5 136.4,244.6 136.0,246.6 135.7,248.7 135.3,250.7 134.9,252.8 134.5,254.7 134.1,256.8 133.7,258.8 133.3,260.9 132.9,263.0 132.5,265.1 132.1,267.3 131.7,269.6 131.3,271.9 130.9,274.3 130.5,276.7 130.1,279.1 129.7,281.6 129.3,284.2 128.9,286.9 128.5,289.6 128.2,292.5 127.8,295.5 127.4,298.6 127.0,302.0 126.6,305.4 126.2,308.9 125.8,312.4 125.4,315.8 125.0,319.3 124.6,322.3 124.2,325.3 123.8,328.1 123.4,330.8 123.0,333.5 122.6,336.3 122.2,339.1 121.8,342.1 121.4,345.4 121.1,348.9 120.7,352.7 120.3,356.6 119.9,360.7 119.5,364.9 119.1,369.3 118.7,373.9 118.3,378.5 117.9,383.2 117.5,388.2 117.1,393.5 116.7,398.9 116.3,404.6 115.9,410.3 115.5,416.1 115.1,421.8 114.7,427.4 114.3,432.8 113.9,437.8 113.6,442.8 113.2,447.9 112.8,453.7 112.4,460.2 112.0,467.4 111.6,475.2 111.2,483.3 110.8,491.8 110.4,500.3 110.0,508.7Z" fill="#ff3000" fill-opacity="0.35" stroke="none"/>
<path d="M228.0,191.4 228.7,190.3 229.4,189.3 230.1,188.2 230.8,187.1 231.5,186.0 232.3,184.9 233.0,183.8 233.7,182.6 234.4,181.3 235.1,180.1 235.8,178.9 236.5,177.8 237.2,176.7 237.9,175.6 238.6,174.6 239.3,173.6 240.1,172.6 240.8,171.6 241.5,170.6 242.2,169.7 242.9,168.7 243.6,167.8 244.3,166.9 245.0,165.9 245.7,164.9 246.4,164.0 247.1,163.0 247.9,162.0 248.6,160.9 249.3,159.9 250.0,158.8 250.7,157.8 251.4,156.7 252.1,155.6 252.8,154.6 253.5,153.5 254.2,152.5 254.9,151.5 255.7,150.6 256.4,149.7 257.1,148.9 257.8,148.1 258.5,147.3 259.2,146.5 259.9,145.8 260.6,145.1 261.3,144.4 262.0,143.8 262.7,143.1 263.5,142.5 264.2,141.9 264.9,141.3 265.6,140.8 266.3,140.2 267.0,139.7 267.7,139.2 268.4,138.7 269.1,138.2 269.8,137.7 270.5,137.2 271.3,136.8 272.0,136.3 272.7,135.9 273.4,135.5 274.1,135.1 274.8,134.7 275.5,134.3 276.2,133.9 276.9,133.5 277.6,133.1 278.3,132.8 279.1,132.4 279.8,132.1 280.5,131.7 281.2,131.4 281.9,131.1 282.6,130.8 283.3,130.5 284.0,130.2 284.7,129.9 285.4,129.6 286.1,129.4 286.8,129.1 287.6,128.8 288.3,128.6 289.0,128.3 289.7,128.1 290.4,127.9 291.1,127.7 291.8,127.5 292.5,127.3 293.2,127.1 293.9,126.9 294.6,126.8 295.4,126.6 296.1,126.5 296.8,126.3 297.5,126.2 298.2,126.1 298.9,125.9 299.6,125.8 300.3,125.6 301.0,125.5 301.7,125.3 302.4,125.2 303.2,125.0 303.9,124.8 304.6,124.5 305.3,124.3 306.0,124.0 306.7,123.7 307.4,123.5 308.1,123.2 308.8,122.9 309.5,122.6 310.2,122.3 311.0,122.0 311.7,121.7 312.4,121.5 313.1,121.2 313.8,121.0 314.5,120.8 315.2,120.6 315.9,120.3 316.6,120.1 317.3,119.9 318.0,119.7 318.8,119.5 319.5,119.2 320.2,119.0 320.9,118.8 321.6,118.6 322.3,118.4 323.0,118.2 323.7,118.1 324.4,117.9 325.1,117.7 325.8,117.5 326.6,117.3 327.3,117.2 328.0,117.0 328.7,116.8 329.4,116.7 330.1,116.5 330.8,116.4 331.5,116.2 332.2,116.1 332.9,115.9 333.6,115.8 334.4,115.6 335.1,115.5 335.8,115.3 336.5,115.2 337.2,115.1 337.9,114.9 338.6,114.8 339.3,114.7 340.0,114.5 340.7,114.4 341.4,114.3 342.2,114.2 342.9,114.0 343.6,113.9 344.3,113.8 345.0,113.7 345.7,113.5 346.4,113.4 347.1,113.3 347.8,113.2 348.5,113.1 349.2,112.9 350.0,112.8 350.7,112.7 351.4,112.6 352.1,112.5 352.8,112.4 353.5,112.3 354.2,112.1 354.9,112.0 355.6,111.9 356.3,111.8 357.0,111.7 357.8,111.6 358.5,111.5 359.2,111.4 359.9,111.3 360.6,111.2 361.3,111.1 362.0,111.0 362.7,110.9 363.4,110.8 364.1,110.7 364.8,110.6 365.6,110.5 366.3,110.4 367.0,110.3 367.7,110.2 368.4,110.1 369.1,110.0 369.8,109.9 370.5,109.8 371.2,109.8 371.9,109.7 372.6,109.6 373.4,109.5 374.1,109.4 374.8,109.3 375.5,109.2 376.2,109.1 376.9,109.0 377.6,108.9 378.3,108.9 379.0,108.8 379.7,108.7 380.4,108.6 381.2,108.5 381.9,108.5 382.6,108.4 383.3,108.3 384.0,108.3 384.7,108.2 385.4,108.1 386.1,108.1 386.8,108.0 387.5,107.9 388.2,107.9 388.9,107.8 389.7,107.8 390.4,107.7 391.1,107.7 391.8,107.6 392.5,107.6 393.2,107.5 393.9,107.5 394.6,107.4 395.3,107.4 396.0,107.3 396.7,107.3 397.5,107.2 398.2,107.2 398.9,107.2 399.6,107.1 400.3,107.1 401.0,107.0 401.7,107.0 402.4,106.9 403.1,106.9 403.8,106.9 404.5,106.8 405.3,106.8 406.0,106.7 406.7,106.7 407.4,106.7 408.1,106.6 408.8,106.6 409.5,106.6 410.2,106.5 410.9,106.5 411.6,106.4 412.3,106.4 413.1,106.4 413.8,106.3 414.5,106.3 415.2,106.3 415.9,106.2 416.6,106.2 417.3,106.2 418.0,106.1 418.7,106.1 419.4,106.1 420.1,106.0 420.9,106.0 421.6,105.9 422.3,105.9 423.0,105.8 423.7,105.8 424.4,105.8 425.1,105.7 425.8,105.7 426.5,105.6 427.2,105.6 427.9,105.5 428.7,105.5 429.4,105.5 430.1,105.4 430.8,105.4 431.5,105.3 432.2,105.3 432.9,105.3 433.6,105.2 434.3,105.2 435.0,105.2 435.7,105.2 436.5,105.1 437.2,105.1 437.9,105.1 438.6,105.1 439.3,105.1 440.0,105.0 L440.0,106.3 439.3,106.3 438.6,106.3 437.9,106.4 437.2,106.4 436.5,106.4 435.7,106.4 435.0,106.5 434.3,106.5 433.6,106.5 432.9,106.6 432.2,106.6 431.5,106.7 430.8,106.7 430.1,106.7 429.4,106.8 428.7,106.8 427.9,106.9 427.2,106.9 426.5,107.0 425.8,107.0 425.1,107.0 424.4,107.1 423.7,107.1 423.0,107.2 422.3,107.2 421.6,107.3 420.9,107.3 420.1,107.4 419.4,107.4 418.7,107.5 418.0,107.5 417.3,107.6 416.6,107.6 415.9,107.7 415.2,107.7 414.5,107.7 413.8,107.8 413.1,107.8 412.3,107.9 411.6,107.9 410.9,108.0 410.2,108.0 409.5,108.1 408.8,108.1 408.1,108.2 407.4,108.2 406.7,108.3 406.0,108.3 405.3,108.4 404.5,108.4 403.8,108.5 403.1,108.6 402.4,108.6 401.7,108.7 401.0,108.7 400.3,108.8 399.6,108.8 398.9,108.9 398.2,108.9 397.5,109.0 396.7,109.1 396.0,109.1 395.3,109.2 394.6,109.2 393.9,109.3 393.2,109.4 392.5,109.4 391.8,109.5 391.1,109.6 390.4,109.6 389.7,109.7 388.9,109.8 388.2,109.8 387.5,109.9 386.8,110.0 386.1,110.0 385.4,110.1 384.7,110.2 384.0,110.3 383.3,110.4 382.6,110.5 381.9,110.5 381.2,110.6 380.4,110.7 379.7,110.8 379.0,110.9 378.3,111.0 377.6,111.1 376.9,111.2 376.2,111.3 375.5,111.4 374.8,111.5 374.1,111.6 373.4,111.7 372.6,111.9 371.9,112.0 371.2,112.1 370.5,112.2 369.8,112.3 369.1,112.4 368.4,112.5 367.7,112.6 367.0,112.7 366.3,112.9 365.6,113.0 364.8,113.1 364.1,113.2 363.4,113.3 362.7,113.4 362.0,113.6 361.3,113.7 360.6,113.8 359.9,113.9 359.2,114.1 358.5,114.2 357.8,114.3 357.0,114.4 356.3,114.6 355.6,114.7 354.9,114.8 354.2,114.9 353.5,115.1 352.8,115.2 352.1,115.3 351.4,115.5 350.7,115.6 350.0,115.8 349.2,115.9 348.5,116.0 347.8,116.2 347.1,116.3 346.4,116.5 345.7,116.6 345.0,116.7 344.3,116.9 343.6,117.0 342.9,117.2 342.2,117.3 341.4,117.5 340.7,117.6 340.0,117.8 339.3,117.9 338.6,118.1 337.9,118.2 337.2,118.4 336.5,118.5 335.8,118.7 335.1,118.9 334.4,119.0 333.6,119.2 332.9,119.4 332.2,119.6 331.5,119.7 330.8,119.9 330.1,120.1 329.4,120.3 328.7,120.5 328.0,120.7 327.3,120.9 326.6,121.1 325.8,121.3 325.1,121.5 324.4,121.8 323.7,122.0 323.0,122.2 322.3,122.5 321.6,122.7 320.9,122.9 320.2,123.2 319.5,123.4 318.8,123.7 318.0,123.9 317.3,124.2 316.6,124.4 315.9,124.7 315.2,125.0 314.5,125.3 313.8,125.6 313.1,125.9 312.4,126.2 311.7,126.5 311.0,126.9 310.2,127.2 309.5,127.5 308.8,127.8 308.1,128.1 307.4,128.4 306.7,128.6 306.0,128.8 305.3,129.0 304.6,129.2 303.9,129.4 303.2,129.6 302.4,129.7 301.7,129.9 301.0,130.1 300.3,130.2 299.6,130.4 298.9,130.6 298.2,130.7 297.5,130.9 296.8,131.1 296.1,131.3 295.4,131.6 294.6,131.8 293.9,132.1 293.2,132.4 292.5,132.6 291.8,132.9 291.1,133.2 290.4,133.5 289.7,133.9 289.0,134.2 288.3,134.5 287.6,134.9 286.8,135.2 286.1,135.6 285.4,135.9 284.7,136.3 284.0,136.7 283.3,137.1 282.6,137.5 281.9,137.9 281.2,138.3 280.5,138.8 279.8,139.2 279.1,139.7 278.3,140.2 277.6,140.7 276.9,141.1 276.2,141.7 275.5,142.2 274.8,142.7 274.1,143.3 273.4,143.8 272.7,144.4 272.0,145.0 271.3,145.6 270.5,146.3 269.8,146.9 269.1,147.6 268.4,148.3 267.7,149.0 267.0,149.7 266.3,150.5 265.6,151.3 264.9,152.1 264.2,152.9 263.5,153.8 262.7,154.7 262.0,155.6 261.3,156.6 260.6,157.6 259.9,158.7 259.2,159.8 258.5,160.9 257.8,162.0 257.1,163.2 256.4,164.3 255.7,165.4 254.9,166.5 254.2,167.6 253.5,168.6 252.8,169.7 252.1,170.7 251.4,171.7 250.7,172.8 250.0,173.8 249.3,174.8 248.6,175.9 247.9,176.9 247.1,178.0 246.4,179.1 245.7,180.1 245.0,181.3 244.3,182.4 243.6,183.6 242.9,184.9 242.2,186.2 241.5,187.5 240.8,188.8 240.1,190.1 239.3,191.3 238.6,192.5 237.9,193.7 237.2,194.9 236.5,196.0 235.8,197.1 235.1,198.2 234.4,199.3 233.7,200.3 233.0,201.3 232.3,202.2 231.5,203.2 230.8,204.1 230.1,204.9 229.4,205.8 228.7,206.6 228.0,207.3Z" fill="#ff3000" fill-opacity="0.13" stroke="none"/>
<path d="M103.9,327.5 104.0,333.5 104.1,339.7 104.2,346.2 104.3,352.5 104.4,359.1 104.5,365.9 104.6,372.7 104.7,379.7 104.8,386.5 105.0,393.7 105.1,401.1 105.2,408.7 105.3,416.1 105.4,423.8 105.5,431.6 105.6,439.4 105.7,448.5 105.8,457.4 105.9,466.6 106.0,476.4 106.1,485.2 106.2,494.3 106.3,503.2 106.4,511.5 106.5,518.9 106.6,525.0 106.7,532.0 106.9,538.9 107.0,546.0 107.1,551.4 107.2,555.2 107.3,557.1 107.4,557.6 107.5,556.6 107.6,555.8 107.7,554.3 107.8,552.2 107.9,550.2 108.0,547.5 108.1,544.5 108.2,542.1 108.3,538.7 108.4,535.2 108.5,531.9 108.6,529.3 108.8,526.7 108.9,524.3 109.0,522.1 109.1,519.1 109.2,515.8 109.3,514.8 109.4,511.7 109.5,508.8 109.6,506.4 109.7,502.1 109.8,500.0 109.9,497.2 110.0,495.5 110.1,491.2 110.2,489.0 110.3,487.6 110.4,484.3 110.5,480.9 110.7,479.9 110.8,474.8 110.9,473.6 111.0,470.5 111.1,468.6 111.2,465.5 111.3,462.6 111.4,461.2 111.5,457.5 111.6,457.0 111.7,454.1 111.8,453.2 111.9,449.9 112.0,447.8 112.1,447.0 112.2,446.1 112.3,441.0 112.4,441.6 112.6,440.5 112.7,436.6 112.8,435.5 112.9,435.6 113.0,432.2 113.1,430.7 113.2,431.7 113.3,426.8 113.4,425.0 113.5,421.4 113.6,421.0 113.7,419.0 113.8,420.8 113.9,418.3 114.0,413.2 114.1,415.5 114.2,412.0 114.3,408.8 114.5,408.3 114.6,405.8 114.7,402.3 114.8,398.9 114.9,398.2 115.0,397.7 115.1,395.3 115.2,392.9 115.3,393.7 115.4,388.8 115.5,390.0 115.6,386.1 115.7,385.3 115.8,381.7 115.9,381.8 116.0,379.0 116.1,375.8 116.2,377.1 116.3,375.4 116.5,375.4 116.6,372.9 116.7,369.2 116.8,368.3 116.9,363.5 117.0,364.4 117.1,367.2 117.2,366.2 117.3,363.4 117.4,361.1 117.5,360.2 117.6,358.7 117.7,353.1 117.8,353.3 117.9,355.9 118.0,354.6 118.1,351.5 118.2,349.1 118.4,347.7 118.5,346.1 118.6,344.1 118.7,340.9 118.8,343.9 118.9,341.5 119.0,340.9 119.1,343.8 119.2,340.4 119.3,336.6 119.4,338.3 119.5,332.9 119.6,337.4 119.7,334.7 119.8,332.8 119.9,333.5 120.0,334.6 120.1,329.4 120.3,327.3 120.4,333.4 120.5,327.7 120.6,330.2 120.7,324.3 120.8,325.8 120.9,322.5 121.0,324.6 121.1,321.5 121.2,319.5 121.3,323.9 121.4,320.0 121.5,313.2 121.6,316.5 121.7,313.8 121.8,312.0 121.9,312.5 122.0,311.7 122.2,311.9 122.3,308.7 122.4,304.8 122.5,307.2 122.6,309.8 122.7,302.8 122.8,306.9 122.9,305.4 123.0,301.9 123.1,302.9 123.2,298.9 123.3,298.8 123.4,296.0 123.5,299.1 123.6,300.5 123.7,293.8 123.8,298.0 123.9,287.7 124.1,290.2 124.2,288.8 124.3,295.7 124.4,288.1 124.5,291.1 124.6,282.0 124.7,287.4 124.8,287.9 124.9,285.2 125.0,276.4 125.2,283.3 125.4,283.6 125.7,283.6 125.9,279.2 126.1,271.2 126.3,274.2 126.6,276.2 126.8,269.3 127.0,272.2 127.2,267.4 127.4,267.8 127.7,268.5 127.9,262.4 128.1,272.5 128.3,262.4 128.6,261.7 128.8,256.8 129.0,258.1 129.2,255.7 129.4,250.4 129.7,248.9 129.9,253.8 130.1,251.3 130.3,241.3 130.6,241.7 130.8,246.8 131.0,246.4 131.2,247.6 131.4,239.9 131.7,245.1 131.9,240.7 132.1,238.8 132.3,238.9 132.6,241.8 132.8,239.0 133.0,239.0 133.2,232.0 133.4,232.2 133.7,227.6 133.9,228.6 134.1,227.9 134.3,226.4 134.6,229.6 134.8,227.2 135.0,227.3 135.2,223.8 135.4,226.3 135.7,221.5 135.9,223.8 136.1,221.0 136.3,220.9 136.6,216.9 136.8,211.4 137.0,209.7 137.2,222.4 137.5,215.4 137.7,214.8 137.9,211.6 138.1,209.7 138.3,222.5 138.6,205.5 138.8,209.1 139.0,208.5 139.2,203.3 139.5,202.0 139.7,203.7 139.9,204.6 140.1,203.4 140.3,208.2 140.6,199.2 140.8,205.3 141.0,209.2 141.2,206.1 141.5,196.9 141.7,188.6 141.9,204.2 142.1,202.2 142.3,197.0 142.6,204.4 142.8,196.6 143.0,198.3 143.2,192.8 143.5,198.0 143.7,194.2 143.9,193.3 144.1,199.6 144.3,195.3 144.6,187.3 144.8,196.2 145.0,196.3 145.2,188.5 145.5,189.8 145.7,191.2 145.9,189.3 146.1,190.4 146.3,192.2 146.6,186.7 146.8,197.5 147.0,184.7 147.2,185.0 147.5,195.6 147.7,197.0 147.9,186.2 148.1,184.7 148.3,180.4 148.6,189.9 148.8,185.2 149.0,180.3 149.2,185.6 149.5,189.6 149.7,186.3 149.9,192.9 150.1,187.9 150.3,184.4 150.6,182.1 150.8,184.5 151.0,187.2 151.2,185.4 151.5,186.0 151.7,182.0 151.9,184.3 152.1,186.1 152.3,179.6 152.6,174.2 152.8,187.8 153.0,182.4 153.2,177.5 153.5,180.4 153.7,178.0 153.9,171.1 154.1,177.9 154.3,172.0 154.6,179.4 154.8,177.8 155.0,183.4 155.2,177.4 155.5,179.6 155.7,176.3 155.9,175.8 156.1,170.9 156.3,182.0 156.6,178.1 156.8,174.5 157.0,178.1 157.2,175.2 157.5,173.6 157.7,178.2 157.9,182.8 158.1,175.7 158.3,170.2 158.6,174.1 158.8,185.6 159.0,173.2 159.2,182.7 159.5,176.0 159.7,180.7 159.9,176.7 160.1,169.6 160.4,175.3 160.6,187.5 160.8,176.7 161.0,180.1 161.2,175.9 161.5,176.9 161.7,179.2 161.9,180.0 162.1,188.5 162.4,177.8 162.6,177.1 162.8,174.9 163.0,171.9 163.2,170.5 163.5,181.5 163.7,169.5 163.9,185.3 164.1,182.8 164.4,177.3 164.6,173.3 164.8,179.1 165.0,179.2 165.2,184.6 165.5,175.7 165.7,177.6 165.9,179.2 166.1,178.2 166.4,176.7 166.6,171.6 166.8,172.1 167.0,176.9 167.2,179.2 167.5,185.2 167.7,191.7 167.9,189.0 168.1,182.8 168.4,190.1 168.6,180.8 168.8,179.0 169.0,192.8 169.2,176.8 169.5,180.1 169.7,181.1 169.9,189.6 170.1,179.9 170.4,186.8 170.6,181.3 170.8,177.6 171.0,184.8 171.2,184.7 171.5,178.6 171.7,180.2 171.9,180.8 172.1,189.4 172.4,187.2 172.6,186.4 172.8,187.8 173.0,183.4 173.2,188.2 173.5,183.2 173.7,179.9 173.9,183.1 174.1,187.6 174.4,187.3 174.6,192.1 174.8,179.1 175.0,186.3 175.2,189.4 175.5,183.1 175.7,189.1 175.9,186.1 176.1,182.8 176.4,193.8 176.6,181.9 176.8,193.6 177.0,186.9 177.2,184.6 177.5,185.0 177.7,185.9 177.9,185.5 178.1,191.1 178.4,181.0 178.6,196.1 178.8,194.3 179.0,197.1 179.2,185.9 179.5,179.7 179.7,188.0 179.9,190.3 180.1,192.8 180.4,189.0 180.6,191.3 180.8,192.5 181.0,184.6 181.2,200.9 181.5,187.0 181.7,193.8 181.9,197.9 182.1,189.2 182.4,193.1 182.6,201.1 182.8,192.1 183.0,198.7 183.3,195.3 183.5,195.2 183.7,197.7 183.9,193.4 184.1,193.7 184.4,199.5 184.6,196.3 184.8,197.7 185.0,189.8 185.3,195.8 185.5,201.7 185.7,200.4 185.9,198.0 186.1,194.0 186.4,193.8 186.6,199.0 186.8,203.9 187.0,197.5 187.3,203.7 187.5,196.2 187.7,203.6 187.9,193.2 188.1,199.1 188.4,193.2 188.6,201.7 188.8,201.4 189.0,194.3 189.3,195.4 189.5,197.1 189.7,192.2 189.9,195.1 190.1,195.5 190.4,203.6 190.6,206.6 190.8,198.0 191.0,199.0 191.3,201.5 191.5,198.2 191.7,199.5 191.9,205.0 192.1,202.2 192.4,200.9 192.6,198.7 192.8,208.6 193.0,198.8 193.3,202.5 193.5,197.1 193.7,199.3 193.9,202.8 194.1,200.6 194.4,205.2 194.6,203.1 194.8,196.2 195.0,191.9 195.3,207.9 195.5,200.5 195.7,210.5 195.9,203.6 196.1,200.0 196.4,206.4 196.6,202.6 196.8,204.1 197.0,199.7 197.3,207.3 197.5,209.6 197.7,201.9 197.9,213.1 198.1,201.9 198.4,205.9 198.6,197.0 198.8,195.7 199.0,215.1 199.3,212.0 199.5,210.7 199.7,197.2 199.9,206.5 200.1,207.6 200.4,206.0 200.6,207.2 200.8,201.4 201.0,205.2 201.3,200.6 201.5,204.5 201.7,208.0 201.9,202.6 202.1,205.1 202.4,204.5 202.6,206.7 202.8,211.2 203.0,208.0 203.3,208.8 203.5,200.1 203.7,205.4 203.9,211.1 204.1,203.2 204.4,205.3 204.6,202.8 204.8,213.9 205.0,205.5 205.3,204.2 205.5,210.7 205.7,213.1 205.9,210.3 206.2,212.7 206.4,209.1 206.6,207.5 206.8,206.1 207.0,205.8 207.3,205.5 207.5,210.1 207.7,207.9 207.9,208.9 208.2,211.4 208.4,208.3 208.6,202.0 208.8,204.9 209.0,203.3 209.3,199.6 209.5,209.2 209.7,203.0 209.9,202.6 210.2,203.6 210.4,213.0 210.6,207.3 210.8,213.6 211.0,208.4 211.3,206.7 211.5,211.5 211.7,211.7 211.9,209.3 212.2,203.8 212.4,206.6 212.6,203.1 212.8,207.4 213.0,209.1 213.3,215.7 213.5,215.3 213.7,211.8 213.9,213.1 214.2,209.5 214.4,221.7 214.6,215.6 214.8,220.9 215.0,210.0 215.3,210.1 215.5,213.1 215.7,208.9 215.9,209.4 216.2,203.2 216.4,212.2 216.6,208.3 216.8,211.4 217.0,206.5 217.3,199.2 217.5,209.6 217.7,212.6 217.9,201.2 218.2,202.5 218.4,205.4 218.6,205.5 218.8,198.8 219.0,214.2 219.3,210.6 219.5,203.1 219.7,197.6 219.9,207.1 220.2,214.1 220.4,208.7 220.6,209.9 220.8,200.4 221.0,205.3 221.3,197.6 221.5,212.4 221.7,206.1 221.9,194.3 222.2,195.2 222.4,204.9 222.6,203.2 222.8,201.1 223.0,204.7 223.3,210.3 223.5,203.1 223.7,193.8 223.9,200.4 224.2,195.3 224.4,197.1 224.6,201.5 224.8,199.1 225.0,195.2 225.3,199.1 225.5,195.6 225.7,200.7 225.9,197.3 226.2,199.5 226.4,196.5 226.6,200.2 226.8,196.3 227.0,196.5 227.3,194.0 227.5,196.4 227.7,188.6 227.9,205.5 228.2,192.2 228.4,194.8 228.6,192.2 228.8,191.8 229.1,194.9 229.3,191.0 229.5,191.0 229.7,187.1 229.9,188.4 230.2,187.2 230.4,197.9 230.6,185.9 230.8,186.5 231.1,190.8 231.3,194.9 231.5,183.2 231.7,183.3 231.9,189.0 232.2,189.3 232.4,182.7 232.6,180.9 232.8,183.5 233.1,189.1 233.3,185.9 233.5,188.2 233.7,184.9 233.9,184.7 234.2,186.5 234.4,183.6 234.6,184.3 234.8,180.1 235.1,180.7 235.3,183.9 235.5,181.2 235.7,179.1 235.9,183.3 236.2,182.6 236.4,180.4 236.6,177.7 236.8,182.6 237.1,187.3 237.3,176.4 237.5,173.9 237.7,175.9 237.9,175.1 238.2,173.8 238.4,173.7 238.6,179.6 238.8,179.2 239.1,180.8 239.3,178.2 239.5,174.2 239.7,178.5 239.9,173.2 240.2,173.7 240.4,171.0 240.6,177.5 240.8,176.6 241.1,172.1 241.3,172.2 241.5,172.8 241.7,173.0 241.9,174.4 242.2,172.0 242.4,172.5 242.6,167.1 242.8,170.0 243.1,165.7 243.3,174.9 243.5,173.5 243.7,171.4 243.9,172.1 244.2,174.1 244.4,171.0 244.6,164.3 244.8,167.5 245.1,161.8 245.3,165.3 245.5,163.9 245.7,166.7 245.9,167.3 246.2,163.8 246.4,165.0 246.6,166.1 246.8,164.7 247.1,164.3 247.3,158.6 247.5,163.1 247.7,165.7 247.9,164.1 248.2,159.6 248.4,162.1 248.6,163.1 248.8,159.8 249.1,163.4 249.3,159.5 249.5,160.3 249.7,160.5 249.9,165.6 250.2,159.3 250.4,158.4 250.6,161.0 250.8,157.9 251.1,159.1 251.3,153.1 251.5,158.7 251.7,157.6 252.0,154.3 252.2,160.1 252.4,156.1 252.6,155.8 252.8,153.0 253.1,152.0 253.3,154.0 253.5,151.6 253.7,155.8 254.0,156.3 254.2,152.6 254.4,150.2 254.6,152.6 254.8,150.8 255.1,153.2 255.3,153.0 255.5,151.3 255.7,152.2 256.0,154.0 256.2,155.2 256.4,150.1 256.6,152.5 256.8,150.2 257.1,148.2 257.3,152.9 257.5,150.8 257.7,150.0 258.0,150.2 258.2,148.8 258.4,146.7 258.6,152.4 258.8,150.3 259.1,148.8 259.3,150.0 259.5,150.4 259.7,147.1 260.0,148.5 260.2,146.4 260.4,148.2 260.6,146.1 260.8,151.4 261.1,145.5 261.3,147.1 261.5,146.7 261.7,144.9 262.0,147.3 262.2,145.0 262.4,144.2 262.6,144.8 262.8,143.1 263.1,146.7 263.3,145.4 263.5,145.9 263.7,141.2 264.0,144.2 264.2,142.0 264.4,143.4 264.6,145.5 264.8,143.4 265.1,142.4 265.3,144.7 265.5,144.3 265.7,145.7 266.0,138.5 266.2,142.5 266.4,140.9 266.6,139.9 266.8,141.6 267.1,139.0 267.3,136.9 267.5,139.2 267.7,140.3 268.0,144.1 268.2,139.1 268.4,138.1 268.6,136.4 268.8,139.3 269.1,139.4 269.3,140.0 269.5,136.8 269.7,138.0 270.0,135.0 270.2,139.4 270.4,136.1 270.6,133.7 270.8,140.8 271.1,139.5 271.3,139.1 271.5,138.9 271.7,136.2 272.0,140.0 272.2,136.0 272.4,141.3 272.6,138.0 272.8,134.1 273.1,138.9 273.3,140.8 273.5,136.6 273.7,138.9 274.0,136.4 274.2,135.6 274.4,131.9 274.6,138.7 274.9,135.5 275.1,136.9 275.3,134.0 275.5,134.3 275.7,137.9 276.0,135.0 276.2,134.9 276.4,133.2 276.6,135.7 276.9,136.7 277.1,134.3 277.3,134.7 277.5,132.7 277.7,137.3 278.0,133.6 278.2,134.3 278.4,137.5 278.6,133.9 278.9,131.5 279.1,132.5 279.3,133.4 279.5,137.1 279.7,134.2 280.0,133.3 280.2,135.1 280.4,135.8 280.6,132.1 280.9,135.9 281.1,134.7 281.3,133.9 281.5,128.9 281.7,133.3 282.0,135.3 282.2,132.3 282.4,136.7 282.6,132.7 282.9,130.7 283.1,133.4 283.3,132.8 283.5,133.6 283.7,131.7 284.0,134.3 284.2,130.9 284.4,132.0 284.6,129.6 284.9,130.2 285.1,131.9 285.3,130.3 285.5,130.6 285.7,130.9 286.0,131.6 286.2,132.4 286.4,132.4 286.6,132.7 286.9,131.2 287.1,129.9 287.3,128.0 287.5,130.0 287.7,129.2 288.0,127.4 288.2,133.2 288.4,127.2 288.6,130.9 288.9,131.1 289.1,129.7 289.3,134.4 289.5,130.0 289.7,128.6 290.0,132.8 290.2,128.4 290.4,127.2 290.6,127.9 290.9,128.4 291.1,129.5 291.3,130.0 291.5,126.8 291.7,129.9 292.0,133.0 292.2,128.0 292.4,128.9 292.6,130.2 292.9,131.0 293.1,127.8 293.3,127.3 293.5,127.1 293.7,130.6 294.0,130.2 294.2,125.1 294.4,125.1 294.6,126.5 294.9,126.0 295.1,129.2 295.3,128.8 295.5,131.7 295.7,129.7 296.0,128.5 296.2,130.2 296.4,126.7 296.6,125.9 296.9,128.2 297.1,129.6 297.3,125.4 297.5,129.5 297.7,129.4 298.0,127.1 298.2,128.1 298.4,127.4 298.6,127.9 298.9,129.1 299.1,126.4 299.3,129.3 299.5,129.0 299.8,129.0 300.0,124.3 300.2,124.4 300.4,128.5 300.6,126.4 300.9,126.2 301.1,126.0 301.3,125.0 301.5,126.7 301.8,125.9 302.0,126.0 302.2,127.7 302.4,125.0 302.6,128.6 302.9,123.2 303.1,130.7 303.3,124.5 303.5,127.5 303.8,127.9 304.0,126.4 304.2,127.5 304.4,126.1 304.6,123.4 304.9,126.7 305.1,127.8 305.3,125.1 305.5,123.2 305.8,124.8 306.0,126.2 306.2,126.1 306.4,127.2 306.6,126.3 306.9,126.1 307.1,122.1 307.3,128.6 307.5,125.1 307.8,126.3 308.0,124.3 308.2,124.5 308.4,124.8 308.6,127.0 308.9,126.8 309.1,125.3 309.3,127.3 309.5,123.6 309.8,124.9 310.0,123.3 310.2,125.9 310.4,123.9 310.6,125.2 310.9,126.3 311.1,120.4 311.3,126.8 311.5,123.9 311.8,122.8 312.0,120.3 312.2,122.7 312.4,119.6 312.6,123.1 312.9,122.7 313.1,125.6 313.3,122.3 313.5,124.3 313.8,124.4 314.0,125.6 314.2,122.1 314.4,123.5 314.6,120.1 314.9,120.6 315.1,121.8 315.3,122.1 315.5,120.3 315.8,121.4 316.0,122.9 316.2,121.2 316.4,121.5 316.6,120.4 316.9,123.7 317.1,124.2 317.3,121.8 317.5,121.3 317.8,123.8 318.0,122.0 318.2,120.2 318.4,119.2 318.6,120.2 318.9,124.2 319.1,120.1 319.3,125.0 319.5,120.8 319.8,120.4 320.0,122.6 320.2,120.3 320.4,121.1 320.6,119.0 320.9,118.6 321.1,119.3 321.3,120.6 321.5,119.3 321.8,117.4 322.0,120.8 322.2,119.8 322.4,119.6 322.7,119.0 322.9,116.7 323.1,122.0 323.3,119.0 323.5,120.4 323.8,121.5 324.0,121.1 324.2,119.8 324.4,119.4 324.7,119.8 324.9,120.6 325.1,120.0 325.3,118.6 325.5,119.7 325.8,119.6 326.0,120.0 326.2,119.2 326.4,120.8 326.7,119.1 326.9,120.0 327.1,118.8 327.3,117.9 327.5,117.3 327.8,118.3 328.0,119.2 328.2,120.2 328.4,118.3 328.7,117.6 328.9,117.6 329.1,120.0 329.3,118.3 329.5,117.5 329.8,119.1 330.0,116.3 330.2,118.1 330.4,117.9 330.7,117.7 330.9,116.3 331.1,119.1 331.3,120.0 331.5,115.9 331.8,117.8 332.0,118.4 332.2,120.5 332.4,116.9 332.7,116.2 332.9,117.4 333.1,120.0 333.3,117.4 333.5,117.6 333.8,119.5 334.0,114.4 334.2,114.3 334.4,118.2 334.7,118.0 334.9,115.2 335.1,117.6 335.3,116.9 335.5,117.1 335.8,115.8 336.0,116.2 336.2,115.6 336.4,116.7 336.7,116.3 336.9,118.7 337.1,117.3 337.3,114.5 337.5,116.9 337.8,118.2 338.0,116.7 338.2,117.6 338.4,116.2 338.7,117.1 338.9,115.0 339.1,117.1 339.3,114.4 339.5,117.6 339.8,114.1 340.0,113.3 340.2,116.6 340.4,115.6 340.7,116.0 340.9,116.3 341.1,115.7 341.3,114.6 341.5,115.9 341.8,116.0 342.0,116.2 342.2,117.9 342.4,114.6 342.7,115.5 342.9,116.1 343.1,114.8 343.3,113.9 343.5,114.6 343.8,116.5 344.0,114.9 344.2,115.9 344.4,114.2 344.7,115.6 344.9,114.2 345.1,114.0 345.3,115.1 345.6,115.0 345.8,116.6 346.0,112.9 346.2,115.4 346.4,116.6 346.7,116.3 346.9,114.2 347.1,113.8 347.3,114.0 347.6,114.9 347.8,114.7 348.0,114.9 348.2,115.1 348.4,113.2 348.7,113.1 348.9,112.9 349.1,112.7 349.3,114.1 349.6,114.5 349.8,117.0 350.0,114.7 350.2,114.1 350.4,115.6 350.7,113.2 350.9,114.3 351.1,115.0 351.3,114.7 351.6,114.3 351.8,113.4 352.0,112.4 352.2,113.6 352.4,113.0 352.7,114.4 352.9,113.5 353.1,114.2 353.3,111.8 353.6,114.6 353.8,112.5 354.0,111.7 354.2,111.9 354.4,112.7 354.7,114.5 354.9,114.0 355.1,112.0 355.3,113.3 355.6,113.0 355.8,111.4 356.0,112.0 356.2,110.9 356.4,112.1 356.7,110.2 356.9,112.1 357.1,111.9 357.3,112.0 357.6,112.0 357.8,114.0 358.0,112.4 358.2,113.0 358.4,113.5 358.7,113.6 358.9,113.3 359.1,112.0 359.3,111.4 359.6,111.7 359.8,112.0 360.0,112.5 360.2,112.3 360.4,113.5 360.7,112.2 360.9,114.1 361.1,113.3 361.3,111.8 361.6,113.1 361.8,109.3 362.0,113.5 362.2,112.5 362.4,112.5 362.7,110.4 362.9,114.5 363.1,111.7 363.3,111.8 363.6,113.0 363.8,111.7 364.0,111.0 364.2,112.5 364.4,110.8 364.7,112.5 364.9,111.8 365.1,112.8 365.3,110.5 365.6,112.8 365.8,111.9 366.0,113.4 366.2,110.9 366.4,113.3 366.7,112.1 366.9,112.2 367.1,110.7 367.3,111.9 367.6,112.0 367.8,110.5 368.0,110.2 368.2,110.5 368.5,112.6 368.7,111.3 368.9,112.0 369.1,111.4 369.3,111.2 369.6,111.2 369.8,110.6 370.0,112.1 370.2,111.1 370.5,111.1 370.7,109.6 370.9,111.1 371.1,110.2 371.3,110.3 371.6,111.7 371.8,109.7 372.0,110.5 372.2,111.2 372.5,111.7 372.7,110.1 372.9,110.9 373.1,110.8 373.3,109.5 373.6,108.6 373.8,108.7 374.0,110.9 374.2,110.5 374.5,109.2 374.7,109.8 374.9,109.9 375.1,109.9 375.3,110.2 375.6,112.1 375.8,109.5 376.0,110.3 376.2,109.4 376.5,109.5 376.7,109.3 376.9,109.8 377.1,109.5 377.3,110.3 377.6,110.1 377.8,109.1 378.0,111.5 378.2,108.9 378.5,110.1 378.7,111.7 378.9,109.2 379.1,110.9 379.3,110.9 379.6,110.0 379.8,108.1 380.0,110.8 380.2,109.7 380.5,109.1 380.7,110.6 380.9,108.9 381.1,110.4 381.3,109.0 381.6,109.9 381.8,108.5 382.0,109.1 382.2,108.6 382.5,108.8 382.7,109.5 382.9,109.2 383.1,109.4 383.3,110.3 383.6,109.1 383.8,107.7 384.0,109.0 384.2,109.2 384.5,110.0 384.7,110.0 384.9,109.9 385.1,108.9 385.3,109.6 385.6,107.9 385.8,110.1 386.0,109.4 386.2,109.4 386.5,108.7 386.7,109.0 386.9,108.4 387.1,109.4 387.3,107.8 387.6,109.6 387.8,109.3 388.0,110.4 388.2,108.8 388.5,108.7 388.7,108.9 388.9,108.8 389.1,108.6 389.3,107.8 389.6,107.8 389.8,108.2 390.0,108.4 390.2,107.7 390.5,107.7 390.7,108.4 390.9,109.2 391.1,108.4 391.4,109.1 391.6,109.3 391.8,109.1 392.0,108.2 392.2,108.2 392.5,107.0 392.7,107.9 392.9,108.8 393.1,107.6 393.4,109.4 393.6,109.4 393.8,108.1 394.0,109.0 394.2,107.3 394.5,107.5 394.7,108.0 394.9,108.3 395.1,108.1 395.4,107.6 395.6,109.7 395.8,108.4 396.0,108.4 396.2,108.7 396.5,108.3 396.7,108.0 396.9,107.7 397.1,106.9 397.4,109.2 397.6,107.4 397.8,106.9 398.0,107.5 398.2,106.9 398.5,109.4 398.7,108.3 398.9,109.0 399.1,109.0 399.4,108.4 399.6,108.3 399.8,107.4 400.0,107.8 400.2,107.5 400.5,107.9 400.7,107.4 400.9,108.7 401.1,108.4 401.4,107.7 401.6,106.6 401.8,108.2 402.0,108.4 402.2,107.7 402.5,106.9 402.7,108.0 402.9,108.4 403.1,106.4 403.4,108.0 403.6,106.4 403.8,107.7 404.0,108.8 404.2,107.7 404.5,107.9 404.7,107.4 404.9,107.5 405.1,109.1 405.4,108.4 405.6,107.3 405.8,107.2 406.0,107.5 406.2,108.9 406.5,107.6 406.7,108.2 406.9,107.2 407.1,106.6 407.4,108.2 407.6,107.3 407.8,106.8 408.0,106.9 408.2,106.9 408.5,106.9 408.7,106.3 408.9,108.1 409.1,107.5 409.4,107.9 409.6,107.0 409.8,107.4 410.0,107.3 410.2,107.9 410.5,107.7 410.7,107.4 410.9,106.7 411.1,106.4 411.4,106.6 411.6,106.7 411.8,106.8 412.0,106.3 412.2,108.1 412.5,107.2 412.7,105.8 412.9,106.4 413.1,106.2 413.4,107.1 413.6,107.6 413.8,106.4 414.0,107.3 414.3,106.8 414.5,107.6 414.7,107.7 414.9,107.1 415.1,107.3 415.4,106.9 415.6,106.6 415.8,106.2 416.0,107.0 416.3,106.8 416.5,106.6 416.7,106.7 416.9,106.7 417.1,106.1 417.4,106.4 417.6,107.4 417.8,106.6 418.0,107.5 418.3,106.0 418.5,105.9 418.7,106.7 418.9,107.1 419.1,106.3 419.4,107.0 419.6,107.1 419.8,107.2 420.0,106.5 420.3,106.5 420.5,105.6 420.7,106.5 420.9,106.7 421.1,107.3 421.4,105.8 421.6,106.0 421.8,105.9 422.0,106.9 422.3,105.0 422.5,105.8 422.7,107.5 422.9,106.7 423.1,105.6 423.4,106.3 423.6,106.8 423.8,106.6 424.0,106.2 424.3,105.8 424.5,106.7 424.7,106.2 424.9,106.7 425.1,106.4 425.4,105.9 425.6,107.0 425.8,105.9 426.0,106.4 426.3,105.8 426.5,106.0 426.7,106.0 426.9,105.7 427.1,106.2 427.4,106.8 427.6,107.1 427.8,106.8 428.0,105.9 428.3,106.8 428.5,106.2 428.7,107.0 428.9,105.3 429.1,106.8 429.4,105.6 429.6,106.5 429.8,105.6 430.0,106.4 430.3,105.7 430.5,104.8 430.7,105.3 430.9,105.7 431.1,105.8 431.4,104.6 431.6,105.1 431.8,105.4 432.0,105.7 432.3,105.9 432.5,105.3 432.7,104.9 432.9,105.9 433.1,105.5 433.4,106.2 433.6,105.4 433.8,106.0 434.0,105.2 434.3,105.8 434.5,105.7 434.7,105.9 434.9,105.1 435.1,105.5 435.4,105.1 435.6,105.5 435.8,105.9 436.0,107.2 436.3,105.6 436.5,105.9 436.7,105.6 436.9,106.1 437.2,105.8 437.4,106.1 437.6,105.7 437.8,106.8 438.0,106.2 438.3,104.6 438.5,105.6 438.7,105.5 438.9,104.3 439.2,105.0 439.4,105.2 439.6,105.1 439.8,105.5 440.0,104.5 440.3,105.8 440.5,105.8 440.7,105.6 440.9,105.2 441.2,105.4 441.4,105.2 441.6,106.0 441.8,105.7 442.0,106.4 442.3,105.2 442.5,106.1 442.7,105.1 442.9,105.3 443.2,104.8 443.4,105.6 443.6,105.3 443.8,105.7 444.0,106.1 444.3,105.3 444.5,105.5 444.7,105.8 444.9,105.3 445.2,105.0 445.4,105.5 445.6,105.5 445.8,105.7 446.0,105.7 446.3,104.9 446.5,105.5 446.7,105.9 446.9,105.0 447.2,105.4 447.4,104.9 447.6,105.3 447.8,106.1 448.0,105.3 448.3,104.7 448.5,105.4 448.7,105.3 448.9,105.8 449.2,104.5 449.4,104.7 449.6,105.1 449.8,104.4 450.0,105.8 450.3,104.1 450.5,104.7 450.7,104.4 450.9,104.8 451.2,105.6 451.4,105.5 451.6,105.6 451.8,105.4 452.0,104.1 452.3,105.3 452.5,104.2 452.7,104.9 452.9,104.9 453.2,104.8 453.4,105.4 453.6,104.7 453.8,106.0 454.0,105.4 454.3,105.7 454.5,105.5 454.7,105.5 454.9,105.1 455.2,106.1 455.4,104.5 455.6,105.3 455.8,105.1 456.0,104.9 456.3,105.2 456.5,104.7 456.7,105.5 456.9,105.4 457.2,105.1 457.4,105.4 457.6,104.5 457.8,104.1 458.0,104.7 458.3,104.9 458.5,106.3 458.7,104.9 458.9,105.5 459.2,105.4 459.4,106.1 459.6,105.1 459.8,105.3 460.1,104.9 460.3,104.5 460.5,104.5 460.7,104.6 460.9,105.7 461.2,105.1 461.4,104.9 461.6,105.0 461.8,104.7 462.1,104.9 462.3,104.9 462.5,105.3 462.7,105.4 462.9,104.1 463.2,105.1 463.4,105.6 463.6,104.4 463.8,104.8 464.1,105.0 464.3,105.5 464.5,105.2 464.7,104.8 464.9,105.2 465.2,105.4 465.4,105.1 465.6,105.8 465.8,105.1 466.1,104.4 466.3,104.5 466.5,104.9 466.7,104.8 466.9,105.2 467.2,105.1 467.4,105.8 467.6,105.3 467.8,105.6 468.1,104.5 468.3,104.7 468.5,105.2 468.7,105.0 468.9,105.2 469.2,105.0 469.4,104.6 469.6,105.7 469.8,105.5 470.1,104.1 470.3,104.6 470.5,104.9 470.7,105.2 470.9,104.9 471.2,104.2 471.4,105.3 471.6,104.8 471.8,105.5 472.1,105.0 472.3,105.4 472.5,105.3 472.7,105.3 472.9,104.6 473.2,105.4 473.4,105.0 473.6,104.3 473.8,104.7 474.1,104.7 474.3,105.1 474.5,105.2 474.7,104.3 474.9,105.2 475.2,104.8 475.4,104.4 475.6,105.3 475.8,104.5 476.1,104.3 476.3,105.2 476.5,105.3 476.7,104.5 476.9,105.4 477.2,105.3 477.4,104.6 477.6,105.8 477.8,104.8 478.1,105.0 478.3,103.7 478.5,105.2 478.7,104.6 478.9,105.1 479.2,104.0 479.4,105.4 479.6,105.5 479.8,105.8 480.1,103.4 480.3,105.1 480.5,105.0 480.7,103.4 480.9,104.5 481.2,104.8 481.4,105.5 481.6,104.4 481.8,104.9 482.1,104.8 482.3,105.0 482.5,104.6 482.7,105.3 483.0,105.3 483.2,104.2 483.4,105.4 483.6,104.5 483.8,104.7 484.1,105.4 484.3,104.9 484.5,105.1 484.7,105.2 485.0,105.1 485.2,104.6 485.4,104.4 485.6,105.1 485.8,105.2 486.1,105.0 486.3,104.7 486.5,105.2 486.7,104.8 487.0,104.2 487.2,104.9 487.4,105.0 487.6,105.2 487.8,104.4 488.1,104.5 488.3,105.0 488.5,104.6 488.7,104.8 489.0,105.2 489.2,105.0 489.4,105.7 489.6,104.9 489.8,105.6 490.1,105.3 490.3,106.0 490.5,104.8 490.7,104.8 491.0,105.4 491.2,104.6 491.4,104.6 491.6,104.9 491.8,105.0 492.1,104.1 492.3,104.9 492.5,104.7 492.7,104.8 493.0,104.9 493.2,104.7 493.4,105.3 493.6,105.0 493.8,104.7 494.1,104.8 494.3,105.3 494.5,105.1 494.7,105.4 495.0,104.7 495.2,104.8 495.4,105.7 495.6,104.8 495.8,105.6 496.1,105.2 496.3,104.6 496.5,104.1 496.7,105.1 497.0,104.5 497.2,104.5 497.4,104.0 497.6,105.3 497.8,104.8 498.1,104.8 498.3,105.0 498.5,104.9 498.7,104.8 499.0,105.0 499.2,104.6 499.4,103.6 499.6,105.1 499.8,105.0 500.1,104.8 500.3,105.5 500.5,104.1 500.7,103.5 501.0,105.4 501.2,104.9 501.4,104.0 501.6,104.6 501.8,105.0 502.1,104.2 502.3,105.0 502.5,105.7 502.7,105.4 503.0,104.7 503.2,104.9 503.4,104.3 503.6,104.8 503.8,104.6 504.1,104.3 504.3,104.1 504.5,105.6 504.7,104.8 505.0,104.3 505.2,104.5 505.4,105.4 505.6,105.5 505.9,104.5 506.1,104.8 506.3,105.1 506.5,104.6 506.7,104.2 507.0,104.3 507.2,104.7 507.4,104.4 507.6,104.1 507.9,104.6 508.1,105.1 508.3,105.0 508.5,104.6 508.7,105.6 509.0,104.4 509.2,104.7 509.4,104.1 509.6,105.0 509.9,104.6 510.1,104.0 510.3,104.3 510.5,105.5 510.7,105.0 511.0,104.7 511.2,105.1 511.4,104.0 511.6,104.3 511.9,104.1 512.1,104.3 512.3,104.5 512.5,104.9 512.7,105.1 513.0,105.1 513.2,105.9 513.4,104.5 513.6,104.7 513.9,104.9 514.1,104.3 514.3,104.6 514.5,104.9 514.7,104.3 515.0,104.9 515.2,105.2 515.4,104.2 515.6,103.7 515.9,104.7 516.1,104.2 516.3,104.7 516.5,104.5 516.7,104.8 517.0,105.1 517.2,105.0 517.4,104.5 517.6,104.1 517.9,103.6 518.1,103.7 518.3,104.3 518.5,104.7 518.7,104.4 519.0,104.4 519.2,104.0 519.4,103.9 519.6,103.9 519.9,104.9 520.1,103.8 520.3,104.9 520.5,104.2 520.7,104.9 521.0,104.7 521.2,104.9 521.4,105.1 521.6,104.3 521.9,104.2 522.1,104.4 522.3,104.3 522.5,104.9 522.7,104.6 523.0,104.6 523.2,104.8 523.4,104.4 523.6,105.1 523.9,103.8 524.1,104.7 524.3,104.8 524.5,104.3 524.7,104.3 525.0,105.0 525.2,104.5 525.4,103.8 525.6,104.0 525.9,105.0 526.1,104.2 526.3,105.2 526.5,105.2 526.7,104.5 527.0,104.8 527.2,104.3 527.4,104.4 527.6,104.3 527.9,104.8 528.1,104.1 528.3,104.5 528.5,104.6 528.8,104.8 529.0,103.7 529.2,103.8 529.4,104.2 529.6,104.5 529.9,104.7 530.1,104.7 530.3,105.4 530.5,104.9 530.8,104.8 531.0,104.4 531.2,104.9 531.4,104.9 531.6,104.9 531.9,104.5 532.1,104.9 532.3,105.2 532.5,104.3 532.8,103.7 533.0,104.9 533.2,104.9 533.4,104.5 533.6,104.4 533.9,105.7 534.1,104.4 534.3,104.1 534.5,104.4 534.8,104.8 535.0,104.3 535.2,104.4 535.4,104.7 535.6,104.4 535.9,104.7 536.1,104.6 536.3,104.2 536.5,104.6 536.8,104.1 537.0,105.0 537.2,104.2 537.4,104.5 537.6,103.8 537.9,104.4 538.1,104.1 538.3,105.2 538.5,104.6 538.8,104.8 539.0,103.9 539.2,104.1 539.4,104.5 539.6,104.0 539.9,105.1 540.1,104.4 540.3,104.7 540.5,104.7 540.8,104.5 541.0,104.9 541.2,104.3 541.4,104.8 541.6,105.1 541.9,104.7 542.1,104.7 542.3,104.5 542.5,104.6 542.8,104.9 543.0,104.5 543.2,103.9 543.4,104.7 543.6,104.5 543.9,104.8 544.1,104.6 544.3,105.3 544.5,104.1 544.8,104.2 545.0,104.9 545.2,104.2 545.4,104.7 545.6,104.6 545.9,103.8 546.1,104.9 546.3,105.2 546.5,104.7 546.8,104.0 547.0,104.9 547.2,104.2 547.4,104.6 547.6,104.8 547.9,104.3 548.1,103.9 548.3,104.6 548.5,104.6 548.8,104.3 549.0,104.3 549.2,104.9 549.4,104.6 549.6,104.4 549.9,104.4 550.1,104.7 550.3,104.7 550.5,104.6 550.8,104.1 551.0,104.5 551.2,104.4 551.4,104.7 551.7,105.1 551.9,105.0 552.1,104.9 552.3,104.7 552.5,104.5 552.8,104.8 553.0,104.4 553.2,104.5 553.4,104.3 553.7,104.6 553.9,104.6 554.1,105.4 554.3,104.9 554.5,104.5 554.8,105.0 555.0,104.5 555.2,105.1 555.4,105.0 555.7,105.8 555.9,104.2 556.1,104.6 556.3,104.6 556.5,104.8 556.8,104.9 557.0,104.3 557.2,104.4 557.4,104.8 557.7,105.1 557.9,104.2 558.1,104.0 558.3,105.1 558.5,105.0 558.8,105.1 559.0,104.3 559.2,104.6 559.4,104.8 559.7,104.8 559.9,104.6 560.1,104.7 560.3,105.1 560.5,104.5 560.8,104.5 561.0,104.5 561.2,104.5 561.4,104.7 561.7,104.6 561.9,104.5 562.1,105.3 562.3,104.8 562.5,104.6 562.8,105.2 563.0,104.5 563.2,104.7 563.4,104.7 563.7,104.5 563.9,104.5 564.1,104.7 564.3,104.1 564.5,104.5 564.8,104.8 565.0,104.8 565.2,104.8 565.4,105.6 565.7,105.0 565.9,104.7 566.1,104.7 566.3,104.7 566.5,104.9 566.8,104.6 567.0,105.3 567.2,104.3 567.4,105.0 567.7,104.9 567.9,104.3 568.1,105.0 568.3,104.9 568.5,104.5 568.8,105.6 569.0,105.0 569.2,104.6 569.4,104.5 569.7,104.4 569.9,104.8 570.1,104.8 570.3,104.2 570.5,104.3 570.8,104.5 571.0,104.6 571.2,104.6 571.4,104.5 571.7,105.0 571.9,105.1 572.1,104.8 572.3,103.9 572.5,104.7 572.8,105.0 573.0,104.7 573.2,104.9 573.4,104.8 573.7,104.2 573.9,103.8 574.1,105.0 574.3,104.6 574.6,104.9 574.8,104.7 575.0,104.7 575.2,105.3 575.4,104.3 575.7,104.8 575.9,104.4 576.1,104.8 576.3,105.0 576.6,105.0 576.8,104.8 577.0,104.3 577.2,104.9 577.4,105.1 577.7,105.2 577.9,105.6 578.1,105.0 578.3,104.4 578.6,104.6 578.8,104.8 579.0,105.2 579.2,104.4 579.4,105.2 579.7,105.1 579.9,104.5 580.1,105.0 580.3,104.5 580.6,104.8 580.8,104.7 581.0,104.9 581.2,104.4 581.4,105.0 581.7,104.0 581.9,104.7 582.1,104.6 582.3,105.4 582.6,105.0 582.8,104.6 583.0,104.5 583.2,104.8 583.4,104.6 583.7,105.7 583.9,103.8 584.1,104.9 584.3,103.9 584.6,105.2 584.8,104.5 585.0,105.5 585.2,104.6 585.4,105.3 585.7,104.9 585.9,105.3 586.1,104.9 586.3,103.7 586.6,104.6 586.8,104.3 587.0,105.2 587.2,105.1 587.4,104.9 587.7,105.0 587.9,104.9 588.1,104.7 588.3,105.6 588.6,105.0 588.8,104.8 589.0,104.3 589.2,104.6 589.4,104.9 589.7,104.8 589.9,104.7 590.1,104.9 590.3,104.5 590.6,104.9 590.8,104.3 591.0,104.6 591.2,104.6 591.4,105.2 591.7,105.1 591.9,104.9 592.1,104.5 592.3,104.8 592.6,105.2 592.8,105.4 593.0,104.4 593.2,104.8 593.4,105.0 593.7,105.1 593.9,104.9 594.1,105.2 594.3,104.4 594.6,105.5 594.8,104.5 595.0,105.0 595.2,105.1 595.4,105.4 595.7,105.3 595.9,105.3 596.1,105.4 596.3,104.9 596.6,105.2 596.8,105.5 597.0,104.7 597.2,104.4 597.4,104.6 597.7,105.5 597.9,105.4 598.1,104.8 598.3,105.1 598.6,105.1 598.8,105.4 599.0,104.3 599.2,104.8 599.5,104.9 599.7,105.1 599.9,105.0 600.1,104.9 600.3,105.1 600.6,104.0 600.8,106.1 601.0,105.3 601.2,105.3 601.5,104.7 601.7,105.1 601.9,105.8 602.1,105.7 602.3,105.0 602.6,104.5 602.8,105.1 603.0,104.9 603.2,105.3 603.5,104.5 603.7,104.9 603.9,105.1 604.1,104.8 604.3,105.4 604.6,104.6 604.8,104.6 605.0,104.9 605.2,105.3 605.5,104.9 605.7,104.8 605.9,105.3 606.1,105.1 606.3,104.8 606.6,105.1 606.8,104.9 607.0,105.3 607.2,105.1 607.5,104.7 607.7,104.9 607.9,104.9 608.1,105.2 608.3,105.2 608.6,104.7 608.8,105.0 609.0,105.2 609.2,105.5 609.5,105.2 609.7,105.8 609.9,105.1 610.1,105.3 610.3,104.9 610.6,104.7 610.8,105.1 611.0,105.3 611.2,105.2 611.5,105.1 611.7,105.0 611.9,104.8 612.1,105.0 612.3,105.3 612.6,105.4 612.8,103.8 613.0,105.3 613.2,105.5 613.5,105.6 613.7,105.2 613.9,105.3 614.1,104.9 614.3,105.1 614.6,105.3 614.8,104.7 615.0,104.8 615.2,105.2 615.5,104.6 615.7,105.1 615.9,104.6 616.1,105.2 616.3,105.1 616.6,104.9 616.8,104.8 617.0,104.9 617.2,104.3 617.5,105.0 617.7,105.2 617.9,105.6 618.1,104.9 618.3,105.1 618.6,105.7 618.8,105.8 619.0,105.0 619.2,105.5 619.5,105.6 619.7,105.3 619.9,104.8 620.1,104.8 620.3,105.4 620.6,106.0 620.8,105.1 621.0,105.7 621.2,105.9 621.5,104.7 621.7,104.9 621.9,105.7 622.1,105.5 622.4,105.4 622.6,105.2 622.8,105.4 623.0,104.9 623.2,106.1 623.5,104.7 623.7,104.5 623.9,105.2 624.1,105.7 624.4,105.0 624.6,105.2 624.8,104.8 625.0,105.2 625.2,104.8 625.5,104.8 625.7,104.6 625.9,105.0 626.1,105.9 626.4,105.2 626.6,105.3 626.8,106.0 627.0,105.0 627.2,104.8 627.5,105.4 627.7,104.7 627.9,105.3 628.1,105.6 628.4,104.8 628.6,105.0 628.8,105.8 629.0,104.8 629.2,105.0 629.5,105.3 629.7,105.1 629.9,104.9 630.1,105.8 630.4,105.0 630.6,105.4 630.8,105.1 631.0,105.1 631.2,104.7 631.5,105.6 631.7,105.1 631.9,105.7 632.1,104.8 632.4,105.1 632.6,105.4 632.8,105.3 633.0,105.0 633.2,105.2 633.5,104.8 633.7,105.3 633.9,104.3 634.1,105.3 634.4,105.8 634.6,105.6 634.8,105.6 635.0,105.1 635.2,105.4 635.5,105.1 635.7,105.2 635.9,105.2 636.1,104.0 636.4,105.6 636.6,105.4 636.8,105.6 637.0,104.9 637.2,105.5 637.5,105.5 637.7,104.4 637.9,104.6 638.1,105.3 638.4,105.0 638.6,105.3 638.8,105.0 639.0,105.8 639.2,104.6 639.5,104.8 639.7,104.9 639.9,104.8 640.1,105.1 640.4,105.3 640.6,104.8 640.8,105.4 641.0,105.8 641.2,105.7 641.5,106.0 641.7,105.7 641.9,105.3 642.1,106.0 642.4,105.6 642.6,106.0 642.8,105.2 643.0,104.5 643.2,104.9 643.5,105.4 643.7,105.5 643.9,105.2 644.1,105.7 644.4,104.9 644.6,105.1 644.8,105.7 645.0,105.3 645.3,105.4 645.5,105.9 645.7,105.7 645.9,105.0 646.1,105.4 646.4,104.7 646.6,105.3 646.8,105.5 647.0,104.7 647.3,105.9 647.5,106.1 647.7,105.5 647.9,105.7 648.1,105.9 648.4,105.3 648.6,105.7 648.8,105.5 649.0,104.8 649.3,105.0 649.5,105.2 649.7,105.8 649.9,105.4 650.1,105.7 650.4,105.2 650.6,104.9 650.8,106.1 651.0,106.4 651.3,105.5 651.5,105.3 651.7,105.8 651.9,105.0 652.1,105.3 652.4,104.9 652.6,105.6 652.8,105.5 653.0,105.2 653.3,105.1 653.5,104.8 653.7,105.1 653.9,105.8 654.1,105.3 654.4,105.9 654.6,105.1 654.8,105.4 655.0,105.2 655.3,105.3 655.5,105.7 655.7,104.7 655.9,105.7 656.1,105.7 656.4,105.4 656.6,105.4 656.8,105.3 657.0,105.7 657.3,105.4 657.5,105.1 657.7,105.5 657.9,105.8 658.1,105.6 658.4,105.4 658.6,105.5 658.8,105.2 659.0,105.3 659.3,104.7 659.5,105.4 659.7,105.8 659.9,105.3 660.1,105.1 660.4,105.8 660.6,105.5 660.8,105.5 661.0,105.6 661.3,105.7 661.5,105.4 661.7,105.1 661.9,106.1 662.1,105.5 662.4,105.2 662.6,105.5 662.8,105.9 663.0,104.9 663.3,105.9 663.5,105.4 663.7,106.2 663.9,105.7 664.1,105.4 664.4,105.9 664.6,105.9 664.8,105.3 665.0,105.5 665.3,105.3 665.5,105.8 665.7,105.0 665.9,105.4 666.1,104.7 666.4,105.7 666.6,104.7 666.8,105.1 667.0,105.6 667.3,105.4 667.5,105.3 667.7,105.1 667.9,105.3 668.2,104.9 668.4,105.6 668.6,105.8 668.8,105.8 669.0,105.5 669.3,105.9 669.5,105.7 669.7,105.8 669.9,105.6 670.2,105.5 670.4,105.2 670.6,104.6 670.8,105.7 671.0,105.5 671.3,106.2 671.5,104.8 671.7,105.8 671.9,105.2 672.2,105.5 672.4,105.2 672.6,105.6 672.8,105.5 673.0,105.8 673.3,105.6 673.5,105.7 673.7,106.0 673.9,105.7 674.2,105.5 674.4,106.0 674.6,105.5 674.8,105.7 675.0,105.4 675.3,105.3 675.5,104.5 675.7,105.8 675.9,105.1 676.2,105.8 676.4,106.2 676.6,105.1 676.8,105.9 677.0,105.5 677.3,105.7 677.5,105.1 677.7,105.6 677.9,105.6 678.2,106.1 678.4,106.3 678.6,105.7 678.8,105.4 679.0,106.3 679.3,105.5 679.5,105.5 679.7,105.6 679.9,105.7 680.2,105.8 680.4,105.4 680.6,105.5 680.8,106.2 681.0,106.1 681.3,105.7 681.5,105.7 681.7,105.5 681.9,105.9 682.2,105.4 682.4,105.6 682.6,105.4 682.8,105.4 683.0,105.6 683.3,105.6 683.5,105.4 683.7,105.6 683.9,105.6 684.2,105.4 684.4,105.4 684.6,105.5 684.8,105.8 685.0,106.0 685.3,105.7 685.5,105.5 685.7,105.6 685.9,106.3 686.2,105.9 686.4,105.3 686.6,105.6 686.8,105.4 687.0,105.5 687.3,105.0 687.5,105.6 687.7,105.1 687.9,105.4 688.2,106.2 688.4,106.0 688.6,105.3 688.8,105.3 689.0,105.3 689.3,105.0 689.5,105.3 689.7,105.5 689.9,105.3 690.2,105.9 690.4,105.6 690.6,105.4 690.8,106.2 691.1,105.9 691.3,105.7 691.5,106.3 691.7,106.1 691.9,105.4 692.2,105.8 692.4,105.5 692.6,105.1 692.8,106.3 693.1,106.2 693.3,105.2 693.5,105.8 693.7,105.1 693.9,106.0 694.2,105.6 694.4,105.6 694.6,106.1 694.8,105.7 695.1,105.6 695.3,106.0 695.5,105.6 695.7,106.0 695.9,105.7 696.2,106.0 696.4,105.9 696.6,106.0 696.8,105.3 697.1,106.3 697.3,105.6 697.5,106.3 697.7,105.5 697.9,105.6 698.2,105.6 698.4,106.1 698.6,105.5 698.8,105.8 699.1,105.1 699.3,105.5 699.5,105.8 699.7,105.7 699.9,105.0 700.2,105.9 700.4,105.4 700.6,106.4 700.8,105.6 701.1,106.5 701.3,105.9 701.5,105.9 701.7,105.5 701.9,105.7 702.2,105.9 702.4,105.0 702.6,106.1 702.8,105.3 703.1,105.6 703.3,104.8 703.5,105.9 703.7,106.0 703.9,105.8 704.2,105.8 704.4,105.6 704.6,105.8 704.8,106.2 705.1,105.6 705.3,105.9 705.5,106.0 705.7,105.7 705.9,105.8 706.2,105.8 706.4,105.6 706.6,106.6 706.8,105.6 707.1,106.3 707.3,106.1 707.5,105.0 707.7,105.8 707.9,106.1 708.2,106.0 708.4,105.4 708.6,105.8 708.8,105.3 709.1,105.4 709.3,105.7 709.5,105.8 709.7,106.3 709.9,105.9 710.2,106.1 710.4,105.3 710.6,105.4 710.8,105.6 711.1,106.4 711.3,105.3 711.5,105.2 711.7,105.7 711.9,106.2 712.2,105.2 712.4,105.7 712.6,105.3 712.8,106.3 713.1,106.0 713.3,105.9 713.5,105.8 713.7,105.7 714.0,105.8 714.2,105.6 714.4,105.5 714.6,105.4 714.8,105.8 715.1,105.5 715.3,106.1 715.5,105.1 715.7,106.0 716.0,106.0 716.2,106.2 716.4,105.7 716.6,105.3 716.8,105.5 717.1,106.2 717.3,105.7 717.5,105.7 717.7,105.6 718.0,105.8 718.2,105.7 718.4,105.3 718.6,105.6 718.8,106.2 719.1,106.3 719.3,105.8 719.5,105.6 719.7,106.3 720.0,105.8 720.2,105.4 720.4,105.8 720.6,106.1 720.8,106.4 721.1,105.7 721.3,106.0 721.5,105.7 721.7,106.2 722.0,105.9 722.2,105.9 722.4,105.5 722.6,105.7 722.8,105.7 723.1,104.6 723.3,106.1 723.5,105.8 723.7,105.8 724.0,105.7 724.2,105.9 724.4,105.9 724.6,105.4 724.8,105.9 725.1,105.9 725.3,105.9 725.5,105.3 725.7,105.8 726.0,105.4 726.2,106.0 726.4,106.3 726.6,106.2 726.8,105.8 727.1,105.7 727.3,105.7 727.5,106.0 727.7,105.6 728.0,105.7 728.2,105.0 728.4,105.6 728.6,105.6 728.8,105.7 729.1,106.3 729.3,105.4 729.5,105.4 729.7,106.1 730.0,105.5 730.2,105.8 730.4,106.0 730.6,105.9 730.8,105.6 731.1,106.2 731.3,106.4 731.5,105.6 731.7,105.8 732.0,106.2 732.2,105.8 732.4,105.6 732.6,105.8 732.8,106.2 733.1,105.6 733.3,106.0 733.5,106.0 733.7,105.7 734.0,106.1 734.2,106.1 734.4,106.3 734.6,106.2 734.8,105.4 735.1,106.2 735.3,106.1 735.5,106.3 735.7,105.6 736.0,106.2 736.2,106.1 736.4,105.5 736.6,106.4 736.9,105.7 737.1,105.6 737.3,106.1 737.5,105.7 737.7,106.1 738.0,105.9 738.2,106.0 738.4,106.2 738.6,105.9 738.9,106.2 739.1,106.2 739.3,105.7 739.5,106.2 739.7,106.2 740.0,106.0 740.2,106.3 740.4,106.5 740.6,106.2 740.9,105.5 741.1,106.1 741.3,105.9 741.5,105.9 741.7,106.1 742.0,105.9 742.2,106.5 742.4,106.1 742.6,106.0 742.9,106.2 743.1,106.2 743.3,106.4 743.5,106.2 743.7,106.0 744.0,106.0 744.2,105.2 744.4,105.5 744.6,106.3 744.9,105.9 745.1,106.6 745.3,106.6 745.5,105.6 745.7,106.1 746.0,107.0 746.2,105.7 746.4,106.1 746.6,105.9 746.9,105.9 747.1,105.9 747.3,106.0" fill="none" stroke="#ff3000" stroke-width="0.9" stroke-opacity="0.62" stroke-linejoin="round"/>
<path d="M103.9,327.7 104.0,333.4 104.1,339.6 104.2,345.7 104.3,352.1 104.4,358.5 104.5,364.9 104.6,371.7 104.7,378.4 104.8,385.3 105.0,392.5 105.1,399.2 105.2,406.7 105.3,414.0 105.4,421.2 105.5,428.9 105.6,436.7 105.7,444.6 105.8,453.6 105.9,462.7 106.0,471.6 106.1,481.0 106.2,490.1 106.3,498.5 106.4,506.5 106.5,514.7 106.6,521.4 106.7,527.5 106.9,534.3 107.0,540.4 107.1,547.1 107.2,552.7 107.3,555.2 107.4,557.7 107.5,557.2 107.6,556.6 107.7,555.3 107.8,554.2 107.9,552.1 108.0,549.7 108.1,547.1 108.2,544.7 108.3,542.5 108.4,538.8 108.5,536.5 108.6,533.6 108.8,529.9 108.9,528.6 109.0,525.7 109.1,524.5 109.2,522.0 109.3,518.7 109.4,516.4 109.5,513.6 109.6,510.9 109.7,509.7 109.8,506.7 109.9,504.1 110.0,501.8 110.1,499.8 110.2,497.5 110.3,494.4 110.4,491.8 110.5,489.5 110.7,488.5 110.8,482.9 110.9,481.1 111.0,480.0 111.1,477.3 111.2,475.8 111.3,473.6 111.4,471.9 111.5,467.2 111.6,466.2 111.7,463.3 111.8,462.2 111.9,459.4 112.0,458.1 112.1,454.5 112.2,453.5 112.3,451.0 112.4,449.5 112.6,447.6 112.7,445.3 112.8,446.1 112.9,443.7 113.0,443.0 113.1,439.2 113.2,436.6 113.3,436.6 113.4,435.7 113.5,435.4 113.6,434.2 113.7,432.9 113.8,431.7 113.9,429.1 114.0,426.7 114.1,423.9 114.2,424.2 114.3,420.9 114.5,418.8 114.6,419.0 114.7,416.8 114.8,416.0 114.9,412.0 115.0,413.1 115.1,410.2 115.2,407.7 115.3,405.0 115.4,402.8 115.5,400.7 115.6,403.3 115.7,397.2 115.8,398.7 115.9,395.7 116.0,393.5 116.1,392.0 116.2,391.0 116.3,391.1 116.5,388.9 116.6,386.4 116.7,382.5 116.8,380.3 116.9,385.2 117.0,378.7 117.1,376.3 117.2,379.7 117.3,373.5 117.4,376.2 117.5,375.2 117.6,372.6 117.7,372.5 117.8,366.7 117.9,365.7 118.0,366.3 118.1,365.3 118.2,363.9 118.4,363.6 118.5,360.0 118.6,355.9 118.7,359.7 118.8,357.2 118.9,358.1 119.0,359.5 119.1,354.1 119.2,354.0 119.3,349.7 119.4,352.3 119.5,350.0 119.6,348.7 119.7,349.0 119.8,343.5 119.9,346.1 120.0,344.8 120.1,346.3 120.3,337.7 120.4,340.5 120.5,344.8 120.6,337.9 120.7,336.9 120.8,341.1 120.9,342.0 121.0,335.5 121.1,332.7 121.2,332.1 121.3,331.7 121.4,329.8 121.5,329.0 121.6,330.6 121.7,329.5 121.8,329.7 121.9,327.8 122.0,323.9 122.2,328.0 122.3,325.9 122.4,323.0 122.5,322.9 122.6,323.6 122.7,322.1 122.8,320.7 122.9,322.2 123.0,322.1 123.1,317.5 123.2,317.3 123.3,313.5 123.4,315.1 123.5,315.9 123.6,316.0 123.7,313.1 123.8,311.5 123.9,308.7 124.1,310.4 124.2,305.7 124.3,308.2 124.4,306.9 124.5,303.3 124.6,305.8 124.7,303.3 124.8,304.7 124.9,300.6 125.0,302.4 125.2,303.6 125.4,297.5 125.7,297.4 125.9,291.2 126.1,290.3 126.3,283.8 126.6,287.4 126.8,282.7 127.0,284.9 127.2,276.5 127.4,278.6 127.7,280.0 127.9,279.5 128.1,271.5 128.3,273.9 128.6,282.0 128.8,274.9 129.0,271.5 129.2,260.5 129.4,265.1 129.7,268.5 129.9,266.2 130.1,265.6 130.3,266.0 130.6,261.8 130.8,263.0 131.0,252.8 131.2,266.2 131.4,255.3 131.7,252.9 131.9,259.1 132.1,254.8 132.3,254.9 132.6,248.1 132.8,250.1 133.0,250.5 133.2,242.7 133.4,244.8 133.7,243.6 133.9,242.3 134.1,239.6 134.3,236.4 134.6,241.4 134.8,239.6 135.0,241.8 135.2,236.0 135.4,232.6 135.7,228.4 135.9,233.0 136.1,230.3 136.3,237.9 136.6,237.8 136.8,233.9 137.0,223.1 137.2,219.9 137.5,223.3 137.7,219.6 137.9,227.6 138.1,221.3 138.3,218.2 138.6,218.7 138.8,222.9 139.0,213.1 139.2,218.0 139.5,209.8 139.7,213.5 139.9,210.8 140.1,214.1 140.3,212.6 140.6,216.2 140.8,213.3 141.0,207.3 141.2,203.6 141.5,205.0 141.7,205.9 141.9,206.1 142.1,203.2 142.3,210.2 142.6,209.0 142.8,203.3 143.0,201.7 143.2,202.2 143.5,202.4 143.7,201.9 143.9,194.6 144.1,199.0 144.3,192.3 144.6,199.8 144.8,202.0 145.0,194.0 145.2,198.7 145.5,194.8 145.7,193.8 145.9,204.6 146.1,199.5 146.3,197.1 146.6,192.6 146.8,195.7 147.0,192.5 147.2,194.7 147.5,188.3 147.7,191.3 147.9,189.3 148.1,184.3 148.3,197.3 148.6,192.9 148.8,185.4 149.0,181.9 149.2,184.6 149.5,183.7 149.7,184.2 149.9,179.7 150.1,182.3 150.3,185.8 150.6,186.9 150.8,176.0 151.0,184.4 151.2,179.6 151.5,179.1 151.7,182.0 151.9,180.1 152.1,186.0 152.3,185.8 152.6,181.0 152.8,179.2 153.0,190.0 153.2,190.1 153.5,183.2 153.7,180.5 153.9,185.5 154.1,187.3 154.3,178.1 154.6,188.5 154.8,179.3 155.0,184.8 155.2,177.3 155.5,179.7 155.7,177.1 155.9,179.2 156.1,183.5 156.3,174.5 156.6,177.1 156.8,180.9 157.0,176.0 157.2,187.5 157.5,171.1 157.7,189.6 157.9,174.6 158.1,182.1 158.3,185.0 158.6,179.8 158.8,170.6 159.0,175.6 159.2,177.5 159.5,179.8 159.7,181.7 159.9,182.4 160.1,184.0 160.4,172.5 160.6,181.7 160.8,168.8 161.0,177.8 161.2,172.0 161.5,168.6 161.7,181.5 161.9,177.0 162.1,181.9 162.4,169.8 162.6,171.5 162.8,176.9 163.0,174.3 163.2,177.9 163.5,174.6 163.7,176.0 163.9,172.3 164.1,183.9 164.4,176.4 164.6,172.4 164.8,181.3 165.0,180.5 165.2,179.3 165.5,179.4 165.7,176.6 165.9,177.9 166.1,168.1 166.4,171.3 166.6,173.0 166.8,180.3 167.0,184.9 167.2,178.4 167.5,178.0 167.7,184.7 167.9,177.7 168.1,182.7 168.4,181.7 168.6,173.5 168.8,181.4 169.0,181.1 169.2,174.8 169.5,175.5 169.7,174.5 169.9,187.3 170.1,191.0 170.4,184.5 170.6,188.8 170.8,175.1 171.0,188.4 171.2,191.3 171.5,189.8 171.7,177.9 171.9,187.7 172.1,182.2 172.4,188.1 172.6,180.2 172.8,183.5 173.0,181.0 173.2,186.2 173.5,183.6 173.7,189.7 173.9,188.5 174.1,186.8 174.4,184.8 174.6,183.8 174.8,185.5 175.0,189.2 175.2,186.5 175.5,187.4 175.7,186.1 175.9,186.1 176.1,183.4 176.4,177.8 176.6,189.7 176.8,189.8 177.0,182.7 177.2,196.7 177.5,182.1 177.7,192.6 177.9,189.3 178.1,189.7 178.4,193.8 178.6,193.0 178.8,188.9 179.0,183.8 179.2,183.2 179.5,190.2 179.7,197.0 179.9,193.8 180.1,189.6 180.4,191.5 180.6,193.4 180.8,198.5 181.0,186.8 181.2,194.1 181.5,192.1 181.7,187.3 181.9,186.3 182.1,197.4 182.4,193.0 182.6,190.6 182.8,192.3 183.0,196.7 183.3,192.6 183.5,200.0 183.7,191.3 183.9,189.0 184.1,192.4 184.4,188.6 184.6,191.6 184.8,199.3 185.0,201.8 185.3,196.9 185.5,195.0 185.7,189.9 185.9,189.6 186.1,196.4 186.4,195.7 186.6,192.3 186.8,193.1 187.0,202.9 187.3,200.4 187.5,196.1 187.7,197.2 187.9,202.4 188.1,198.2 188.4,197.8 188.6,189.3 188.8,189.0 189.0,188.1 189.3,186.6 189.5,197.5 189.7,199.4 189.9,193.8 190.1,200.2 190.4,200.4 190.6,198.1 190.8,191.6 191.0,205.7 191.3,205.6 191.5,196.4 191.7,208.6 191.9,199.7 192.1,195.9 192.4,197.8 192.6,191.1 192.8,198.4 193.0,192.6 193.3,205.9 193.5,202.1 193.7,194.1 193.9,203.7 194.1,192.8 194.4,202.0 194.6,203.7 194.8,201.9 195.0,196.3 195.3,201.3 195.5,201.1 195.7,202.4 195.9,209.4 196.1,210.5 196.4,210.1 196.6,199.7 196.8,199.2 197.0,203.1 197.3,205.2 197.5,193.3 197.7,200.4 197.9,212.1 198.1,197.6 198.4,200.2 198.6,200.4 198.8,206.3 199.0,203.7 199.3,202.6 199.5,197.0 199.7,207.3 199.9,204.5 200.1,201.4 200.4,204.8 200.6,208.6 200.8,197.8 201.0,197.5 201.3,200.2 201.5,201.0 201.7,190.6 201.9,202.5 202.1,210.8 202.4,204.0 202.6,210.6 202.8,192.0 203.0,205.3 203.3,212.7 203.5,213.6 203.7,203.8 203.9,202.3 204.1,208.2 204.4,200.6 204.6,204.8 204.8,198.7 205.0,207.2 205.3,206.9 205.5,214.8 205.7,208.8 205.9,204.0 206.2,206.8 206.4,201.1 206.6,207.6 206.8,206.5 207.0,209.6 207.3,212.1 207.5,198.1 207.7,209.4 207.9,211.4 208.2,202.2 208.4,217.2 208.6,204.6 208.8,220.0 209.0,212.0 209.3,212.9 209.5,209.6 209.7,213.2 209.9,203.5 210.2,204.6 210.4,199.1 210.6,211.2 210.8,205.2 211.0,212.3 211.3,211.6 211.5,202.3 211.7,212.1 211.9,210.0 212.2,209.7 212.4,211.0 212.6,208.7 212.8,208.9 213.0,213.9 213.3,204.0 213.5,203.0 213.7,205.1 213.9,213.7 214.2,207.2 214.4,217.9 214.6,193.9 214.8,205.2 215.0,206.5 215.3,209.9 215.5,214.9 215.7,207.6 215.9,203.6 216.2,212.4 216.4,215.7 216.6,196.3 216.8,210.9 217.0,209.6 217.3,204.2 217.5,205.8 217.7,209.3 217.9,208.0 218.2,206.7 218.4,202.4 218.6,209.0 218.8,204.6 219.0,207.9 219.3,204.8 219.5,208.3 219.7,210.7 219.9,208.3 220.2,210.0 220.4,200.9 220.6,208.9 220.8,208.0 221.0,203.8 221.3,205.7 221.5,194.1 221.7,206.4 221.9,204.1 222.2,195.9 222.4,207.7 222.6,202.6 222.8,206.3 223.0,203.9 223.3,206.7 223.5,204.8 223.7,203.0 223.9,206.1 224.2,207.3 224.4,194.2 224.6,203.5 224.8,200.7 225.0,198.4 225.3,208.0 225.5,206.4 225.7,198.1 225.9,197.5 226.2,205.1 226.4,199.0 226.6,200.0 226.8,193.2 227.0,200.2 227.3,205.0 227.5,198.4 227.7,199.5 227.9,206.4 228.2,202.8 228.4,204.6 228.6,201.2 228.8,203.1 229.1,191.9 229.3,194.8 229.5,191.3 229.7,205.7 229.9,197.7 230.2,196.2 230.4,193.6 230.6,192.3 230.8,185.4 231.1,203.6 231.3,194.8 231.5,195.0 231.7,189.3 231.9,193.9 232.2,195.1 232.4,193.2 232.6,195.3 232.8,189.8 233.1,193.6 233.3,195.3 233.5,193.8 233.7,192.8 233.9,190.8 234.2,187.4 234.4,192.4 234.6,188.8 234.8,186.6 235.1,192.0 235.3,183.8 235.5,186.9 235.7,191.0 235.9,191.1 236.2,186.5 236.4,187.5 236.6,188.7 236.8,186.3 237.1,183.7 237.3,187.2 237.5,185.9 237.7,185.4 237.9,188.1 238.2,185.2 238.4,182.5 238.6,184.0 238.8,189.0 239.1,180.6 239.3,181.6 239.5,179.6 239.7,182.7 239.9,177.5 240.2,182.2 240.4,182.7 240.6,177.9 240.8,177.4 241.1,175.2 241.3,179.2 241.5,175.6 241.7,176.6 241.9,176.9 242.2,175.8 242.4,179.6 242.6,181.3 242.8,171.0 243.1,174.2 243.3,176.7 243.5,172.9 243.7,174.0 243.9,175.6 244.2,178.3 244.4,177.4 244.6,173.3 244.8,174.1 245.1,172.5 245.3,172.7 245.5,169.9 245.7,168.1 245.9,171.2 246.2,174.2 246.4,173.4 246.6,166.6 246.8,170.4 247.1,169.0 247.3,170.9 247.5,167.3 247.7,171.8 247.9,168.8 248.2,170.4 248.4,170.8 248.6,163.7 248.8,167.5 249.1,171.3 249.3,167.4 249.5,169.5 249.7,167.8 249.9,165.3 250.2,166.8 250.4,168.3 250.6,168.5 250.8,168.5 251.1,162.3 251.3,166.4 251.5,161.0 251.7,163.6 252.0,163.0 252.2,164.6 252.4,163.6 252.6,165.4 252.8,160.8 253.1,163.7 253.3,162.4 253.5,161.2 253.7,158.1 254.0,161.7 254.2,160.8 254.4,161.5 254.6,159.3 254.8,158.5 255.1,159.6 255.3,159.4 255.5,159.5 255.7,161.8 256.0,156.0 256.2,161.4 256.4,150.3 256.6,158.4 256.8,154.3 257.1,160.0 257.3,153.5 257.5,157.3 257.7,152.6 258.0,152.0 258.2,155.8 258.4,155.6 258.6,152.0 258.8,158.2 259.1,152.3 259.3,155.9 259.5,150.3 259.7,150.1 260.0,152.0 260.2,149.5 260.4,152.2 260.6,146.7 260.8,151.1 261.1,149.4 261.3,148.3 261.5,150.4 261.7,149.3 262.0,148.6 262.2,150.9 262.4,149.6 262.6,149.5 262.8,151.2 263.1,148.2 263.3,149.7 263.5,147.0 263.7,148.8 264.0,148.4 264.2,146.1 264.4,144.1 264.6,144.3 264.8,144.7 265.1,147.4 265.3,145.8 265.5,145.3 265.7,146.6 266.0,146.9 266.2,147.9 266.4,144.0 266.6,145.9 266.8,146.0 267.1,142.7 267.3,144.5 267.5,142.4 267.7,143.5 268.0,144.5 268.2,140.4 268.4,141.7 268.6,141.6 268.8,143.1 269.1,141.4 269.3,143.3 269.5,140.8 269.7,141.3 270.0,143.2 270.2,142.5 270.4,142.0 270.6,141.5 270.8,143.2 271.1,143.7 271.3,140.4 271.5,139.5 271.7,138.8 272.0,143.7 272.2,138.8 272.4,137.8 272.6,140.6 272.8,141.8 273.1,137.5 273.3,139.4 273.5,136.8 273.7,138.0 274.0,142.1 274.2,139.3 274.4,138.4 274.6,138.8 274.9,139.1 275.1,138.2 275.3,136.1 275.5,136.0 275.7,141.6 276.0,136.5 276.2,139.9 276.4,136.3 276.6,139.8 276.9,138.5 277.1,136.8 277.3,140.6 277.5,135.2 277.7,136.3 278.0,135.1 278.2,135.1 278.4,135.7 278.6,134.5 278.9,135.5 279.1,138.8 279.3,132.8 279.5,133.5 279.7,133.9 280.0,134.7 280.2,137.1 280.4,136.5 280.6,135.9 280.9,135.3 281.1,139.1 281.3,132.8 281.5,132.6 281.7,134.5 282.0,134.8 282.2,133.9 282.4,132.7 282.6,131.8 282.9,133.5 283.1,132.6 283.3,132.9 283.5,131.8 283.7,135.8 284.0,134.2 284.2,136.5 284.4,132.3 284.6,133.2 284.9,132.6 285.1,132.9 285.3,132.4 285.5,132.4 285.7,129.2 286.0,132.0 286.2,133.6 286.4,129.0 286.6,131.6 286.9,133.1 287.1,134.2 287.3,131.8 287.5,132.6 287.7,134.7 288.0,133.8 288.2,130.8 288.4,130.4 288.6,133.1 288.9,131.6 289.1,130.3 289.3,130.7 289.5,131.5 289.7,130.6 290.0,130.4 290.2,130.3 290.4,128.2 290.6,133.5 290.9,132.5 291.1,132.9 291.3,130.1 291.5,130.5 291.7,131.1 292.0,131.4 292.2,127.0 292.4,130.5 292.6,128.2 292.9,129.7 293.1,128.6 293.3,132.4 293.5,130.5 293.7,129.5 294.0,131.7 294.2,129.3 294.4,128.1 294.6,128.9 294.9,128.6 295.1,129.2 295.3,130.4 295.5,128.8 295.7,128.8 296.0,130.5 296.2,129.3 296.4,130.3 296.6,128.9 296.9,126.6 297.1,126.8 297.3,125.9 297.5,130.4 297.7,129.1 298.0,127.7 298.2,126.8 298.4,128.9 298.6,128.1 298.9,128.8 299.1,126.9 299.3,126.4 299.5,130.6 299.8,126.5 300.0,128.0 300.2,130.1 300.4,125.0 300.6,129.0 300.9,127.9 301.1,127.6 301.3,128.2 301.5,125.8 301.8,124.1 302.0,130.5 302.2,127.1 302.4,128.9 302.6,129.2 302.9,127.8 303.1,128.0 303.3,128.4 303.5,129.7 303.8,127.9 304.0,129.0 304.2,126.6 304.4,126.3 304.6,127.0 304.9,127.5 305.1,127.6 305.3,129.7 305.5,127.9 305.8,126.7 306.0,129.5 306.2,126.9 306.4,126.9 306.6,127.0 306.9,125.7 307.1,124.4 307.3,126.2 307.5,125.4 307.8,124.5 308.0,125.9 308.2,125.3 308.4,124.6 308.6,122.8 308.9,125.1 309.1,127.9 309.3,126.5 309.5,126.7 309.8,124.9 310.0,126.4 310.2,123.8 310.4,124.0 310.6,125.3 310.9,122.4 311.1,124.5 311.3,124.7 311.5,126.7 311.8,123.1 312.0,124.6 312.2,122.9 312.4,123.0 312.6,119.8 312.9,122.3 313.1,125.2 313.3,124.2 313.5,123.6 313.8,126.8 314.0,124.0 314.2,121.3 314.4,122.7 314.6,122.9 314.9,125.2 315.1,121.5 315.3,123.3 315.5,124.0 315.8,121.4 316.0,122.6 316.2,119.6 316.4,122.5 316.6,119.1 316.9,121.6 317.1,124.5 317.3,122.6 317.5,122.0 317.8,122.1 318.0,124.8 318.2,122.5 318.4,123.1 318.6,121.0 318.9,120.9 319.1,120.0 319.3,121.1 319.5,120.3 319.8,122.6 320.0,122.1 320.2,120.9 320.4,120.3 320.6,117.0 320.9,120.1 321.1,121.2 321.3,121.7 321.5,116.5 321.8,117.3 322.0,120.8 322.2,119.1 322.4,120.1 322.7,119.7 322.9,121.1 323.1,117.7 323.3,119.4 323.5,121.3 323.8,120.3 324.0,118.8 324.2,120.5 324.4,120.2 324.7,118.6 324.9,120.6 325.1,120.5 325.3,119.4 325.5,120.8 325.8,117.9 326.0,120.4 326.2,119.1 326.4,118.0 326.7,118.4 326.9,120.7 327.1,118.3 327.3,118.6 327.5,118.1 327.8,117.9 328.0,120.1 328.2,121.7 328.4,120.5 328.7,119.3 328.9,119.6 329.1,118.1 329.3,117.9 329.5,116.9 329.8,120.2 330.0,117.9 330.2,117.4 330.4,117.4 330.7,118.4 330.9,117.4 331.1,118.1 331.3,118.2 331.5,119.7 331.8,116.3 332.0,118.2 332.2,116.9 332.4,117.2 332.7,119.7 332.9,118.4 333.1,117.1 333.3,118.2 333.5,117.5 333.8,118.8 334.0,116.8 334.2,118.0 334.4,117.1 334.7,117.3 334.9,117.0 335.1,116.4 335.3,117.3 335.5,118.3 335.8,116.3 336.0,116.5 336.2,117.4 336.4,116.0 336.7,117.9 336.9,117.7 337.1,114.0 337.3,115.9 337.5,115.4 337.8,117.6 338.0,117.7 338.2,115.1 338.4,115.7 338.7,116.3 338.9,115.9 339.1,117.2 339.3,117.5 339.5,117.0 339.8,117.5 340.0,117.3 340.2,116.0 340.4,115.6 340.7,115.2 340.9,117.0 341.1,117.0 341.3,117.1 341.5,115.5 341.8,115.4 342.0,116.1 342.2,117.2 342.4,116.1 342.7,115.9 342.9,114.7 343.1,116.1 343.3,116.1 343.5,114.4 343.8,117.5 344.0,114.4 344.2,116.4 344.4,115.1 344.7,115.5 344.9,114.3 345.1,114.6 345.3,115.9 345.6,114.9 345.8,114.7 346.0,116.0 346.2,115.8 346.4,115.1 346.7,115.2 346.9,116.8 347.1,114.6 347.3,115.2 347.6,115.2 347.8,113.2 348.0,112.5 348.2,114.8 348.4,115.5 348.7,114.8 348.9,113.9 349.1,113.7 349.3,115.3 349.6,114.1 349.8,112.6 350.0,115.0 350.2,114.5 350.4,114.6 350.7,115.3 350.9,115.6 351.1,114.7 351.3,113.9 351.6,111.8 351.8,114.3 352.0,113.8 352.2,115.3 352.4,115.2 352.7,114.3 352.9,115.2 353.1,113.7 353.3,113.7 353.6,112.8 353.8,113.3 354.0,113.8 354.2,114.7 354.4,112.8 354.7,114.3 354.9,115.9 355.1,112.0 355.3,113.1 355.6,113.4 355.8,114.3 356.0,115.3 356.2,114.5 356.4,113.1 356.7,112.3 356.9,113.1 357.1,113.0 357.3,113.3 357.6,112.1 357.8,114.5 358.0,112.2 358.2,113.6 358.4,113.1 358.7,111.7 358.9,112.8 359.1,112.8 359.3,112.5 359.6,113.5 359.8,112.2 360.0,115.1 360.2,113.7 360.4,111.6 360.7,110.1 360.9,113.7 361.1,112.7 361.3,112.5 361.6,111.4 361.8,110.9 362.0,110.5 362.2,114.7 362.4,113.8 362.7,111.7 362.9,113.9 363.1,110.3 363.3,112.7 363.6,112.7 363.8,111.2 364.0,111.5 364.2,111.0 364.4,112.0 364.7,113.1 364.9,112.8 365.1,112.2 365.3,112.8 365.6,110.1 365.8,113.6 366.0,111.6 366.2,110.4 366.4,111.3 366.7,111.0 366.9,111.6 367.1,111.8 367.3,109.3 367.6,112.6 367.8,113.0 368.0,110.4 368.2,112.7 368.5,112.5 368.7,112.2 368.9,112.7 369.1,110.0 369.3,111.8 369.6,110.2 369.8,113.2 370.0,110.2 370.2,110.0 370.5,112.0 370.7,111.5 370.9,111.0 371.1,111.1 371.3,111.4 371.6,112.4 371.8,110.2 372.0,110.3 372.2,110.3 372.5,110.7 372.7,110.7 372.9,109.6 373.1,110.9 373.3,109.5 373.6,110.3 373.8,110.3 374.0,110.3 374.2,111.8 374.5,111.9 374.7,111.4 374.9,111.8 375.1,110.1 375.3,111.5 375.6,110.3 375.8,110.5 376.0,110.5 376.2,109.1 376.5,109.7 376.7,110.0 376.9,110.4 377.1,110.0 377.3,109.3 377.6,109.1 377.8,110.0 378.0,109.0 378.2,109.0 378.5,109.8 378.7,110.0 378.9,109.2 379.1,108.4 379.3,110.0 379.6,110.5 379.8,109.4 380.0,109.4 380.2,107.8 380.5,110.4 380.7,108.7 380.9,110.2 381.1,109.1 381.3,109.4 381.6,109.4 381.8,108.0 382.0,111.7 382.2,108.2 382.5,109.5 382.7,108.8 382.9,109.2 383.1,110.5 383.3,107.8 383.6,109.2 383.8,109.7 384.0,109.4 384.2,109.6 384.5,108.6 384.7,107.9 384.9,108.1 385.1,108.8 385.3,109.7 385.6,109.2 385.8,110.4 386.0,109.1 386.2,109.2 386.5,109.2 386.7,107.6 386.9,109.4 387.1,108.1 387.3,108.6 387.6,110.7 387.8,107.9 388.0,109.0 388.2,109.1 388.5,108.9 388.7,108.8 388.9,108.4 389.1,110.3 389.3,107.2 389.6,108.0 389.8,109.9 390.0,109.1 390.2,108.1 390.5,108.0 390.7,108.5 390.9,110.6 391.1,109.0 391.4,107.8 391.6,108.8 391.8,108.1 392.0,109.7 392.2,108.7 392.5,109.4 392.7,108.6 392.9,110.0 393.1,108.8 393.4,108.6 393.6,107.7 393.8,108.1 394.0,108.7 394.2,108.0 394.5,110.2 394.7,108.3 394.9,107.8 395.1,109.0 395.4,107.9 395.6,108.6 395.8,108.2 396.0,107.7 396.2,109.2 396.5,108.3 396.7,109.0 396.9,107.9 397.1,107.1 397.4,107.2 397.6,107.7 397.8,108.0 398.0,108.1 398.2,108.4 398.5,107.2 398.7,108.2 398.9,107.2 399.1,107.5 399.4,109.8 399.6,108.9 399.8,107.7 400.0,109.2 400.2,108.9 400.5,108.5 400.7,108.9 400.9,107.7 401.1,107.8 401.4,107.3 401.6,108.2 401.8,107.0 402.0,107.5 402.2,108.1 402.5,107.4 402.7,108.0 402.9,109.0 403.1,107.1 403.4,108.6 403.6,107.2 403.8,107.1 404.0,107.8 404.2,108.3 404.5,107.2 404.7,107.1 404.9,107.3 405.1,107.1 405.4,107.7 405.6,107.1 405.8,107.4 406.0,107.8 406.2,107.3 406.5,108.3 406.7,107.1 406.9,107.0 407.1,108.8 407.4,108.4 407.6,107.5 407.8,108.0 408.0,107.6 408.2,107.1 408.5,107.8 408.7,107.6 408.9,108.2 409.1,106.2 409.4,107.8 409.6,107.4 409.8,106.9 410.0,107.0 410.2,107.0 410.5,106.4 410.7,106.9 410.9,107.7 411.1,106.3 411.4,107.0 411.6,105.8 411.8,106.8 412.0,107.4 412.2,107.1 412.5,107.2 412.7,106.5 412.9,107.5 413.1,106.6 413.4,107.6 413.6,107.2 413.8,106.8 414.0,107.9 414.3,106.8 414.5,107.6 414.7,107.1 414.9,107.0 415.1,107.6 415.4,107.2 415.6,107.0 415.8,106.9 416.0,107.1 416.3,107.0 416.5,106.7 416.7,106.3 416.9,105.4 417.1,106.8 417.4,106.7 417.6,107.5 417.8,107.1 418.0,107.5 418.3,107.8 418.5,106.7 418.7,106.3 418.9,107.2 419.1,106.4 419.4,106.6 419.6,107.5 419.8,107.0 420.0,107.3 420.3,105.9 420.5,106.7 420.7,107.3 420.9,105.9 421.1,106.7 421.4,106.8 421.6,105.3 421.8,107.5 422.0,106.2 422.3,106.5 422.5,107.5 422.7,105.6 422.9,106.8 423.1,106.3 423.4,106.5 423.6,106.0 423.8,107.2 424.0,105.8 424.3,106.6 424.5,106.7 424.7,106.4 424.9,106.2 425.1,106.2 425.4,106.9 425.6,106.6 425.8,106.3 426.0,105.7 426.3,106.4 426.5,106.6 426.7,106.3 426.9,107.0 427.1,105.2 427.4,107.6 427.6,106.1 427.8,105.6 428.0,105.3 428.3,106.7 428.5,106.5 428.7,106.0 428.9,106.1 429.1,106.2 429.4,105.9 429.6,106.7 429.8,106.4 430.0,106.0 430.3,105.2 430.5,106.8 430.7,105.8 430.9,105.5 431.1,106.7 431.4,106.3 431.6,104.9 431.8,105.1 432.0,105.8 432.3,105.3 432.5,105.9 432.7,107.3 432.9,107.5 433.1,105.9 433.4,106.3 433.6,106.4 433.8,105.8 434.0,105.1 434.3,106.4 434.5,105.8 434.7,106.1 434.9,106.2 435.1,105.4 435.4,106.7 435.6,105.8 435.8,105.9 436.0,105.6 436.3,106.2 436.5,106.3 436.7,105.5 436.9,106.1 437.2,105.5 437.4,105.1 437.6,105.6 437.8,106.1 438.0,106.0 438.3,106.3 438.5,105.4 438.7,105.5 438.9,105.7 439.2,106.0 439.4,105.6 439.6,105.2 439.8,104.9 440.0,106.3 440.3,106.2 440.5,105.3 440.7,106.4 440.9,105.6 441.2,105.9 441.4,106.3 441.6,105.4 441.8,105.2 442.0,104.7 442.3,105.8 442.5,105.9 442.7,106.1 442.9,105.9 443.2,105.7 443.4,106.2 443.6,105.1 443.8,105.8 444.0,105.9 444.3,105.5 444.5,106.5 444.7,105.8 444.9,106.3 445.2,106.0 445.4,105.5 445.6,106.6 445.8,106.1 446.0,105.6 446.3,105.5 446.5,105.0 446.7,105.5 446.9,105.4 447.2,105.6 447.4,105.3 447.6,105.8 447.8,105.5 448.0,104.7 448.3,105.2 448.5,105.0 448.7,104.8 448.9,105.4 449.2,106.0 449.4,104.9 449.6,104.5 449.8,105.4 450.0,107.0 450.3,105.2 450.5,105.6 450.7,105.3 450.9,105.9 451.2,106.2 451.4,105.4 451.6,106.1 451.8,104.9 452.0,105.6 452.3,104.8 452.5,105.5 452.7,105.1 452.9,105.6 453.2,104.9 453.4,105.5 453.6,105.5 453.8,105.1 454.0,105.0 454.3,104.8 454.5,105.2 454.7,105.6 454.9,105.3 455.2,105.5 455.4,106.0 455.6,105.2 455.8,105.5 456.0,105.8 456.3,105.7 456.5,105.6 456.7,105.4 456.9,106.4 457.2,105.3 457.4,105.2 457.6,105.7 457.8,106.2 458.0,106.1 458.3,105.4 458.5,105.8 458.7,105.6 458.9,105.4 459.2,105.7 459.4,105.7 459.6,105.4 459.8,106.2 460.1,105.2 460.3,106.1 460.5,106.4 460.7,106.4 460.9,105.5 461.2,105.2 461.4,104.5 461.6,105.3 461.8,106.6 462.1,104.5 462.3,104.6 462.5,105.8 462.7,105.6 462.9,104.4 463.2,105.3 463.4,105.5 463.6,104.6 463.8,105.8 464.1,104.7 464.3,105.9 464.5,105.4 464.7,105.0 464.9,104.5 465.2,105.1 465.4,105.3 465.6,105.3 465.8,105.0 466.1,105.2 466.3,105.7 466.5,104.9 466.7,105.2 466.9,105.5 467.2,105.3 467.4,105.7 467.6,106.1 467.8,105.1 468.1,105.4 468.3,103.9 468.5,105.1 468.7,105.6 468.9,104.8 469.2,106.0 469.4,104.4 469.6,106.0 469.8,105.1 470.1,104.8 470.3,105.1 470.5,105.2 470.7,104.8 470.9,104.6 471.2,105.1 471.4,105.8 471.6,105.5 471.8,106.0 472.1,105.0 472.3,105.1 472.5,105.1 472.7,105.4 472.9,105.5 473.2,106.2 473.4,105.7 473.6,105.4 473.8,106.0 474.1,104.9 474.3,104.7 474.5,105.6 474.7,105.4 474.9,105.4 475.2,105.8 475.4,105.1 475.6,105.3 475.8,105.5 476.1,105.6 476.3,105.8 476.5,105.4 476.7,105.4 476.9,104.1 477.2,105.9 477.4,104.5 477.6,105.3 477.8,106.5 478.1,105.1 478.3,104.5 478.5,106.1 478.7,105.0 478.9,105.2 479.2,105.2 479.4,105.7 479.6,105.7 479.8,105.2 480.1,105.8 480.3,104.9 480.5,105.6 480.7,105.0 480.9,105.6 481.2,105.0 481.4,105.1 481.6,106.0 481.8,104.8 482.1,104.7 482.3,105.6 482.5,105.2 482.7,105.1 483.0,105.2 483.2,106.3 483.4,104.8 483.6,105.2 483.8,105.4 484.1,104.9 484.3,105.3 484.5,105.5 484.7,104.9 485.0,105.8 485.2,104.8 485.4,105.2 485.6,105.5 485.8,106.8 486.1,104.5 486.3,105.4 486.5,106.5 486.7,105.0 487.0,105.8 487.2,105.4 487.4,104.6 487.6,105.5 487.8,104.9 488.1,105.3 488.3,104.6 488.5,105.6 488.7,104.2 489.0,105.2 489.2,105.9 489.4,105.5 489.6,105.1 489.8,105.2 490.1,105.1 490.3,106.6 490.5,105.3 490.7,105.3 491.0,105.0 491.2,105.1 491.4,105.6 491.6,105.0 491.8,104.9 492.1,105.0 492.3,105.1 492.5,105.4 492.7,105.1 493.0,105.2 493.2,105.0 493.4,105.9 493.6,105.3 493.8,105.2 494.1,105.4 494.3,105.3 494.5,104.6 494.7,105.2 495.0,106.1 495.2,105.5 495.4,105.8 495.6,105.0 495.8,104.6 496.1,105.0 496.3,105.9 496.5,104.8 496.7,104.9 497.0,105.8 497.2,105.2 497.4,105.2 497.6,105.5 497.8,105.3 498.1,105.2 498.3,105.4 498.5,105.0 498.7,105.3 499.0,105.6 499.2,104.8 499.4,105.2 499.6,104.8 499.8,105.6 500.1,105.6 500.3,105.7 500.5,105.8 500.7,105.8 501.0,105.6 501.2,104.9 501.4,105.7 501.6,104.9 501.8,106.4 502.1,105.4 502.3,105.6 502.5,104.7 502.7,105.8 503.0,105.8 503.2,104.6 503.4,105.0 503.6,105.1 503.8,105.0 504.1,105.9 504.3,106.3 504.5,104.8 504.7,105.8 505.0,105.2 505.2,105.9 505.4,104.2 505.6,105.1 505.9,105.8 506.1,105.0 506.3,105.8 506.5,105.1 506.7,105.8 507.0,105.6 507.2,105.1 507.4,105.0 507.6,105.2 507.9,105.8 508.1,105.3 508.3,105.0 508.5,106.8 508.7,104.6 509.0,105.2 509.2,105.5 509.4,104.8 509.6,105.3 509.9,105.1 510.1,104.6 510.3,105.5 510.5,104.8 510.7,105.0 511.0,105.8 511.2,104.8 511.4,105.6 511.6,105.8 511.9,105.7 512.1,105.5 512.3,105.2 512.5,104.7 512.7,105.4 513.0,105.5 513.2,105.1 513.4,104.9 513.6,105.7 513.9,104.8 514.1,105.5 514.3,105.1 514.5,104.6 514.7,106.0 515.0,105.6 515.2,105.5 515.4,104.7 515.6,105.2 515.9,105.4 516.1,105.0 516.3,106.0 516.5,104.4 516.7,105.6 517.0,104.5 517.2,104.6 517.4,104.7 517.6,105.5 517.9,105.0 518.1,105.0 518.3,104.9 518.5,104.6 518.7,104.9 519.0,104.9 519.2,105.1 519.4,105.1 519.6,104.2 519.9,105.0 520.1,105.8 520.3,105.1 520.5,105.2 520.7,105.0 521.0,105.0 521.2,105.2 521.4,104.7 521.6,105.2 521.9,104.6 522.1,105.4 522.3,104.6 522.5,105.5 522.7,105.7 523.0,104.6 523.2,105.6 523.4,105.1 523.6,105.8 523.9,105.0 524.1,105.1 524.3,105.1 524.5,105.8 524.7,104.4 525.0,105.6 525.2,105.3 525.4,105.1 525.6,105.2 525.9,105.7 526.1,105.6 526.3,106.0 526.5,105.0 526.7,104.5 527.0,105.0 527.2,105.2 527.4,105.1 527.6,105.8 527.9,106.2 528.1,105.4 528.3,104.5 528.5,105.7 528.8,105.0 529.0,105.3 529.2,105.6 529.4,105.4 529.6,105.2 529.9,105.4 530.1,105.6 530.3,105.5 530.5,106.1 530.8,104.0 531.0,104.9 531.2,105.0 531.4,105.6 531.6,105.3 531.9,105.6 532.1,104.7 532.3,105.2 532.5,105.5 532.8,105.2 533.0,105.1 533.2,105.4 533.4,105.9 533.6,104.4 533.9,105.9 534.1,105.4 534.3,104.9 534.5,105.5 534.8,105.3 535.0,105.8 535.2,104.9 535.4,105.7 535.6,104.9 535.9,105.4 536.1,105.5 536.3,105.2 536.5,105.5 536.8,105.0 537.0,105.7 537.2,105.1 537.4,105.0 537.6,105.2 537.9,105.2 538.1,104.9 538.3,105.6 538.5,105.2 538.8,105.5 539.0,104.6 539.2,104.7 539.4,105.2 539.6,104.9 539.9,105.2 540.1,105.5 540.3,105.7 540.5,105.9 540.8,105.6 541.0,105.0 541.2,105.5 541.4,105.1 541.6,105.5 541.9,104.8 542.1,105.8 542.3,105.4 542.5,105.2 542.8,104.7 543.0,105.4 543.2,105.1 543.4,105.4 543.6,105.0 543.9,105.1 544.1,105.5 544.3,105.9 544.5,104.8 544.8,105.2 545.0,105.4 545.2,105.2 545.4,105.1 545.6,106.2 545.9,104.9 546.1,105.4 546.3,105.1 546.5,105.2 546.8,104.3 547.0,105.7 547.2,105.2 547.4,104.9 547.6,106.0 547.9,105.2 548.1,105.0 548.3,104.9 548.5,105.7 548.8,105.3 549.0,105.2 549.2,104.7 549.4,104.9 549.6,105.4 549.9,105.3 550.1,104.5 550.3,104.9 550.5,105.4 550.8,106.4 551.0,105.0 551.2,104.4 551.4,105.6 551.7,105.1 551.9,104.8 552.1,105.5 552.3,105.2 552.5,104.9 552.8,104.8 553.0,105.3 553.2,105.3 553.4,104.6 553.7,105.7 553.9,104.8 554.1,105.9 554.3,105.5 554.5,105.2 554.8,105.5 555.0,105.1 555.2,105.3 555.4,106.0 555.7,105.1 555.9,105.7 556.1,105.0 556.3,105.3 556.5,105.7 556.8,104.8 557.0,105.5 557.2,104.4 557.4,104.9 557.7,105.2 557.9,105.7 558.1,105.6 558.3,105.0 558.5,105.3 558.8,105.4 559.0,104.7 559.2,105.5 559.4,105.9 559.7,105.9 559.9,105.1 560.1,105.2 560.3,105.0 560.5,105.1 560.8,105.3 561.0,105.6 561.2,105.4 561.4,105.0 561.7,105.7 561.9,105.7 562.1,105.1 562.3,105.3 562.5,105.3 562.8,104.7 563.0,105.4 563.2,105.6 563.4,106.2 563.7,105.4 563.9,105.3 564.1,105.3 564.3,105.6 564.5,105.7 564.8,105.0 565.0,105.5 565.2,105.6 565.4,104.6 565.7,105.9 565.9,105.3 566.1,105.7 566.3,105.4 566.5,105.3 566.8,105.4 567.0,105.5 567.2,105.7 567.4,105.3 567.7,104.9 567.9,105.1 568.1,105.0 568.3,105.7 568.5,105.0 568.8,106.0 569.0,105.5 569.2,105.4 569.4,105.9 569.7,105.3 569.9,105.3 570.1,105.7 570.3,105.7 570.5,105.0 570.8,106.4 571.0,105.7 571.2,104.9 571.4,105.4 571.7,105.8 571.9,105.5 572.1,105.8 572.3,106.4 572.5,105.8 572.8,106.3 573.0,105.7 573.2,105.2 573.4,106.1 573.7,105.2 573.9,105.8 574.1,105.7 574.3,105.1 574.6,105.2 574.8,105.4 575.0,105.6 575.2,106.0 575.4,105.5 575.7,106.2 575.9,105.8 576.1,105.2 576.3,105.2 576.6,105.5 576.8,105.3 577.0,105.4 577.2,105.8 577.4,105.6 577.7,105.9 577.9,105.2 578.1,105.1 578.3,104.9 578.6,104.8 578.8,105.3 579.0,105.5 579.2,105.4 579.4,105.5 579.7,106.3 579.9,105.1 580.1,105.4 580.3,105.3 580.6,105.1 580.8,106.1 581.0,105.5 581.2,106.0 581.4,105.1 581.7,106.3 581.9,106.4 582.1,105.2 582.3,105.5 582.6,105.5 582.8,105.8 583.0,105.0 583.2,105.7 583.4,105.8 583.7,105.3 583.9,104.6 584.1,105.3 584.3,105.4 584.6,105.9 584.8,105.3 585.0,105.1 585.2,105.8 585.4,105.7 585.7,105.9 585.9,105.6 586.1,106.0 586.3,105.8 586.6,104.8 586.8,105.6 587.0,105.9 587.2,105.6 587.4,106.2 587.7,105.4 587.9,105.9 588.1,105.1 588.3,105.6 588.6,105.4 588.8,105.2 589.0,105.1 589.2,105.7 589.4,105.8 589.7,105.3 589.9,105.1 590.1,105.2 590.3,105.9 590.6,105.1 590.8,106.1 591.0,104.9 591.2,105.7 591.4,105.9 591.7,106.1 591.9,105.4 592.1,105.3 592.3,105.0 592.6,106.0 592.8,105.6 593.0,105.4 593.2,105.5 593.4,105.7 593.7,105.6 593.9,106.1 594.1,104.8 594.3,106.0 594.6,105.4 594.8,105.6 595.0,105.5 595.2,105.6 595.4,105.9 595.7,105.7 595.9,105.1 596.1,105.6 596.3,105.6 596.6,105.8 596.8,105.7 597.0,105.6 597.2,106.1 597.4,105.2 597.7,106.5 597.9,105.4 598.1,105.3 598.3,106.0 598.6,106.1 598.8,106.2 599.0,106.3 599.2,105.9 599.5,105.7 599.7,105.8 599.9,105.7 600.1,105.5 600.3,106.3 600.6,106.4 600.8,105.7 601.0,105.6 601.2,105.5 601.5,105.0 601.7,105.4 601.9,105.5 602.1,105.7 602.3,105.3 602.6,105.0 602.8,106.0 603.0,106.4 603.2,104.9 603.5,105.7 603.7,106.1 603.9,105.3 604.1,105.2 604.3,105.7 604.6,105.6 604.8,105.5 605.0,106.4 605.2,106.3 605.5,106.0 605.7,105.7 605.9,105.6 606.1,106.1 606.3,105.6 606.6,106.3 606.8,106.2 607.0,105.5 607.2,106.1 607.5,106.4 607.7,106.0 607.9,105.4 608.1,105.7 608.3,105.6 608.6,105.8 608.8,105.8 609.0,105.6 609.2,106.1 609.5,106.3 609.7,105.6 609.9,105.2 610.1,105.9 610.3,105.8 610.6,106.0 610.8,105.5 611.0,105.9 611.2,105.4 611.5,106.2 611.7,106.5 611.9,105.4 612.1,104.8 612.3,105.6 612.6,105.6 612.8,105.9 613.0,105.8 613.2,106.0 613.5,106.9 613.7,105.6 613.9,105.7 614.1,106.0 614.3,105.1 614.6,106.1 614.8,105.6 615.0,105.3 615.2,105.5 615.5,106.0 615.7,106.2 615.9,106.3 616.1,106.0 616.3,105.6 616.6,106.1 616.8,105.8 617.0,106.8 617.2,105.1 617.5,106.5 617.7,106.2 617.9,106.0 618.1,105.8 618.3,105.7 618.6,105.5 618.8,105.3 619.0,106.7 619.2,106.2 619.5,106.1 619.7,106.0 619.9,105.1 620.1,105.8 620.3,105.9 620.6,106.3 620.8,105.5 621.0,106.0 621.2,105.8 621.5,105.9 621.7,105.6 621.9,106.0 622.1,105.9 622.4,105.2 622.6,106.4 622.8,106.8 623.0,105.6 623.2,106.4 623.5,105.5 623.7,105.7 623.9,106.6 624.1,106.0 624.4,106.5 624.6,106.0 624.8,106.3 625.0,105.9 625.2,106.5 625.5,106.6 625.7,106.2 625.9,105.7 626.1,105.8 626.4,105.6 626.6,106.2 626.8,106.2 627.0,105.7 627.2,106.3 627.5,105.7 627.7,106.7 627.9,106.3 628.1,106.6 628.4,105.7 628.6,105.6 628.8,105.3 629.0,106.2 629.2,105.5 629.5,106.5 629.7,106.0 629.9,106.3 630.1,105.5 630.4,105.8 630.6,106.1 630.8,106.3 631.0,105.5 631.2,106.1 631.5,105.7 631.7,106.3 631.9,105.9 632.1,105.9 632.4,106.2 632.6,106.5 632.8,105.9 633.0,106.5 633.2,105.6 633.5,106.1 633.7,105.6 633.9,106.1 634.1,105.7 634.4,106.0 634.6,106.3 634.8,105.6 635.0,105.3 635.2,106.0 635.5,106.2 635.7,106.1 635.9,105.7 636.1,106.3 636.4,105.9 636.6,106.3 636.8,105.7 637.0,106.2 637.2,106.5 637.5,105.8 637.7,105.9 637.9,106.3 638.1,106.2 638.4,106.2 638.6,106.0 638.8,105.4 639.0,106.0 639.2,105.6 639.5,106.1 639.7,105.2 639.9,106.6 640.1,106.8 640.4,106.2 640.6,105.7 640.8,105.9 641.0,106.4 641.2,106.3 641.5,105.8 641.7,106.5 641.9,106.3 642.1,106.3 642.4,105.9 642.6,106.1 642.8,105.8 643.0,106.1 643.2,105.8 643.5,106.5 643.7,106.1 643.9,106.2 644.1,106.2 644.4,106.2 644.6,105.5 644.8,106.6 645.0,106.1 645.3,105.9 645.5,105.7 645.7,105.8 645.9,105.9 646.1,106.1 646.4,105.8 646.6,106.1 646.8,106.1 647.0,105.8 647.3,106.9 647.5,106.0 647.7,106.2 647.9,106.1 648.1,106.0 648.4,106.4 648.6,106.6 648.8,106.1 649.0,105.8 649.3,106.3 649.5,105.3 649.7,106.2 649.9,106.0 650.1,106.2 650.4,105.5 650.6,105.9 650.8,105.7 651.0,105.9 651.3,106.3 651.5,106.0 651.7,105.9 651.9,106.6 652.1,106.1 652.4,105.4 652.6,105.7 652.8,106.3 653.0,106.3 653.3,106.2 653.5,106.2 653.7,105.8 653.9,106.1 654.1,105.7 654.4,105.8 654.6,105.8 654.8,105.8 655.0,106.0 655.3,106.0 655.5,105.8 655.7,106.5 655.9,106.0 656.1,106.7 656.4,106.5 656.6,105.7 656.8,106.5 657.0,105.6 657.3,106.7 657.5,106.2 657.7,105.8 657.9,105.3 658.1,106.0 658.4,105.6 658.6,106.5 658.8,105.7 659.0,106.0 659.3,106.3 659.5,106.1 659.7,106.2 659.9,106.0 660.1,106.4 660.4,105.8 660.6,106.3 660.8,105.7 661.0,106.2 661.3,105.7 661.5,106.1 661.7,106.4 661.9,106.6 662.1,105.5 662.4,105.9 662.6,105.8 662.8,106.6 663.0,105.8 663.3,106.4 663.5,106.0 663.7,105.6 663.9,106.2 664.1,105.7 664.4,106.4 664.6,106.5 664.8,106.7 665.0,105.8 665.3,106.7 665.5,106.5 665.7,105.5 665.9,107.0 666.1,106.8 666.4,105.8 666.6,106.3 666.8,105.7 667.0,106.1 667.3,106.2 667.5,106.4 667.7,105.9 667.9,106.2 668.2,105.8 668.4,106.3 668.6,106.4 668.8,106.2 669.0,106.6 669.3,106.5 669.5,106.3 669.7,106.6 669.9,105.7 670.2,106.2 670.4,105.5 670.6,106.2 670.8,106.0 671.0,106.5 671.3,106.0 671.5,106.0 671.7,106.2 671.9,106.2 672.2,106.4 672.4,105.9 672.6,105.7 672.8,105.6 673.0,106.6 673.3,105.7 673.5,106.0 673.7,105.8 673.9,106.5 674.2,106.0 674.4,106.7 674.6,106.0 674.8,106.3 675.0,106.5 675.3,106.6 675.5,105.8 675.7,106.1 675.9,106.2 676.2,105.6 676.4,106.5 676.6,106.4 676.8,106.4 677.0,105.7 677.3,106.3 677.5,106.4 677.7,106.6 677.9,106.1 678.2,106.5 678.4,107.0 678.6,106.1 678.8,106.1 679.0,106.1 679.3,105.7 679.5,106.1 679.7,106.9 679.9,105.9 680.2,106.2 680.4,106.7 680.6,106.5 680.8,106.3 681.0,106.1 681.3,106.2 681.5,106.3 681.7,106.5 681.9,106.3 682.2,106.6 682.4,105.6 682.6,106.6 682.8,106.1 683.0,106.3 683.3,106.1 683.5,106.5 683.7,106.2 683.9,106.5 684.2,106.0 684.4,106.4 684.6,106.7 684.8,106.7 685.0,106.2 685.3,106.3 685.5,106.2 685.7,106.3 685.9,106.3 686.2,106.7 686.4,106.5 686.6,106.8 686.8,106.9 687.0,105.8 687.3,106.4 687.5,106.1 687.7,105.7 687.9,105.9 688.2,106.1 688.4,106.9 688.6,106.3 688.8,106.2 689.0,106.3 689.3,106.0 689.5,106.4 689.7,106.3 689.9,105.7 690.2,106.1 690.4,107.5 690.6,106.6 690.8,106.3 691.1,106.6 691.3,106.0 691.5,106.4 691.7,106.7 691.9,105.8 692.2,106.1 692.4,106.2 692.6,106.2 692.8,106.2 693.1,106.4 693.3,106.7 693.5,106.5 693.7,106.7 693.9,106.7 694.2,106.1 694.4,106.5 694.6,106.2 694.8,106.6 695.1,106.2 695.3,106.3 695.5,107.0 695.7,106.3 695.9,105.8 696.2,106.4 696.4,106.5 696.6,106.2 696.8,106.4 697.1,106.7 697.3,106.2 697.5,106.3 697.7,106.1 697.9,106.5 698.2,106.3 698.4,106.1 698.6,106.3 698.8,107.0 699.1,105.8 699.3,105.9 699.5,106.5 699.7,105.9 699.9,107.1 700.2,105.9 700.4,105.9 700.6,106.2 700.8,106.8 701.1,106.7 701.3,106.6 701.5,106.5 701.7,106.9 701.9,105.8 702.2,106.5 702.4,106.9 702.6,106.0 702.8,106.5 703.1,106.8 703.3,106.9 703.5,106.4 703.7,107.1 703.9,106.6 704.2,106.8 704.4,106.0 704.6,106.2 704.8,106.2 705.1,107.1 705.3,105.6 705.5,105.8 705.7,106.7 705.9,106.5 706.2,105.4 706.4,106.3 706.6,106.3 706.8,106.9 707.1,105.8 707.3,106.3 707.5,106.8 707.7,106.7 707.9,106.1 708.2,106.3 708.4,105.9 708.6,106.9 708.8,106.3 709.1,106.9 709.3,106.7 709.5,106.1 709.7,106.4 709.9,106.7 710.2,106.6 710.4,107.0 710.6,106.9 710.8,106.6 711.1,106.7 711.3,106.2 711.5,106.3 711.7,106.7 711.9,106.6 712.2,106.1 712.4,106.5 712.6,106.2 712.8,106.3 713.1,106.9 713.3,106.2 713.5,106.3 713.7,106.7 714.0,106.5 714.2,106.5 714.4,106.0 714.6,106.5 714.8,106.4 715.1,106.2 715.3,106.3 715.5,106.4 715.7,106.8 716.0,107.2 716.2,106.5 716.4,107.0 716.6,106.5 716.8,106.0 717.1,106.5 717.3,107.0 717.5,107.0 717.7,106.2 718.0,107.3 718.2,106.3 718.4,106.3 718.6,106.3 718.8,107.0 719.1,106.7 719.3,106.8 719.5,105.8 719.7,106.5 720.0,106.5 720.2,106.8 720.4,106.4 720.6,107.0 720.8,106.3 721.1,106.1 721.3,106.0 721.5,107.0 721.7,106.8 722.0,106.3 722.2,106.9 722.4,106.5 722.6,106.5 722.8,106.0 723.1,106.4 723.3,106.6 723.5,106.6 723.7,106.4 724.0,106.9 724.2,107.1 724.4,106.3 724.6,106.7 724.8,106.0 725.1,106.7 725.3,106.2 725.5,106.5 725.7,106.6 726.0,106.5 726.2,106.9 726.4,106.3 726.6,106.4 726.8,106.7 727.1,106.6 727.3,106.7 727.5,106.5 727.7,106.3 728.0,106.8 728.2,106.6 728.4,106.9 728.6,107.1 728.8,106.5 729.1,106.3 729.3,106.4 729.5,106.4 729.7,105.9 730.0,107.2 730.2,106.7 730.4,107.4 730.6,106.4 730.8,106.8 731.1,106.7 731.3,106.6 731.5,107.0 731.7,106.6 732.0,106.6 732.2,106.7 732.4,105.9 732.6,106.4 732.8,106.4 733.1,107.2 733.3,106.8 733.5,106.9 733.7,106.8 734.0,106.6 734.2,107.2 734.4,106.6 734.6,106.2 734.8,106.9 735.1,107.0 735.3,106.7 735.5,106.8 735.7,107.0 736.0,107.2 736.2,106.8 736.4,107.2 736.6,106.7 736.9,107.4 737.1,106.2 737.3,107.0 737.5,106.8 737.7,106.7 738.0,106.2 738.2,107.0 738.4,106.6 738.6,106.3 738.9,106.5 739.1,106.6 739.3,106.7 739.5,106.4 739.7,106.4 740.0,106.8 740.2,106.6 740.4,107.3 740.6,106.5 740.9,106.9 741.1,107.3 741.3,106.6 741.5,107.0 741.7,106.8 742.0,106.7 742.2,107.2 742.4,106.4 742.6,106.5 742.9,106.1 743.1,106.7 743.3,107.0 743.5,106.6 743.7,107.0 744.0,106.4 744.2,107.1 744.4,106.7 744.6,106.5 744.9,107.3 745.1,106.7 745.3,106.9 745.5,106.7 745.7,106.9 746.0,106.8 746.2,106.3 746.4,106.8 746.6,106.9 746.9,106.8 747.1,106.6 747.3,107.3" fill="none" stroke="#ff3000" stroke-width="0.9" stroke-opacity="0.62" stroke-linejoin="round"/>
<path d="M103.9,327.5 104.0,333.5 104.1,339.4 104.2,345.3 104.3,351.4 104.4,357.9 104.5,364.3 104.6,370.7 104.7,377.1 104.8,383.9 105.0,390.8 105.1,397.8 105.2,404.8 105.3,411.8 105.4,419.1 105.5,426.4 105.6,433.1 105.7,441.6 105.8,449.7 105.9,458.6 106.0,467.4 106.1,476.1 106.2,485.0 106.3,494.0 106.4,502.2 106.5,510.3 106.6,517.3 106.7,524.3 106.9,529.9 107.0,536.9 107.1,542.6 107.2,548.7 107.3,553.5 107.4,556.1 107.5,557.4 107.6,557.5 107.7,556.9 107.8,555.8 107.9,554.1 108.0,552.3 108.1,549.7 108.2,547.7 108.3,546.0 108.4,542.9 108.5,540.5 108.6,537.3 108.8,535.3 108.9,532.2 109.0,530.5 109.1,528.7 109.2,526.0 109.3,523.9 109.4,521.6 109.5,520.0 109.6,517.0 109.7,515.2 109.8,514.6 109.9,510.4 110.0,508.6 110.1,505.9 110.2,505.3 110.3,502.1 110.4,499.2 110.5,496.9 110.7,496.4 110.8,493.8 110.9,491.7 111.0,488.8 111.1,487.3 111.2,485.5 111.3,482.7 111.4,478.7 111.5,476.1 111.6,474.4 111.7,473.8 111.8,470.1 111.9,468.4 112.0,467.4 112.1,464.6 112.2,462.2 112.3,462.5 112.4,460.2 112.6,458.7 112.7,457.1 112.8,456.0 112.9,452.8 113.0,451.0 113.1,447.7 113.2,447.9 113.3,446.0 113.4,446.5 113.5,444.7 113.6,444.3 113.7,442.6 113.8,441.4 113.9,439.3 114.0,437.5 114.1,435.5 114.2,434.6 114.3,432.1 114.5,432.5 114.6,430.5 114.7,426.4 114.8,424.0 114.9,425.3 115.0,424.2 115.1,423.0 115.2,423.8 115.3,419.5 115.4,417.0 115.5,418.0 115.6,417.4 115.7,416.9 115.8,411.3 115.9,411.0 116.0,409.2 116.1,410.7 116.2,407.9 116.3,405.3 116.5,405.0 116.6,401.7 116.7,400.4 116.8,399.2 116.9,396.9 117.0,395.9 117.1,395.5 117.2,393.8 117.3,394.6 117.4,392.1 117.5,389.0 117.6,383.8 117.7,383.7 117.8,384.1 117.9,383.0 118.0,379.9 118.1,380.4 118.2,380.0 118.4,377.3 118.5,377.0 118.6,375.9 118.7,373.4 118.8,371.9 118.9,372.1 119.0,371.7 119.1,367.8 119.2,364.6 119.3,365.6 119.4,367.4 119.5,361.8 119.6,366.0 119.7,361.6 119.8,362.0 119.9,358.9 120.0,360.7 120.1,358.4 120.3,358.0 120.4,351.9 120.5,356.6 120.6,350.2 120.7,352.2 120.8,353.0 120.9,350.4 121.0,350.9 121.1,349.2 121.2,348.0 121.3,344.9 121.4,348.2 121.5,347.5 121.6,342.7 121.7,340.9 121.8,342.6 121.9,339.4 122.0,340.7 122.2,341.5 122.3,340.3 122.4,341.5 122.5,338.2 122.6,333.6 122.7,333.3 122.8,336.0 122.9,338.8 123.0,332.3 123.1,330.1 123.2,335.3 123.3,330.6 123.4,332.0 123.5,332.3 123.6,326.2 123.7,327.1 123.8,325.8 123.9,328.0 124.1,327.6 124.2,323.8 124.3,325.9 124.4,318.8 124.5,323.9 124.6,323.1 124.7,321.4 124.8,316.6 124.9,319.5 125.0,316.0 125.2,321.3 125.4,314.5 125.7,312.8 125.9,311.1 126.1,311.0 126.3,307.7 126.6,307.1 126.8,300.8 127.0,304.8 127.2,298.1 127.4,300.0 127.7,296.5 127.9,297.2 128.1,291.9 128.3,285.9 128.6,285.2 128.8,286.4 129.0,289.8 129.2,282.6 129.4,282.6 129.7,284.9 129.9,277.6 130.1,278.9 130.3,277.4 130.6,273.1 130.8,274.4 131.0,275.7 131.2,274.4 131.4,268.5 131.7,277.9 131.9,268.1 132.1,264.7 132.3,261.9 132.6,259.7 132.8,264.5 133.0,250.6 133.2,258.8 133.4,253.3 133.7,256.3 133.9,255.6 134.1,249.9 134.3,249.9 134.6,256.7 134.8,249.1 135.0,249.9 135.2,247.6 135.4,250.5 135.7,250.7 135.9,248.5 136.1,246.0 136.3,244.8 136.6,237.2 136.8,245.2 137.0,237.1 137.2,234.7 137.5,235.4 137.7,232.6 137.9,236.0 138.1,235.9 138.3,236.8 138.6,230.3 138.8,227.1 139.0,227.1 139.2,222.4 139.5,222.9 139.7,232.4 139.9,220.3 140.1,220.4 140.3,223.6 140.6,221.0 140.8,222.0 141.0,214.5 141.2,212.8 141.5,221.4 141.7,212.5 141.9,214.0 142.1,214.4 142.3,205.4 142.6,211.2 142.8,208.6 143.0,212.6 143.2,208.5 143.5,199.9 143.7,211.5 143.9,197.2 144.1,205.2 144.3,203.4 144.6,203.1 144.8,204.9 145.0,208.2 145.2,200.1 145.5,200.5 145.7,205.5 145.9,203.9 146.1,204.2 146.3,202.0 146.6,199.0 146.8,197.4 147.0,196.9 147.2,202.0 147.5,203.9 147.7,205.4 147.9,192.2 148.1,194.9 148.3,195.4 148.6,194.1 148.8,189.4 149.0,202.7 149.2,199.3 149.5,191.7 149.7,189.9 149.9,191.2 150.1,185.5 150.3,188.7 150.6,192.8 150.8,196.1 151.0,192.3 151.2,193.5 151.5,182.9 151.7,173.1 151.9,192.4 152.1,186.8 152.3,185.2 152.6,192.4 152.8,180.6 153.0,180.2 153.2,180.8 153.5,190.7 153.7,187.5 153.9,175.3 154.1,190.0 154.3,182.6 154.6,184.2 154.8,178.7 155.0,190.1 155.2,183.5 155.5,187.1 155.7,176.7 155.9,183.9 156.1,181.0 156.3,179.4 156.6,176.5 156.8,176.8 157.0,174.5 157.2,176.5 157.5,179.2 157.7,181.7 157.9,171.9 158.1,174.0 158.3,175.7 158.6,170.9 158.8,176.9 159.0,176.8 159.2,177.0 159.5,179.6 159.7,181.9 159.9,181.1 160.1,178.6 160.4,179.9 160.6,173.5 160.8,172.8 161.0,179.9 161.2,179.5 161.5,186.9 161.7,175.8 161.9,172.3 162.1,178.2 162.4,174.8 162.6,172.8 162.8,183.1 163.0,185.7 163.2,178.6 163.5,173.9 163.7,178.1 163.9,176.7 164.1,170.7 164.4,180.9 164.6,178.7 164.8,182.9 165.0,174.7 165.2,177.3 165.5,176.9 165.7,169.6 165.9,189.0 166.1,168.1 166.4,172.5 166.6,176.2 166.8,170.8 167.0,179.9 167.2,176.0 167.5,178.5 167.7,179.4 167.9,178.7 168.1,178.9 168.4,177.9 168.6,180.7 168.8,182.5 169.0,177.7 169.2,177.0 169.5,177.3 169.7,180.6 169.9,177.7 170.1,177.7 170.4,172.7 170.6,188.5 170.8,174.2 171.0,187.7 171.2,183.8 171.5,185.0 171.7,181.7 171.9,182.9 172.1,182.2 172.4,183.8 172.6,185.1 172.8,188.4 173.0,177.1 173.2,184.1 173.5,189.5 173.7,188.7 173.9,177.8 174.1,184.2 174.4,184.3 174.6,184.3 174.8,173.0 175.0,187.6 175.2,176.5 175.5,194.2 175.7,187.4 175.9,184.1 176.1,187.7 176.4,185.7 176.6,182.8 176.8,185.0 177.0,187.3 177.2,182.2 177.5,189.4 177.7,191.4 177.9,191.4 178.1,192.1 178.4,192.9 178.6,190.3 178.8,193.3 179.0,187.7 179.2,189.5 179.5,194.3 179.7,196.9 179.9,186.5 180.1,181.5 180.4,198.4 180.6,194.0 180.8,197.3 181.0,193.2 181.2,190.3 181.5,186.4 181.7,185.0 181.9,196.4 182.1,194.4 182.4,191.5 182.6,185.0 182.8,187.9 183.0,187.6 183.3,189.3 183.5,177.4 183.7,192.1 183.9,198.5 184.1,188.8 184.4,191.7 184.6,193.0 184.8,187.2 185.0,194.1 185.3,188.5 185.5,190.4 185.7,193.8 185.9,192.5 186.1,193.4 186.4,188.9 186.6,196.7 186.8,188.5 187.0,197.7 187.3,191.7 187.5,188.6 187.7,193.9 187.9,189.6 188.1,192.2 188.4,194.2 188.6,198.8 188.8,199.1 189.0,197.8 189.3,194.4 189.5,188.8 189.7,195.1 189.9,194.9 190.1,195.9 190.4,194.3 190.6,194.5 190.8,200.9 191.0,191.1 191.3,197.6 191.5,203.6 191.7,194.3 191.9,193.4 192.1,197.2 192.4,196.8 192.6,199.8 192.8,205.1 193.0,198.3 193.3,201.7 193.5,196.5 193.7,197.1 193.9,200.9 194.1,196.6 194.4,205.5 194.6,198.1 194.8,199.4 195.0,195.5 195.3,198.5 195.5,196.0 195.7,198.5 195.9,192.7 196.1,201.1 196.4,209.5 196.6,192.6 196.8,209.8 197.0,201.2 197.3,206.1 197.5,197.3 197.7,211.7 197.9,197.3 198.1,202.1 198.4,209.9 198.6,196.7 198.8,191.9 199.0,202.7 199.3,199.5 199.5,198.7 199.7,199.1 199.9,196.6 200.1,210.3 200.4,209.5 200.6,197.5 200.8,203.5 201.0,201.9 201.3,209.4 201.5,200.4 201.7,212.1 201.9,204.6 202.1,200.9 202.4,204.3 202.6,202.1 202.8,215.6 203.0,205.7 203.3,202.8 203.5,205.7 203.7,212.3 203.9,200.9 204.1,197.5 204.4,211.9 204.6,208.6 204.8,203.7 205.0,205.6 205.3,211.3 205.5,193.2 205.7,212.3 205.9,205.5 206.2,209.7 206.4,206.3 206.6,221.3 206.8,203.8 207.0,212.1 207.3,194.5 207.5,207.2 207.7,210.9 207.9,199.8 208.2,197.6 208.4,207.8 208.6,212.3 208.8,213.2 209.0,204.3 209.3,209.3 209.5,201.0 209.7,216.2 209.9,205.2 210.2,214.1 210.4,206.8 210.6,206.5 210.8,215.9 211.0,204.1 211.3,214.5 211.5,206.7 211.7,204.2 211.9,204.5 212.2,213.9 212.4,208.2 212.6,206.9 212.8,201.4 213.0,214.3 213.3,213.7 213.5,210.3 213.7,212.5 213.9,193.2 214.2,206.2 214.4,209.6 214.6,209.3 214.8,206.1 215.0,209.9 215.3,205.3 215.5,205.7 215.7,202.9 215.9,209.4 216.2,205.4 216.4,206.4 216.6,215.2 216.8,208.5 217.0,208.5 217.3,201.5 217.5,206.2 217.7,213.1 217.9,211.0 218.2,208.7 218.4,207.6 218.6,208.7 218.8,210.1 219.0,206.8 219.3,197.0 219.5,217.0 219.7,213.2 219.9,207.4 220.2,214.3 220.4,202.2 220.6,213.6 220.8,208.7 221.0,211.6 221.3,206.2 221.5,208.3 221.7,210.1 221.9,212.0 222.2,209.6 222.4,209.2 222.6,204.7 222.8,214.5 223.0,208.0 223.3,206.0 223.5,205.5 223.7,201.7 223.9,203.5 224.2,200.1 224.4,207.1 224.6,205.8 224.8,206.9 225.0,200.7 225.3,203.9 225.5,202.9 225.7,209.3 225.9,199.1 226.2,198.8 226.4,209.9 226.6,206.0 226.8,198.1 227.0,209.5 227.3,209.8 227.5,208.2 227.7,195.5 227.9,203.8 228.2,199.8 228.4,201.9 228.6,196.7 228.8,209.2 229.1,199.7 229.3,203.2 229.5,204.9 229.7,204.0 229.9,203.0 230.2,199.8 230.4,201.8 230.6,200.0 230.8,192.2 231.1,204.0 231.3,197.7 231.5,197.9 231.7,198.0 231.9,194.3 232.2,194.7 232.4,192.3 232.6,200.2 232.8,202.4 233.1,198.2 233.3,193.7 233.5,201.9 233.7,196.0 233.9,191.4 234.2,190.1 234.4,196.9 234.6,200.9 234.8,194.4 235.1,193.3 235.3,194.2 235.5,192.0 235.7,192.7 235.9,194.9 236.2,191.4 236.4,196.5 236.6,190.0 236.8,195.1 237.1,193.6 237.3,190.9 237.5,190.9 237.7,190.5 237.9,196.4 238.2,188.3 238.4,194.1 238.6,193.2 238.8,188.8 239.1,194.3 239.3,182.0 239.5,189.5 239.7,188.8 239.9,188.1 240.2,190.1 240.4,186.2 240.6,186.4 240.8,189.9 241.1,185.9 241.3,182.9 241.5,187.0 241.7,184.8 241.9,183.1 242.2,185.8 242.4,181.8 242.6,180.9 242.8,182.4 243.1,182.2 243.3,182.5 243.5,178.8 243.7,186.1 243.9,183.0 244.2,181.2 244.4,181.1 244.6,173.8 244.8,182.1 245.1,176.9 245.3,180.3 245.5,175.8 245.7,180.8 245.9,176.7 246.2,177.2 246.4,181.1 246.6,179.5 246.8,173.3 247.1,174.7 247.3,176.5 247.5,175.1 247.7,177.3 247.9,173.4 248.2,170.2 248.4,172.2 248.6,173.6 248.8,175.0 249.1,175.2 249.3,176.1 249.5,173.3 249.7,172.0 249.9,173.9 250.2,171.6 250.4,170.4 250.6,170.1 250.8,173.0 251.1,174.0 251.3,173.3 251.5,166.2 251.7,172.1 252.0,166.7 252.2,168.2 252.4,170.0 252.6,165.3 252.8,165.2 253.1,166.0 253.3,171.2 253.5,169.5 253.7,164.7 254.0,166.7 254.2,166.4 254.4,166.5 254.6,163.9 254.8,168.3 255.1,164.0 255.3,166.3 255.5,160.5 255.7,164.7 256.0,163.8 256.2,166.1 256.4,157.2 256.6,163.7 256.8,163.9 257.1,161.3 257.3,164.3 257.5,165.6 257.7,162.7 258.0,162.2 258.2,162.9 258.4,160.7 258.6,162.0 258.8,160.3 259.1,157.3 259.3,156.2 259.5,160.5 259.7,158.9 260.0,156.0 260.2,157.1 260.4,159.7 260.6,152.9 260.8,154.2 261.1,157.1 261.3,157.0 261.5,152.7 261.7,152.7 262.0,154.7 262.2,156.9 262.4,153.8 262.6,148.9 262.8,155.2 263.1,152.9 263.3,151.7 263.5,150.1 263.7,154.4 264.0,152.3 264.2,152.3 264.4,151.9 264.6,151.8 264.8,152.3 265.1,153.8 265.3,148.2 265.5,149.8 265.7,148.8 266.0,152.6 266.2,148.6 266.4,145.9 266.6,148.6 266.8,147.1 267.1,146.8 267.3,147.1 267.5,145.3 267.7,143.8 268.0,150.9 268.2,146.8 268.4,145.0 268.6,147.7 268.8,148.8 269.1,142.8 269.3,145.1 269.5,146.2 269.7,143.9 270.0,146.1 270.2,142.7 270.4,143.6 270.6,144.4 270.8,145.2 271.1,144.3 271.3,142.7 271.5,143.1 271.7,139.7 272.0,147.3 272.2,142.4 272.4,142.5 272.6,143.3 272.8,143.7 273.1,143.1 273.3,141.0 273.5,139.0 273.7,141.6 274.0,140.2 274.2,140.5 274.4,141.3 274.6,141.6 274.9,143.3 275.1,140.5 275.3,137.5 275.5,141.5 275.7,142.0 276.0,137.2 276.2,141.1 276.4,140.1 276.6,138.7 276.9,139.8 277.1,140.0 277.3,140.2 277.5,141.1 277.7,138.8 278.0,138.7 278.2,142.9 278.4,136.5 278.6,137.8 278.9,137.5 279.1,139.3 279.3,139.8 279.5,135.3 279.7,139.7 280.0,135.3 280.2,141.8 280.4,135.9 280.6,138.9 280.9,136.3 281.1,137.9 281.3,135.2 281.5,136.6 281.7,136.3 282.0,136.3 282.2,137.4 282.4,135.1 282.6,135.1 282.9,133.3 283.1,135.2 283.3,134.5 283.5,136.7 283.7,136.2 284.0,133.7 284.2,135.6 284.4,137.0 284.6,134.2 284.9,132.4 285.1,138.6 285.3,135.2 285.5,135.3 285.7,138.3 286.0,132.5 286.2,134.3 286.4,130.4 286.6,134.4 286.9,134.1 287.1,131.9 287.3,131.7 287.5,132.8 287.7,132.6 288.0,135.6 288.2,132.3 288.4,132.4 288.6,132.2 288.9,129.7 289.1,131.5 289.3,129.9 289.5,132.3 289.7,128.3 290.0,130.0 290.2,132.3 290.4,128.2 290.6,129.0 290.9,133.2 291.1,129.2 291.3,131.3 291.5,131.8 291.7,129.4 292.0,128.2 292.2,133.5 292.4,129.9 292.6,131.6 292.9,129.4 293.1,131.2 293.3,128.3 293.5,128.1 293.7,128.6 294.0,129.2 294.2,129.1 294.4,129.5 294.6,130.7 294.9,129.0 295.1,131.4 295.3,128.7 295.5,130.8 295.7,131.8 296.0,132.4 296.2,126.2 296.4,132.2 296.6,126.5 296.9,131.6 297.1,129.2 297.3,129.7 297.5,127.5 297.7,130.5 298.0,130.1 298.2,128.0 298.4,127.8 298.6,130.2 298.9,130.4 299.1,129.9 299.3,128.0 299.5,128.6 299.8,130.0 300.0,129.8 300.2,130.2 300.4,128.6 300.6,127.2 300.9,128.7 301.1,128.9 301.3,127.3 301.5,128.8 301.8,126.8 302.0,128.4 302.2,127.0 302.4,131.3 302.6,129.8 302.9,128.3 303.1,125.7 303.3,125.8 303.5,128.8 303.8,127.4 304.0,128.1 304.2,125.1 304.4,125.1 304.6,127.6 304.9,127.1 305.1,125.3 305.3,126.0 305.5,128.4 305.8,126.5 306.0,128.0 306.2,129.6 306.4,127.5 306.6,127.1 306.9,125.9 307.1,128.6 307.3,124.5 307.5,124.9 307.8,126.5 308.0,124.2 308.2,127.9 308.4,125.3 308.6,127.0 308.9,125.6 309.1,125.6 309.3,126.0 309.5,122.9 309.8,124.1 310.0,124.9 310.2,128.9 310.4,126.7 310.6,126.4 310.9,123.7 311.1,126.5 311.3,126.9 311.5,126.1 311.8,128.8 312.0,122.8 312.2,123.1 312.4,124.2 312.6,123.0 312.9,124.4 313.1,125.0 313.3,124.1 313.5,124.2 313.8,124.6 314.0,125.0 314.2,122.8 314.4,122.7 314.6,125.3 314.9,123.0 315.1,122.2 315.3,123.7 315.5,122.7 315.8,123.3 316.0,123.0 316.2,123.9 316.4,124.2 316.6,121.6 316.9,121.0 317.1,124.9 317.3,121.6 317.5,120.3 317.8,119.7 318.0,122.3 318.2,121.3 318.4,119.6 318.6,120.8 318.9,120.5 319.1,123.4 319.3,122.2 319.5,121.8 319.8,119.9 320.0,121.4 320.2,122.5 320.4,121.7 320.6,122.9 320.9,121.4 321.1,122.2 321.3,121.8 321.5,120.3 321.8,122.9 322.0,121.5 322.2,122.0 322.4,119.4 322.7,119.3 322.9,120.4 323.1,119.5 323.3,121.4 323.5,121.0 323.8,122.1 324.0,121.1 324.2,118.7 324.4,121.5 324.7,119.2 324.9,119.1 325.1,120.1 325.3,119.9 325.5,121.3 325.8,123.6 326.0,120.3 326.2,121.6 326.4,119.3 326.7,120.0 326.9,118.8 327.1,118.8 327.3,121.1 327.5,119.9 327.8,119.8 328.0,118.1 328.2,121.3 328.4,118.8 328.7,118.1 328.9,118.9 329.1,119.7 329.3,119.8 329.5,120.6 329.8,117.3 330.0,118.1 330.2,120.6 330.4,121.4 330.7,117.6 330.9,118.3 331.1,116.3 331.3,117.2 331.5,117.1 331.8,118.0 332.0,116.6 332.2,119.2 332.4,117.9 332.7,117.6 332.9,119.1 333.1,117.5 333.3,116.2 333.5,117.8 333.8,120.4 334.0,117.8 334.2,118.3 334.4,117.3 334.7,117.2 334.9,118.1 335.1,114.1 335.3,115.8 335.5,116.6 335.8,116.9 336.0,119.0 336.2,120.2 336.4,117.9 336.7,117.5 336.9,117.8 337.1,118.8 337.3,115.7 337.5,116.3 337.8,117.0 338.0,117.1 338.2,114.4 338.4,117.2 338.7,114.7 338.9,117.5 339.1,117.6 339.3,113.8 339.5,117.1 339.8,116.6 340.0,115.6 340.2,117.5 340.4,118.7 340.7,116.8 340.9,114.9 341.1,114.4 341.3,114.7 341.5,114.8 341.8,117.3 342.0,116.3 342.2,115.9 342.4,116.9 342.7,115.9 342.9,115.8 343.1,114.8 343.3,115.0 343.5,115.7 343.8,114.3 344.0,117.5 344.2,115.7 344.4,114.9 344.7,116.6 344.9,114.2 345.1,116.6 345.3,115.4 345.6,117.4 345.8,114.6 346.0,114.7 346.2,114.2 346.4,113.7 346.7,115.3 346.9,113.8 347.1,115.3 347.3,114.2 347.6,116.1 347.8,112.0 348.0,115.3 348.2,114.8 348.4,114.7 348.7,114.0 348.9,116.6 349.1,114.2 349.3,115.0 349.6,114.2 349.8,114.1 350.0,114.5 350.2,115.1 350.4,113.1 350.7,113.8 350.9,112.7 351.1,114.7 351.3,113.3 351.6,113.4 351.8,114.8 352.0,114.1 352.2,114.5 352.4,113.8 352.7,114.4 352.9,114.0 353.1,112.7 353.3,114.1 353.6,113.4 353.8,113.5 354.0,114.0 354.2,113.1 354.4,112.5 354.7,114.9 354.9,115.5 355.1,113.2 355.3,114.7 355.6,113.9 355.8,112.8 356.0,112.5 356.2,113.1 356.4,112.9 356.7,112.9 356.9,113.1 357.1,112.0 357.3,114.0 357.6,112.0 357.8,112.0 358.0,114.0 358.2,113.8 358.4,114.4 358.7,113.1 358.9,112.2 359.1,114.0 359.3,112.7 359.6,112.7 359.8,111.9 360.0,113.1 360.2,110.3 360.4,113.2 360.7,110.6 360.9,113.4 361.1,111.0 361.3,113.2 361.6,114.9 361.8,112.2 362.0,111.3 362.2,114.3 362.4,111.9 362.7,111.2 362.9,113.5 363.1,109.5 363.3,110.8 363.6,110.9 363.8,111.4 364.0,110.1 364.2,112.8 364.4,113.0 364.7,111.9 364.9,111.6 365.1,110.4 365.3,112.3 365.6,111.2 365.8,112.4 366.0,112.7 366.2,111.8 366.4,109.7 366.7,110.8 366.9,112.9 367.1,111.9 367.3,112.9 367.6,109.5 367.8,111.4 368.0,111.3 368.2,110.0 368.5,110.8 368.7,112.3 368.9,111.8 369.1,110.8 369.3,111.6 369.6,112.3 369.8,110.2 370.0,111.5 370.2,112.1 370.5,110.5 370.7,112.3 370.9,111.0 371.1,112.0 371.3,111.8 371.6,111.2 371.8,110.7 372.0,110.3 372.2,111.0 372.5,111.0 372.7,112.0 372.9,110.7 373.1,111.0 373.3,112.2 373.6,111.0 373.8,111.0 374.0,112.0 374.2,110.7 374.5,110.9 374.7,111.2 374.9,110.4 375.1,109.5 375.3,109.2 375.6,110.2 375.8,111.3 376.0,111.2 376.2,111.7 376.5,111.0 376.7,109.7 376.9,109.0 377.1,109.7 377.3,109.9 377.6,109.5 377.8,110.9 378.0,109.4 378.2,110.5 378.5,110.7 378.7,108.5 378.9,109.6 379.1,111.0 379.3,110.6 379.6,110.0 379.8,108.9 380.0,109.2 380.2,109.8 380.5,110.8 380.7,110.1 380.9,109.6 381.1,109.9 381.3,110.3 381.6,108.2 381.8,108.8 382.0,109.6 382.2,110.5 382.5,110.4 382.7,108.8 382.9,109.5 383.1,108.8 383.3,109.1 383.6,109.5 383.8,109.1 384.0,108.9 384.2,108.4 384.5,108.0 384.7,109.1 384.9,109.4 385.1,109.7 385.3,108.5 385.6,108.6 385.8,110.1 386.0,109.4 386.2,109.8 386.5,108.6 386.7,108.5 386.9,108.1 387.1,109.8 387.3,108.1 387.6,107.6 387.8,108.4 388.0,109.9 388.2,108.9 388.5,109.1 388.7,109.0 388.9,108.8 389.1,108.7 389.3,107.7 389.6,110.0 389.8,108.6 390.0,109.7 390.2,107.5 390.5,109.1 390.7,107.8 390.9,107.7 391.1,108.8 391.4,109.4 391.6,109.6 391.8,109.6 392.0,108.4 392.2,109.1 392.5,108.1 392.7,108.1 392.9,108.7 393.1,108.4 393.4,109.1 393.6,107.1 393.8,109.3 394.0,108.0 394.2,109.5 394.5,109.2 394.7,107.5 394.9,108.3 395.1,108.8 395.4,107.7 395.6,107.8 395.8,108.1 396.0,108.8 396.2,108.9 396.5,107.9 396.7,108.8 396.9,109.2 397.1,108.8 397.4,107.6 397.6,107.5 397.8,108.3 398.0,108.7 398.2,108.4 398.5,107.8 398.7,107.4 398.9,108.9 399.1,107.9 399.4,109.3 399.6,107.2 399.8,107.8 400.0,107.5 400.2,109.2 400.5,108.8 400.7,107.6 400.9,106.6 401.1,108.7 401.4,108.0 401.6,107.1 401.8,106.8 402.0,108.1 402.2,107.7 402.5,107.9 402.7,108.1 402.9,107.5 403.1,107.6 403.4,108.2 403.6,107.7 403.8,107.5 404.0,108.1 404.2,106.4 404.5,108.5 404.7,108.0 404.9,107.2 405.1,107.5 405.4,108.4 405.6,108.0 405.8,106.5 406.0,106.9 406.2,107.7 406.5,108.7 406.7,108.0 406.9,107.4 407.1,107.9 407.4,107.5 407.6,107.3 407.8,107.7 408.0,106.1 408.2,108.1 408.5,107.8 408.7,107.2 408.9,106.9 409.1,106.7 409.4,107.6 409.6,107.5 409.8,107.5 410.0,108.4 410.2,106.0 410.5,106.9 410.7,106.9 410.9,107.9 411.1,107.2 411.4,106.7 411.6,107.4 411.8,107.5 412.0,108.2 412.2,107.4 412.5,107.0 412.7,106.9 412.9,106.7 413.1,107.5 413.4,107.7 413.6,107.0 413.8,107.1 414.0,108.0 414.3,107.2 414.5,107.4 414.7,106.5 414.9,106.8 415.1,105.9 415.4,106.3 415.6,107.3 415.8,107.8 416.0,106.9 416.3,106.4 416.5,107.1 416.7,107.7 416.9,106.9 417.1,107.5 417.4,106.9 417.6,106.3 417.8,106.4 418.0,106.8 418.3,108.2 418.5,107.2 418.7,106.8 418.9,107.1 419.1,107.0 419.4,106.6 419.6,106.8 419.8,106.7 420.0,107.2 420.3,107.7 420.5,107.5 420.7,106.6 420.9,107.1 421.1,106.4 421.4,106.2 421.6,106.8 421.8,107.1 422.0,106.7 422.3,107.2 422.5,107.1 422.7,107.1 422.9,106.6 423.1,105.9 423.4,107.6 423.6,106.4 423.8,107.0 424.0,106.9 424.3,106.4 424.5,107.6 424.7,106.9 424.9,106.6 425.1,106.3 425.4,106.0 425.6,105.8 425.8,106.8 426.0,106.3 426.3,106.2 426.5,106.7 426.7,106.3 426.9,106.8 427.1,106.1 427.4,106.1 427.6,106.9 427.8,106.0 428.0,106.7 428.3,106.6 428.5,106.4 428.7,105.5 428.9,105.6 429.1,105.7 429.4,105.6 429.6,106.8 429.8,105.8 430.0,105.6 430.3,106.0 430.5,106.2 430.7,105.4 430.9,106.5 431.1,106.6 431.4,105.9 431.6,106.6 431.8,105.4 432.0,105.9 432.3,106.1 432.5,106.2 432.7,106.7 432.9,106.0 433.1,105.6 433.4,106.2 433.6,106.2 433.8,106.3 434.0,105.9 434.3,106.2 434.5,105.8 434.7,106.4 434.9,105.7 435.1,105.7 435.4,106.6 435.6,105.6 435.8,106.0 436.0,106.3 436.3,105.8 436.5,106.5 436.7,105.7 436.9,106.5 437.2,105.2 437.4,105.3 437.6,106.0 437.8,106.7 438.0,106.8 438.3,105.5 438.5,105.9 438.7,105.7 438.9,104.8 439.2,106.3 439.4,105.7 439.6,106.6 439.8,106.1 440.0,105.6 440.3,105.6 440.5,105.8 440.7,106.1 440.9,105.6 441.2,107.3 441.4,106.0 441.6,105.3 441.8,105.9 442.0,106.5 442.3,106.1 442.5,105.7 442.7,105.5 442.9,105.5 443.2,105.3 443.4,105.6 443.6,106.0 443.8,105.6 444.0,106.7 444.3,106.0 444.5,105.6 444.7,105.8 444.9,106.6 445.2,105.0 445.4,106.0 445.6,107.2 445.8,106.3 446.0,105.4 446.3,105.9 446.5,105.7 446.7,107.2 446.9,105.5 447.2,105.7 447.4,105.6 447.6,105.1 447.8,104.1 448.0,105.7 448.3,106.1 448.5,105.6 448.7,106.0 448.9,106.2 449.2,106.1 449.4,104.9 449.6,106.5 449.8,106.2 450.0,106.2 450.3,105.8 450.5,105.8 450.7,105.5 450.9,106.0 451.2,106.2 451.4,105.5 451.6,106.2 451.8,105.5 452.0,106.0 452.3,105.7 452.5,106.2 452.7,106.7 452.9,105.8 453.2,105.5 453.4,105.5 453.6,106.0 453.8,105.5 454.0,106.2 454.3,105.9 454.5,106.2 454.7,105.4 454.9,105.2 455.2,105.3 455.4,105.9 455.6,105.3 455.8,106.1 456.0,104.7 456.3,105.4 456.5,105.6 456.7,104.8 456.9,105.4 457.2,105.0 457.4,105.7 457.6,105.6 457.8,106.1 458.0,105.3 458.3,104.9 458.5,105.4 458.7,105.8 458.9,105.7 459.2,105.8 459.4,106.3 459.6,105.5 459.8,105.6 460.1,105.3 460.3,105.4 460.5,106.2 460.7,105.9 460.9,104.4 461.2,106.3 461.4,104.7 461.6,105.5 461.8,106.2 462.1,105.8 462.3,106.0 462.5,106.1 462.7,105.8 462.9,105.1 463.2,105.9 463.4,105.3 463.6,104.5 463.8,105.5 464.1,106.0 464.3,105.7 464.5,105.7 464.7,106.5 464.9,105.8 465.2,106.1 465.4,105.8 465.6,106.5 465.8,105.5 466.1,106.3 466.3,106.6 466.5,105.5 466.7,106.2 466.9,105.0 467.2,105.9 467.4,106.1 467.6,105.3 467.8,104.8 468.1,105.7 468.3,105.5 468.5,105.8 468.7,105.8 468.9,106.1 469.2,106.5 469.4,105.9 469.6,105.0 469.8,106.0 470.1,105.9 470.3,105.8 470.5,106.5 470.7,105.8 470.9,105.6 471.2,105.9 471.4,105.0 471.6,106.2 471.8,105.8 472.1,106.5 472.3,106.1 472.5,105.9 472.7,105.8 472.9,105.2 473.2,105.7 473.4,105.9 473.6,106.2 473.8,106.0 474.1,106.1 474.3,106.1 474.5,105.5 474.7,105.9 474.9,105.6 475.2,105.2 475.4,105.0 475.6,106.2 475.8,106.4 476.1,106.4 476.3,105.4 476.5,106.5 476.7,106.5 476.9,105.4 477.2,106.0 477.4,106.6 477.6,105.8 477.8,106.3 478.1,105.5 478.3,105.6 478.5,106.2 478.7,105.7 478.9,105.8 479.2,105.8 479.4,105.3 479.6,106.5 479.8,105.7 480.1,105.6 480.3,105.6 480.5,105.8 480.7,105.4 480.9,106.2 481.2,105.6 481.4,106.2 481.6,105.4 481.8,105.3 482.1,105.4 482.3,105.9 482.5,105.2 482.7,106.2 483.0,105.6 483.2,106.2 483.4,105.6 483.6,106.2 483.8,105.3 484.1,105.3 484.3,106.1 484.5,105.6 484.7,106.3 485.0,105.5 485.2,106.1 485.4,105.4 485.6,105.0 485.8,106.5 486.1,105.7 486.3,106.3 486.5,105.9 486.7,105.0 487.0,106.0 487.2,106.3 487.4,106.4 487.6,106.6 487.8,106.0 488.1,105.8 488.3,105.9 488.5,105.3 488.7,106.2 489.0,106.2 489.2,106.0 489.4,105.5 489.6,106.1 489.8,105.6 490.1,106.4 490.3,105.6 490.5,105.6 490.7,105.7 491.0,105.4 491.2,105.4 491.4,105.7 491.6,104.7 491.8,106.8 492.1,106.0 492.3,106.0 492.5,105.4 492.7,105.9 493.0,105.8 493.2,105.9 493.4,105.2 493.6,105.8 493.8,105.0 494.1,105.8 494.3,105.5 494.5,105.6 494.7,105.7 495.0,106.2 495.2,106.4 495.4,105.9 495.6,105.4 495.8,106.5 496.1,105.2 496.3,105.6 496.5,105.8 496.7,105.5 497.0,106.5 497.2,106.1 497.4,106.4 497.6,105.7 497.8,106.3 498.1,105.8 498.3,105.8 498.5,106.0 498.7,106.1 499.0,106.1 499.2,105.8 499.4,105.2 499.6,105.7 499.8,104.7 500.1,105.8 500.3,105.5 500.5,106.3 500.7,104.7 501.0,106.8 501.2,105.7 501.4,105.2 501.6,106.1 501.8,106.1 502.1,106.1 502.3,106.9 502.5,105.5 502.7,106.0 503.0,106.0 503.2,105.6 503.4,106.0 503.6,106.5 503.8,105.5 504.1,106.1 504.3,106.4 504.5,106.2 504.7,105.2 505.0,106.0 505.2,105.7 505.4,106.5 505.6,105.9 505.9,106.8 506.1,105.4 506.3,106.1 506.5,105.5 506.7,106.7 507.0,106.6 507.2,105.5 507.4,106.3 507.6,105.9 507.9,105.2 508.1,105.5 508.3,106.0 508.5,106.2 508.7,105.8 509.0,106.1 509.2,106.1 509.4,106.1 509.6,105.4 509.9,106.0 510.1,106.2 510.3,105.3 510.5,106.6 510.7,106.6 511.0,106.0 511.2,106.9 511.4,105.6 511.6,105.5 511.9,105.7 512.1,105.6 512.3,106.8 512.5,106.0 512.7,105.9 513.0,106.1 513.2,106.7 513.4,106.0 513.6,105.8 513.9,106.1 514.1,106.5 514.3,105.9 514.5,106.6 514.7,106.1 515.0,105.9 515.2,106.2 515.4,106.8 515.6,105.9 515.9,106.6 516.1,106.2 516.3,106.0 516.5,106.0 516.7,106.3 517.0,106.2 517.2,106.1 517.4,106.3 517.6,105.6 517.9,105.7 518.1,105.6 518.3,105.8 518.5,105.9 518.7,105.8 519.0,106.2 519.2,105.6 519.4,105.9 519.6,106.4 519.9,106.7 520.1,106.0 520.3,106.5 520.5,106.6 520.7,105.6 521.0,106.1 521.2,105.6 521.4,105.8 521.6,106.2 521.9,105.5 522.1,106.2 522.3,105.9 522.5,105.9 522.7,106.2 523.0,105.7 523.2,105.3 523.4,106.0 523.6,105.7 523.9,105.9 524.1,105.5 524.3,105.6 524.5,105.6 524.7,105.5 525.0,105.7 525.2,105.7 525.4,106.0 525.6,107.3 525.9,105.7 526.1,105.3 526.3,106.2 526.5,105.5 526.7,105.6 527.0,105.9 527.2,106.0 527.4,106.0 527.6,106.1 527.9,105.9 528.1,106.5 528.3,106.3 528.5,105.8 528.8,105.9 529.0,105.4 529.2,106.3 529.4,105.9 529.6,106.8 529.9,105.7 530.1,106.6 530.3,105.6 530.5,105.3 530.8,105.6 531.0,106.1 531.2,106.4 531.4,105.6 531.6,106.4 531.9,105.8 532.1,105.8 532.3,105.9 532.5,106.7 532.8,106.1 533.0,106.1 533.2,105.4 533.4,106.1 533.6,106.1 533.9,106.7 534.1,105.6 534.3,105.7 534.5,105.6 534.8,105.7 535.0,106.3 535.2,105.7 535.4,106.5 535.6,106.0 535.9,105.6 536.1,105.7 536.3,105.4 536.5,105.4 536.8,106.5 537.0,106.4 537.2,105.6 537.4,105.8 537.6,106.7 537.9,105.7 538.1,106.1 538.3,106.2 538.5,105.9 538.8,105.9 539.0,105.9 539.2,106.0 539.4,105.4 539.6,106.0 539.9,106.1 540.1,105.5 540.3,106.2 540.5,105.6 540.8,104.9 541.0,105.2 541.2,106.0 541.4,106.2 541.6,105.8 541.9,105.4 542.1,105.9 542.3,106.4 542.5,106.0 542.8,105.4 543.0,106.2 543.2,105.9 543.4,105.9 543.6,106.0 543.9,106.2 544.1,106.0 544.3,105.6 544.5,106.0 544.8,106.1 545.0,106.5 545.2,105.5 545.4,106.0 545.6,105.7 545.9,106.1 546.1,105.8 546.3,104.8 546.5,106.4 546.8,105.7 547.0,105.6 547.2,105.4 547.4,105.6 547.6,105.5 547.9,106.0 548.1,106.1 548.3,106.0 548.5,106.2 548.8,105.7 549.0,106.3 549.2,106.0 549.4,106.2 549.6,106.3 549.9,105.9 550.1,106.5 550.3,106.3 550.5,105.9 550.8,106.7 551.0,106.7 551.2,105.4 551.4,105.1 551.7,105.8 551.9,106.2 552.1,106.4 552.3,106.3 552.5,106.0 552.8,106.4 553.0,106.3 553.2,105.9 553.4,106.1 553.7,106.5 553.9,105.8 554.1,105.8 554.3,105.7 554.5,106.6 554.8,106.3 555.0,106.4 555.2,105.9 555.4,106.0 555.7,106.5 555.9,105.9 556.1,106.5 556.3,106.0 556.5,106.0 556.8,106.3 557.0,106.4 557.2,106.8 557.4,105.9 557.7,106.7 557.9,105.8 558.1,105.7 558.3,105.2 558.5,106.4 558.8,106.7 559.0,105.6 559.2,105.9 559.4,106.0 559.7,105.5 559.9,106.1 560.1,106.2 560.3,105.9 560.5,105.7 560.8,106.1 561.0,106.3 561.2,105.5 561.4,106.0 561.7,106.3 561.9,105.0 562.1,106.2 562.3,106.8 562.5,105.6 562.8,106.6 563.0,106.0 563.2,106.3 563.4,106.0 563.7,105.6 563.9,105.4 564.1,107.1 564.3,105.6 564.5,106.0 564.8,106.7 565.0,106.2 565.2,106.2 565.4,105.3 565.7,105.9 565.9,105.6 566.1,105.4 566.3,106.3 566.5,106.5 566.8,105.8 567.0,105.9 567.2,106.3 567.4,106.5 567.7,105.7 567.9,106.6 568.1,106.5 568.3,106.1 568.5,105.7 568.8,106.4 569.0,106.4 569.2,106.8 569.4,105.9 569.7,106.8 569.9,106.0 570.1,106.4 570.3,106.1 570.5,106.2 570.8,106.7 571.0,105.9 571.2,106.5 571.4,106.0 571.7,106.1 571.9,105.9 572.1,106.2 572.3,105.4 572.5,106.1 572.8,106.6 573.0,106.5 573.2,105.5 573.4,105.7 573.7,106.0 573.9,106.9 574.1,106.0 574.3,106.2 574.6,106.1 574.8,106.3 575.0,105.8 575.2,106.3 575.4,106.4 575.7,106.6 575.9,105.8 576.1,106.5 576.3,107.0 576.6,106.5 576.8,106.5 577.0,105.2 577.2,106.7 577.4,107.0 577.7,106.7 577.9,106.4 578.1,106.5 578.3,107.4 578.6,105.9 578.8,106.0 579.0,106.6 579.2,106.3 579.4,105.4 579.7,106.3 579.9,106.4 580.1,105.8 580.3,106.4 580.6,106.3 580.8,105.5 581.0,106.4 581.2,107.1 581.4,106.9 581.7,105.8 581.9,105.7 582.1,106.3 582.3,106.3 582.6,105.7 582.8,105.9 583.0,106.8 583.2,106.3 583.4,106.7 583.7,106.2 583.9,106.7 584.1,106.0 584.3,106.0 584.6,105.9 584.8,105.5 585.0,106.1 585.2,105.7 585.4,106.1 585.7,106.3 585.9,106.3 586.1,106.4 586.3,106.1 586.6,106.2 586.8,106.7 587.0,106.2 587.2,106.3 587.4,105.3 587.7,105.8 587.9,106.7 588.1,105.9 588.3,105.9 588.6,106.7 588.8,105.8 589.0,106.7 589.2,106.2 589.4,106.0 589.7,105.5 589.9,106.8 590.1,105.6 590.3,105.8 590.6,106.6 590.8,105.8 591.0,106.5 591.2,106.3 591.4,106.2 591.7,105.9 591.9,106.0 592.1,106.4 592.3,105.9 592.6,106.6 592.8,106.4 593.0,106.5 593.2,106.4 593.4,106.5 593.7,106.5 593.9,106.7 594.1,106.5 594.3,106.5 594.6,106.0 594.8,105.6 595.0,106.4 595.2,106.7 595.4,106.0 595.7,105.7 595.9,106.1 596.1,106.5 596.3,106.7 596.6,106.2 596.8,105.9 597.0,106.3 597.2,106.6 597.4,106.3 597.7,106.8 597.9,106.2 598.1,106.7 598.3,107.0 598.6,106.0 598.8,106.0 599.0,106.6 599.2,107.6 599.5,106.6 599.7,106.4 599.9,106.9 600.1,106.3 600.3,105.7 600.6,106.0 600.8,106.9 601.0,105.7 601.2,105.8 601.5,106.7 601.7,106.4 601.9,106.9 602.1,106.0 602.3,106.1 602.6,106.3 602.8,105.9 603.0,106.3 603.2,106.3 603.5,106.7 603.7,106.4 603.9,106.3 604.1,106.6 604.3,106.8 604.6,106.8 604.8,106.5 605.0,106.3 605.2,106.2 605.5,105.9 605.7,106.5 605.9,106.4 606.1,107.1 606.3,106.5 606.6,106.7 606.8,106.9 607.0,105.7 607.2,106.2 607.5,106.3 607.7,106.5 607.9,106.0 608.1,106.8 608.3,106.8 608.6,106.6 608.8,106.7 609.0,106.0 609.2,106.9 609.5,106.2 609.7,105.7 609.9,106.5 610.1,106.6 610.3,106.2 610.6,105.8 610.8,106.0 611.0,106.4 611.2,105.5 611.5,106.9 611.7,106.9 611.9,106.4 612.1,106.9 612.3,106.4 612.6,106.0 612.8,106.7 613.0,106.7 613.2,106.1 613.5,105.9 613.7,106.1 613.9,107.0 614.1,106.4 614.3,107.6 614.6,106.2 614.8,106.7 615.0,106.6 615.2,106.4 615.5,106.8 615.7,106.2 615.9,106.5 616.1,106.1 616.3,105.7 616.6,106.5 616.8,106.1 617.0,106.0 617.2,106.7 617.5,106.5 617.7,106.7 617.9,107.2 618.1,106.6 618.3,106.7 618.6,106.1 618.8,106.9 619.0,106.9 619.2,106.1 619.5,106.8 619.7,106.7 619.9,106.5 620.1,106.6 620.3,107.5 620.6,106.3 620.8,106.4 621.0,106.6 621.2,106.5 621.5,105.8 621.7,106.8 621.9,106.9 622.1,107.2 622.4,106.3 622.6,106.1 622.8,106.8 623.0,106.2 623.2,106.6 623.5,106.4 623.7,106.6 623.9,106.4 624.1,106.8 624.4,106.2 624.6,107.5 624.8,106.9 625.0,106.3 625.2,106.2 625.5,106.5 625.7,106.4 625.9,106.3 626.1,107.1 626.4,107.0 626.6,106.2 626.8,106.8 627.0,106.6 627.2,106.9 627.5,106.3 627.7,107.4 627.9,106.6 628.1,107.4 628.4,106.4 628.6,107.1 628.8,106.6 629.0,107.3 629.2,106.5 629.5,106.2 629.7,106.2 629.9,106.4 630.1,106.9 630.4,106.8 630.6,106.7 630.8,107.0 631.0,107.3 631.2,106.2 631.5,107.0 631.7,107.5 631.9,106.4 632.1,106.4 632.4,106.8 632.6,106.7 632.8,106.4 633.0,106.6 633.2,107.3 633.5,107.0 633.7,106.3 633.9,106.0 634.1,106.2 634.4,106.7 634.6,106.4 634.8,106.3 635.0,106.9 635.2,106.6 635.5,106.5 635.7,106.8 635.9,107.2 636.1,106.8 636.4,106.9 636.6,106.7 636.8,107.3 637.0,106.2 637.2,106.2 637.5,106.5 637.7,107.5 637.9,107.3 638.1,106.3 638.4,106.5 638.6,106.9 638.8,106.7 639.0,107.0 639.2,106.5 639.5,106.1 639.7,106.9 639.9,107.2 640.1,106.1 640.4,106.0 640.6,106.5 640.8,106.0 641.0,106.9 641.2,106.3 641.5,107.0 641.7,106.6 641.9,106.8 642.1,107.0 642.4,106.6 642.6,106.3 642.8,107.1 643.0,106.2 643.2,107.3 643.5,106.5 643.7,106.5 643.9,106.9 644.1,106.9 644.4,106.9 644.6,106.2 644.8,106.4 645.0,106.9 645.3,106.9 645.5,106.7 645.7,107.2 645.9,106.7 646.1,107.1 646.4,107.2 646.6,106.9 646.8,106.7 647.0,107.0 647.3,106.9 647.5,107.0 647.7,106.4 647.9,106.9 648.1,107.4 648.4,106.6 648.6,106.8 648.8,106.7 649.0,107.1 649.3,106.0 649.5,107.4 649.7,107.0 649.9,106.7 650.1,106.9 650.4,107.2 650.6,106.9 650.8,107.0 651.0,107.2 651.3,106.8 651.5,107.1 651.7,107.3 651.9,107.0 652.1,106.5 652.4,107.1 652.6,107.6 652.8,106.7 653.0,107.0 653.3,107.0 653.5,107.1 653.7,106.6 653.9,106.8 654.1,107.5 654.4,107.1 654.6,106.6 654.8,107.1 655.0,106.8 655.3,107.4 655.5,106.2 655.7,106.8 655.9,107.2 656.1,106.3 656.4,106.5 656.6,107.0 656.8,106.8 657.0,106.7 657.3,106.9 657.5,106.3 657.7,106.5 657.9,107.5 658.1,106.6 658.4,107.0 658.6,106.8 658.8,107.2 659.0,107.0 659.3,107.0 659.5,107.3 659.7,107.0 659.9,106.2 660.1,106.6 660.4,107.4 660.6,107.2 660.8,106.8 661.0,106.2 661.3,106.6 661.5,107.6 661.7,107.3 661.9,107.3 662.1,106.2 662.4,106.3 662.6,106.6 662.8,106.3 663.0,106.9 663.3,106.4 663.5,107.0 663.7,106.8 663.9,106.7 664.1,107.1 664.4,107.0 664.6,106.9 664.8,106.7 665.0,106.8 665.3,106.2 665.5,106.1 665.7,106.6 665.9,106.9 666.1,107.5 666.4,107.0 666.6,106.5 666.8,106.7 667.0,106.4 667.3,106.9 667.5,106.8 667.7,106.9 667.9,107.0 668.2,107.3 668.4,107.1 668.6,106.5 668.8,107.2 669.0,106.5 669.3,107.0 669.5,106.9 669.7,107.5 669.9,106.9 670.2,106.9 670.4,106.8 670.6,107.2 670.8,107.0 671.0,106.8 671.3,107.2 671.5,107.7 671.7,107.5 671.9,107.5 672.2,106.7 672.4,106.9 672.6,107.0 672.8,106.3 673.0,107.6 673.3,106.4 673.5,107.1 673.7,106.5 673.9,107.0 674.2,107.2 674.4,107.1 674.6,106.6 674.8,106.7 675.0,107.3 675.3,106.9 675.5,107.0 675.7,107.3 675.9,106.0 676.2,107.0 676.4,107.4 676.6,107.6 676.8,107.2 677.0,106.7 677.3,107.3 677.5,107.6 677.7,106.7 677.9,106.7 678.2,106.9 678.4,106.8 678.6,106.2 678.8,106.1 679.0,106.5 679.3,106.7 679.5,107.1 679.7,106.8 679.9,107.0 680.2,107.5 680.4,108.1 680.6,107.3 680.8,106.6 681.0,107.3 681.3,107.0 681.5,107.1 681.7,107.3 681.9,107.3 682.2,106.5 682.4,106.6 682.6,107.1 682.8,107.2 683.0,107.8 683.3,107.2 683.5,106.9 683.7,106.8 683.9,106.7 684.2,106.5 684.4,106.5 684.6,106.8 684.8,107.0 685.0,106.7 685.3,107.0 685.5,106.9 685.7,106.9 685.9,106.8 686.2,107.1 686.4,107.0 686.6,106.0 686.8,107.1 687.0,107.0 687.3,106.8 687.5,107.1 687.7,106.8 687.9,107.1 688.2,106.7 688.4,107.3 688.6,107.1 688.8,106.5 689.0,106.8 689.3,107.3 689.5,107.2 689.7,107.1 689.9,106.6 690.2,106.8 690.4,107.1 690.6,107.1 690.8,107.0 691.1,106.7 691.3,107.0 691.5,106.9 691.7,106.6 691.9,106.6 692.2,106.8 692.4,106.5 692.6,107.2 692.8,107.3 693.1,107.4 693.3,106.8 693.5,106.8 693.7,107.1 693.9,106.9 694.2,106.9 694.4,106.9 694.6,106.5 694.8,107.5 695.1,106.5 695.3,106.5 695.5,107.4 695.7,106.7 695.9,107.4 696.2,107.2 696.4,107.2 696.6,106.9 696.8,106.6 697.1,106.6 697.3,107.1 697.5,107.0 697.7,106.6 697.9,106.7 698.2,106.8 698.4,107.1 698.6,107.2 698.8,107.4 699.1,107.0 699.3,107.6 699.5,107.3 699.7,107.6 699.9,106.8 700.2,107.3 700.4,107.5 700.6,106.5 700.8,107.4 701.1,107.2 701.3,107.4 701.5,107.2 701.7,107.5 701.9,107.0 702.2,106.9 702.4,107.4 702.6,107.4 702.8,106.6 703.1,107.5 703.3,107.5 703.5,107.5 703.7,106.9 703.9,107.6 704.2,107.3 704.4,107.4 704.6,107.1 704.8,107.0 705.1,106.9 705.3,106.9 705.5,107.4 705.7,106.9 705.9,106.9 706.2,107.2 706.4,107.0 706.6,106.4 706.8,106.9 707.1,107.0 707.3,107.7 707.5,107.4 707.7,106.8 707.9,106.8 708.2,107.0 708.4,107.2 708.6,106.9 708.8,107.3 709.1,106.7 709.3,107.3 709.5,107.6 709.7,106.2 709.9,107.1 710.2,107.2 710.4,107.3 710.6,107.2 710.8,107.1 711.1,107.3 711.3,107.2 711.5,107.2 711.7,107.7 711.9,107.5 712.2,107.5 712.4,106.9 712.6,107.0 712.8,107.5 713.1,106.8 713.3,107.5 713.5,106.7 713.7,107.9 714.0,107.6 714.2,107.0 714.4,107.0 714.6,106.5 714.8,107.2 715.1,107.6 715.3,107.4 715.5,107.1 715.7,107.9 716.0,107.4 716.2,107.3 716.4,107.1 716.6,107.4 716.8,108.1 717.1,107.4 717.3,106.6 717.5,107.3 717.7,107.9 718.0,107.6 718.2,107.0 718.4,107.3 718.6,106.7 718.8,107.4 719.1,106.9 719.3,107.0 719.5,107.0 719.7,107.0 720.0,107.8 720.2,107.7 720.4,107.1 720.6,107.3 720.8,107.8 721.1,107.1 721.3,107.1 721.5,106.9 721.7,107.8 722.0,107.3 722.2,107.2 722.4,107.1 722.6,106.9 722.8,107.6 723.1,107.0 723.3,107.1 723.5,106.7 723.7,106.9 724.0,107.1 724.2,107.1 724.4,106.7 724.6,107.0 724.8,107.2 725.1,106.3 725.3,107.5 725.5,107.2 725.7,106.8 726.0,107.2 726.2,107.4 726.4,107.3 726.6,107.3 726.8,107.3 727.1,107.5 727.3,106.8 727.5,107.1 727.7,107.4 728.0,107.3 728.2,106.9 728.4,107.2 728.6,107.0 728.8,107.3 729.1,106.7 729.3,106.7 729.5,106.8 729.7,107.2 730.0,108.1 730.2,107.6 730.4,107.7 730.6,107.3 730.8,107.8 731.1,107.4 731.3,107.3 731.5,107.7 731.7,106.9 732.0,106.5 732.2,106.9 732.4,107.8 732.6,107.6 732.8,107.4 733.1,107.2 733.3,107.2 733.5,107.4 733.7,107.0 734.0,107.6 734.2,107.0 734.4,107.8 734.6,107.2 734.8,107.0 735.1,107.2 735.3,107.0 735.5,107.3 735.7,106.7 736.0,107.1 736.2,107.3 736.4,107.5 736.6,107.2 736.9,107.7 737.1,106.7 737.3,107.3 737.5,107.2 737.7,107.3 738.0,107.2 738.2,107.8 738.4,107.3 738.6,107.0 738.9,108.2 739.1,107.3 739.3,107.3 739.5,107.6 739.7,107.1 740.0,107.3 740.2,107.6 740.4,106.9 740.6,107.2 740.9,107.7 741.1,108.0 741.3,107.3 741.5,107.3 741.7,107.7 742.0,106.9 742.2,107.1 742.4,107.1 742.6,106.7 742.9,106.4 743.1,107.2 743.3,107.7 743.5,107.6 743.7,107.8 744.0,106.4 744.2,107.3 744.4,107.8 744.6,107.1 744.9,106.9 745.1,107.5 745.3,107.4 745.5,107.6 745.7,107.4 746.0,107.8 746.2,107.6 746.4,107.5 746.6,107.3 746.9,107.6 747.1,107.2 747.3,107.7" fill="none" stroke="#ff3000" stroke-width="0.9" stroke-opacity="0.62" stroke-linejoin="round"/>
<path d="M103.9,327.7 104.0,333.6 104.1,339.4 104.2,345.8 104.3,352.1 104.4,358.5 104.5,364.8 104.6,371.6 104.7,378.4 104.8,385.5 105.0,392.2 105.1,399.5 105.2,406.6 105.3,414.1 105.4,421.2 105.5,428.3 105.6,436.3 105.7,444.6 105.8,453.5 105.9,462.4 106.0,471.4 106.1,480.4 106.2,489.7 106.3,498.3 106.4,506.9 106.5,514.6 106.6,521.0 106.7,527.1 106.9,534.0 107.0,540.8 107.1,546.6 107.2,551.9 107.3,556.1 107.4,557.7 107.5,557.0 107.6,556.9 107.7,555.7 107.8,554.0 107.9,552.4 108.0,550.2 108.1,548.4 108.2,545.1 108.3,542.0 108.4,539.2 108.5,536.9 108.6,534.5 108.8,531.2 108.9,528.6 109.0,526.1 109.1,523.5 109.2,521.5 109.3,518.5 109.4,517.2 109.5,514.7 109.6,512.1 109.7,509.1 109.8,507.0 109.9,504.4 110.0,502.5 110.1,499.6 110.2,497.6 110.3,495.5 110.4,493.3 110.5,489.2 110.7,487.2 110.8,484.1 110.9,483.5 111.0,479.4 111.1,478.8 111.2,474.9 111.3,473.9 111.4,470.2 111.5,468.2 111.6,466.3 111.7,464.1 111.8,461.8 111.9,460.4 112.0,458.9 112.1,456.7 112.2,453.4 112.3,450.2 112.4,450.4 112.6,445.6 112.7,447.7 112.8,446.0 112.9,442.5 113.0,443.0 113.1,440.1 113.2,440.8 113.3,437.0 113.4,435.4 113.5,434.1 113.6,433.7 113.7,430.6 113.8,433.2 113.9,428.3 114.0,429.5 114.1,425.2 114.2,423.5 114.3,421.3 114.5,419.5 114.6,419.5 114.7,418.9 114.8,415.7 114.9,412.5 115.0,412.4 115.1,409.3 115.2,404.7 115.3,407.2 115.4,402.6 115.5,402.6 115.6,402.0 115.7,399.6 115.8,398.2 115.9,399.4 116.0,396.8 116.1,396.1 116.2,392.4 116.3,390.8 116.5,391.8 116.6,386.2 116.7,386.3 116.8,384.5 116.9,383.3 117.0,382.4 117.1,380.1 117.2,379.9 117.3,375.6 117.4,376.6 117.5,372.4 117.6,374.9 117.7,373.4 117.8,369.8 117.9,367.9 118.0,367.5 118.1,367.3 118.2,361.9 118.4,361.6 118.5,364.1 118.6,360.6 118.7,357.2 118.8,354.0 118.9,356.3 119.0,352.4 119.1,355.0 119.2,353.4 119.3,356.2 119.4,348.6 119.5,351.4 119.6,346.4 119.7,345.6 119.8,346.3 119.9,343.8 120.0,348.6 120.1,343.4 120.3,340.8 120.4,346.7 120.5,338.7 120.6,338.7 120.7,338.1 120.8,335.9 120.9,338.1 121.0,338.6 121.1,332.0 121.2,333.0 121.3,332.4 121.4,329.1 121.5,328.4 121.6,329.9 121.7,327.8 121.8,329.9 121.9,330.4 122.0,328.0 122.2,327.4 122.3,323.6 122.4,323.5 122.5,325.2 122.6,324.9 122.7,322.3 122.8,323.1 122.9,320.2 123.0,316.9 123.1,319.9 123.2,317.0 123.3,312.7 123.4,318.6 123.5,316.4 123.6,316.4 123.7,312.2 123.8,316.6 123.9,312.9 124.1,313.3 124.2,307.8 124.3,307.8 124.4,311.3 124.5,306.7 124.6,305.8 124.7,309.0 124.8,307.1 124.9,303.5 125.0,307.4 125.2,295.5 125.4,297.7 125.7,294.3 125.9,298.4 126.1,296.8 126.3,288.9 126.6,289.0 126.8,289.7 127.0,286.8 127.2,284.4 127.4,285.1 127.7,286.5 127.9,279.3 128.1,274.0 128.3,275.6 128.6,274.3 128.8,271.8 129.0,273.8 129.2,272.5 129.4,271.7 129.7,268.9 129.9,266.9 130.1,261.3 130.3,262.2 130.6,259.2 130.8,261.8 131.0,259.1 131.2,258.1 131.4,258.7 131.7,254.7 131.9,258.1 132.1,256.8 132.3,248.8 132.6,255.4 132.8,248.5 133.0,246.0 133.2,246.2 133.4,241.7 133.7,246.2 133.9,248.1 134.1,237.3 134.3,243.1 134.6,242.5 134.8,241.6 135.0,240.4 135.2,238.5 135.4,234.0 135.7,237.8 135.9,234.5 136.1,235.0 136.3,232.0 136.6,228.6 136.8,228.2 137.0,229.4 137.2,229.9 137.5,217.5 137.7,218.7 137.9,216.2 138.1,219.3 138.3,217.7 138.6,220.0 138.8,217.1 139.0,222.5 139.2,213.9 139.5,212.7 139.7,211.4 139.9,212.7 140.1,213.7 140.3,210.3 140.6,207.8 140.8,205.3 141.0,210.8 141.2,207.1 141.5,204.6 141.7,206.8 141.9,208.6 142.1,214.8 142.3,212.5 142.6,201.6 142.8,202.8 143.0,196.0 143.2,195.3 143.5,195.2 143.7,205.9 143.9,200.9 144.1,194.9 144.3,197.6 144.6,197.7 144.8,196.5 145.0,204.7 145.2,190.0 145.5,195.6 145.7,197.9 145.9,198.3 146.1,186.7 146.3,195.9 146.6,189.3 146.8,191.6 147.0,186.7 147.2,196.1 147.5,205.4 147.7,195.9 147.9,189.8 148.1,183.1 148.3,193.7 148.6,194.5 148.8,184.2 149.0,192.4 149.2,180.2 149.5,181.9 149.7,187.5 149.9,180.5 150.1,189.2 150.3,191.7 150.6,185.4 150.8,186.9 151.0,191.3 151.2,186.3 151.5,189.4 151.7,189.6 151.9,178.6 152.1,192.4 152.3,187.8 152.6,183.1 152.8,185.7 153.0,183.3 153.2,182.7 153.5,177.1 153.7,179.4 153.9,179.5 154.1,185.5 154.3,182.6 154.6,182.1 154.8,179.6 155.0,185.5 155.2,168.8 155.5,175.4 155.7,183.5 155.9,177.2 156.1,181.8 156.3,185.8 156.6,182.1 156.8,171.8 157.0,177.2 157.2,172.9 157.5,180.0 157.7,182.4 157.9,176.6 158.1,179.8 158.3,176.5 158.6,186.0 158.8,177.9 159.0,178.2 159.2,179.7 159.5,181.9 159.7,180.2 159.9,176.9 160.1,177.2 160.4,179.3 160.6,179.7 160.8,175.3 161.0,174.4 161.2,176.0 161.5,179.2 161.7,175.1 161.9,172.2 162.1,175.7 162.4,175.0 162.6,180.0 162.8,175.0 163.0,175.5 163.2,186.0 163.5,179.6 163.7,173.4 163.9,183.2 164.1,176.1 164.4,174.1 164.6,180.9 164.8,171.6 165.0,177.8 165.2,180.8 165.5,181.7 165.7,176.0 165.9,176.2 166.1,178.2 166.4,184.2 166.6,170.6 166.8,182.6 167.0,180.4 167.2,185.3 167.5,174.1 167.7,184.6 167.9,175.5 168.1,180.9 168.4,177.8 168.6,168.6 168.8,179.6 169.0,181.8 169.2,184.1 169.5,177.5 169.7,175.2 169.9,183.9 170.1,179.2 170.4,185.8 170.6,187.7 170.8,180.4 171.0,180.8 171.2,178.5 171.5,172.8 171.7,182.2 171.9,185.8 172.1,187.5 172.4,182.8 172.6,191.6 172.8,181.0 173.0,183.5 173.2,181.3 173.5,182.0 173.7,183.0 173.9,181.4 174.1,182.8 174.4,186.2 174.6,185.7 174.8,180.6 175.0,187.9 175.2,182.1 175.5,188.1 175.7,186.5 175.9,177.6 176.1,181.9 176.4,191.1 176.6,184.0 176.8,184.1 177.0,185.3 177.2,188.0 177.5,190.3 177.7,186.5 177.9,195.7 178.1,185.6 178.4,186.2 178.6,187.7 178.8,189.5 179.0,195.5 179.2,199.8 179.5,187.7 179.7,188.6 179.9,192.4 180.1,189.2 180.4,193.8 180.6,185.2 180.8,194.1 181.0,180.4 181.2,193.0 181.5,193.8 181.7,202.3 181.9,186.9 182.1,194.4 182.4,194.4 182.6,187.3 182.8,192.9 183.0,188.1 183.3,186.8 183.5,185.4 183.7,191.5 183.9,187.8 184.1,183.3 184.4,194.3 184.6,185.3 184.8,196.6 185.0,194.7 185.3,190.0 185.5,186.7 185.7,190.0 185.9,188.1 186.1,192.8 186.4,193.0 186.6,206.3 186.8,185.5 187.0,192.6 187.3,198.1 187.5,200.5 187.7,202.2 187.9,191.6 188.1,200.1 188.4,183.2 188.6,195.7 188.8,200.9 189.0,200.4 189.3,190.8 189.5,193.7 189.7,187.7 189.9,194.4 190.1,191.6 190.4,199.5 190.6,194.8 190.8,201.3 191.0,198.2 191.3,197.3 191.5,207.2 191.7,204.6 191.9,193.2 192.1,205.9 192.4,203.2 192.6,206.0 192.8,202.1 193.0,191.8 193.3,198.6 193.5,189.1 193.7,194.1 193.9,197.5 194.1,206.9 194.4,201.3 194.6,202.3 194.8,204.9 195.0,197.3 195.3,206.9 195.5,202.9 195.7,197.5 195.9,199.5 196.1,201.2 196.4,205.3 196.6,209.2 196.8,201.3 197.0,201.8 197.3,211.4 197.5,218.0 197.7,211.7 197.9,204.3 198.1,201.8 198.4,206.8 198.6,205.1 198.8,200.1 199.0,210.3 199.3,216.0 199.5,200.2 199.7,200.6 199.9,202.0 200.1,198.6 200.4,208.4 200.6,197.9 200.8,207.9 201.0,206.7 201.3,208.5 201.5,198.1 201.7,205.9 201.9,206.6 202.1,209.6 202.4,207.3 202.6,202.9 202.8,211.1 203.0,212.3 203.3,212.3 203.5,202.5 203.7,208.6 203.9,201.9 204.1,205.5 204.4,210.0 204.6,199.8 204.8,219.7 205.0,212.5 205.3,203.2 205.5,204.2 205.7,206.6 205.9,206.4 206.2,201.5 206.4,206.6 206.6,200.0 206.8,204.5 207.0,216.0 207.3,207.3 207.5,205.8 207.7,215.2 207.9,209.3 208.2,210.9 208.4,205.3 208.6,213.2 208.8,206.5 209.0,212.3 209.3,211.3 209.5,216.5 209.7,213.0 209.9,208.3 210.2,203.4 210.4,207.1 210.6,205.3 210.8,215.8 211.0,206.5 211.3,197.8 211.5,210.5 211.7,212.6 211.9,204.4 212.2,212.1 212.4,202.5 212.6,209.9 212.8,208.0 213.0,210.3 213.3,210.8 213.5,205.6 213.7,212.6 213.9,206.4 214.2,209.3 214.4,215.5 214.6,204.3 214.8,209.0 215.0,216.2 215.3,214.5 215.5,205.3 215.7,205.6 215.9,211.0 216.2,205.3 216.4,208.7 216.6,202.0 216.8,211.2 217.0,200.8 217.3,208.7 217.5,211.3 217.7,204.9 217.9,200.8 218.2,202.1 218.4,199.1 218.6,215.8 218.8,199.0 219.0,201.8 219.3,209.0 219.5,207.6 219.7,211.9 219.9,213.1 220.2,209.1 220.4,206.8 220.6,204.5 220.8,206.0 221.0,210.8 221.3,209.2 221.5,209.1 221.7,199.0 221.9,202.7 222.2,202.9 222.4,203.3 222.6,200.9 222.8,208.1 223.0,209.5 223.3,212.5 223.5,202.4 223.7,204.0 223.9,204.6 224.2,203.9 224.4,200.3 224.6,206.8 224.8,195.0 225.0,201.1 225.3,195.1 225.5,205.2 225.7,196.8 225.9,197.6 226.2,201.9 226.4,197.6 226.6,202.5 226.8,199.7 227.0,208.7 227.3,195.9 227.5,197.3 227.7,202.4 227.9,200.4 228.2,201.4 228.4,198.2 228.6,202.7 228.8,200.1 229.1,203.5 229.3,193.1 229.5,198.9 229.7,196.8 229.9,198.8 230.2,193.5 230.4,199.7 230.6,191.4 230.8,199.3 231.1,197.7 231.3,188.8 231.5,196.6 231.7,187.8 231.9,196.5 232.2,188.4 232.4,193.6 232.6,192.5 232.8,187.4 233.1,186.3 233.3,194.3 233.5,190.5 233.7,195.6 233.9,191.4 234.2,200.6 234.4,191.5 234.6,196.5 234.8,191.4 235.1,190.2 235.3,191.3 235.5,186.7 235.7,186.7 235.9,193.9 236.2,187.5 236.4,184.0 236.6,189.0 236.8,184.3 237.1,186.9 237.3,189.9 237.5,190.0 237.7,191.2 237.9,188.8 238.2,186.8 238.4,186.1 238.6,184.9 238.8,183.5 239.1,190.1 239.3,182.7 239.5,187.5 239.7,181.8 239.9,185.3 240.2,173.1 240.4,181.5 240.6,178.9 240.8,184.8 241.1,184.2 241.3,177.8 241.5,179.0 241.7,181.5 241.9,179.4 242.2,178.5 242.4,180.6 242.6,174.0 242.8,181.6 243.1,178.1 243.3,168.9 243.5,173.8 243.7,175.7 243.9,181.5 244.2,175.3 244.4,171.1 244.6,178.1 244.8,175.3 245.1,174.0 245.3,176.3 245.5,172.4 245.7,172.8 245.9,175.2 246.2,173.5 246.4,174.5 246.6,170.9 246.8,175.6 247.1,167.7 247.3,167.5 247.5,171.8 247.7,169.5 247.9,170.4 248.2,169.7 248.4,168.9 248.6,166.4 248.8,169.4 249.1,171.5 249.3,166.0 249.5,172.2 249.7,171.1 249.9,165.1 250.2,168.7 250.4,163.9 250.6,165.8 250.8,163.3 251.1,164.2 251.3,160.9 251.5,164.5 251.7,162.1 252.0,162.1 252.2,159.3 252.4,163.6 252.6,167.5 252.8,162.0 253.1,162.2 253.3,159.6 253.5,160.7 253.7,159.5 254.0,157.6 254.2,158.8 254.4,159.3 254.6,160.8 254.8,159.0 255.1,160.0 255.3,161.9 255.5,160.7 255.7,157.4 256.0,154.1 256.2,157.2 256.4,157.5 256.6,159.1 256.8,156.9 257.1,162.3 257.3,155.3 257.5,157.0 257.7,153.4 258.0,152.9 258.2,154.0 258.4,154.8 258.6,155.5 258.8,147.2 259.1,155.8 259.3,156.3 259.5,155.7 259.7,154.3 260.0,152.0 260.2,153.2 260.4,154.4 260.6,149.5 260.8,152.6 261.1,152.0 261.3,150.4 261.5,154.1 261.7,148.8 262.0,148.0 262.2,149.6 262.4,148.2 262.6,151.9 262.8,145.7 263.1,146.2 263.3,149.1 263.5,149.7 263.7,145.7 264.0,150.3 264.2,143.9 264.4,149.3 264.6,145.4 264.8,146.0 265.1,150.1 265.3,146.4 265.5,145.0 265.7,146.5 266.0,149.4 266.2,145.8 266.4,144.0 266.6,145.6 266.8,142.7 267.1,143.5 267.3,143.5 267.5,145.6 267.7,143.3 268.0,144.9 268.2,146.0 268.4,146.6 268.6,140.3 268.8,143.2 269.1,140.9 269.3,144.1 269.5,143.2 269.7,142.5 270.0,141.4 270.2,140.4 270.4,138.9 270.6,143.6 270.8,141.3 271.1,141.5 271.3,141.9 271.5,142.6 271.7,144.4 272.0,140.5 272.2,141.8 272.4,137.5 272.6,139.6 272.8,138.9 273.1,138.9 273.3,142.0 273.5,139.9 273.7,139.7 274.0,139.5 274.2,138.8 274.4,138.7 274.6,137.8 274.9,137.8 275.1,137.9 275.3,138.2 275.5,135.0 275.7,138.3 276.0,138.0 276.2,138.7 276.4,135.8 276.6,136.0 276.9,139.0 277.1,136.1 277.3,138.1 277.5,135.9 277.7,134.8 278.0,134.2 278.2,135.6 278.4,135.7 278.6,134.3 278.9,138.8 279.1,136.2 279.3,134.5 279.5,138.6 279.7,137.2 280.0,134.3 280.2,133.7 280.4,135.1 280.6,136.6 280.9,132.7 281.1,137.1 281.3,134.3 281.5,136.3 281.7,134.5 282.0,135.4 282.2,135.6 282.4,136.6 282.6,133.0 282.9,137.4 283.1,131.8 283.3,134.5 283.5,135.0 283.7,133.7 284.0,135.1 284.2,130.7 284.4,133.3 284.6,135.0 284.9,133.2 285.1,131.2 285.3,133.3 285.5,133.2 285.7,131.1 286.0,134.9 286.2,131.7 286.4,130.7 286.6,132.6 286.9,131.2 287.1,131.9 287.3,132.5 287.5,131.3 287.7,132.9 288.0,132.3 288.2,133.8 288.4,129.9 288.6,131.6 288.9,131.9 289.1,131.8 289.3,127.8 289.5,129.4 289.7,131.6 290.0,132.0 290.2,131.0 290.4,131.1 290.6,132.8 290.9,130.1 291.1,129.3 291.3,133.0 291.5,131.4 291.7,130.1 292.0,129.1 292.2,132.8 292.4,129.7 292.6,128.7 292.9,132.0 293.1,127.5 293.3,129.6 293.5,130.8 293.7,129.2 294.0,128.8 294.2,130.2 294.4,127.5 294.6,129.1 294.9,130.5 295.1,127.5 295.3,131.5 295.5,128.8 295.7,129.0 296.0,128.3 296.2,129.9 296.4,128.2 296.6,129.2 296.9,130.8 297.1,130.8 297.3,126.3 297.5,130.8 297.7,127.8 298.0,129.1 298.2,128.7 298.4,128.9 298.6,127.5 298.9,129.3 299.1,129.9 299.3,127.4 299.5,128.2 299.8,129.5 300.0,129.8 300.2,128.6 300.4,128.5 300.6,128.8 300.9,127.4 301.1,128.4 301.3,127.4 301.5,127.3 301.8,124.1 302.0,124.9 302.2,128.2 302.4,128.8 302.6,128.3 302.9,127.7 303.1,127.0 303.3,128.3 303.5,126.7 303.8,127.3 304.0,129.5 304.2,125.0 304.4,126.2 304.6,126.7 304.9,124.0 305.1,125.1 305.3,128.4 305.5,127.5 305.8,126.5 306.0,128.6 306.2,125.0 306.4,129.3 306.6,126.3 306.9,125.4 307.1,127.8 307.3,126.9 307.5,126.3 307.8,125.8 308.0,123.1 308.2,122.6 308.4,125.7 308.6,127.0 308.9,124.3 309.1,125.5 309.3,122.9 309.5,123.0 309.8,125.0 310.0,126.0 310.2,126.0 310.4,126.5 310.6,123.5 310.9,124.3 311.1,125.6 311.3,122.9 311.5,123.8 311.8,124.2 312.0,124.1 312.2,125.3 312.4,124.5 312.6,123.2 312.9,120.3 313.1,124.8 313.3,125.0 313.5,124.2 313.8,123.9 314.0,123.9 314.2,124.9 314.4,122.4 314.6,122.9 314.9,121.5 315.1,122.6 315.3,121.6 315.5,121.6 315.8,119.8 316.0,122.4 316.2,123.9 316.4,118.2 316.6,124.1 316.9,122.2 317.1,121.2 317.3,122.5 317.5,121.7 317.8,121.8 318.0,123.9 318.2,122.0 318.4,122.2 318.6,121.3 318.9,121.3 319.1,120.2 319.3,121.3 319.5,120.3 319.8,122.9 320.0,120.9 320.2,122.2 320.4,122.8 320.6,122.4 320.9,120.0 321.1,123.1 321.3,118.2 321.5,122.7 321.8,117.2 322.0,119.3 322.2,120.4 322.4,119.5 322.7,117.5 322.9,118.3 323.1,120.6 323.3,117.9 323.5,121.0 323.8,121.6 324.0,121.8 324.2,120.2 324.4,119.8 324.7,119.2 324.9,123.4 325.1,121.2 325.3,120.4 325.5,120.0 325.8,120.9 326.0,116.9 326.2,120.5 326.4,118.5 326.7,116.2 326.9,120.6 327.1,118.1 327.3,119.6 327.5,118.0 327.8,118.4 328.0,121.0 328.2,119.2 328.4,119.3 328.7,116.7 328.9,119.8 329.1,117.7 329.3,119.1 329.5,117.2 329.8,118.9 330.0,119.1 330.2,116.4 330.4,118.7 330.7,117.1 330.9,119.7 331.1,118.6 331.3,118.1 331.5,121.8 331.8,119.0 332.0,117.4 332.2,118.9 332.4,118.1 332.7,119.4 332.9,116.4 333.1,120.1 333.3,116.9 333.5,117.1 333.8,116.6 334.0,117.1 334.2,119.8 334.4,117.6 334.7,116.0 334.9,117.1 335.1,117.5 335.3,118.3 335.5,116.7 335.8,117.3 336.0,120.6 336.2,116.8 336.4,117.1 336.7,115.4 336.9,118.0 337.1,116.2 337.3,119.0 337.5,118.1 337.8,117.6 338.0,116.0 338.2,116.1 338.4,116.0 338.7,116.6 338.9,116.0 339.1,115.7 339.3,116.4 339.5,116.2 339.8,115.8 340.0,117.3 340.2,117.4 340.4,115.4 340.7,118.6 340.9,116.5 341.1,117.4 341.3,118.1 341.5,114.2 341.8,116.4 342.0,116.9 342.2,117.2 342.4,116.6 342.7,116.8 342.9,113.9 343.1,114.5 343.3,116.2 343.5,113.2 343.8,114.8 344.0,115.2 344.2,115.8 344.4,116.4 344.7,115.6 344.9,114.3 345.1,114.1 345.3,115.6 345.6,115.8 345.8,115.5 346.0,115.2 346.2,115.1 346.4,113.4 346.7,114.9 346.9,115.7 347.1,113.6 347.3,115.3 347.6,115.5 347.8,117.3 348.0,114.6 348.2,114.4 348.4,113.3 348.7,113.4 348.9,112.7 349.1,112.5 349.3,115.2 349.6,114.4 349.8,114.7 350.0,112.6 350.2,112.1 350.4,112.3 350.7,115.9 350.9,115.4 351.1,112.7 351.3,114.2 351.6,114.2 351.8,112.9 352.0,113.3 352.2,114.9 352.4,114.6 352.7,114.8 352.9,114.2 353.1,113.9 353.3,114.3 353.6,113.5 353.8,115.4 354.0,113.9 354.2,114.2 354.4,113.5 354.7,112.8 354.9,113.4 355.1,113.1 355.3,112.6 355.6,114.2 355.8,115.4 356.0,113.6 356.2,113.1 356.4,112.5 356.7,111.7 356.9,113.8 357.1,113.7 357.3,112.3 357.6,113.1 357.8,112.1 358.0,114.4 358.2,113.0 358.4,113.3 358.7,114.6 358.9,110.6 359.1,113.2 359.3,113.0 359.6,112.4 359.8,112.7 360.0,113.9 360.2,112.0 360.4,111.9 360.7,114.2 360.9,113.5 361.1,113.0 361.3,113.2 361.6,112.5 361.8,112.1 362.0,112.2 362.2,112.6 362.4,111.8 362.7,110.7 362.9,112.1 363.1,112.4 363.3,112.0 363.6,112.7 363.8,112.4 364.0,113.0 364.2,112.1 364.4,111.8 364.7,112.5 364.9,112.7 365.1,111.5 365.3,111.0 365.6,113.1 365.8,111.3 366.0,112.1 366.2,111.3 366.4,111.9 366.7,112.9 366.9,113.2 367.1,110.4 367.3,110.2 367.6,108.5 367.8,112.0 368.0,112.9 368.2,111.7 368.5,111.1 368.7,112.1 368.9,110.5 369.1,111.9 369.3,112.5 369.6,112.3 369.8,111.8 370.0,110.7 370.2,110.8 370.5,110.3 370.7,112.7 370.9,112.1 371.1,110.9 371.3,110.9 371.6,111.1 371.8,110.3 372.0,111.3 372.2,111.3 372.5,111.2 372.7,110.8 372.9,108.6 373.1,110.5 373.3,109.5 373.6,109.2 373.8,112.5 374.0,110.2 374.2,110.4 374.5,110.3 374.7,109.8 374.9,111.8 375.1,108.9 375.3,110.8 375.6,109.9 375.8,111.4 376.0,111.0 376.2,110.3 376.5,109.0 376.7,110.9 376.9,111.0 377.1,110.7 377.3,109.9 377.6,110.6 377.8,109.4 378.0,110.2 378.2,110.3 378.5,109.8 378.7,109.1 378.9,109.7 379.1,109.2 379.3,108.9 379.6,110.7 379.8,109.7 380.0,109.3 380.2,109.3 380.5,110.1 380.7,109.4 380.9,109.1 381.1,109.8 381.3,109.7 381.6,108.8 381.8,108.7 382.0,110.6 382.2,109.3 382.5,110.4 382.7,109.9 382.9,109.4 383.1,109.2 383.3,110.7 383.6,108.8 383.8,109.0 384.0,108.6 384.2,109.2 384.5,108.5 384.7,109.3 384.9,108.2 385.1,109.6 385.3,109.4 385.6,109.3 385.8,108.6 386.0,110.1 386.2,110.6 386.5,108.9 386.7,108.4 386.9,109.5 387.1,108.8 387.3,109.1 387.6,109.4 387.8,107.9 388.0,109.5 388.2,108.1 388.5,107.9 388.7,108.6 388.9,109.9 389.1,108.3 389.3,109.1 389.6,108.1 389.8,109.2 390.0,109.0 390.2,109.6 390.5,108.8 390.7,108.7 390.9,107.3 391.1,108.9 391.4,109.2 391.6,108.7 391.8,108.7 392.0,109.0 392.2,109.2 392.5,107.9 392.7,108.5 392.9,108.8 393.1,108.7 393.4,107.8 393.6,107.0 393.8,108.6 394.0,108.9 394.2,109.6 394.5,108.7 394.7,107.7 394.9,108.6 395.1,108.2 395.4,107.8 395.6,107.3 395.8,107.0 396.0,107.8 396.2,107.9 396.5,108.3 396.7,108.2 396.9,108.3 397.1,109.5 397.4,108.1 397.6,109.1 397.8,107.6 398.0,107.6 398.2,107.7 398.5,106.8 398.7,109.2 398.9,108.2 399.1,108.5 399.4,109.2 399.6,108.3 399.8,109.1 400.0,106.3 400.2,108.8 400.5,108.1 400.7,107.6 400.9,108.7 401.1,107.9 401.4,107.4 401.6,106.6 401.8,109.1 402.0,106.1 402.2,107.9 402.5,108.9 402.7,108.3 402.9,107.4 403.1,107.7 403.4,107.4 403.6,108.0 403.8,107.8 404.0,107.0 404.2,106.8 404.5,108.5 404.7,107.0 404.9,107.0 405.1,109.3 405.4,107.2 405.6,106.9 405.8,107.1 406.0,108.2 406.2,107.2 406.5,107.6 406.7,106.2 406.9,107.3 407.1,107.7 407.4,107.7 407.6,108.6 407.8,108.0 408.0,105.8 408.2,106.6 408.5,107.1 408.7,107.5 408.9,107.7 409.1,108.0 409.4,106.6 409.6,106.2 409.8,108.1 410.0,107.0 410.2,106.1 410.5,107.0 410.7,107.3 410.9,106.8 411.1,106.8 411.4,108.2 411.6,106.9 411.8,107.7 412.0,107.7 412.2,107.3 412.5,108.9 412.7,106.7 412.9,109.0 413.1,106.9 413.4,107.3 413.6,107.7 413.8,108.1 414.0,107.9 414.3,107.3 414.5,107.3 414.7,108.1 414.9,108.3 415.1,107.1 415.4,108.1 415.6,107.8 415.8,107.6 416.0,106.8 416.3,106.7 416.5,107.7 416.7,105.8 416.9,107.1 417.1,107.6 417.4,106.4 417.6,108.3 417.8,108.3 418.0,106.8 418.3,107.3 418.5,107.3 418.7,107.0 418.9,107.1 419.1,107.6 419.4,108.3 419.6,107.4 419.8,107.4 420.0,107.4 420.3,106.9 420.5,107.6 420.7,107.0 420.9,106.7 421.1,107.6 421.4,106.3 421.6,107.0 421.8,107.0 422.0,107.2 422.3,106.4 422.5,106.7 422.7,107.2 422.9,107.6 423.1,107.2 423.4,107.1 423.6,106.7 423.8,107.2 424.0,105.7 424.3,107.5 424.5,107.7 424.7,107.2 424.9,106.6 425.1,107.9 425.4,106.8 425.6,107.9 425.8,107.0 426.0,106.7 426.3,107.0 426.5,106.7 426.7,107.0 426.9,107.4 427.1,107.0 427.4,106.8 427.6,107.1 427.8,107.3 428.0,107.1 428.3,107.3 428.5,107.4 428.7,107.2 428.9,107.4 429.1,107.0 429.4,107.6 429.6,107.2 429.8,107.5 430.0,106.9 430.3,106.2 430.5,106.8 430.7,107.0 430.9,107.2 431.1,107.0 431.4,107.8 431.6,106.3 431.8,106.0 432.0,106.9 432.3,106.6 432.5,107.0 432.7,107.3 432.9,108.4 433.1,106.2 433.4,106.4 433.6,106.9 433.8,106.1 434.0,106.5 434.3,107.6 434.5,106.9 434.7,106.9 434.9,107.5 435.1,106.0 435.4,107.0 435.6,106.9 435.8,107.0 436.0,106.4 436.3,106.7 436.5,106.8 436.7,107.3 436.9,106.5 437.2,107.2 437.4,105.8 437.6,107.1 437.8,107.3 438.0,106.4 438.3,106.7 438.5,106.9 438.7,107.0 438.9,107.5 439.2,107.0 439.4,106.8 439.6,106.8 439.8,107.0 440.0,107.3 440.3,107.0 440.5,106.6 440.7,106.7 440.9,106.5 441.2,106.5 441.4,106.7 441.6,106.6 441.8,107.3 442.0,106.3 442.3,107.0 442.5,106.3 442.7,107.3 442.9,107.1 443.2,107.6 443.4,107.2 443.6,106.4 443.8,107.0 444.0,106.6 444.3,106.7 444.5,106.4 444.7,106.8 444.9,107.0 445.2,107.1 445.4,108.2 445.6,106.9 445.8,107.0 446.0,106.9 446.3,106.8 446.5,106.8 446.7,107.0 446.9,106.9 447.2,107.3 447.4,107.2 447.6,106.5 447.8,107.0 448.0,107.1 448.3,106.9 448.5,106.9 448.7,107.0 448.9,107.3 449.2,107.1 449.4,106.7 449.6,107.0 449.8,107.6 450.0,106.5 450.3,107.3 450.5,106.9 450.7,108.9 450.9,107.3 451.2,107.1 451.4,107.0 451.6,106.3 451.8,106.8 452.0,108.0 452.3,107.2 452.5,106.9 452.7,107.1 452.9,107.1 453.2,106.6 453.4,107.1 453.6,107.3 453.8,106.3 454.0,107.0 454.3,105.7 454.5,106.3 454.7,107.5 454.9,107.7 455.2,108.0 455.4,106.5 455.6,107.1 455.8,106.9 456.0,107.6 456.3,107.3 456.5,107.2 456.7,107.4 456.9,106.9 457.2,107.6 457.4,107.0 457.6,107.7 457.8,107.2 458.0,107.3 458.3,106.6 458.5,106.4 458.7,106.4 458.9,107.4 459.2,106.1 459.4,107.8 459.6,107.0 459.8,106.5 460.1,107.4 460.3,106.6 460.5,107.2 460.7,107.1 460.9,107.8 461.2,107.6 461.4,107.7 461.6,107.0 461.8,107.8 462.1,107.2 462.3,107.3 462.5,107.5 462.7,107.4 462.9,106.6 463.2,107.6 463.4,106.5 463.6,107.5 463.8,107.2 464.1,107.3 464.3,106.8 464.5,107.8 464.7,107.2 464.9,107.7 465.2,107.0 465.4,107.0 465.6,107.4 465.8,107.8 466.1,106.7 466.3,107.1 466.5,107.1 466.7,107.2 466.9,107.2 467.2,107.9 467.4,107.7 467.6,107.4 467.8,107.8 468.1,107.9 468.3,107.1 468.5,107.1 468.7,107.7 468.9,108.4 469.2,106.3 469.4,107.2 469.6,107.8 469.8,107.1 470.1,107.9 470.3,107.6 470.5,106.9 470.7,107.3 470.9,107.7 471.2,107.1 471.4,107.8 471.6,107.7 471.8,107.4 472.1,107.7 472.3,107.4 472.5,107.6 472.7,107.1 472.9,108.2 473.2,107.4 473.4,108.1 473.6,108.6 473.8,108.3 474.1,107.6 474.3,107.7 474.5,107.6 474.7,107.8 474.9,107.2 475.2,106.8 475.4,107.8 475.6,107.7 475.8,108.3 476.1,108.5 476.3,107.0 476.5,107.2 476.7,108.0 476.9,108.2 477.2,107.7 477.4,107.7 477.6,106.8 477.8,108.8 478.1,107.4 478.3,108.0 478.5,107.9 478.7,107.3 478.9,108.1 479.2,108.4 479.4,107.7 479.6,107.8 479.8,108.1 480.1,108.2 480.3,108.2 480.5,107.4 480.7,107.4 480.9,107.5 481.2,106.6 481.4,107.2 481.6,107.7 481.8,107.5 482.1,107.4 482.3,108.2 482.5,108.0 482.7,108.2 483.0,107.8 483.2,107.7 483.4,107.5 483.6,108.0 483.8,107.1 484.1,107.5 484.3,108.2 484.5,108.3 484.7,107.9 485.0,107.4 485.2,108.2 485.4,107.6 485.6,107.9 485.8,107.5 486.1,108.8 486.3,108.6 486.5,107.6 486.7,107.5 487.0,108.0 487.2,108.3 487.4,108.6 487.6,108.0 487.8,107.5 488.1,108.1 488.3,108.1 488.5,107.3 488.7,107.9 489.0,107.9 489.2,107.6 489.4,108.2 489.6,108.5 489.8,108.5 490.1,107.7 490.3,107.8 490.5,108.4 490.7,108.0 491.0,107.9 491.2,109.1 491.4,107.0 491.6,107.8 491.8,107.8 492.1,108.1 492.3,108.9 492.5,108.1 492.7,108.0 493.0,108.2 493.2,108.0 493.4,108.3 493.6,109.3 493.8,107.9 494.1,108.1 494.3,108.2 494.5,107.3 494.7,108.5 495.0,108.2 495.2,107.4 495.4,108.1 495.6,108.3 495.8,107.9 496.1,108.7 496.3,108.0 496.5,107.6 496.7,108.6 497.0,108.2 497.2,108.4 497.4,107.6 497.6,107.7 497.8,107.9 498.1,108.3 498.3,108.3 498.5,108.9 498.7,109.0 499.0,108.4 499.2,108.3 499.4,109.2 499.6,108.4 499.8,108.8 500.1,108.2 500.3,108.3 500.5,108.3 500.7,108.1 501.0,108.6 501.2,108.1 501.4,108.4 501.6,108.6 501.8,109.4 502.1,107.6 502.3,108.5 502.5,108.7 502.7,108.3 503.0,108.9 503.2,108.7 503.4,108.7 503.6,108.3 503.8,108.4 504.1,108.4 504.3,108.1 504.5,108.6 504.7,108.1 505.0,108.1 505.2,107.9 505.4,109.0 505.6,108.3 505.9,108.2 506.1,108.9 506.3,108.4 506.5,108.7 506.7,108.5 507.0,108.8 507.2,108.7 507.4,107.7 507.6,109.2 507.9,109.1 508.1,108.0 508.3,109.0 508.5,108.5 508.7,108.7 509.0,109.2 509.2,109.1 509.4,109.1 509.6,109.5 509.9,109.1 510.1,108.4 510.3,108.2 510.5,109.1 510.7,108.0 511.0,108.6 511.2,108.6 511.4,108.4 511.6,109.3 511.9,108.9 512.1,108.7 512.3,109.1 512.5,108.6 512.7,109.3 513.0,109.6 513.2,108.7 513.4,108.7 513.6,109.3 513.9,108.0 514.1,108.3 514.3,108.4 514.5,108.2 514.7,108.8 515.0,109.0 515.2,108.8 515.4,108.8 515.6,109.2 515.9,109.3 516.1,109.4 516.3,108.8 516.5,108.9 516.7,109.5 517.0,109.1 517.2,109.5 517.4,108.7 517.6,108.9 517.9,108.7 518.1,108.9 518.3,109.1 518.5,108.8 518.7,109.8 519.0,108.4 519.2,109.3 519.4,108.5 519.6,109.1 519.9,108.7 520.1,109.0 520.3,109.0 520.5,108.7 520.7,108.5 521.0,108.7 521.2,109.0 521.4,109.3 521.6,109.7 521.9,108.3 522.1,109.2 522.3,108.8 522.5,109.0 522.7,109.1 523.0,109.3 523.2,109.2 523.4,109.0 523.6,109.6 523.9,109.1 524.1,109.0 524.3,109.5 524.5,108.5 524.7,108.6 525.0,109.6 525.2,108.9 525.4,108.3 525.6,109.3 525.9,109.5 526.1,108.7 526.3,108.5 526.5,109.0 526.7,109.1 527.0,108.8 527.2,108.6 527.4,109.2 527.6,109.2 527.9,108.4 528.1,108.5 528.3,108.9 528.5,108.7 528.8,109.1 529.0,109.2 529.2,109.7 529.4,109.1 529.6,109.4 529.9,108.4 530.1,108.7 530.3,109.4 530.5,108.4 530.8,109.5 531.0,109.2 531.2,109.0 531.4,108.9 531.6,108.5 531.9,108.6 532.1,108.8 532.3,108.8 532.5,109.5 532.8,108.6 533.0,108.7 533.2,108.3 533.4,109.1 533.6,109.0 533.9,109.4 534.1,109.8 534.3,109.2 534.5,108.7 534.8,109.1 535.0,109.1 535.2,109.0 535.4,108.6 535.6,109.1 535.9,108.5 536.1,109.0 536.3,108.9 536.5,108.0 536.8,109.2 537.0,109.8 537.2,108.9 537.4,108.8 537.6,109.4 537.9,108.5 538.1,109.0 538.3,109.1 538.5,108.8 538.8,109.0 539.0,108.7 539.2,108.8 539.4,109.3 539.6,108.7 539.9,108.8 540.1,108.7 540.3,109.2 540.5,108.9 540.8,108.7 541.0,109.1 541.2,108.2 541.4,108.3 541.6,109.1 541.9,109.7 542.1,108.8 542.3,109.1 542.5,108.5 542.8,109.1 543.0,109.1 543.2,109.2 543.4,108.7 543.6,109.8 543.9,108.6 544.1,109.6 544.3,108.6 544.5,109.3 544.8,109.5 545.0,109.9 545.2,109.0 545.4,108.4 545.6,109.4 545.9,108.7 546.1,108.6 546.3,108.8 546.5,108.7 546.8,109.3 547.0,109.1 547.2,109.3 547.4,109.4 547.6,108.9 547.9,109.3 548.1,109.5 548.3,109.8 548.5,109.1 548.8,108.9 549.0,108.7 549.2,108.9 549.4,109.0 549.6,109.1 549.9,108.5 550.1,108.9 550.3,109.0 550.5,108.8 550.8,108.8 551.0,109.2 551.2,108.7 551.4,109.2 551.7,108.6 551.9,109.1 552.1,108.6 552.3,109.5 552.5,109.3 552.8,109.6 553.0,108.7 553.2,108.5 553.4,108.5 553.7,109.0 553.9,109.5 554.1,109.3 554.3,109.3 554.5,108.6 554.8,109.5 555.0,109.3 555.2,108.8 555.4,108.1 555.7,108.8 555.9,109.0 556.1,109.7 556.3,109.2 556.5,109.0 556.8,109.7 557.0,109.7 557.2,109.2 557.4,109.3 557.7,109.6 557.9,108.8 558.1,109.2 558.3,108.9 558.5,108.7 558.8,109.3 559.0,109.5 559.2,109.8 559.4,109.4 559.7,109.5 559.9,109.0 560.1,108.5 560.3,108.8 560.5,109.2 560.8,108.9 561.0,109.8 561.2,109.6 561.4,109.0 561.7,109.8 561.9,109.4 562.1,109.7 562.3,109.0 562.5,109.4 562.8,109.0 563.0,109.1 563.2,109.6 563.4,109.9 563.7,109.2 563.9,109.2 564.1,108.8 564.3,109.0 564.5,109.3 564.8,108.6 565.0,109.0 565.2,108.7 565.4,109.2 565.7,109.5 565.9,109.3 566.1,109.0 566.3,108.7 566.5,108.5 566.8,109.1 567.0,109.7 567.2,109.0 567.4,109.1 567.7,109.0 567.9,108.7 568.1,109.6 568.3,109.4 568.5,108.6 568.8,108.7 569.0,109.7 569.2,108.8 569.4,109.1 569.7,108.8 569.9,109.3 570.1,108.8 570.3,108.9 570.5,108.7 570.8,109.9 571.0,110.2 571.2,109.2 571.4,109.4 571.7,109.4 571.9,109.2 572.1,109.1 572.3,109.0 572.5,109.5 572.8,108.7 573.0,108.8 573.2,109.5 573.4,108.6 573.7,109.8 573.9,109.1 574.1,109.3 574.3,109.7 574.6,109.2 574.8,109.2 575.0,109.0 575.2,109.4 575.4,109.5 575.7,108.9 575.9,109.5 576.1,109.6 576.3,109.4 576.6,108.9 576.8,109.6 577.0,109.7 577.2,109.0 577.4,108.5 577.7,108.9 577.9,109.2 578.1,109.7 578.3,109.7 578.6,109.5 578.8,109.0 579.0,109.5 579.2,109.2 579.4,108.8 579.7,108.5 579.9,109.6 580.1,108.6 580.3,109.7 580.6,110.1 580.8,109.2 581.0,108.9 581.2,109.0 581.4,109.0 581.7,109.4 581.9,109.6 582.1,108.9 582.3,109.1 582.6,109.0 582.8,109.7 583.0,109.6 583.2,108.9 583.4,109.1 583.7,109.3 583.9,108.6 584.1,109.0 584.3,109.3 584.6,108.7 584.8,109.3 585.0,109.3 585.2,109.1 585.4,109.7 585.7,108.9 585.9,109.4 586.1,109.2 586.3,109.7 586.6,109.0 586.8,109.5 587.0,109.5 587.2,109.7 587.4,109.9 587.7,108.7 587.9,109.3 588.1,108.9 588.3,109.7 588.6,109.8 588.8,109.2 589.0,109.4 589.2,109.8 589.4,109.4 589.7,109.3 589.9,108.7 590.1,109.0 590.3,109.7 590.6,108.7 590.8,109.4 591.0,109.4 591.2,109.3 591.4,109.6 591.7,109.0 591.9,109.9 592.1,109.2 592.3,109.7 592.6,109.1 592.8,109.4 593.0,109.2 593.2,110.0 593.4,108.9 593.7,109.1 593.9,109.9 594.1,109.7 594.3,109.3 594.6,109.2 594.8,108.9 595.0,109.2 595.2,109.5 595.4,109.8 595.7,109.7 595.9,109.9 596.1,109.5 596.3,109.1 596.6,109.2 596.8,110.0 597.0,109.4 597.2,109.9 597.4,108.8 597.7,109.2 597.9,109.1 598.1,109.5 598.3,109.1 598.6,108.9 598.8,109.3 599.0,108.5 599.2,109.2 599.5,109.5 599.7,108.9 599.9,109.4 600.1,109.1 600.3,109.3 600.6,109.5 600.8,109.6 601.0,109.6 601.2,109.1 601.5,110.0 601.7,109.5 601.9,109.2 602.1,109.9 602.3,109.3 602.6,110.2 602.8,109.7 603.0,109.4 603.2,109.2 603.5,109.1 603.7,109.1 603.9,109.3 604.1,109.9 604.3,109.5 604.6,109.4 604.8,109.6 605.0,109.3 605.2,109.0 605.5,108.9 605.7,110.0 605.9,109.3 606.1,110.1 606.3,110.2 606.6,109.6 606.8,109.7 607.0,109.3 607.2,109.4 607.5,109.5 607.7,109.5 607.9,110.0 608.1,109.4 608.3,109.8 608.6,109.5 608.8,109.7 609.0,110.2 609.2,108.9 609.5,109.9 609.7,109.2 609.9,109.6 610.1,109.4 610.3,109.3 610.6,109.0 610.8,108.5 611.0,110.3 611.2,109.8 611.5,109.4 611.7,108.8 611.9,109.8 612.1,110.1 612.3,109.7 612.6,108.8 612.8,109.3 613.0,109.6 613.2,109.5 613.5,109.9 613.7,109.1 613.9,109.3 614.1,108.5 614.3,110.0 614.6,109.8 614.8,109.4 615.0,108.8 615.2,109.9 615.5,109.0 615.7,109.0 615.9,108.8 616.1,109.0 616.3,109.2 616.6,109.1 616.8,110.0 617.0,109.8 617.2,109.6 617.5,109.3 617.7,109.5 617.9,109.0 618.1,109.7 618.3,109.2 618.6,109.3 618.8,109.7 619.0,109.2 619.2,109.0 619.5,110.0 619.7,108.9 619.9,109.1 620.1,109.1 620.3,109.3 620.6,109.5 620.8,108.3 621.0,109.4 621.2,110.1 621.5,110.0 621.7,109.9 621.9,109.5 622.1,109.7 622.4,109.4 622.6,108.9 622.8,109.7 623.0,110.0 623.2,109.7 623.5,109.6 623.7,109.9 623.9,109.7 624.1,110.0 624.4,109.4 624.6,108.9 624.8,109.8 625.0,109.9 625.2,109.3 625.5,109.7 625.7,109.9 625.9,108.5 626.1,110.6 626.4,109.9 626.6,109.5 626.8,109.2 627.0,109.0 627.2,110.9 627.5,109.5 627.7,109.9 627.9,109.4 628.1,109.5 628.4,109.9 628.6,109.2 628.8,109.6 629.0,109.5 629.2,109.8 629.5,110.0 629.7,109.6 629.9,110.2 630.1,109.4 630.4,109.5 630.6,109.7 630.8,109.5 631.0,109.9 631.2,108.5 631.5,108.9 631.7,108.8 631.9,110.2 632.1,110.0 632.4,109.4 632.6,109.8 632.8,109.0 633.0,109.5 633.2,110.2 633.5,109.9 633.7,110.5 633.9,109.5 634.1,110.1 634.4,109.7 634.6,109.8 634.8,109.8 635.0,110.0 635.2,110.2 635.5,109.7 635.7,109.8 635.9,109.6 636.1,109.8 636.4,109.4 636.6,110.1 636.8,110.0 637.0,109.8 637.2,109.7 637.5,109.4 637.7,109.3 637.9,109.3 638.1,109.4 638.4,110.1 638.6,109.9 638.8,109.1 639.0,109.3 639.2,110.2 639.5,110.4 639.7,110.0 639.9,110.5 640.1,109.4 640.4,109.9 640.6,109.5 640.8,110.6 641.0,109.9 641.2,109.9 641.5,109.9 641.7,109.5 641.9,109.7 642.1,108.8 642.4,109.6 642.6,109.3 642.8,110.0 643.0,110.3 643.2,109.8 643.5,109.3 643.7,109.3 643.9,110.0 644.1,109.6 644.4,109.7 644.6,109.3 644.8,109.9 645.0,109.8 645.3,110.1 645.5,109.4 645.7,109.8 645.9,109.2 646.1,109.9 646.4,109.8 646.6,109.6 646.8,110.1 647.0,109.3 647.3,110.4 647.5,109.9 647.7,110.0 647.9,109.9 648.1,109.5 648.4,109.6 648.6,110.2 648.8,109.8 649.0,109.9 649.3,109.7 649.5,110.1 649.7,110.0 649.9,109.3 650.1,110.6 650.4,110.2 650.6,110.1 650.8,109.9 651.0,109.8 651.3,110.1 651.5,110.8 651.7,109.8 651.9,109.4 652.1,109.8 652.4,109.8 652.6,110.2 652.8,109.3 653.0,109.6 653.3,109.7 653.5,110.2 653.7,110.2 653.9,109.9 654.1,110.2 654.4,109.9 654.6,109.9 654.8,108.9 655.0,109.5 655.3,109.4 655.5,110.0 655.7,109.9 655.9,109.4 656.1,109.8 656.4,109.8 656.6,110.0 656.8,109.6 657.0,109.6 657.3,110.3 657.5,109.7 657.7,110.2 657.9,109.5 658.1,109.7 658.4,109.7 658.6,109.5 658.8,110.1 659.0,109.3 659.3,109.9 659.5,109.0 659.7,110.1 659.9,109.9 660.1,110.3 660.4,110.6 660.6,109.6 660.8,109.9 661.0,109.4 661.3,109.7 661.5,109.9 661.7,109.9 661.9,110.2 662.1,110.0 662.4,110.2 662.6,109.6 662.8,109.9 663.0,109.5 663.3,109.8 663.5,108.8 663.7,109.8 663.9,109.9 664.1,109.7 664.4,109.7 664.6,109.2 664.8,109.6 665.0,109.6 665.3,110.0 665.5,110.0 665.7,109.7 665.9,109.8 666.1,110.0 666.4,109.5 666.6,110.3 666.8,110.6 667.0,110.0 667.3,109.7 667.5,110.0 667.7,110.3 667.9,110.4 668.2,109.4 668.4,110.0 668.6,109.6 668.8,109.7 669.0,110.0 669.3,110.1 669.5,109.8 669.7,109.6 669.9,109.8 670.2,109.5 670.4,110.6 670.6,109.3 670.8,110.1 671.0,109.9 671.3,109.9 671.5,109.5 671.7,109.7 671.9,109.8 672.2,109.7 672.4,109.8 672.6,110.0 672.8,109.7 673.0,110.1 673.3,110.2 673.5,109.7 673.7,110.2 673.9,109.9 674.2,109.7 674.4,110.1 674.6,110.3 674.8,109.8 675.0,109.2 675.3,110.2 675.5,110.3 675.7,109.5 675.9,109.9 676.2,110.1 676.4,109.1 676.6,110.2 676.8,110.2 677.0,110.2 677.3,110.5 677.5,109.6 677.7,110.3 677.9,110.8 678.2,109.1 678.4,109.8 678.6,110.2 678.8,109.7 679.0,109.3 679.3,110.1 679.5,110.0 679.7,109.7 679.9,110.0 680.2,110.3 680.4,110.3 680.6,110.1 680.8,109.5 681.0,109.8 681.3,109.1 681.5,109.6 681.7,110.0 681.9,110.2 682.2,110.0 682.4,110.0 682.6,109.2 682.8,109.5 683.0,109.5 683.3,109.7 683.5,109.7 683.7,110.8 683.9,110.3 684.2,109.6 684.4,109.7 684.6,109.8 684.8,109.8 685.0,109.8 685.3,109.2 685.5,110.4 685.7,110.2 685.9,110.2 686.2,110.0 686.4,110.2 686.6,109.9 686.8,109.3 687.0,110.0 687.3,110.0 687.5,109.5 687.7,109.2 687.9,110.4 688.2,109.6 688.4,109.9 688.6,109.7 688.8,110.6 689.0,109.4 689.3,110.4 689.5,109.1 689.7,110.3 689.9,109.8 690.2,109.2 690.4,110.0 690.6,110.0 690.8,109.4 691.1,110.1 691.3,110.0 691.5,110.2 691.7,109.5 691.9,109.7 692.2,109.7 692.4,110.1 692.6,109.8 692.8,109.7 693.1,110.5 693.3,109.8 693.5,110.4 693.7,110.3 693.9,109.8 694.2,109.4 694.4,110.1 694.6,110.3 694.8,110.5 695.1,110.2 695.3,110.2 695.5,109.8 695.7,109.8 695.9,111.2 696.2,110.5 696.4,109.6 696.6,110.2 696.8,110.2 697.1,109.4 697.3,109.9 697.5,110.3 697.7,110.7 697.9,110.7 698.2,109.9 698.4,109.9 698.6,109.9 698.8,110.1 699.1,110.4 699.3,109.7 699.5,110.0 699.7,109.9 699.9,109.8 700.2,109.9 700.4,110.7 700.6,110.7 700.8,110.6 701.1,109.5 701.3,110.2 701.5,111.0 701.7,110.2 701.9,109.8 702.2,110.3 702.4,110.0 702.6,109.9 702.8,110.2 703.1,110.3 703.3,110.0 703.5,110.1 703.7,109.7 703.9,110.1 704.2,110.4 704.4,110.1 704.6,110.0 704.8,109.6 705.1,110.5 705.3,109.7 705.5,110.4 705.7,110.0 705.9,110.4 706.2,110.5 706.4,110.0 706.6,109.0 706.8,109.4 707.1,109.8 707.3,109.8 707.5,110.2 707.7,110.9 707.9,110.4 708.2,110.1 708.4,110.6 708.6,110.1 708.8,110.4 709.1,110.3 709.3,109.4 709.5,110.5 709.7,110.8 709.9,110.0 710.2,110.4 710.4,110.3 710.6,110.0 710.8,110.0 711.1,110.5 711.3,109.9 711.5,110.0 711.7,110.5 711.9,110.5 712.2,110.7 712.4,109.9 712.6,109.7 712.8,110.6 713.1,109.6 713.3,110.0 713.5,110.1 713.7,110.8 714.0,110.2 714.2,109.7 714.4,110.2 714.6,110.7 714.8,109.5 715.1,109.7 715.3,110.6 715.5,110.2 715.7,109.8 716.0,110.1 716.2,110.2 716.4,109.8 716.6,110.0 716.8,110.7 717.1,110.3 717.3,110.6 717.5,110.2 717.7,110.0 718.0,110.3 718.2,109.9 718.4,110.3 718.6,110.1 718.8,110.1 719.1,110.1 719.3,109.9 719.5,110.7 719.7,109.7 720.0,110.3 720.2,109.8 720.4,110.5 720.6,110.1 720.8,110.3 721.1,110.4 721.3,110.3 721.5,110.3 721.7,110.4 722.0,110.3 722.2,110.1 722.4,110.1 722.6,110.1 722.8,110.0 723.1,110.0 723.3,110.7 723.5,109.7 723.7,110.8 724.0,110.0 724.2,110.5 724.4,110.2 724.6,110.2 724.8,110.4 725.1,110.9 725.3,110.2 725.5,110.2 725.7,110.1 726.0,111.0 726.2,110.7 726.4,110.7 726.6,110.3 726.8,109.6 727.1,110.4 727.3,109.6 727.5,110.0 727.7,110.6 728.0,110.1 728.2,110.0 728.4,109.5 728.6,110.5 728.8,110.4 729.1,110.1 729.3,110.4 729.5,109.7 729.7,109.9 730.0,110.3 730.2,110.6 730.4,110.3 730.6,109.8 730.8,110.1 731.1,110.7 731.3,110.1 731.5,110.4 731.7,110.4 732.0,110.1 732.2,110.3 732.4,109.7 732.6,110.1 732.8,110.3 733.1,110.5 733.3,110.8 733.5,110.1 733.7,110.5 734.0,110.3 734.2,110.0 734.4,110.0 734.6,110.3 734.8,110.3 735.1,110.0 735.3,111.3 735.5,110.3 735.7,110.5 736.0,110.2 736.2,111.3 736.4,109.5 736.6,110.2 736.9,110.4 737.1,110.7 737.3,110.3 737.5,110.0 737.7,110.9 738.0,110.6 738.2,110.2 738.4,110.2 738.6,110.2 738.9,110.4 739.1,109.7 739.3,110.4 739.5,110.1 739.7,110.5 740.0,110.5 740.2,110.0 740.4,110.8 740.6,110.6 740.9,110.0 741.1,110.0 741.3,110.1 741.5,110.5 741.7,110.8 742.0,110.0 742.2,110.1 742.4,110.5 742.6,110.3 742.9,110.3 743.1,110.3 743.3,110.2 743.5,111.0 743.7,110.7 744.0,110.2 744.2,110.8 744.4,111.0 744.6,110.5 744.9,110.5 745.1,110.2 745.3,110.4 745.5,110.5 745.7,110.8 746.0,110.0 746.2,109.8 746.4,110.2 746.6,110.5 746.9,109.7 747.1,110.3 747.3,110.1" fill="none" stroke="#ff3000" stroke-width="0.9" stroke-opacity="0.62" stroke-linejoin="round"/>
</g>
<g><line x1="103.66" y1="580.95" x2="103.66" y2="577.75" class="tk"/>
<line x1="136.49" y1="580.95" x2="136.49" y2="579.25" class="tk"/>
<line x1="169.33" y1="580.95" x2="169.33" y2="579.25" class="tk"/>
<line x1="202.16" y1="580.95" x2="202.16" y2="579.25" class="tk"/>
<line x1="235.00" y1="580.95" x2="235.00" y2="577.75" class="tk"/>
<line x1="267.83" y1="580.95" x2="267.83" y2="579.25" class="tk"/>
<line x1="300.66" y1="580.95" x2="300.66" y2="579.25" class="tk"/>
<line x1="333.50" y1="580.95" x2="333.50" y2="579.25" class="tk"/>
<line x1="366.33" y1="580.95" x2="366.33" y2="577.75" class="tk"/>
<line x1="399.17" y1="580.95" x2="399.17" y2="579.25" class="tk"/>
<line x1="432.00" y1="580.95" x2="432.00" y2="579.25" class="tk"/>
<line x1="464.83" y1="580.95" x2="464.83" y2="579.25" class="tk"/>
<line x1="497.67" y1="580.95" x2="497.67" y2="577.75" class="tk"/>
<line x1="530.50" y1="580.95" x2="530.50" y2="579.25" class="tk"/>
<line x1="563.34" y1="580.95" x2="563.34" y2="579.25" class="tk"/>
<line x1="596.17" y1="580.95" x2="596.17" y2="579.25" class="tk"/>
<line x1="629.00" y1="580.95" x2="629.00" y2="577.75" class="tk"/>
<line x1="661.84" y1="580.95" x2="661.84" y2="579.25" class="tk"/>
<line x1="694.67" y1="580.95" x2="694.67" y2="579.25" class="tk"/>
<line x1="727.51" y1="580.95" x2="727.51" y2="579.25" class="tk"/>
<line x1="103.66" y1="568.25" x2="105.36" y2="568.25" class="tk"/>
<line x1="103.66" y1="553.83" x2="105.36" y2="553.83" class="tk"/>
<line x1="103.66" y1="539.41" x2="105.36" y2="539.41" class="tk"/>
<line x1="103.66" y1="525.00" x2="106.86" y2="525.00" class="tk"/>
<line x1="103.66" y1="510.58" x2="105.36" y2="510.58" class="tk"/>
<line x1="103.66" y1="496.16" x2="105.36" y2="496.16" class="tk"/>
<line x1="103.66" y1="481.75" x2="105.36" y2="481.75" class="tk"/>
<line x1="103.66" y1="467.33" x2="105.36" y2="467.33" class="tk"/>
<line x1="103.66" y1="452.92" x2="106.86" y2="452.92" class="tk"/>
<line x1="103.66" y1="438.50" x2="105.36" y2="438.50" class="tk"/>
<line x1="103.66" y1="424.08" x2="105.36" y2="424.08" class="tk"/>
<line x1="103.66" y1="409.67" x2="105.36" y2="409.67" class="tk"/>
<line x1="103.66" y1="395.25" x2="105.36" y2="395.25" class="tk"/>
<line x1="103.66" y1="380.83" x2="106.86" y2="380.83" class="tk"/>
<line x1="103.66" y1="366.42" x2="105.36" y2="366.42" class="tk"/>
<line x1="103.66" y1="352.00" x2="105.36" y2="352.00" class="tk"/>
<line x1="103.66" y1="337.58" x2="105.36" y2="337.58" class="tk"/>
<line x1="103.66" y1="323.17" x2="105.36" y2="323.17" class="tk"/>
<line x1="103.66" y1="308.75" x2="106.86" y2="308.75" class="tk"/>
<line x1="103.66" y1="294.33" x2="105.36" y2="294.33" class="tk"/>
<line x1="103.66" y1="279.92" x2="105.36" y2="279.92" class="tk"/>
<line x1="103.66" y1="265.50" x2="105.36" y2="265.50" class="tk"/>
<line x1="103.66" y1="251.08" x2="105.36" y2="251.08" class="tk"/>
<line x1="103.66" y1="236.67" x2="106.86" y2="236.67" class="tk"/>
<line x1="103.66" y1="222.25" x2="105.36" y2="222.25" class="tk"/>
<line x1="103.66" y1="207.83" x2="105.36" y2="207.83" class="tk"/>
<line x1="103.66" y1="193.42" x2="105.36" y2="193.42" class="tk"/>
<line x1="103.66" y1="179.00" x2="105.36" y2="179.00" class="tk"/>
<line x1="103.66" y1="164.58" x2="106.86" y2="164.58" class="tk"/>
<line x1="103.66" y1="150.17" x2="105.36" y2="150.17" class="tk"/>
<line x1="103.66" y1="135.75" x2="105.36" y2="135.75" class="tk"/>
<line x1="103.66" y1="121.33" x2="105.36" y2="121.33" class="tk"/>
<line x1="103.66" y1="106.92" x2="105.36" y2="106.92" class="tk"/>
<line x1="103.66" y1="92.50" x2="106.86" y2="92.50" class="tk"/></g>
<path d="M103.66,79.7 V580.95 H747.3" fill="none" stroke="#333" stroke-width="1.1" stroke-linecap="square"/>
<g><text x="103.66" y="596.1" text-anchor="middle">0</text>
<text x="235.00" y="596.1" text-anchor="middle" textLength="43.5">2000</text>
<text x="366.33" y="596.1" text-anchor="middle" textLength="43.5">4000</text>
<text x="497.67" y="596.1" text-anchor="middle" textLength="43.5">6000</text>
<text x="629.00" y="596.1" text-anchor="middle" textLength="43.5">8000</text>
<text x="100.7" y="531.60" text-anchor="end">0.4</text>
<text x="100.7" y="459.52" text-anchor="end">0.5</text>
<text x="100.7" y="387.43" text-anchor="end">0.6</text>
<text x="100.7" y="315.35" text-anchor="end">0.7</text>
<text x="100.7" y="243.27" text-anchor="end">0.8</text>
<text x="100.7" y="171.18" text-anchor="end">0.9</text>
<text x="100.7" y="99.10" text-anchor="end">1.0</text>
<text x="425.8" y="616.1" text-anchor="middle" textLength="112.7">Training Step</text>
<text transform="translate(66.9,330.4) rotate(-90)" text-anchor="middle" textLength="161.3">Embedding Spread</text></g>
<g><rect x="514.4" y="393.5" width="224.1" height="178.8" rx="2.6" ry="2.6" fill="#fff" fill-opacity="0.8" stroke="#ccc" stroke-opacity="0.8" stroke-width="1.1"/>
<line x1="520.3" y1="407.60" x2="555" y2="407.60" stroke="#000080" stroke-width="1.3"/>
<text x="568.1" y="413.30" textLength="163.56">amazon-computers</text>
<line x1="520.3" y1="432.25" x2="555" y2="432.25" stroke="#0010ff" stroke-width="1.3"/>
<text x="568.1" y="437.95" textLength="131.76">amazon-photos</text>
<line x1="520.3" y1="456.90" x2="555" y2="456.90" stroke="#00a4ff" stroke-width="1.3"/>
<text x="568.1" y="462.60" textLength="99.53">coauthor-cs</text>
<line x1="520.3" y1="481.55" x2="555" y2="481.55" stroke="#40ffb7" stroke-width="1.3"/>
<text x="568.1" y="487.25" textLength="112.67">coauthor-phy</text>
<line x1="520.3" y1="506.20" x2="555" y2="506.20" stroke="#b7ff40" stroke-width="1.3"/>
<text x="568.1" y="511.90" textLength="57.58">wiki-cs</text>
<line x1="520.3" y1="530.85" x2="555" y2="530.85" stroke="#ffb900" stroke-width="1.3"/>
<text x="568.1" y="536.55" textLength="91.76">ogbn-arXiv</text>
<line x1="520.3" y1="555.50" x2="555" y2="555.50" stroke="#ff3000" stroke-width="1.3"/>
<text x="568.1" y="561.20" textLength="26.52">PPI</text></g>
</svg>
</body></html>
